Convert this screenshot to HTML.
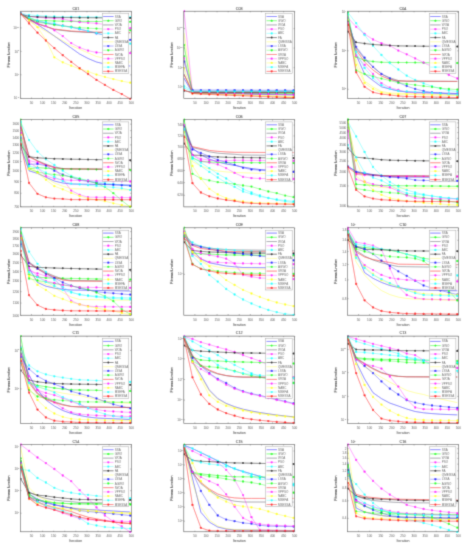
<!DOCTYPE html><html><head><meta charset="utf-8"><style>html,body{margin:0;padding:0;background:#fff;}svg{display:block;}text{font-family:"Liberation Sans",Arial,sans-serif;}</style></head><body>
<svg width="469" height="550" viewBox="0 0 469 550" font-family="Liberation Sans, Arial, sans-serif"><style>text{stroke:#333;stroke-width:0.05;}text.t{stroke:none;}text.f{stroke-width:0.12;}</style>
<defs><filter id="bl" filterUnits="userSpaceOnUse" x="0" y="0" width="469" height="550"><feConvolveMatrix order="3" kernelMatrix="0.0225 0.1050 0.0225 0.1050 0.4900 0.1050 0.0225 0.1050 0.0225" edgeMode="duplicate"/></filter></defs>
<g filter="url(#bl)">
<rect width="469" height="550" fill="#fff"/>
<g><clipPath id="cp0"><rect x="20.4" y="9.7" width="112.4" height="90.4"/></clipPath><text x="75.85" y="9.5" font-size="3.75" fill="#333" text-anchor="middle">C01</text><line x1="31.49" y1="98.6" x2="31.49" y2="97.5" stroke="#3a3a3a" stroke-width="0.4"/><line x1="31.49" y1="11.2" x2="31.49" y2="12.3" stroke="#3a3a3a" stroke-width="0.4"/><text x="31.49" y="103.9" font-size="3.1" fill="#555" class="t" text-anchor="middle">50</text><line x1="42.58" y1="98.6" x2="42.58" y2="97.5" stroke="#3a3a3a" stroke-width="0.4"/><line x1="42.58" y1="11.2" x2="42.58" y2="12.3" stroke="#3a3a3a" stroke-width="0.4"/><text x="42.58" y="103.9" font-size="3.1" fill="#555" class="t" text-anchor="middle">100</text><line x1="53.67" y1="98.6" x2="53.67" y2="97.5" stroke="#3a3a3a" stroke-width="0.4"/><line x1="53.67" y1="11.2" x2="53.67" y2="12.3" stroke="#3a3a3a" stroke-width="0.4"/><text x="53.67" y="103.9" font-size="3.1" fill="#555" class="t" text-anchor="middle">150</text><line x1="64.76" y1="98.6" x2="64.76" y2="97.5" stroke="#3a3a3a" stroke-width="0.4"/><line x1="64.76" y1="11.2" x2="64.76" y2="12.3" stroke="#3a3a3a" stroke-width="0.4"/><text x="64.76" y="103.9" font-size="3.1" fill="#555" class="t" text-anchor="middle">200</text><line x1="75.85" y1="98.6" x2="75.85" y2="97.5" stroke="#3a3a3a" stroke-width="0.4"/><line x1="75.85" y1="11.2" x2="75.85" y2="12.3" stroke="#3a3a3a" stroke-width="0.4"/><text x="75.85" y="103.9" font-size="3.1" fill="#555" class="t" text-anchor="middle">250</text><line x1="86.94" y1="98.6" x2="86.94" y2="97.5" stroke="#3a3a3a" stroke-width="0.4"/><line x1="86.94" y1="11.2" x2="86.94" y2="12.3" stroke="#3a3a3a" stroke-width="0.4"/><text x="86.94" y="103.9" font-size="3.1" fill="#555" class="t" text-anchor="middle">300</text><line x1="98.03" y1="98.6" x2="98.03" y2="97.5" stroke="#3a3a3a" stroke-width="0.4"/><line x1="98.03" y1="11.2" x2="98.03" y2="12.3" stroke="#3a3a3a" stroke-width="0.4"/><text x="98.03" y="103.9" font-size="3.1" fill="#555" class="t" text-anchor="middle">350</text><line x1="109.12" y1="98.6" x2="109.12" y2="97.5" stroke="#3a3a3a" stroke-width="0.4"/><line x1="109.12" y1="11.2" x2="109.12" y2="12.3" stroke="#3a3a3a" stroke-width="0.4"/><text x="109.12" y="103.9" font-size="3.1" fill="#555" class="t" text-anchor="middle">400</text><line x1="120.21" y1="98.6" x2="120.21" y2="97.5" stroke="#3a3a3a" stroke-width="0.4"/><line x1="120.21" y1="11.2" x2="120.21" y2="12.3" stroke="#3a3a3a" stroke-width="0.4"/><text x="120.21" y="103.9" font-size="3.1" fill="#555" class="t" text-anchor="middle">450</text><line x1="131.3" y1="98.6" x2="131.3" y2="97.5" stroke="#3a3a3a" stroke-width="0.4"/><line x1="131.3" y1="11.2" x2="131.3" y2="12.3" stroke="#3a3a3a" stroke-width="0.4"/><text x="131.3" y="103.9" font-size="3.1" fill="#555" class="t" text-anchor="middle">500</text><text x="75.85" y="108.9" font-size="3.6" fill="#333" class="t" text-anchor="middle">Iteration</text><text transform="translate(9.6 54.9) rotate(-90)" font-size="3.6" fill="#333" class="f" text-anchor="middle">Fitness function</text><line x1="20.4" y1="27.9" x2="21.5" y2="27.9" stroke="#3a3a3a" stroke-width="0.4"/><line x1="131.3" y1="27.9" x2="130.2" y2="27.9" stroke="#3a3a3a" stroke-width="0.4"/><text x="19.2" y="29" font-size="3.1" fill="#555" class="t" text-anchor="end">10<tspan dy="-1.3" font-size="2.2">10</tspan></text><line x1="20.4" y1="51.4" x2="21.5" y2="51.4" stroke="#3a3a3a" stroke-width="0.4"/><line x1="131.3" y1="51.4" x2="130.2" y2="51.4" stroke="#3a3a3a" stroke-width="0.4"/><text x="19.2" y="52.5" font-size="3.1" fill="#555" class="t" text-anchor="end">10<tspan dy="-1.3" font-size="2.2">5</tspan></text><line x1="20.4" y1="74.8" x2="21.5" y2="74.8" stroke="#3a3a3a" stroke-width="0.4"/><line x1="131.3" y1="74.8" x2="130.2" y2="74.8" stroke="#3a3a3a" stroke-width="0.4"/><text x="19.2" y="75.9" font-size="3.1" fill="#555" class="t" text-anchor="end">10<tspan dy="-1.3" font-size="2.2">0</tspan></text><line x1="20.4" y1="98.3" x2="21.5" y2="98.3" stroke="#3a3a3a" stroke-width="0.4"/><line x1="131.3" y1="98.3" x2="130.2" y2="98.3" stroke="#3a3a3a" stroke-width="0.4"/><text x="19.2" y="99.4" font-size="3.1" fill="#555" class="t" text-anchor="end">10<tspan dy="-1.3" font-size="2.2">-5</tspan></text><g clip-path="url(#cp0)" fill="none" stroke-linejoin="round"><polyline points="20.62,13.9 29.05,19.5 37.48,24.5 45.91,30 54.34,36 62.76,42 71.19,48 79.62,54 88.05,58.5 96.48,62 104.91,64 113.33,65 121.76,65.5 130.19,66" stroke="#0000ff" stroke-width="0.55" stroke-opacity="0.9"/><polyline points="20.62,14 29.05,18 37.48,20.5 45.91,20.7 54.34,20.95 62.76,21.2 71.19,21.26 79.62,21.32 88.05,21.39 96.48,21.45 104.91,21.51 113.33,21.57 121.76,21.64 130.19,21.7" stroke="#00ff00" stroke-width="0.55" stroke-opacity="0.9"/><path d="M19.07 14l1.55 -1.24l1.55 1.24l-1.55 1.24z" fill="#00ff00"/><path d="M27.5 18l1.55 -1.24l1.55 1.24l-1.55 1.24z" fill="#00ff00"/><path d="M35.93 20.5l1.55 -1.24l1.55 1.24l-1.55 1.24z" fill="#00ff00"/><path d="M44.35 20.7l1.55 -1.24l1.55 1.24l-1.55 1.24z" fill="#00ff00"/><path d="M52.78 20.95l1.55 -1.24l1.55 1.24l-1.55 1.24z" fill="#00ff00"/><path d="M61.21 21.2l1.55 -1.24l1.55 1.24l-1.55 1.24z" fill="#00ff00"/><path d="M69.64 21.26l1.55 -1.24l1.55 1.24l-1.55 1.24z" fill="#00ff00"/><path d="M78.07 21.32l1.55 -1.24l1.55 1.24l-1.55 1.24z" fill="#00ff00"/><path d="M86.5 21.39l1.55 -1.24l1.55 1.24l-1.55 1.24z" fill="#00ff00"/><path d="M94.92 21.45l1.55 -1.24l1.55 1.24l-1.55 1.24z" fill="#00ff00"/><path d="M103.35 21.51l1.55 -1.24l1.55 1.24l-1.55 1.24z" fill="#00ff00"/><path d="M111.78 21.57l1.55 -1.24l1.55 1.24l-1.55 1.24z" fill="#00ff00"/><path d="M120.21 21.64l1.55 -1.24l1.55 1.24l-1.55 1.24z" fill="#00ff00"/><path d="M128.64 21.7l1.55 -1.24l1.55 1.24l-1.55 1.24z" fill="#00ff00"/><polyline points="20.62,14 29.05,18.75 37.48,23.5 45.91,26.5 54.34,29.5 62.76,30.5 71.19,31.5 79.62,32 88.05,32.5 96.48,32.6 104.91,32.7 113.33,32.8 121.76,32.9 130.19,33" stroke="#505060" stroke-width="0.55" stroke-opacity="0.9"/><polyline points="20.62,13.5 29.05,16.5 37.48,17.25 45.91,18 54.34,18.5 62.76,19 71.19,20.6 79.62,22.2 88.05,22.8 96.48,23.4 104.91,24.45 113.33,25.5 121.76,26.95 130.19,28.4" stroke="#ff00ff" stroke-width="0.55" stroke-opacity="0.65"/><circle cx="20.62" cy="13.5" r="1.15" fill="#ff00ff"/><circle cx="29.05" cy="16.5" r="1.15" fill="#ff00ff"/><circle cx="37.48" cy="17.25" r="1.15" fill="#ff00ff"/><circle cx="45.91" cy="18" r="1.15" fill="#ff00ff"/><circle cx="54.34" cy="18.5" r="1.15" fill="#ff00ff"/><circle cx="62.76" cy="19" r="1.15" fill="#ff00ff"/><circle cx="71.19" cy="20.6" r="1.15" fill="#ff00ff"/><circle cx="79.62" cy="22.2" r="1.15" fill="#ff00ff"/><circle cx="88.05" cy="22.8" r="1.15" fill="#ff00ff"/><circle cx="96.48" cy="23.4" r="1.15" fill="#ff00ff"/><circle cx="104.91" cy="24.45" r="1.15" fill="#ff00ff"/><circle cx="113.33" cy="25.5" r="1.15" fill="#ff00ff"/><circle cx="121.76" cy="26.95" r="1.15" fill="#ff00ff"/><circle cx="130.19" cy="28.4" r="1.15" fill="#ff00ff"/><polyline points="20.62,13.3 29.05,14.8 37.48,15.6 45.91,16.2 54.34,16.5 62.76,16.8 71.19,16.86 79.62,16.93 88.05,16.99 96.48,17.05 104.91,17.11 113.33,17.18 121.76,17.24 130.19,17.3" stroke="#00ffff" stroke-width="0.55" stroke-opacity="0.65"/><circle cx="20.62" cy="13.3" r="1.15" fill="#00ffff"/><circle cx="29.05" cy="14.8" r="1.15" fill="#00ffff"/><circle cx="37.48" cy="15.6" r="1.15" fill="#00ffff"/><circle cx="45.91" cy="16.2" r="1.15" fill="#00ffff"/><circle cx="54.34" cy="16.5" r="1.15" fill="#00ffff"/><circle cx="62.76" cy="16.8" r="1.15" fill="#00ffff"/><circle cx="71.19" cy="16.86" r="1.15" fill="#00ffff"/><circle cx="79.62" cy="16.93" r="1.15" fill="#00ffff"/><circle cx="88.05" cy="16.99" r="1.15" fill="#00ffff"/><circle cx="96.48" cy="17.05" r="1.15" fill="#00ffff"/><circle cx="104.91" cy="17.11" r="1.15" fill="#00ffff"/><circle cx="113.33" cy="17.18" r="1.15" fill="#00ffff"/><circle cx="121.76" cy="17.24" r="1.15" fill="#00ffff"/><circle cx="130.19" cy="17.3" r="1.15" fill="#00ffff"/><polyline points="20.62,14.2 29.05,16.4 37.48,16.9 45.91,17.2 54.34,17.5 62.76,17.56 71.19,17.61 79.62,17.67 88.05,17.72 96.48,17.78 104.91,17.83 113.33,17.89 121.76,17.94 130.19,18" stroke="#000000" stroke-width="0.55" stroke-opacity="0.9"/><circle cx="20.62" cy="14.2" r="0.98" fill="#000000"/><circle cx="29.05" cy="16.4" r="0.98" fill="#000000"/><circle cx="37.48" cy="16.9" r="0.98" fill="#000000"/><circle cx="45.91" cy="17.2" r="0.98" fill="#000000"/><circle cx="54.34" cy="17.5" r="0.98" fill="#000000"/><circle cx="62.76" cy="17.56" r="0.98" fill="#000000"/><circle cx="71.19" cy="17.61" r="0.98" fill="#000000"/><circle cx="79.62" cy="17.67" r="0.98" fill="#000000"/><circle cx="88.05" cy="17.72" r="0.98" fill="#000000"/><circle cx="96.48" cy="17.78" r="0.98" fill="#000000"/><circle cx="104.91" cy="17.83" r="0.98" fill="#000000"/><circle cx="113.33" cy="17.89" r="0.98" fill="#000000"/><circle cx="121.76" cy="17.94" r="0.98" fill="#000000"/><circle cx="130.19" cy="18" r="0.98" fill="#000000"/><polyline points="20.62,14 29.05,20.1 37.48,26.5 45.91,31.25 54.34,36 62.76,40.8 71.19,45.6 79.62,49.23 88.05,52.87 96.48,56.5 104.91,58.25 113.33,60 121.76,61 130.19,62" stroke="#ffff00" stroke-width="0.55" stroke-opacity="0.65"/><polyline points="20.62,13.7 29.05,19.5 37.48,21.25 45.91,23 54.34,24.33 62.76,25.67 71.19,27 79.62,29.2 88.05,31.1 96.48,33.4 104.91,35.2 113.33,37 121.76,38.4 130.19,39.8" stroke="#0000ff" stroke-width="0.55" stroke-opacity="0.65"/><circle cx="20.62" cy="13.7" r="1.15" fill="#0000ff"/><circle cx="29.05" cy="19.5" r="1.15" fill="#0000ff"/><circle cx="37.48" cy="21.25" r="1.15" fill="#0000ff"/><circle cx="45.91" cy="23" r="1.15" fill="#0000ff"/><circle cx="54.34" cy="24.33" r="1.15" fill="#0000ff"/><circle cx="62.76" cy="25.67" r="1.15" fill="#0000ff"/><circle cx="71.19" cy="27" r="1.15" fill="#0000ff"/><circle cx="79.62" cy="29.2" r="1.15" fill="#0000ff"/><circle cx="88.05" cy="31.1" r="1.15" fill="#0000ff"/><circle cx="96.48" cy="33.4" r="1.15" fill="#0000ff"/><circle cx="104.91" cy="35.2" r="1.15" fill="#0000ff"/><circle cx="113.33" cy="37" r="1.15" fill="#0000ff"/><circle cx="121.76" cy="38.4" r="1.15" fill="#0000ff"/><circle cx="130.19" cy="39.8" r="1.15" fill="#0000ff"/><polyline points="20.62,14 29.05,19 37.48,22 45.91,23.5 54.34,25 62.76,26 71.19,27 79.62,27.7 88.05,28.15 96.48,28.6 104.91,29.03 113.33,29.45 121.76,29.88 130.19,30.3" stroke="#00ff00" stroke-width="0.55" stroke-opacity="0.65"/><circle cx="20.62" cy="14" r="1.15" fill="#00ff00"/><circle cx="29.05" cy="19" r="1.15" fill="#00ff00"/><circle cx="37.48" cy="22" r="1.15" fill="#00ff00"/><circle cx="45.91" cy="23.5" r="1.15" fill="#00ff00"/><circle cx="54.34" cy="25" r="1.15" fill="#00ff00"/><circle cx="62.76" cy="26" r="1.15" fill="#00ff00"/><circle cx="71.19" cy="27" r="1.15" fill="#00ff00"/><circle cx="79.62" cy="27.7" r="1.15" fill="#00ff00"/><circle cx="88.05" cy="28.15" r="1.15" fill="#00ff00"/><circle cx="96.48" cy="28.6" r="1.15" fill="#00ff00"/><circle cx="104.91" cy="29.03" r="1.15" fill="#00ff00"/><circle cx="113.33" cy="29.45" r="1.15" fill="#00ff00"/><circle cx="121.76" cy="29.88" r="1.15" fill="#00ff00"/><circle cx="130.19" cy="30.3" r="1.15" fill="#00ff00"/><polyline points="20.62,13.7 29.05,18.85 37.48,24 45.91,26.5 54.34,29 62.76,30 71.19,31 79.62,31.5 88.05,32 96.48,32.1 104.91,32.2 113.33,32.3 121.76,32.4 130.19,32.5" stroke="#ff0000" stroke-width="0.55" stroke-opacity="0.9"/><polyline points="20.62,14 29.05,20.7 37.48,23.3 45.91,26 54.34,30.3 62.76,36.1 71.19,43.1 79.62,47.6 88.05,50.6 96.48,52.5 104.91,52.75 113.33,53 121.76,53.1 130.19,53.2" stroke="#ff00ff" stroke-width="0.55" stroke-opacity="0.65"/><circle cx="20.62" cy="14" r="1.15" fill="#ff00ff"/><circle cx="29.05" cy="20.7" r="1.15" fill="#ff00ff"/><circle cx="37.48" cy="23.3" r="1.15" fill="#ff00ff"/><circle cx="45.91" cy="26" r="1.15" fill="#ff00ff"/><circle cx="54.34" cy="30.3" r="1.15" fill="#ff00ff"/><circle cx="62.76" cy="36.1" r="1.15" fill="#ff00ff"/><circle cx="71.19" cy="43.1" r="1.15" fill="#ff00ff"/><circle cx="79.62" cy="47.6" r="1.15" fill="#ff00ff"/><circle cx="88.05" cy="50.6" r="1.15" fill="#ff00ff"/><circle cx="96.48" cy="52.5" r="1.15" fill="#ff00ff"/><circle cx="104.91" cy="52.75" r="1.15" fill="#ff00ff"/><circle cx="113.33" cy="53" r="1.15" fill="#ff00ff"/><circle cx="121.76" cy="53.1" r="1.15" fill="#ff00ff"/><circle cx="130.19" cy="53.2" r="1.15" fill="#ff00ff"/><polyline points="20.62,13.9 29.05,20.5 37.48,27.2 45.91,39.8 54.34,57.3 62.76,62.3 71.19,65.7 79.62,69 88.05,71.5 96.48,74.6 104.91,76.9 113.33,79.1 121.76,81.1 130.19,82.7" stroke="#ffff00" stroke-width="0.55" stroke-opacity="0.65"/><circle cx="20.62" cy="13.9" r="1.15" fill="#ffff00"/><circle cx="29.05" cy="20.5" r="1.15" fill="#ffff00"/><circle cx="37.48" cy="27.2" r="1.15" fill="#ffff00"/><circle cx="45.91" cy="39.8" r="1.15" fill="#ffff00"/><circle cx="54.34" cy="57.3" r="1.15" fill="#ffff00"/><circle cx="62.76" cy="62.3" r="1.15" fill="#ffff00"/><circle cx="71.19" cy="65.7" r="1.15" fill="#ffff00"/><circle cx="79.62" cy="69" r="1.15" fill="#ffff00"/><circle cx="88.05" cy="71.5" r="1.15" fill="#ffff00"/><circle cx="96.48" cy="74.6" r="1.15" fill="#ffff00"/><circle cx="104.91" cy="76.9" r="1.15" fill="#ffff00"/><circle cx="113.33" cy="79.1" r="1.15" fill="#ffff00"/><circle cx="121.76" cy="81.1" r="1.15" fill="#ffff00"/><circle cx="130.19" cy="82.7" r="1.15" fill="#ffff00"/><polyline points="20.62,13.7 29.05,17.5 37.48,20.5 45.91,22.3 54.34,23.3 62.76,26 71.19,27.5 79.62,29 88.05,31 96.48,33 104.91,35.5 113.33,38 121.76,40.85 130.19,43.7" stroke="#00ffff" stroke-width="0.55" stroke-opacity="0.65"/><circle cx="20.62" cy="13.7" r="1.15" fill="#00ffff"/><circle cx="29.05" cy="17.5" r="1.15" fill="#00ffff"/><circle cx="37.48" cy="20.5" r="1.15" fill="#00ffff"/><circle cx="45.91" cy="22.3" r="1.15" fill="#00ffff"/><circle cx="54.34" cy="23.3" r="1.15" fill="#00ffff"/><circle cx="62.76" cy="26" r="1.15" fill="#00ffff"/><circle cx="71.19" cy="27.5" r="1.15" fill="#00ffff"/><circle cx="79.62" cy="29" r="1.15" fill="#00ffff"/><circle cx="88.05" cy="31" r="1.15" fill="#00ffff"/><circle cx="96.48" cy="33" r="1.15" fill="#00ffff"/><circle cx="104.91" cy="35.5" r="1.15" fill="#00ffff"/><circle cx="113.33" cy="38" r="1.15" fill="#00ffff"/><circle cx="121.76" cy="40.85" r="1.15" fill="#00ffff"/><circle cx="130.19" cy="43.7" r="1.15" fill="#00ffff"/><polyline points="20.62,13.9 29.05,23.4 37.48,32.7 45.91,40.6 54.34,48.1 62.76,55.2 71.19,61.8 79.62,68.2 88.05,74 96.48,79.9 104.91,84.9 113.33,89.9 121.76,94.1 130.19,98.8" stroke="#ff0000" stroke-width="0.55" stroke-opacity="0.9"/><circle cx="20.62" cy="13.9" r="1.15" fill="#ff0000"/><circle cx="29.05" cy="23.4" r="1.15" fill="#ff0000"/><circle cx="37.48" cy="32.7" r="1.15" fill="#ff0000"/><circle cx="45.91" cy="40.6" r="1.15" fill="#ff0000"/><circle cx="54.34" cy="48.1" r="1.15" fill="#ff0000"/><circle cx="62.76" cy="55.2" r="1.15" fill="#ff0000"/><circle cx="71.19" cy="61.8" r="1.15" fill="#ff0000"/><circle cx="79.62" cy="68.2" r="1.15" fill="#ff0000"/><circle cx="88.05" cy="74" r="1.15" fill="#ff0000"/><circle cx="96.48" cy="79.9" r="1.15" fill="#ff0000"/><circle cx="104.91" cy="84.9" r="1.15" fill="#ff0000"/><circle cx="113.33" cy="89.9" r="1.15" fill="#ff0000"/><circle cx="121.76" cy="94.1" r="1.15" fill="#ff0000"/><circle cx="130.19" cy="98.8" r="1.15" fill="#ff0000"/></g><rect x="20.4" y="11.2" width="110.9" height="87.4" fill="none" stroke="#3a3a3a" stroke-width="0.55"/><rect x="102.3" y="13.6" width="26.5" height="59.8" fill="#fff" stroke="#999" stroke-width="0.45"/><line x1="103.1" y1="16.5" x2="113.6" y2="16.5" stroke="#0000ff" stroke-width="0.5"/><text x="114.7" y="17.55" font-size="3.0" fill="#666666" class="t">SSA</text><line x1="103.1" y1="20.72" x2="113.6" y2="20.72" stroke="#00ff00" stroke-width="0.5"/><path d="M106.75 20.72l1.55 -1.24l1.55 1.24l-1.55 1.24z" fill="#00ff00"/><text x="114.7" y="21.77" font-size="3.0" fill="#666666" class="t">GWO</text><line x1="103.1" y1="24.94" x2="113.6" y2="24.94" stroke="#505060" stroke-width="0.5"/><text x="114.7" y="25.99" font-size="3.0" fill="#666666" class="t">WOA</text><line x1="103.1" y1="29.16" x2="113.6" y2="29.16" stroke="#ff00ff" stroke-width="0.5" stroke-opacity="0.6"/><circle cx="108.3" cy="29.16" r="1.15" fill="#ff00ff"/><text x="114.7" y="30.21" font-size="3.0" fill="#666666" class="t">PSO</text><line x1="103.1" y1="33.38" x2="113.6" y2="33.38" stroke="#00ffff" stroke-width="0.5" stroke-opacity="0.6"/><circle cx="108.3" cy="33.38" r="1.15" fill="#00ffff"/><text x="114.7" y="34.43" font-size="3.0" fill="#666666" class="t">ABC</text><line x1="103.1" y1="37.6" x2="113.6" y2="37.6" stroke="#000000" stroke-width="0.5"/><circle cx="108.3" cy="37.6" r="0.98" fill="#000000"/><text x="114.7" y="38.65" font-size="3.0" fill="#666666" class="t">FA</text><line x1="103.1" y1="41.82" x2="113.6" y2="41.82" stroke="#ffff00" stroke-width="0.5" stroke-opacity="0.6"/><text x="114.7" y="42.87" font-size="3.0" fill="#666666" class="t">QMEISSA</text><line x1="103.1" y1="46.04" x2="113.6" y2="46.04" stroke="#0000ff" stroke-width="0.5" stroke-opacity="0.6"/><circle cx="108.3" cy="46.04" r="1.15" fill="#0000ff"/><text x="114.7" y="47.09" font-size="3.0" fill="#666666" class="t">LSSA</text><line x1="103.1" y1="50.26" x2="113.6" y2="50.26" stroke="#00ff00" stroke-width="0.5" stroke-opacity="0.6"/><circle cx="108.3" cy="50.26" r="1.15" fill="#00ff00"/><text x="114.7" y="51.31" font-size="3.0" fill="#666666" class="t">AGWO</text><line x1="103.1" y1="54.48" x2="113.6" y2="54.48" stroke="#ff0000" stroke-width="0.5"/><text x="114.7" y="55.53" font-size="3.0" fill="#666666" class="t">IWOA</text><line x1="103.1" y1="58.7" x2="113.6" y2="58.7" stroke="#ff00ff" stroke-width="0.5" stroke-opacity="0.6"/><circle cx="108.3" cy="58.7" r="1.15" fill="#ff00ff"/><text x="114.7" y="59.75" font-size="3.0" fill="#666666" class="t">VPPSO</text><line x1="103.1" y1="62.92" x2="113.6" y2="62.92" stroke="#ffff00" stroke-width="0.5" stroke-opacity="0.6"/><circle cx="108.3" cy="62.92" r="1.15" fill="#ffff00"/><text x="114.7" y="63.97" font-size="3.0" fill="#666666" class="t">NABC</text><line x1="103.1" y1="67.14" x2="113.6" y2="67.14" stroke="#00ffff" stroke-width="0.5" stroke-opacity="0.6"/><circle cx="108.3" cy="67.14" r="1.15" fill="#00ffff"/><text x="114.7" y="68.19" font-size="3.0" fill="#666666" class="t">MSEFA</text><line x1="103.1" y1="71.36" x2="113.6" y2="71.36" stroke="#ff0000" stroke-width="0.5"/><circle cx="108.3" cy="71.36" r="1.15" fill="#ff0000"/><text x="114.7" y="72.41" font-size="3.0" fill="#666666" class="t">MSESSA</text></g>
<g><clipPath id="cp1"><rect x="183.8" y="9.7" width="112.4" height="90.4"/></clipPath><text x="239.25" y="9.5" font-size="3.75" fill="#333" text-anchor="middle">C03</text><line x1="194.89" y1="98.6" x2="194.89" y2="97.5" stroke="#3a3a3a" stroke-width="0.4"/><line x1="194.89" y1="11.2" x2="194.89" y2="12.3" stroke="#3a3a3a" stroke-width="0.4"/><text x="194.89" y="103.9" font-size="3.1" fill="#555" class="t" text-anchor="middle">50</text><line x1="205.98" y1="98.6" x2="205.98" y2="97.5" stroke="#3a3a3a" stroke-width="0.4"/><line x1="205.98" y1="11.2" x2="205.98" y2="12.3" stroke="#3a3a3a" stroke-width="0.4"/><text x="205.98" y="103.9" font-size="3.1" fill="#555" class="t" text-anchor="middle">100</text><line x1="217.07" y1="98.6" x2="217.07" y2="97.5" stroke="#3a3a3a" stroke-width="0.4"/><line x1="217.07" y1="11.2" x2="217.07" y2="12.3" stroke="#3a3a3a" stroke-width="0.4"/><text x="217.07" y="103.9" font-size="3.1" fill="#555" class="t" text-anchor="middle">150</text><line x1="228.16" y1="98.6" x2="228.16" y2="97.5" stroke="#3a3a3a" stroke-width="0.4"/><line x1="228.16" y1="11.2" x2="228.16" y2="12.3" stroke="#3a3a3a" stroke-width="0.4"/><text x="228.16" y="103.9" font-size="3.1" fill="#555" class="t" text-anchor="middle">200</text><line x1="239.25" y1="98.6" x2="239.25" y2="97.5" stroke="#3a3a3a" stroke-width="0.4"/><line x1="239.25" y1="11.2" x2="239.25" y2="12.3" stroke="#3a3a3a" stroke-width="0.4"/><text x="239.25" y="103.9" font-size="3.1" fill="#555" class="t" text-anchor="middle">250</text><line x1="250.34" y1="98.6" x2="250.34" y2="97.5" stroke="#3a3a3a" stroke-width="0.4"/><line x1="250.34" y1="11.2" x2="250.34" y2="12.3" stroke="#3a3a3a" stroke-width="0.4"/><text x="250.34" y="103.9" font-size="3.1" fill="#555" class="t" text-anchor="middle">300</text><line x1="261.43" y1="98.6" x2="261.43" y2="97.5" stroke="#3a3a3a" stroke-width="0.4"/><line x1="261.43" y1="11.2" x2="261.43" y2="12.3" stroke="#3a3a3a" stroke-width="0.4"/><text x="261.43" y="103.9" font-size="3.1" fill="#555" class="t" text-anchor="middle">350</text><line x1="272.52" y1="98.6" x2="272.52" y2="97.5" stroke="#3a3a3a" stroke-width="0.4"/><line x1="272.52" y1="11.2" x2="272.52" y2="12.3" stroke="#3a3a3a" stroke-width="0.4"/><text x="272.52" y="103.9" font-size="3.1" fill="#555" class="t" text-anchor="middle">400</text><line x1="283.61" y1="98.6" x2="283.61" y2="97.5" stroke="#3a3a3a" stroke-width="0.4"/><line x1="283.61" y1="11.2" x2="283.61" y2="12.3" stroke="#3a3a3a" stroke-width="0.4"/><text x="283.61" y="103.9" font-size="3.1" fill="#555" class="t" text-anchor="middle">450</text><line x1="294.7" y1="98.6" x2="294.7" y2="97.5" stroke="#3a3a3a" stroke-width="0.4"/><line x1="294.7" y1="11.2" x2="294.7" y2="12.3" stroke="#3a3a3a" stroke-width="0.4"/><text x="294.7" y="103.9" font-size="3.1" fill="#555" class="t" text-anchor="middle">500</text><text x="239.25" y="108.9" font-size="3.6" fill="#333" class="t" text-anchor="middle">Iteration</text><text transform="translate(173 54.9) rotate(-90)" font-size="3.6" fill="#333" class="f" text-anchor="middle">Fitness function</text><line x1="183.8" y1="28.6" x2="184.9" y2="28.6" stroke="#3a3a3a" stroke-width="0.4"/><line x1="294.7" y1="28.6" x2="293.6" y2="28.6" stroke="#3a3a3a" stroke-width="0.4"/><text x="182.6" y="29.7" font-size="3.1" fill="#555" class="t" text-anchor="end">10<tspan dy="-1.3" font-size="2.2">15</tspan></text><line x1="183.8" y1="48.1" x2="184.9" y2="48.1" stroke="#3a3a3a" stroke-width="0.4"/><line x1="294.7" y1="48.1" x2="293.6" y2="48.1" stroke="#3a3a3a" stroke-width="0.4"/><text x="182.6" y="49.2" font-size="3.1" fill="#555" class="t" text-anchor="end">10<tspan dy="-1.3" font-size="2.2">10</tspan></text><line x1="183.8" y1="67.7" x2="184.9" y2="67.7" stroke="#3a3a3a" stroke-width="0.4"/><line x1="294.7" y1="67.7" x2="293.6" y2="67.7" stroke="#3a3a3a" stroke-width="0.4"/><text x="182.6" y="68.8" font-size="3.1" fill="#555" class="t" text-anchor="end">10<tspan dy="-1.3" font-size="2.2">5</tspan></text><line x1="183.8" y1="86.8" x2="184.9" y2="86.8" stroke="#3a3a3a" stroke-width="0.4"/><line x1="294.7" y1="86.8" x2="293.6" y2="86.8" stroke="#3a3a3a" stroke-width="0.4"/><text x="182.6" y="87.9" font-size="3.1" fill="#555" class="t" text-anchor="end">10<tspan dy="-1.3" font-size="2.2">0</tspan></text><g clip-path="url(#cp1)" fill="none" stroke-linejoin="round"><polyline points="184.02,78.2 192.45,93 200.88,93.17 209.31,93.33 217.74,93.5 226.16,93.67 234.59,93.83 243.02,94 251.45,94.17 259.88,94.33 268.31,94.5 276.73,94.67 285.16,94.83 293.59,95" stroke="#0000ff" stroke-width="0.55" stroke-opacity="0.9"/><polyline points="184.02,45.1 192.45,92.5 200.88,92.58 209.31,92.67 217.74,92.75 226.16,92.83 234.59,92.92 243.02,93 251.45,93.08 259.88,93.17 268.31,93.25 276.73,93.33 285.16,93.42 293.59,93.5" stroke="#00ff00" stroke-width="0.55" stroke-opacity="0.9"/><path d="M182.47 45.1l1.55 -1.24l1.55 1.24l-1.55 1.24z" fill="#00ff00"/><path d="M190.9 92.5l1.55 -1.24l1.55 1.24l-1.55 1.24z" fill="#00ff00"/><path d="M199.33 92.58l1.55 -1.24l1.55 1.24l-1.55 1.24z" fill="#00ff00"/><path d="M207.75 92.67l1.55 -1.24l1.55 1.24l-1.55 1.24z" fill="#00ff00"/><path d="M216.18 92.75l1.55 -1.24l1.55 1.24l-1.55 1.24z" fill="#00ff00"/><path d="M224.61 92.83l1.55 -1.24l1.55 1.24l-1.55 1.24z" fill="#00ff00"/><path d="M233.04 92.92l1.55 -1.24l1.55 1.24l-1.55 1.24z" fill="#00ff00"/><path d="M241.47 93l1.55 -1.24l1.55 1.24l-1.55 1.24z" fill="#00ff00"/><path d="M249.9 93.08l1.55 -1.24l1.55 1.24l-1.55 1.24z" fill="#00ff00"/><path d="M258.32 93.17l1.55 -1.24l1.55 1.24l-1.55 1.24z" fill="#00ff00"/><path d="M266.75 93.25l1.55 -1.24l1.55 1.24l-1.55 1.24z" fill="#00ff00"/><path d="M275.18 93.33l1.55 -1.24l1.55 1.24l-1.55 1.24z" fill="#00ff00"/><path d="M283.61 93.42l1.55 -1.24l1.55 1.24l-1.55 1.24z" fill="#00ff00"/><path d="M292.04 93.5l1.55 -1.24l1.55 1.24l-1.55 1.24z" fill="#00ff00"/><polyline points="184.02,74 192.45,92.5 200.88,92.46 209.31,92.42 217.74,92.38 226.16,92.33 234.59,92.29 243.02,92.25 251.45,92.21 259.88,92.17 268.31,92.12 276.73,92.08 285.16,92.04 293.59,92" stroke="#505060" stroke-width="0.55" stroke-opacity="0.9"/><polyline points="184.02,11 192.45,92.5 200.88,92.67 209.31,92.83 217.74,93 226.16,93.17 234.59,93.33 243.02,93.5 251.45,93.67 259.88,93.83 268.31,94 276.73,94.17 285.16,94.33 293.59,94.5" stroke="#ff00ff" stroke-width="0.55" stroke-opacity="0.65"/><circle cx="184.02" cy="11" r="1.15" fill="#ff00ff"/><circle cx="192.45" cy="92.5" r="1.15" fill="#ff00ff"/><circle cx="200.88" cy="92.67" r="1.15" fill="#ff00ff"/><circle cx="209.31" cy="92.83" r="1.15" fill="#ff00ff"/><circle cx="217.74" cy="93" r="1.15" fill="#ff00ff"/><circle cx="226.16" cy="93.17" r="1.15" fill="#ff00ff"/><circle cx="234.59" cy="93.33" r="1.15" fill="#ff00ff"/><circle cx="243.02" cy="93.5" r="1.15" fill="#ff00ff"/><circle cx="251.45" cy="93.67" r="1.15" fill="#ff00ff"/><circle cx="259.88" cy="93.83" r="1.15" fill="#ff00ff"/><circle cx="268.31" cy="94" r="1.15" fill="#ff00ff"/><circle cx="276.73" cy="94.17" r="1.15" fill="#ff00ff"/><circle cx="285.16" cy="94.33" r="1.15" fill="#ff00ff"/><circle cx="293.59" cy="94.5" r="1.15" fill="#ff00ff"/><polyline points="184.02,85.8 192.45,91 200.88,91 209.31,91 217.74,91 226.16,91 234.59,91 243.02,91 251.45,91 259.88,91 268.31,91 276.73,91 285.16,91 293.59,91" stroke="#00ffff" stroke-width="0.55" stroke-opacity="0.65"/><circle cx="184.02" cy="85.8" r="1.15" fill="#00ffff"/><circle cx="192.45" cy="91" r="1.15" fill="#00ffff"/><circle cx="200.88" cy="91" r="1.15" fill="#00ffff"/><circle cx="209.31" cy="91" r="1.15" fill="#00ffff"/><circle cx="217.74" cy="91" r="1.15" fill="#00ffff"/><circle cx="226.16" cy="91" r="1.15" fill="#00ffff"/><circle cx="234.59" cy="91" r="1.15" fill="#00ffff"/><circle cx="243.02" cy="91" r="1.15" fill="#00ffff"/><circle cx="251.45" cy="91" r="1.15" fill="#00ffff"/><circle cx="259.88" cy="91" r="1.15" fill="#00ffff"/><circle cx="268.31" cy="91" r="1.15" fill="#00ffff"/><circle cx="276.73" cy="91" r="1.15" fill="#00ffff"/><circle cx="285.16" cy="91" r="1.15" fill="#00ffff"/><circle cx="293.59" cy="91" r="1.15" fill="#00ffff"/><polyline points="184.02,90.8 192.45,92 200.88,92.04 209.31,92.08 217.74,92.12 226.16,92.17 234.59,92.21 243.02,92.25 251.45,92.29 259.88,92.33 268.31,92.38 276.73,92.42 285.16,92.46 293.59,92.5" stroke="#000000" stroke-width="0.55" stroke-opacity="0.9"/><circle cx="184.02" cy="90.8" r="0.98" fill="#000000"/><circle cx="192.45" cy="92" r="0.98" fill="#000000"/><circle cx="200.88" cy="92.04" r="0.98" fill="#000000"/><circle cx="209.31" cy="92.08" r="0.98" fill="#000000"/><circle cx="217.74" cy="92.12" r="0.98" fill="#000000"/><circle cx="226.16" cy="92.17" r="0.98" fill="#000000"/><circle cx="234.59" cy="92.21" r="0.98" fill="#000000"/><circle cx="243.02" cy="92.25" r="0.98" fill="#000000"/><circle cx="251.45" cy="92.29" r="0.98" fill="#000000"/><circle cx="259.88" cy="92.33" r="0.98" fill="#000000"/><circle cx="268.31" cy="92.38" r="0.98" fill="#000000"/><circle cx="276.73" cy="92.42" r="0.98" fill="#000000"/><circle cx="285.16" cy="92.46" r="0.98" fill="#000000"/><circle cx="293.59" cy="92.5" r="0.98" fill="#000000"/><polyline points="184.02,33.1 192.45,93 200.88,93.29 209.31,93.58 217.74,93.88 226.16,94.17 234.59,94.46 243.02,94.75 251.45,95.04 259.88,95.33 268.31,95.62 276.73,95.92 285.16,96.21 293.59,96.5" stroke="#ffff00" stroke-width="0.55" stroke-opacity="0.65"/><polyline points="184.02,61.5 192.45,90 200.88,90.03 209.31,90.05 217.74,90.08 226.16,90.1 234.59,90.12 243.02,90.15 251.45,90.17 259.88,90.2 268.31,90.22 276.73,90.25 285.16,90.27 293.59,90.3" stroke="#0000ff" stroke-width="0.55" stroke-opacity="0.65"/><circle cx="184.02" cy="61.5" r="1.15" fill="#0000ff"/><circle cx="192.45" cy="90" r="1.15" fill="#0000ff"/><circle cx="200.88" cy="90.03" r="1.15" fill="#0000ff"/><circle cx="209.31" cy="90.05" r="1.15" fill="#0000ff"/><circle cx="217.74" cy="90.08" r="1.15" fill="#0000ff"/><circle cx="226.16" cy="90.1" r="1.15" fill="#0000ff"/><circle cx="234.59" cy="90.12" r="1.15" fill="#0000ff"/><circle cx="243.02" cy="90.15" r="1.15" fill="#0000ff"/><circle cx="251.45" cy="90.17" r="1.15" fill="#0000ff"/><circle cx="259.88" cy="90.2" r="1.15" fill="#0000ff"/><circle cx="268.31" cy="90.22" r="1.15" fill="#0000ff"/><circle cx="276.73" cy="90.25" r="1.15" fill="#0000ff"/><circle cx="285.16" cy="90.27" r="1.15" fill="#0000ff"/><circle cx="293.59" cy="90.3" r="1.15" fill="#0000ff"/><polyline points="184.02,56.5 192.45,93 200.88,93.08 209.31,93.17 217.74,93.25 226.16,93.33 234.59,93.42 243.02,93.5 251.45,93.58 259.88,93.67 268.31,93.75 276.73,93.83 285.16,93.92 293.59,94" stroke="#00ff00" stroke-width="0.55" stroke-opacity="0.65"/><circle cx="184.02" cy="56.5" r="1.15" fill="#00ff00"/><circle cx="192.45" cy="93" r="1.15" fill="#00ff00"/><circle cx="200.88" cy="93.08" r="1.15" fill="#00ff00"/><circle cx="209.31" cy="93.17" r="1.15" fill="#00ff00"/><circle cx="217.74" cy="93.25" r="1.15" fill="#00ff00"/><circle cx="226.16" cy="93.33" r="1.15" fill="#00ff00"/><circle cx="234.59" cy="93.42" r="1.15" fill="#00ff00"/><circle cx="243.02" cy="93.5" r="1.15" fill="#00ff00"/><circle cx="251.45" cy="93.58" r="1.15" fill="#00ff00"/><circle cx="259.88" cy="93.67" r="1.15" fill="#00ff00"/><circle cx="268.31" cy="93.75" r="1.15" fill="#00ff00"/><circle cx="276.73" cy="93.83" r="1.15" fill="#00ff00"/><circle cx="285.16" cy="93.92" r="1.15" fill="#00ff00"/><circle cx="293.59" cy="94" r="1.15" fill="#00ff00"/><polyline points="184.02,74.5 192.45,92 200.88,92 209.31,92 217.74,92 226.16,92 234.59,92 243.02,92 251.45,92 259.88,92 268.31,92 276.73,92 285.16,92 293.59,92" stroke="#ff0000" stroke-width="0.55" stroke-opacity="0.9"/><polyline points="184.02,58.2 192.45,93 200.88,93.12 209.31,93.25 217.74,93.38 226.16,93.5 234.59,93.62 243.02,93.75 251.45,93.88 259.88,94 268.31,94.12 276.73,94.25 285.16,94.38 293.59,94.5" stroke="#ff00ff" stroke-width="0.55" stroke-opacity="0.65"/><circle cx="184.02" cy="58.2" r="1.15" fill="#ff00ff"/><circle cx="192.45" cy="93" r="1.15" fill="#ff00ff"/><circle cx="200.88" cy="93.12" r="1.15" fill="#ff00ff"/><circle cx="209.31" cy="93.25" r="1.15" fill="#ff00ff"/><circle cx="217.74" cy="93.38" r="1.15" fill="#ff00ff"/><circle cx="226.16" cy="93.5" r="1.15" fill="#ff00ff"/><circle cx="234.59" cy="93.62" r="1.15" fill="#ff00ff"/><circle cx="243.02" cy="93.75" r="1.15" fill="#ff00ff"/><circle cx="251.45" cy="93.88" r="1.15" fill="#ff00ff"/><circle cx="259.88" cy="94" r="1.15" fill="#ff00ff"/><circle cx="268.31" cy="94.12" r="1.15" fill="#ff00ff"/><circle cx="276.73" cy="94.25" r="1.15" fill="#ff00ff"/><circle cx="285.16" cy="94.38" r="1.15" fill="#ff00ff"/><circle cx="293.59" cy="94.5" r="1.15" fill="#ff00ff"/><polyline points="184.02,68.2 192.45,93.5 200.88,93.79 209.31,94.08 217.74,94.38 226.16,94.67 234.59,94.96 243.02,95.25 251.45,95.54 259.88,95.83 268.31,96.12 276.73,96.42 285.16,96.71 293.59,97" stroke="#ffff00" stroke-width="0.55" stroke-opacity="0.65"/><circle cx="184.02" cy="68.2" r="1.15" fill="#ffff00"/><circle cx="192.45" cy="93.5" r="1.15" fill="#ffff00"/><circle cx="200.88" cy="93.79" r="1.15" fill="#ffff00"/><circle cx="209.31" cy="94.08" r="1.15" fill="#ffff00"/><circle cx="217.74" cy="94.38" r="1.15" fill="#ffff00"/><circle cx="226.16" cy="94.67" r="1.15" fill="#ffff00"/><circle cx="234.59" cy="94.96" r="1.15" fill="#ffff00"/><circle cx="243.02" cy="95.25" r="1.15" fill="#ffff00"/><circle cx="251.45" cy="95.54" r="1.15" fill="#ffff00"/><circle cx="259.88" cy="95.83" r="1.15" fill="#ffff00"/><circle cx="268.31" cy="96.12" r="1.15" fill="#ffff00"/><circle cx="276.73" cy="96.42" r="1.15" fill="#ffff00"/><circle cx="285.16" cy="96.71" r="1.15" fill="#ffff00"/><circle cx="293.59" cy="97" r="1.15" fill="#ffff00"/><polyline points="184.02,88 192.45,91.5 200.88,91.5 209.31,91.5 217.74,91.5 226.16,91.5 234.59,91.5 243.02,91.5 251.45,91.5 259.88,91.5 268.31,91.5 276.73,91.5 285.16,91.5 293.59,91.5" stroke="#00ffff" stroke-width="0.55" stroke-opacity="0.65"/><circle cx="184.02" cy="88" r="1.15" fill="#00ffff"/><circle cx="192.45" cy="91.5" r="1.15" fill="#00ffff"/><circle cx="200.88" cy="91.5" r="1.15" fill="#00ffff"/><circle cx="209.31" cy="91.5" r="1.15" fill="#00ffff"/><circle cx="217.74" cy="91.5" r="1.15" fill="#00ffff"/><circle cx="226.16" cy="91.5" r="1.15" fill="#00ffff"/><circle cx="234.59" cy="91.5" r="1.15" fill="#00ffff"/><circle cx="243.02" cy="91.5" r="1.15" fill="#00ffff"/><circle cx="251.45" cy="91.5" r="1.15" fill="#00ffff"/><circle cx="259.88" cy="91.5" r="1.15" fill="#00ffff"/><circle cx="268.31" cy="91.5" r="1.15" fill="#00ffff"/><circle cx="276.73" cy="91.5" r="1.15" fill="#00ffff"/><circle cx="285.16" cy="91.5" r="1.15" fill="#00ffff"/><circle cx="293.59" cy="91.5" r="1.15" fill="#00ffff"/><polyline points="184.02,90 192.45,93.5 200.88,94.1 209.31,94.45 217.74,94.8 226.16,95.15 234.59,95.5 243.02,95.81 251.45,96.13 259.88,96.44 268.31,96.76 276.73,97.07 285.16,97.39 293.59,97.7" stroke="#ff0000" stroke-width="0.55" stroke-opacity="0.9"/><circle cx="184.02" cy="90" r="1.15" fill="#ff0000"/><circle cx="192.45" cy="93.5" r="1.15" fill="#ff0000"/><circle cx="200.88" cy="94.1" r="1.15" fill="#ff0000"/><circle cx="209.31" cy="94.45" r="1.15" fill="#ff0000"/><circle cx="217.74" cy="94.8" r="1.15" fill="#ff0000"/><circle cx="226.16" cy="95.15" r="1.15" fill="#ff0000"/><circle cx="234.59" cy="95.5" r="1.15" fill="#ff0000"/><circle cx="243.02" cy="95.81" r="1.15" fill="#ff0000"/><circle cx="251.45" cy="96.13" r="1.15" fill="#ff0000"/><circle cx="259.88" cy="96.44" r="1.15" fill="#ff0000"/><circle cx="268.31" cy="96.76" r="1.15" fill="#ff0000"/><circle cx="276.73" cy="97.07" r="1.15" fill="#ff0000"/><circle cx="285.16" cy="97.39" r="1.15" fill="#ff0000"/><circle cx="293.59" cy="97.7" r="1.15" fill="#ff0000"/></g><rect x="183.8" y="11.2" width="110.9" height="87.4" fill="none" stroke="#3a3a3a" stroke-width="0.55"/><rect x="265.7" y="13.6" width="26.5" height="59.8" fill="#fff" stroke="#999" stroke-width="0.45"/><line x1="266.5" y1="16.5" x2="277" y2="16.5" stroke="#0000ff" stroke-width="0.5"/><text x="278.1" y="17.55" font-size="3.0" fill="#666666" class="t">SSA</text><line x1="266.5" y1="20.72" x2="277" y2="20.72" stroke="#00ff00" stroke-width="0.5"/><path d="M270.15 20.72l1.55 -1.24l1.55 1.24l-1.55 1.24z" fill="#00ff00"/><text x="278.1" y="21.77" font-size="3.0" fill="#666666" class="t">GWO</text><line x1="266.5" y1="24.94" x2="277" y2="24.94" stroke="#505060" stroke-width="0.5"/><text x="278.1" y="25.99" font-size="3.0" fill="#666666" class="t">WOA</text><line x1="266.5" y1="29.16" x2="277" y2="29.16" stroke="#ff00ff" stroke-width="0.5" stroke-opacity="0.6"/><circle cx="271.7" cy="29.16" r="1.15" fill="#ff00ff"/><text x="278.1" y="30.21" font-size="3.0" fill="#666666" class="t">PSO</text><line x1="266.5" y1="33.38" x2="277" y2="33.38" stroke="#00ffff" stroke-width="0.5" stroke-opacity="0.6"/><circle cx="271.7" cy="33.38" r="1.15" fill="#00ffff"/><text x="278.1" y="34.43" font-size="3.0" fill="#666666" class="t">ABC</text><line x1="266.5" y1="37.6" x2="277" y2="37.6" stroke="#000000" stroke-width="0.5"/><circle cx="271.7" cy="37.6" r="0.98" fill="#000000"/><text x="278.1" y="38.65" font-size="3.0" fill="#666666" class="t">FA</text><line x1="266.5" y1="41.82" x2="277" y2="41.82" stroke="#ffff00" stroke-width="0.5" stroke-opacity="0.6"/><text x="278.1" y="42.87" font-size="3.0" fill="#666666" class="t">QMEISSA</text><line x1="266.5" y1="46.04" x2="277" y2="46.04" stroke="#0000ff" stroke-width="0.5" stroke-opacity="0.6"/><circle cx="271.7" cy="46.04" r="1.15" fill="#0000ff"/><text x="278.1" y="47.09" font-size="3.0" fill="#666666" class="t">LSSA</text><line x1="266.5" y1="50.26" x2="277" y2="50.26" stroke="#00ff00" stroke-width="0.5" stroke-opacity="0.6"/><circle cx="271.7" cy="50.26" r="1.15" fill="#00ff00"/><text x="278.1" y="51.31" font-size="3.0" fill="#666666" class="t">AGWO</text><line x1="266.5" y1="54.48" x2="277" y2="54.48" stroke="#ff0000" stroke-width="0.5"/><text x="278.1" y="55.53" font-size="3.0" fill="#666666" class="t">IWOA</text><line x1="266.5" y1="58.7" x2="277" y2="58.7" stroke="#ff00ff" stroke-width="0.5" stroke-opacity="0.6"/><circle cx="271.7" cy="58.7" r="1.15" fill="#ff00ff"/><text x="278.1" y="59.75" font-size="3.0" fill="#666666" class="t">VPPSO</text><line x1="266.5" y1="62.92" x2="277" y2="62.92" stroke="#ffff00" stroke-width="0.5" stroke-opacity="0.6"/><circle cx="271.7" cy="62.92" r="1.15" fill="#ffff00"/><text x="278.1" y="63.97" font-size="3.0" fill="#666666" class="t">NABC</text><line x1="266.5" y1="67.14" x2="277" y2="67.14" stroke="#00ffff" stroke-width="0.5" stroke-opacity="0.6"/><circle cx="271.7" cy="67.14" r="1.15" fill="#00ffff"/><text x="278.1" y="68.19" font-size="3.0" fill="#666666" class="t">MSEFA</text><line x1="266.5" y1="71.36" x2="277" y2="71.36" stroke="#ff0000" stroke-width="0.5"/><circle cx="271.7" cy="71.36" r="1.15" fill="#ff0000"/><text x="278.1" y="72.41" font-size="3.0" fill="#666666" class="t">MSESSA</text></g>
<g><clipPath id="cp2"><rect x="347.5" y="9.7" width="112.4" height="90.4"/></clipPath><text x="402.95" y="9.5" font-size="3.75" fill="#333" text-anchor="middle">C04</text><line x1="358.59" y1="98.6" x2="358.59" y2="97.5" stroke="#3a3a3a" stroke-width="0.4"/><line x1="358.59" y1="11.2" x2="358.59" y2="12.3" stroke="#3a3a3a" stroke-width="0.4"/><text x="358.59" y="103.9" font-size="3.1" fill="#555" class="t" text-anchor="middle">50</text><line x1="369.68" y1="98.6" x2="369.68" y2="97.5" stroke="#3a3a3a" stroke-width="0.4"/><line x1="369.68" y1="11.2" x2="369.68" y2="12.3" stroke="#3a3a3a" stroke-width="0.4"/><text x="369.68" y="103.9" font-size="3.1" fill="#555" class="t" text-anchor="middle">100</text><line x1="380.77" y1="98.6" x2="380.77" y2="97.5" stroke="#3a3a3a" stroke-width="0.4"/><line x1="380.77" y1="11.2" x2="380.77" y2="12.3" stroke="#3a3a3a" stroke-width="0.4"/><text x="380.77" y="103.9" font-size="3.1" fill="#555" class="t" text-anchor="middle">150</text><line x1="391.86" y1="98.6" x2="391.86" y2="97.5" stroke="#3a3a3a" stroke-width="0.4"/><line x1="391.86" y1="11.2" x2="391.86" y2="12.3" stroke="#3a3a3a" stroke-width="0.4"/><text x="391.86" y="103.9" font-size="3.1" fill="#555" class="t" text-anchor="middle">200</text><line x1="402.95" y1="98.6" x2="402.95" y2="97.5" stroke="#3a3a3a" stroke-width="0.4"/><line x1="402.95" y1="11.2" x2="402.95" y2="12.3" stroke="#3a3a3a" stroke-width="0.4"/><text x="402.95" y="103.9" font-size="3.1" fill="#555" class="t" text-anchor="middle">250</text><line x1="414.04" y1="98.6" x2="414.04" y2="97.5" stroke="#3a3a3a" stroke-width="0.4"/><line x1="414.04" y1="11.2" x2="414.04" y2="12.3" stroke="#3a3a3a" stroke-width="0.4"/><text x="414.04" y="103.9" font-size="3.1" fill="#555" class="t" text-anchor="middle">300</text><line x1="425.13" y1="98.6" x2="425.13" y2="97.5" stroke="#3a3a3a" stroke-width="0.4"/><line x1="425.13" y1="11.2" x2="425.13" y2="12.3" stroke="#3a3a3a" stroke-width="0.4"/><text x="425.13" y="103.9" font-size="3.1" fill="#555" class="t" text-anchor="middle">350</text><line x1="436.22" y1="98.6" x2="436.22" y2="97.5" stroke="#3a3a3a" stroke-width="0.4"/><line x1="436.22" y1="11.2" x2="436.22" y2="12.3" stroke="#3a3a3a" stroke-width="0.4"/><text x="436.22" y="103.9" font-size="3.1" fill="#555" class="t" text-anchor="middle">400</text><line x1="447.31" y1="98.6" x2="447.31" y2="97.5" stroke="#3a3a3a" stroke-width="0.4"/><line x1="447.31" y1="11.2" x2="447.31" y2="12.3" stroke="#3a3a3a" stroke-width="0.4"/><text x="447.31" y="103.9" font-size="3.1" fill="#555" class="t" text-anchor="middle">450</text><line x1="458.4" y1="98.6" x2="458.4" y2="97.5" stroke="#3a3a3a" stroke-width="0.4"/><line x1="458.4" y1="11.2" x2="458.4" y2="12.3" stroke="#3a3a3a" stroke-width="0.4"/><text x="458.4" y="103.9" font-size="3.1" fill="#555" class="t" text-anchor="middle">500</text><text x="402.95" y="108.9" font-size="3.6" fill="#333" class="t" text-anchor="middle">Iteration</text><text transform="translate(336.7 54.9) rotate(-90)" font-size="3.6" fill="#333" class="f" text-anchor="middle">Fitness function</text><line x1="347.5" y1="12.3" x2="348.6" y2="12.3" stroke="#3a3a3a" stroke-width="0.4"/><line x1="458.4" y1="12.3" x2="457.3" y2="12.3" stroke="#3a3a3a" stroke-width="0.4"/><text x="346.3" y="13.4" font-size="3.1" fill="#555" class="t" text-anchor="end">10<tspan dy="-1.3" font-size="2.2">4</tspan></text><line x1="347.5" y1="50.8" x2="348.6" y2="50.8" stroke="#3a3a3a" stroke-width="0.4"/><line x1="458.4" y1="50.8" x2="457.3" y2="50.8" stroke="#3a3a3a" stroke-width="0.4"/><text x="346.3" y="51.9" font-size="3.1" fill="#555" class="t" text-anchor="end">10<tspan dy="-1.3" font-size="2.2">3</tspan></text><line x1="347.5" y1="89.3" x2="348.6" y2="89.3" stroke="#3a3a3a" stroke-width="0.4"/><line x1="458.4" y1="89.3" x2="457.3" y2="89.3" stroke="#3a3a3a" stroke-width="0.4"/><text x="346.3" y="90.4" font-size="3.1" fill="#555" class="t" text-anchor="end">10<tspan dy="-1.3" font-size="2.2">2</tspan></text><g clip-path="url(#cp2)" fill="none" stroke-linejoin="round"><polyline points="347.72,18 356.15,55 364.58,74 373.01,80.5 381.44,86.8 389.86,89 398.29,91 406.72,92 415.15,92.25 423.58,92.5 432.01,92.75 440.43,93 448.86,93.25 457.29,93.5" stroke="#0000ff" stroke-width="0.55" stroke-opacity="0.9"/><polyline points="347.72,12.5 356.15,56.8 364.58,60.5 373.01,61.5 381.44,62.3 389.86,62.38 398.29,62.46 406.72,62.53 415.15,62.61 423.58,62.69 432.01,62.77 440.43,62.84 448.86,62.92 457.29,63" stroke="#00ff00" stroke-width="0.55" stroke-opacity="0.9"/><path d="M346.17 12.5l1.55 -1.24l1.55 1.24l-1.55 1.24z" fill="#00ff00"/><path d="M354.6 56.8l1.55 -1.24l1.55 1.24l-1.55 1.24z" fill="#00ff00"/><path d="M363.03 60.5l1.55 -1.24l1.55 1.24l-1.55 1.24z" fill="#00ff00"/><path d="M371.45 61.5l1.55 -1.24l1.55 1.24l-1.55 1.24z" fill="#00ff00"/><path d="M379.88 62.3l1.55 -1.24l1.55 1.24l-1.55 1.24z" fill="#00ff00"/><path d="M388.31 62.38l1.55 -1.24l1.55 1.24l-1.55 1.24z" fill="#00ff00"/><path d="M396.74 62.46l1.55 -1.24l1.55 1.24l-1.55 1.24z" fill="#00ff00"/><path d="M405.17 62.53l1.55 -1.24l1.55 1.24l-1.55 1.24z" fill="#00ff00"/><path d="M413.6 62.61l1.55 -1.24l1.55 1.24l-1.55 1.24z" fill="#00ff00"/><path d="M422.02 62.69l1.55 -1.24l1.55 1.24l-1.55 1.24z" fill="#00ff00"/><path d="M430.45 62.77l1.55 -1.24l1.55 1.24l-1.55 1.24z" fill="#00ff00"/><path d="M438.88 62.84l1.55 -1.24l1.55 1.24l-1.55 1.24z" fill="#00ff00"/><path d="M447.31 62.92l1.55 -1.24l1.55 1.24l-1.55 1.24z" fill="#00ff00"/><path d="M455.74 63l1.55 -1.24l1.55 1.24l-1.55 1.24z" fill="#00ff00"/><polyline points="347.72,19.6 356.15,48 364.58,59 373.01,67 381.44,74 389.86,77.8 398.29,80.5 406.72,81.3 415.15,81.3 423.58,81.3 432.01,81.3 440.43,81.3 448.86,81.3 457.29,81.3" stroke="#505060" stroke-width="0.55" stroke-opacity="0.9"/><polyline points="347.72,17.7 356.15,26.8 364.58,34 373.01,39.5 381.44,43.2 389.86,45.6 398.29,50.6 406.72,54.3 415.15,58.4 423.58,62.6 432.01,66.5 440.43,70.5 448.86,75 457.29,78.5" stroke="#ff00ff" stroke-width="0.55" stroke-opacity="0.65"/><circle cx="347.72" cy="17.7" r="1.15" fill="#ff00ff"/><circle cx="356.15" cy="26.8" r="1.15" fill="#ff00ff"/><circle cx="364.58" cy="34" r="1.15" fill="#ff00ff"/><circle cx="373.01" cy="39.5" r="1.15" fill="#ff00ff"/><circle cx="381.44" cy="43.2" r="1.15" fill="#ff00ff"/><circle cx="389.86" cy="45.6" r="1.15" fill="#ff00ff"/><circle cx="398.29" cy="50.6" r="1.15" fill="#ff00ff"/><circle cx="406.72" cy="54.3" r="1.15" fill="#ff00ff"/><circle cx="415.15" cy="58.4" r="1.15" fill="#ff00ff"/><circle cx="423.58" cy="62.6" r="1.15" fill="#ff00ff"/><circle cx="432.01" cy="66.5" r="1.15" fill="#ff00ff"/><circle cx="440.43" cy="70.5" r="1.15" fill="#ff00ff"/><circle cx="448.86" cy="75" r="1.15" fill="#ff00ff"/><circle cx="457.29" cy="78.5" r="1.15" fill="#ff00ff"/><polyline points="347.72,12.3 356.15,23.2 364.58,35 373.01,45.9 381.44,55 389.86,63.2 398.29,69.5 406.72,75.7 415.15,79.9 423.58,83.4 432.01,86.1 440.43,88.5 448.86,90.5 457.29,91.7" stroke="#00ffff" stroke-width="0.55" stroke-opacity="0.65"/><circle cx="347.72" cy="12.3" r="1.15" fill="#00ffff"/><circle cx="356.15" cy="23.2" r="1.15" fill="#00ffff"/><circle cx="364.58" cy="35" r="1.15" fill="#00ffff"/><circle cx="373.01" cy="45.9" r="1.15" fill="#00ffff"/><circle cx="381.44" cy="55" r="1.15" fill="#00ffff"/><circle cx="389.86" cy="63.2" r="1.15" fill="#00ffff"/><circle cx="398.29" cy="69.5" r="1.15" fill="#00ffff"/><circle cx="406.72" cy="75.7" r="1.15" fill="#00ffff"/><circle cx="415.15" cy="79.9" r="1.15" fill="#00ffff"/><circle cx="423.58" cy="83.4" r="1.15" fill="#00ffff"/><circle cx="432.01" cy="86.1" r="1.15" fill="#00ffff"/><circle cx="440.43" cy="88.5" r="1.15" fill="#00ffff"/><circle cx="448.86" cy="90.5" r="1.15" fill="#00ffff"/><circle cx="457.29" cy="91.7" r="1.15" fill="#00ffff"/><polyline points="347.72,31.4 356.15,42.3 364.58,43.5 373.01,44.5 381.44,45 389.86,45.4 398.29,45.9 406.72,46 415.15,46.1 423.58,46.2 432.01,46.3 440.43,46.4 448.86,46.5 457.29,46.6" stroke="#000000" stroke-width="0.55" stroke-opacity="0.9"/><circle cx="347.72" cy="31.4" r="0.98" fill="#000000"/><circle cx="356.15" cy="42.3" r="0.98" fill="#000000"/><circle cx="364.58" cy="43.5" r="0.98" fill="#000000"/><circle cx="373.01" cy="44.5" r="0.98" fill="#000000"/><circle cx="381.44" cy="45" r="0.98" fill="#000000"/><circle cx="389.86" cy="45.4" r="0.98" fill="#000000"/><circle cx="398.29" cy="45.9" r="0.98" fill="#000000"/><circle cx="406.72" cy="46" r="0.98" fill="#000000"/><circle cx="415.15" cy="46.1" r="0.98" fill="#000000"/><circle cx="423.58" cy="46.2" r="0.98" fill="#000000"/><circle cx="432.01" cy="46.3" r="0.98" fill="#000000"/><circle cx="440.43" cy="46.4" r="0.98" fill="#000000"/><circle cx="448.86" cy="46.5" r="0.98" fill="#000000"/><circle cx="457.29" cy="46.6" r="0.98" fill="#000000"/><polyline points="347.72,16 356.15,60 364.58,81 373.01,87 381.44,91.4 389.86,93 398.29,93.25 406.72,93.5 415.15,93.75 423.58,94 432.01,94.25 440.43,94.5 448.86,94.75 457.29,95" stroke="#ffff00" stroke-width="0.55" stroke-opacity="0.65"/><polyline points="347.72,21 356.15,46.8 364.58,57.7 373.01,66.8 381.44,74 389.86,78.5 398.29,82.4 406.72,86.1 415.15,88.9 423.58,91 432.01,92.4 440.43,93.2 448.86,93.8 457.29,94" stroke="#0000ff" stroke-width="0.55" stroke-opacity="0.65"/><circle cx="347.72" cy="21" r="1.15" fill="#0000ff"/><circle cx="356.15" cy="46.8" r="1.15" fill="#0000ff"/><circle cx="364.58" cy="57.7" r="1.15" fill="#0000ff"/><circle cx="373.01" cy="66.8" r="1.15" fill="#0000ff"/><circle cx="381.44" cy="74" r="1.15" fill="#0000ff"/><circle cx="389.86" cy="78.5" r="1.15" fill="#0000ff"/><circle cx="398.29" cy="82.4" r="1.15" fill="#0000ff"/><circle cx="406.72" cy="86.1" r="1.15" fill="#0000ff"/><circle cx="415.15" cy="88.9" r="1.15" fill="#0000ff"/><circle cx="423.58" cy="91" r="1.15" fill="#0000ff"/><circle cx="432.01" cy="92.4" r="1.15" fill="#0000ff"/><circle cx="440.43" cy="93.2" r="1.15" fill="#0000ff"/><circle cx="448.86" cy="93.8" r="1.15" fill="#0000ff"/><circle cx="457.29" cy="94" r="1.15" fill="#0000ff"/><polyline points="347.72,13 356.15,70.5 364.58,74 373.01,76.5 381.44,78.6 389.86,80.5 398.29,82.7 406.72,84 415.15,85 423.58,86.1 432.01,87 440.43,88.2 448.86,89 457.29,89.6" stroke="#00ff00" stroke-width="0.55" stroke-opacity="0.65"/><circle cx="347.72" cy="13" r="1.15" fill="#00ff00"/><circle cx="356.15" cy="70.5" r="1.15" fill="#00ff00"/><circle cx="364.58" cy="74" r="1.15" fill="#00ff00"/><circle cx="373.01" cy="76.5" r="1.15" fill="#00ff00"/><circle cx="381.44" cy="78.6" r="1.15" fill="#00ff00"/><circle cx="389.86" cy="80.5" r="1.15" fill="#00ff00"/><circle cx="398.29" cy="82.7" r="1.15" fill="#00ff00"/><circle cx="406.72" cy="84" r="1.15" fill="#00ff00"/><circle cx="415.15" cy="85" r="1.15" fill="#00ff00"/><circle cx="423.58" cy="86.1" r="1.15" fill="#00ff00"/><circle cx="432.01" cy="87" r="1.15" fill="#00ff00"/><circle cx="440.43" cy="88.2" r="1.15" fill="#00ff00"/><circle cx="448.86" cy="89" r="1.15" fill="#00ff00"/><circle cx="457.29" cy="89.6" r="1.15" fill="#00ff00"/><polyline points="347.72,20 356.15,50 364.58,62 373.01,70 381.44,76 389.86,79.5 398.29,81 406.72,81.07 415.15,81.14 423.58,81.21 432.01,81.29 440.43,81.36 448.86,81.43 457.29,81.5" stroke="#ff0000" stroke-width="0.55" stroke-opacity="0.9"/><polyline points="347.72,23 356.15,55.9 364.58,65 373.01,74 381.44,83.2 389.86,87.7 398.29,90 406.72,92 415.15,93 423.58,93.2 432.01,93.4 440.43,93.6 448.86,93.8 457.29,94" stroke="#ff00ff" stroke-width="0.55" stroke-opacity="0.65"/><circle cx="347.72" cy="23" r="1.15" fill="#ff00ff"/><circle cx="356.15" cy="55.9" r="1.15" fill="#ff00ff"/><circle cx="364.58" cy="65" r="1.15" fill="#ff00ff"/><circle cx="373.01" cy="74" r="1.15" fill="#ff00ff"/><circle cx="381.44" cy="83.2" r="1.15" fill="#ff00ff"/><circle cx="389.86" cy="87.7" r="1.15" fill="#ff00ff"/><circle cx="398.29" cy="90" r="1.15" fill="#ff00ff"/><circle cx="406.72" cy="92" r="1.15" fill="#ff00ff"/><circle cx="415.15" cy="93" r="1.15" fill="#ff00ff"/><circle cx="423.58" cy="93.2" r="1.15" fill="#ff00ff"/><circle cx="432.01" cy="93.4" r="1.15" fill="#ff00ff"/><circle cx="440.43" cy="93.6" r="1.15" fill="#ff00ff"/><circle cx="448.86" cy="93.8" r="1.15" fill="#ff00ff"/><circle cx="457.29" cy="94" r="1.15" fill="#ff00ff"/><polyline points="347.72,20 356.15,65 364.58,83 373.01,89 381.44,92.5 389.86,94 398.29,94.19 406.72,94.38 415.15,94.56 423.58,94.75 432.01,94.94 440.43,95.12 448.86,95.31 457.29,95.5" stroke="#ffff00" stroke-width="0.55" stroke-opacity="0.65"/><circle cx="347.72" cy="20" r="1.15" fill="#ffff00"/><circle cx="356.15" cy="65" r="1.15" fill="#ffff00"/><circle cx="364.58" cy="83" r="1.15" fill="#ffff00"/><circle cx="373.01" cy="89" r="1.15" fill="#ffff00"/><circle cx="381.44" cy="92.5" r="1.15" fill="#ffff00"/><circle cx="389.86" cy="94" r="1.15" fill="#ffff00"/><circle cx="398.29" cy="94.19" r="1.15" fill="#ffff00"/><circle cx="406.72" cy="94.38" r="1.15" fill="#ffff00"/><circle cx="415.15" cy="94.56" r="1.15" fill="#ffff00"/><circle cx="423.58" cy="94.75" r="1.15" fill="#ffff00"/><circle cx="432.01" cy="94.94" r="1.15" fill="#ffff00"/><circle cx="440.43" cy="95.12" r="1.15" fill="#ffff00"/><circle cx="448.86" cy="95.31" r="1.15" fill="#ffff00"/><circle cx="457.29" cy="95.5" r="1.15" fill="#ffff00"/><polyline points="347.72,14 356.15,52 364.58,68 373.01,78 381.44,85 389.86,89 398.29,91 406.72,91.5 415.15,92 423.58,92.5 432.01,93 440.43,93.5 448.86,94 457.29,94.5" stroke="#00ffff" stroke-width="0.55" stroke-opacity="0.65"/><circle cx="347.72" cy="14" r="1.15" fill="#00ffff"/><circle cx="356.15" cy="52" r="1.15" fill="#00ffff"/><circle cx="364.58" cy="68" r="1.15" fill="#00ffff"/><circle cx="373.01" cy="78" r="1.15" fill="#00ffff"/><circle cx="381.44" cy="85" r="1.15" fill="#00ffff"/><circle cx="389.86" cy="89" r="1.15" fill="#00ffff"/><circle cx="398.29" cy="91" r="1.15" fill="#00ffff"/><circle cx="406.72" cy="91.5" r="1.15" fill="#00ffff"/><circle cx="415.15" cy="92" r="1.15" fill="#00ffff"/><circle cx="423.58" cy="92.5" r="1.15" fill="#00ffff"/><circle cx="432.01" cy="93" r="1.15" fill="#00ffff"/><circle cx="440.43" cy="93.5" r="1.15" fill="#00ffff"/><circle cx="448.86" cy="94" r="1.15" fill="#00ffff"/><circle cx="457.29" cy="94.5" r="1.15" fill="#00ffff"/><polyline points="347.72,25 356.15,72.3 364.58,86.8 373.01,92.3 381.44,94.1 389.86,95 398.29,96 406.72,96.5 415.15,96.67 423.58,96.83 432.01,97 440.43,97.17 448.86,97.33 457.29,97.5" stroke="#ff0000" stroke-width="0.55" stroke-opacity="0.9"/><circle cx="347.72" cy="25" r="1.15" fill="#ff0000"/><circle cx="356.15" cy="72.3" r="1.15" fill="#ff0000"/><circle cx="364.58" cy="86.8" r="1.15" fill="#ff0000"/><circle cx="373.01" cy="92.3" r="1.15" fill="#ff0000"/><circle cx="381.44" cy="94.1" r="1.15" fill="#ff0000"/><circle cx="389.86" cy="95" r="1.15" fill="#ff0000"/><circle cx="398.29" cy="96" r="1.15" fill="#ff0000"/><circle cx="406.72" cy="96.5" r="1.15" fill="#ff0000"/><circle cx="415.15" cy="96.67" r="1.15" fill="#ff0000"/><circle cx="423.58" cy="96.83" r="1.15" fill="#ff0000"/><circle cx="432.01" cy="97" r="1.15" fill="#ff0000"/><circle cx="440.43" cy="97.17" r="1.15" fill="#ff0000"/><circle cx="448.86" cy="97.33" r="1.15" fill="#ff0000"/><circle cx="457.29" cy="97.5" r="1.15" fill="#ff0000"/></g><rect x="347.5" y="11.2" width="110.9" height="87.4" fill="none" stroke="#3a3a3a" stroke-width="0.55"/><rect x="429.4" y="13.6" width="26.5" height="59.8" fill="#fff" stroke="#999" stroke-width="0.45"/><line x1="430.2" y1="16.5" x2="440.7" y2="16.5" stroke="#0000ff" stroke-width="0.5"/><text x="441.8" y="17.55" font-size="3.0" fill="#666666" class="t">SSA</text><line x1="430.2" y1="20.72" x2="440.7" y2="20.72" stroke="#00ff00" stroke-width="0.5"/><path d="M433.85 20.72l1.55 -1.24l1.55 1.24l-1.55 1.24z" fill="#00ff00"/><text x="441.8" y="21.77" font-size="3.0" fill="#666666" class="t">GWO</text><line x1="430.2" y1="24.94" x2="440.7" y2="24.94" stroke="#505060" stroke-width="0.5"/><text x="441.8" y="25.99" font-size="3.0" fill="#666666" class="t">WOA</text><line x1="430.2" y1="29.16" x2="440.7" y2="29.16" stroke="#ff00ff" stroke-width="0.5" stroke-opacity="0.6"/><circle cx="435.4" cy="29.16" r="1.15" fill="#ff00ff"/><text x="441.8" y="30.21" font-size="3.0" fill="#666666" class="t">PSO</text><line x1="430.2" y1="33.38" x2="440.7" y2="33.38" stroke="#00ffff" stroke-width="0.5" stroke-opacity="0.6"/><circle cx="435.4" cy="33.38" r="1.15" fill="#00ffff"/><text x="441.8" y="34.43" font-size="3.0" fill="#666666" class="t">ABC</text><line x1="430.2" y1="37.6" x2="440.7" y2="37.6" stroke="#000000" stroke-width="0.5"/><circle cx="435.4" cy="37.6" r="0.98" fill="#000000"/><text x="441.8" y="38.65" font-size="3.0" fill="#666666" class="t">FA</text><line x1="430.2" y1="41.82" x2="440.7" y2="41.82" stroke="#ffff00" stroke-width="0.5" stroke-opacity="0.6"/><text x="441.8" y="42.87" font-size="3.0" fill="#666666" class="t">QMEISSA</text><line x1="430.2" y1="46.04" x2="440.7" y2="46.04" stroke="#0000ff" stroke-width="0.5" stroke-opacity="0.6"/><circle cx="435.4" cy="46.04" r="1.15" fill="#0000ff"/><text x="441.8" y="47.09" font-size="3.0" fill="#666666" class="t">LSSA</text><line x1="430.2" y1="50.26" x2="440.7" y2="50.26" stroke="#00ff00" stroke-width="0.5" stroke-opacity="0.6"/><circle cx="435.4" cy="50.26" r="1.15" fill="#00ff00"/><text x="441.8" y="51.31" font-size="3.0" fill="#666666" class="t">AGWO</text><line x1="430.2" y1="54.48" x2="440.7" y2="54.48" stroke="#ff0000" stroke-width="0.5"/><text x="441.8" y="55.53" font-size="3.0" fill="#666666" class="t">IWOA</text><line x1="430.2" y1="58.7" x2="440.7" y2="58.7" stroke="#ff00ff" stroke-width="0.5" stroke-opacity="0.6"/><circle cx="435.4" cy="58.7" r="1.15" fill="#ff00ff"/><text x="441.8" y="59.75" font-size="3.0" fill="#666666" class="t">VPPSO</text><line x1="430.2" y1="62.92" x2="440.7" y2="62.92" stroke="#ffff00" stroke-width="0.5" stroke-opacity="0.6"/><circle cx="435.4" cy="62.92" r="1.15" fill="#ffff00"/><text x="441.8" y="63.97" font-size="3.0" fill="#666666" class="t">NABC</text><line x1="430.2" y1="67.14" x2="440.7" y2="67.14" stroke="#00ffff" stroke-width="0.5" stroke-opacity="0.6"/><circle cx="435.4" cy="67.14" r="1.15" fill="#00ffff"/><text x="441.8" y="68.19" font-size="3.0" fill="#666666" class="t">MSEFA</text><line x1="430.2" y1="71.36" x2="440.7" y2="71.36" stroke="#ff0000" stroke-width="0.5"/><circle cx="435.4" cy="71.36" r="1.15" fill="#ff0000"/><text x="441.8" y="72.41" font-size="3.0" fill="#666666" class="t">MSESSA</text></g>
<g><clipPath id="cp3"><rect x="20.4" y="118" width="112.4" height="90.4"/></clipPath><text x="75.85" y="117.8" font-size="3.75" fill="#333" text-anchor="middle">C05</text><line x1="31.49" y1="206.9" x2="31.49" y2="205.8" stroke="#3a3a3a" stroke-width="0.4"/><line x1="31.49" y1="119.5" x2="31.49" y2="120.6" stroke="#3a3a3a" stroke-width="0.4"/><text x="31.49" y="212.2" font-size="3.1" fill="#555" class="t" text-anchor="middle">50</text><line x1="42.58" y1="206.9" x2="42.58" y2="205.8" stroke="#3a3a3a" stroke-width="0.4"/><line x1="42.58" y1="119.5" x2="42.58" y2="120.6" stroke="#3a3a3a" stroke-width="0.4"/><text x="42.58" y="212.2" font-size="3.1" fill="#555" class="t" text-anchor="middle">100</text><line x1="53.67" y1="206.9" x2="53.67" y2="205.8" stroke="#3a3a3a" stroke-width="0.4"/><line x1="53.67" y1="119.5" x2="53.67" y2="120.6" stroke="#3a3a3a" stroke-width="0.4"/><text x="53.67" y="212.2" font-size="3.1" fill="#555" class="t" text-anchor="middle">150</text><line x1="64.76" y1="206.9" x2="64.76" y2="205.8" stroke="#3a3a3a" stroke-width="0.4"/><line x1="64.76" y1="119.5" x2="64.76" y2="120.6" stroke="#3a3a3a" stroke-width="0.4"/><text x="64.76" y="212.2" font-size="3.1" fill="#555" class="t" text-anchor="middle">200</text><line x1="75.85" y1="206.9" x2="75.85" y2="205.8" stroke="#3a3a3a" stroke-width="0.4"/><line x1="75.85" y1="119.5" x2="75.85" y2="120.6" stroke="#3a3a3a" stroke-width="0.4"/><text x="75.85" y="212.2" font-size="3.1" fill="#555" class="t" text-anchor="middle">250</text><line x1="86.94" y1="206.9" x2="86.94" y2="205.8" stroke="#3a3a3a" stroke-width="0.4"/><line x1="86.94" y1="119.5" x2="86.94" y2="120.6" stroke="#3a3a3a" stroke-width="0.4"/><text x="86.94" y="212.2" font-size="3.1" fill="#555" class="t" text-anchor="middle">300</text><line x1="98.03" y1="206.9" x2="98.03" y2="205.8" stroke="#3a3a3a" stroke-width="0.4"/><line x1="98.03" y1="119.5" x2="98.03" y2="120.6" stroke="#3a3a3a" stroke-width="0.4"/><text x="98.03" y="212.2" font-size="3.1" fill="#555" class="t" text-anchor="middle">350</text><line x1="109.12" y1="206.9" x2="109.12" y2="205.8" stroke="#3a3a3a" stroke-width="0.4"/><line x1="109.12" y1="119.5" x2="109.12" y2="120.6" stroke="#3a3a3a" stroke-width="0.4"/><text x="109.12" y="212.2" font-size="3.1" fill="#555" class="t" text-anchor="middle">400</text><line x1="120.21" y1="206.9" x2="120.21" y2="205.8" stroke="#3a3a3a" stroke-width="0.4"/><line x1="120.21" y1="119.5" x2="120.21" y2="120.6" stroke="#3a3a3a" stroke-width="0.4"/><text x="120.21" y="212.2" font-size="3.1" fill="#555" class="t" text-anchor="middle">450</text><line x1="131.3" y1="206.9" x2="131.3" y2="205.8" stroke="#3a3a3a" stroke-width="0.4"/><line x1="131.3" y1="119.5" x2="131.3" y2="120.6" stroke="#3a3a3a" stroke-width="0.4"/><text x="131.3" y="212.2" font-size="3.1" fill="#555" class="t" text-anchor="middle">500</text><text x="75.85" y="217.2" font-size="3.6" fill="#333" class="t" text-anchor="middle">Iteration</text><text transform="translate(9.6 163.2) rotate(-90)" font-size="3.6" fill="#333" class="f" text-anchor="middle">Fitness function</text><line x1="20.4" y1="206.6" x2="21.5" y2="206.6" stroke="#3a3a3a" stroke-width="0.4"/><line x1="131.3" y1="206.6" x2="130.2" y2="206.6" stroke="#3a3a3a" stroke-width="0.4"/><text x="19.2" y="207.7" font-size="3.0" fill="#555" class="t" text-anchor="end">700</text><line x1="20.4" y1="193.29" x2="21.5" y2="193.29" stroke="#3a3a3a" stroke-width="0.4"/><line x1="131.3" y1="193.29" x2="130.2" y2="193.29" stroke="#3a3a3a" stroke-width="0.4"/><text x="19.2" y="194.39" font-size="3.0" fill="#555" class="t" text-anchor="end">800</text><line x1="20.4" y1="181.55" x2="21.5" y2="181.55" stroke="#3a3a3a" stroke-width="0.4"/><line x1="131.3" y1="181.55" x2="130.2" y2="181.55" stroke="#3a3a3a" stroke-width="0.4"/><text x="19.2" y="182.65" font-size="3.0" fill="#555" class="t" text-anchor="end">900</text><line x1="20.4" y1="171.05" x2="21.5" y2="171.05" stroke="#3a3a3a" stroke-width="0.4"/><line x1="131.3" y1="171.05" x2="130.2" y2="171.05" stroke="#3a3a3a" stroke-width="0.4"/><text x="19.2" y="172.15" font-size="3.0" fill="#555" class="t" text-anchor="end">1000</text><line x1="20.4" y1="161.55" x2="21.5" y2="161.55" stroke="#3a3a3a" stroke-width="0.4"/><line x1="131.3" y1="161.55" x2="130.2" y2="161.55" stroke="#3a3a3a" stroke-width="0.4"/><text x="19.2" y="162.65" font-size="3.0" fill="#555" class="t" text-anchor="end">1100</text><line x1="20.4" y1="152.88" x2="21.5" y2="152.88" stroke="#3a3a3a" stroke-width="0.4"/><line x1="131.3" y1="152.88" x2="130.2" y2="152.88" stroke="#3a3a3a" stroke-width="0.4"/><text x="19.2" y="153.98" font-size="3.0" fill="#555" class="t" text-anchor="end">1200</text><line x1="20.4" y1="144.9" x2="21.5" y2="144.9" stroke="#3a3a3a" stroke-width="0.4"/><line x1="131.3" y1="144.9" x2="130.2" y2="144.9" stroke="#3a3a3a" stroke-width="0.4"/><text x="19.2" y="146" font-size="3.0" fill="#555" class="t" text-anchor="end">1300</text><line x1="20.4" y1="137.51" x2="21.5" y2="137.51" stroke="#3a3a3a" stroke-width="0.4"/><line x1="131.3" y1="137.51" x2="130.2" y2="137.51" stroke="#3a3a3a" stroke-width="0.4"/><text x="19.2" y="138.61" font-size="3.0" fill="#555" class="t" text-anchor="end">1400</text><line x1="20.4" y1="130.64" x2="21.5" y2="130.64" stroke="#3a3a3a" stroke-width="0.4"/><line x1="131.3" y1="130.64" x2="130.2" y2="130.64" stroke="#3a3a3a" stroke-width="0.4"/><text x="19.2" y="131.74" font-size="3.0" fill="#555" class="t" text-anchor="end">1500</text><line x1="20.4" y1="124.2" x2="21.5" y2="124.2" stroke="#3a3a3a" stroke-width="0.4"/><line x1="131.3" y1="124.2" x2="130.2" y2="124.2" stroke="#3a3a3a" stroke-width="0.4"/><text x="19.2" y="125.3" font-size="3.0" fill="#555" class="t" text-anchor="end">1600</text><g clip-path="url(#cp3)" fill="none" stroke-linejoin="round"><polyline points="20.62,146 29.05,170.8 37.48,173.4 45.91,177.2 54.34,181 62.76,183 71.19,184 79.62,184.14 88.05,184.29 96.48,184.43 104.91,184.57 113.33,184.71 121.76,184.86 130.19,185" stroke="#0000ff" stroke-width="0.55" stroke-opacity="0.9"/><polyline points="20.62,119.5 29.05,168.9 37.48,167.6 45.91,168.2 54.34,168.9 62.76,168.95 71.19,169 79.62,169.14 88.05,169.29 96.48,169.43 104.91,169.57 113.33,169.71 121.76,169.86 130.19,170" stroke="#00ff00" stroke-width="0.55" stroke-opacity="0.9"/><path d="M19.07 119.5l1.55 -1.24l1.55 1.24l-1.55 1.24z" fill="#00ff00"/><path d="M27.5 168.9l1.55 -1.24l1.55 1.24l-1.55 1.24z" fill="#00ff00"/><path d="M35.93 167.6l1.55 -1.24l1.55 1.24l-1.55 1.24z" fill="#00ff00"/><path d="M44.35 168.2l1.55 -1.24l1.55 1.24l-1.55 1.24z" fill="#00ff00"/><path d="M52.78 168.9l1.55 -1.24l1.55 1.24l-1.55 1.24z" fill="#00ff00"/><path d="M61.21 168.95l1.55 -1.24l1.55 1.24l-1.55 1.24z" fill="#00ff00"/><path d="M69.64 169l1.55 -1.24l1.55 1.24l-1.55 1.24z" fill="#00ff00"/><path d="M78.07 169.14l1.55 -1.24l1.55 1.24l-1.55 1.24z" fill="#00ff00"/><path d="M86.5 169.29l1.55 -1.24l1.55 1.24l-1.55 1.24z" fill="#00ff00"/><path d="M94.92 169.43l1.55 -1.24l1.55 1.24l-1.55 1.24z" fill="#00ff00"/><path d="M103.35 169.57l1.55 -1.24l1.55 1.24l-1.55 1.24z" fill="#00ff00"/><path d="M111.78 169.71l1.55 -1.24l1.55 1.24l-1.55 1.24z" fill="#00ff00"/><path d="M120.21 169.86l1.55 -1.24l1.55 1.24l-1.55 1.24z" fill="#00ff00"/><path d="M128.64 170l1.55 -1.24l1.55 1.24l-1.55 1.24z" fill="#00ff00"/><polyline points="20.62,125 29.05,156.1 37.48,160.6 45.91,164.2 54.34,167 62.76,168.5 71.19,168.9 79.62,168.91 88.05,168.93 96.48,168.94 104.91,168.96 113.33,168.97 121.76,168.99 130.19,169" stroke="#505060" stroke-width="0.55" stroke-opacity="0.9"/><polyline points="20.62,128 29.05,160.6 37.48,162.5 45.91,165 54.34,167.6 62.76,179 71.19,190.6 79.62,194.8 88.05,197.2 96.48,197.28 104.91,197.36 113.33,197.44 121.76,197.52 130.19,197.6" stroke="#ff00ff" stroke-width="0.55" stroke-opacity="0.65"/><circle cx="20.62" cy="128" r="1.15" fill="#ff00ff"/><circle cx="29.05" cy="160.6" r="1.15" fill="#ff00ff"/><circle cx="37.48" cy="162.5" r="1.15" fill="#ff00ff"/><circle cx="45.91" cy="165" r="1.15" fill="#ff00ff"/><circle cx="54.34" cy="167.6" r="1.15" fill="#ff00ff"/><circle cx="62.76" cy="179" r="1.15" fill="#ff00ff"/><circle cx="71.19" cy="190.6" r="1.15" fill="#ff00ff"/><circle cx="79.62" cy="194.8" r="1.15" fill="#ff00ff"/><circle cx="88.05" cy="197.2" r="1.15" fill="#ff00ff"/><circle cx="96.48" cy="197.28" r="1.15" fill="#ff00ff"/><circle cx="104.91" cy="197.36" r="1.15" fill="#ff00ff"/><circle cx="113.33" cy="197.44" r="1.15" fill="#ff00ff"/><circle cx="121.76" cy="197.52" r="1.15" fill="#ff00ff"/><circle cx="130.19" cy="197.6" r="1.15" fill="#ff00ff"/><polyline points="20.62,122 29.05,140.1 37.48,151.6 45.91,159.3 54.34,165 62.76,170.8 71.19,175.9 79.62,178.5 88.05,180.5 96.48,182 104.91,183 113.33,184 121.76,185 130.19,186" stroke="#00ffff" stroke-width="0.55" stroke-opacity="0.65"/><circle cx="20.62" cy="122" r="1.15" fill="#00ffff"/><circle cx="29.05" cy="140.1" r="1.15" fill="#00ffff"/><circle cx="37.48" cy="151.6" r="1.15" fill="#00ffff"/><circle cx="45.91" cy="159.3" r="1.15" fill="#00ffff"/><circle cx="54.34" cy="165" r="1.15" fill="#00ffff"/><circle cx="62.76" cy="170.8" r="1.15" fill="#00ffff"/><circle cx="71.19" cy="175.9" r="1.15" fill="#00ffff"/><circle cx="79.62" cy="178.5" r="1.15" fill="#00ffff"/><circle cx="88.05" cy="180.5" r="1.15" fill="#00ffff"/><circle cx="96.48" cy="182" r="1.15" fill="#00ffff"/><circle cx="104.91" cy="183" r="1.15" fill="#00ffff"/><circle cx="113.33" cy="184" r="1.15" fill="#00ffff"/><circle cx="121.76" cy="185" r="1.15" fill="#00ffff"/><circle cx="130.19" cy="186" r="1.15" fill="#00ffff"/><polyline points="20.62,145 29.05,156.7 37.48,157.8 45.91,158.3 54.34,158.7 62.76,158.9 71.19,159.2 79.62,159.34 88.05,159.49 96.48,159.63 104.91,159.77 113.33,159.91 121.76,160.06 130.19,160.2" stroke="#000000" stroke-width="0.55" stroke-opacity="0.9"/><circle cx="20.62" cy="145" r="0.98" fill="#000000"/><circle cx="29.05" cy="156.7" r="0.98" fill="#000000"/><circle cx="37.48" cy="157.8" r="0.98" fill="#000000"/><circle cx="45.91" cy="158.3" r="0.98" fill="#000000"/><circle cx="54.34" cy="158.7" r="0.98" fill="#000000"/><circle cx="62.76" cy="158.9" r="0.98" fill="#000000"/><circle cx="71.19" cy="159.2" r="0.98" fill="#000000"/><circle cx="79.62" cy="159.34" r="0.98" fill="#000000"/><circle cx="88.05" cy="159.49" r="0.98" fill="#000000"/><circle cx="96.48" cy="159.63" r="0.98" fill="#000000"/><circle cx="104.91" cy="159.77" r="0.98" fill="#000000"/><circle cx="113.33" cy="159.91" r="0.98" fill="#000000"/><circle cx="121.76" cy="160.06" r="0.98" fill="#000000"/><circle cx="130.19" cy="160.2" r="0.98" fill="#000000"/><polyline points="20.62,130 29.05,166 37.48,172 45.91,178 54.34,183 62.76,186.2 71.19,188.7 79.62,188.87 88.05,189.04 96.48,189.21 104.91,189.39 113.33,189.56 121.76,189.73 130.19,189.9" stroke="#ffff00" stroke-width="0.55" stroke-opacity="0.65"/><polyline points="20.62,138 29.05,164.4 37.48,164 45.91,165.7 54.34,170.8 62.76,174.6 71.19,177.2 79.62,180.1 88.05,181.4 96.48,183 104.91,184.2 113.33,184.73 121.76,185.27 130.19,185.8" stroke="#0000ff" stroke-width="0.55" stroke-opacity="0.65"/><circle cx="20.62" cy="138" r="1.15" fill="#0000ff"/><circle cx="29.05" cy="164.4" r="1.15" fill="#0000ff"/><circle cx="37.48" cy="164" r="1.15" fill="#0000ff"/><circle cx="45.91" cy="165.7" r="1.15" fill="#0000ff"/><circle cx="54.34" cy="170.8" r="1.15" fill="#0000ff"/><circle cx="62.76" cy="174.6" r="1.15" fill="#0000ff"/><circle cx="71.19" cy="177.2" r="1.15" fill="#0000ff"/><circle cx="79.62" cy="180.1" r="1.15" fill="#0000ff"/><circle cx="88.05" cy="181.4" r="1.15" fill="#0000ff"/><circle cx="96.48" cy="183" r="1.15" fill="#0000ff"/><circle cx="104.91" cy="184.2" r="1.15" fill="#0000ff"/><circle cx="113.33" cy="184.73" r="1.15" fill="#0000ff"/><circle cx="121.76" cy="185.27" r="1.15" fill="#0000ff"/><circle cx="130.19" cy="185.8" r="1.15" fill="#0000ff"/><polyline points="20.62,140 29.05,168.9 37.48,172 45.91,173.5 54.34,174.6 62.76,175.5 71.19,176.8 79.62,178.85 88.05,180.9 96.48,183.4 104.91,187 113.33,193.2 121.76,200.5 130.19,207" stroke="#00ff00" stroke-width="0.55" stroke-opacity="0.65"/><circle cx="20.62" cy="140" r="1.15" fill="#00ff00"/><circle cx="29.05" cy="168.9" r="1.15" fill="#00ff00"/><circle cx="37.48" cy="172" r="1.15" fill="#00ff00"/><circle cx="45.91" cy="173.5" r="1.15" fill="#00ff00"/><circle cx="54.34" cy="174.6" r="1.15" fill="#00ff00"/><circle cx="62.76" cy="175.5" r="1.15" fill="#00ff00"/><circle cx="71.19" cy="176.8" r="1.15" fill="#00ff00"/><circle cx="79.62" cy="178.85" r="1.15" fill="#00ff00"/><circle cx="88.05" cy="180.9" r="1.15" fill="#00ff00"/><circle cx="96.48" cy="183.4" r="1.15" fill="#00ff00"/><circle cx="104.91" cy="187" r="1.15" fill="#00ff00"/><circle cx="113.33" cy="193.2" r="1.15" fill="#00ff00"/><circle cx="121.76" cy="200.5" r="1.15" fill="#00ff00"/><circle cx="130.19" cy="207" r="1.15" fill="#00ff00"/><polyline points="20.62,126 29.05,157 37.48,161 45.91,165 54.34,167.5 62.76,168.8 71.19,168.89 79.62,168.98 88.05,169.06 96.48,169.15 104.91,169.24 113.33,169.32 121.76,169.41 130.19,169.5" stroke="#ff0000" stroke-width="0.55" stroke-opacity="0.9"/><polyline points="20.62,133 29.05,162 37.48,168 45.91,175.9 54.34,178.5 62.76,179.8 71.19,180.4 79.62,180.56 88.05,180.71 96.48,180.87 104.91,181.03 113.33,181.19 121.76,181.34 130.19,181.5" stroke="#ff00ff" stroke-width="0.55" stroke-opacity="0.65"/><circle cx="20.62" cy="133" r="1.15" fill="#ff00ff"/><circle cx="29.05" cy="162" r="1.15" fill="#ff00ff"/><circle cx="37.48" cy="168" r="1.15" fill="#ff00ff"/><circle cx="45.91" cy="175.9" r="1.15" fill="#ff00ff"/><circle cx="54.34" cy="178.5" r="1.15" fill="#ff00ff"/><circle cx="62.76" cy="179.8" r="1.15" fill="#ff00ff"/><circle cx="71.19" cy="180.4" r="1.15" fill="#ff00ff"/><circle cx="79.62" cy="180.56" r="1.15" fill="#ff00ff"/><circle cx="88.05" cy="180.71" r="1.15" fill="#ff00ff"/><circle cx="96.48" cy="180.87" r="1.15" fill="#ff00ff"/><circle cx="104.91" cy="181.03" r="1.15" fill="#ff00ff"/><circle cx="113.33" cy="181.19" r="1.15" fill="#ff00ff"/><circle cx="121.76" cy="181.34" r="1.15" fill="#ff00ff"/><circle cx="130.19" cy="181.5" r="1.15" fill="#ff00ff"/><polyline points="20.62,135 29.05,169 37.48,172.7 45.91,179.8 54.34,186.2 62.76,189.3 71.19,192.9 79.62,196 88.05,198.5 96.48,199.9 104.91,201.2 113.33,203.3 121.76,205 130.19,206.4" stroke="#ffff00" stroke-width="0.55" stroke-opacity="0.65"/><circle cx="20.62" cy="135" r="1.15" fill="#ffff00"/><circle cx="29.05" cy="169" r="1.15" fill="#ffff00"/><circle cx="37.48" cy="172.7" r="1.15" fill="#ffff00"/><circle cx="45.91" cy="179.8" r="1.15" fill="#ffff00"/><circle cx="54.34" cy="186.2" r="1.15" fill="#ffff00"/><circle cx="62.76" cy="189.3" r="1.15" fill="#ffff00"/><circle cx="71.19" cy="192.9" r="1.15" fill="#ffff00"/><circle cx="79.62" cy="196" r="1.15" fill="#ffff00"/><circle cx="88.05" cy="198.5" r="1.15" fill="#ffff00"/><circle cx="96.48" cy="199.9" r="1.15" fill="#ffff00"/><circle cx="104.91" cy="201.2" r="1.15" fill="#ffff00"/><circle cx="113.33" cy="203.3" r="1.15" fill="#ffff00"/><circle cx="121.76" cy="205" r="1.15" fill="#ffff00"/><circle cx="130.19" cy="206.4" r="1.15" fill="#ffff00"/><polyline points="20.62,137 29.05,166 37.48,168 45.91,172.7 54.34,177 62.76,181 71.19,183.6 79.62,184.4 88.05,185.2 96.48,186 104.91,186.6 113.33,187.45 121.76,188.3 130.19,189.9" stroke="#00ffff" stroke-width="0.55" stroke-opacity="0.65"/><circle cx="20.62" cy="137" r="1.15" fill="#00ffff"/><circle cx="29.05" cy="166" r="1.15" fill="#00ffff"/><circle cx="37.48" cy="168" r="1.15" fill="#00ffff"/><circle cx="45.91" cy="172.7" r="1.15" fill="#00ffff"/><circle cx="54.34" cy="177" r="1.15" fill="#00ffff"/><circle cx="62.76" cy="181" r="1.15" fill="#00ffff"/><circle cx="71.19" cy="183.6" r="1.15" fill="#00ffff"/><circle cx="79.62" cy="184.4" r="1.15" fill="#00ffff"/><circle cx="88.05" cy="185.2" r="1.15" fill="#00ffff"/><circle cx="96.48" cy="186" r="1.15" fill="#00ffff"/><circle cx="104.91" cy="186.6" r="1.15" fill="#00ffff"/><circle cx="113.33" cy="187.45" r="1.15" fill="#00ffff"/><circle cx="121.76" cy="188.3" r="1.15" fill="#00ffff"/><circle cx="130.19" cy="189.9" r="1.15" fill="#00ffff"/><polyline points="20.62,144 29.05,183 37.48,193.8 45.91,197.3 54.34,198.6 62.76,198.9 71.19,199.6 79.62,199.61 88.05,199.63 96.48,199.64 104.91,199.66 113.33,199.67 121.76,199.69 130.19,199.7" stroke="#ff0000" stroke-width="0.55" stroke-opacity="0.9"/><circle cx="20.62" cy="144" r="1.15" fill="#ff0000"/><circle cx="29.05" cy="183" r="1.15" fill="#ff0000"/><circle cx="37.48" cy="193.8" r="1.15" fill="#ff0000"/><circle cx="45.91" cy="197.3" r="1.15" fill="#ff0000"/><circle cx="54.34" cy="198.6" r="1.15" fill="#ff0000"/><circle cx="62.76" cy="198.9" r="1.15" fill="#ff0000"/><circle cx="71.19" cy="199.6" r="1.15" fill="#ff0000"/><circle cx="79.62" cy="199.61" r="1.15" fill="#ff0000"/><circle cx="88.05" cy="199.63" r="1.15" fill="#ff0000"/><circle cx="96.48" cy="199.64" r="1.15" fill="#ff0000"/><circle cx="104.91" cy="199.66" r="1.15" fill="#ff0000"/><circle cx="113.33" cy="199.67" r="1.15" fill="#ff0000"/><circle cx="121.76" cy="199.69" r="1.15" fill="#ff0000"/><circle cx="130.19" cy="199.7" r="1.15" fill="#ff0000"/></g><rect x="20.4" y="119.5" width="110.9" height="87.4" fill="none" stroke="#3a3a3a" stroke-width="0.55"/><rect x="102.3" y="121.9" width="26.5" height="59.8" fill="#fff" stroke="#999" stroke-width="0.45"/><line x1="103.1" y1="124.8" x2="113.6" y2="124.8" stroke="#0000ff" stroke-width="0.5"/><text x="114.7" y="125.85" font-size="3.0" fill="#666666" class="t">SSA</text><line x1="103.1" y1="129.02" x2="113.6" y2="129.02" stroke="#00ff00" stroke-width="0.5"/><path d="M106.75 129.02l1.55 -1.24l1.55 1.24l-1.55 1.24z" fill="#00ff00"/><text x="114.7" y="130.07" font-size="3.0" fill="#666666" class="t">GWO</text><line x1="103.1" y1="133.24" x2="113.6" y2="133.24" stroke="#505060" stroke-width="0.5"/><text x="114.7" y="134.29" font-size="3.0" fill="#666666" class="t">WOA</text><line x1="103.1" y1="137.46" x2="113.6" y2="137.46" stroke="#ff00ff" stroke-width="0.5" stroke-opacity="0.6"/><circle cx="108.3" cy="137.46" r="1.15" fill="#ff00ff"/><text x="114.7" y="138.51" font-size="3.0" fill="#666666" class="t">PSO</text><line x1="103.1" y1="141.68" x2="113.6" y2="141.68" stroke="#00ffff" stroke-width="0.5" stroke-opacity="0.6"/><circle cx="108.3" cy="141.68" r="1.15" fill="#00ffff"/><text x="114.7" y="142.73" font-size="3.0" fill="#666666" class="t">ABC</text><line x1="103.1" y1="145.9" x2="113.6" y2="145.9" stroke="#000000" stroke-width="0.5"/><circle cx="108.3" cy="145.9" r="0.98" fill="#000000"/><text x="114.7" y="146.95" font-size="3.0" fill="#666666" class="t">FA</text><line x1="103.1" y1="150.12" x2="113.6" y2="150.12" stroke="#ffff00" stroke-width="0.5" stroke-opacity="0.6"/><text x="114.7" y="151.17" font-size="3.0" fill="#666666" class="t">QMEISSA</text><line x1="103.1" y1="154.34" x2="113.6" y2="154.34" stroke="#0000ff" stroke-width="0.5" stroke-opacity="0.6"/><circle cx="108.3" cy="154.34" r="1.15" fill="#0000ff"/><text x="114.7" y="155.39" font-size="3.0" fill="#666666" class="t">LSSA</text><line x1="103.1" y1="158.56" x2="113.6" y2="158.56" stroke="#00ff00" stroke-width="0.5" stroke-opacity="0.6"/><circle cx="108.3" cy="158.56" r="1.15" fill="#00ff00"/><text x="114.7" y="159.61" font-size="3.0" fill="#666666" class="t">AGWO</text><line x1="103.1" y1="162.78" x2="113.6" y2="162.78" stroke="#ff0000" stroke-width="0.5"/><text x="114.7" y="163.83" font-size="3.0" fill="#666666" class="t">IWOA</text><line x1="103.1" y1="167" x2="113.6" y2="167" stroke="#ff00ff" stroke-width="0.5" stroke-opacity="0.6"/><circle cx="108.3" cy="167" r="1.15" fill="#ff00ff"/><text x="114.7" y="168.05" font-size="3.0" fill="#666666" class="t">VPPSO</text><line x1="103.1" y1="171.22" x2="113.6" y2="171.22" stroke="#ffff00" stroke-width="0.5" stroke-opacity="0.6"/><circle cx="108.3" cy="171.22" r="1.15" fill="#ffff00"/><text x="114.7" y="172.27" font-size="3.0" fill="#666666" class="t">NABC</text><line x1="103.1" y1="175.44" x2="113.6" y2="175.44" stroke="#00ffff" stroke-width="0.5" stroke-opacity="0.6"/><circle cx="108.3" cy="175.44" r="1.15" fill="#00ffff"/><text x="114.7" y="176.49" font-size="3.0" fill="#666666" class="t">MSEFA</text><line x1="103.1" y1="179.66" x2="113.6" y2="179.66" stroke="#ff0000" stroke-width="0.5"/><circle cx="108.3" cy="179.66" r="1.15" fill="#ff0000"/><text x="114.7" y="180.71" font-size="3.0" fill="#666666" class="t">MSESSA</text></g>
<g><clipPath id="cp4"><rect x="183.8" y="118" width="112.4" height="90.4"/></clipPath><text x="239.25" y="117.8" font-size="3.75" fill="#333" text-anchor="middle">C06</text><line x1="194.89" y1="206.9" x2="194.89" y2="205.8" stroke="#3a3a3a" stroke-width="0.4"/><line x1="194.89" y1="119.5" x2="194.89" y2="120.6" stroke="#3a3a3a" stroke-width="0.4"/><text x="194.89" y="212.2" font-size="3.1" fill="#555" class="t" text-anchor="middle">50</text><line x1="205.98" y1="206.9" x2="205.98" y2="205.8" stroke="#3a3a3a" stroke-width="0.4"/><line x1="205.98" y1="119.5" x2="205.98" y2="120.6" stroke="#3a3a3a" stroke-width="0.4"/><text x="205.98" y="212.2" font-size="3.1" fill="#555" class="t" text-anchor="middle">100</text><line x1="217.07" y1="206.9" x2="217.07" y2="205.8" stroke="#3a3a3a" stroke-width="0.4"/><line x1="217.07" y1="119.5" x2="217.07" y2="120.6" stroke="#3a3a3a" stroke-width="0.4"/><text x="217.07" y="212.2" font-size="3.1" fill="#555" class="t" text-anchor="middle">150</text><line x1="228.16" y1="206.9" x2="228.16" y2="205.8" stroke="#3a3a3a" stroke-width="0.4"/><line x1="228.16" y1="119.5" x2="228.16" y2="120.6" stroke="#3a3a3a" stroke-width="0.4"/><text x="228.16" y="212.2" font-size="3.1" fill="#555" class="t" text-anchor="middle">200</text><line x1="239.25" y1="206.9" x2="239.25" y2="205.8" stroke="#3a3a3a" stroke-width="0.4"/><line x1="239.25" y1="119.5" x2="239.25" y2="120.6" stroke="#3a3a3a" stroke-width="0.4"/><text x="239.25" y="212.2" font-size="3.1" fill="#555" class="t" text-anchor="middle">250</text><line x1="250.34" y1="206.9" x2="250.34" y2="205.8" stroke="#3a3a3a" stroke-width="0.4"/><line x1="250.34" y1="119.5" x2="250.34" y2="120.6" stroke="#3a3a3a" stroke-width="0.4"/><text x="250.34" y="212.2" font-size="3.1" fill="#555" class="t" text-anchor="middle">300</text><line x1="261.43" y1="206.9" x2="261.43" y2="205.8" stroke="#3a3a3a" stroke-width="0.4"/><line x1="261.43" y1="119.5" x2="261.43" y2="120.6" stroke="#3a3a3a" stroke-width="0.4"/><text x="261.43" y="212.2" font-size="3.1" fill="#555" class="t" text-anchor="middle">350</text><line x1="272.52" y1="206.9" x2="272.52" y2="205.8" stroke="#3a3a3a" stroke-width="0.4"/><line x1="272.52" y1="119.5" x2="272.52" y2="120.6" stroke="#3a3a3a" stroke-width="0.4"/><text x="272.52" y="212.2" font-size="3.1" fill="#555" class="t" text-anchor="middle">400</text><line x1="283.61" y1="206.9" x2="283.61" y2="205.8" stroke="#3a3a3a" stroke-width="0.4"/><line x1="283.61" y1="119.5" x2="283.61" y2="120.6" stroke="#3a3a3a" stroke-width="0.4"/><text x="283.61" y="212.2" font-size="3.1" fill="#555" class="t" text-anchor="middle">450</text><line x1="294.7" y1="206.9" x2="294.7" y2="205.8" stroke="#3a3a3a" stroke-width="0.4"/><line x1="294.7" y1="119.5" x2="294.7" y2="120.6" stroke="#3a3a3a" stroke-width="0.4"/><text x="294.7" y="212.2" font-size="3.1" fill="#555" class="t" text-anchor="middle">500</text><text x="239.25" y="217.2" font-size="3.6" fill="#333" class="t" text-anchor="middle">Iteration</text><text transform="translate(173 163.2) rotate(-90)" font-size="3.6" fill="#333" class="f" text-anchor="middle">Fitness function</text><line x1="183.8" y1="195.27" x2="184.9" y2="195.27" stroke="#3a3a3a" stroke-width="0.4"/><line x1="294.7" y1="195.27" x2="293.6" y2="195.27" stroke="#3a3a3a" stroke-width="0.4"/><text x="182.6" y="196.37" font-size="3.0" fill="#555" class="t" text-anchor="end">620</text><line x1="183.8" y1="182.67" x2="184.9" y2="182.67" stroke="#3a3a3a" stroke-width="0.4"/><line x1="294.7" y1="182.67" x2="293.6" y2="182.67" stroke="#3a3a3a" stroke-width="0.4"/><text x="182.6" y="183.77" font-size="3.0" fill="#555" class="t" text-anchor="end">640</text><line x1="183.8" y1="170.46" x2="184.9" y2="170.46" stroke="#3a3a3a" stroke-width="0.4"/><line x1="294.7" y1="170.46" x2="293.6" y2="170.46" stroke="#3a3a3a" stroke-width="0.4"/><text x="182.6" y="171.56" font-size="3.0" fill="#555" class="t" text-anchor="end">660</text><line x1="183.8" y1="158.62" x2="184.9" y2="158.62" stroke="#3a3a3a" stroke-width="0.4"/><line x1="294.7" y1="158.62" x2="293.6" y2="158.62" stroke="#3a3a3a" stroke-width="0.4"/><text x="182.6" y="159.72" font-size="3.0" fill="#555" class="t" text-anchor="end">680</text><line x1="183.8" y1="147.12" x2="184.9" y2="147.12" stroke="#3a3a3a" stroke-width="0.4"/><line x1="294.7" y1="147.12" x2="293.6" y2="147.12" stroke="#3a3a3a" stroke-width="0.4"/><text x="182.6" y="148.22" font-size="3.0" fill="#555" class="t" text-anchor="end">700</text><line x1="183.8" y1="135.94" x2="184.9" y2="135.94" stroke="#3a3a3a" stroke-width="0.4"/><line x1="294.7" y1="135.94" x2="293.6" y2="135.94" stroke="#3a3a3a" stroke-width="0.4"/><text x="182.6" y="137.04" font-size="3.0" fill="#555" class="t" text-anchor="end">720</text><line x1="183.8" y1="125.07" x2="184.9" y2="125.07" stroke="#3a3a3a" stroke-width="0.4"/><line x1="294.7" y1="125.07" x2="293.6" y2="125.07" stroke="#3a3a3a" stroke-width="0.4"/><text x="182.6" y="126.17" font-size="3.0" fill="#555" class="t" text-anchor="end">740</text><g clip-path="url(#cp4)" fill="none" stroke-linejoin="round"><polyline points="184.02,128 192.45,148 200.88,155 209.31,159 217.74,162 226.16,164 234.59,165.4 243.02,167 251.45,168.5 259.88,169.5 268.31,170 276.73,170.5 285.16,171 293.59,171.5" stroke="#0000ff" stroke-width="0.55" stroke-opacity="0.9"/><polyline points="184.02,119.5 192.45,158 200.88,161.6 209.31,162 217.74,162.4 226.16,162.47 234.59,162.53 243.02,162.6 251.45,162.67 259.88,162.73 268.31,162.8 276.73,162.87 285.16,162.93 293.59,163" stroke="#00ff00" stroke-width="0.55" stroke-opacity="0.9"/><path d="M182.47 119.5l1.55 -1.24l1.55 1.24l-1.55 1.24z" fill="#00ff00"/><path d="M190.9 158l1.55 -1.24l1.55 1.24l-1.55 1.24z" fill="#00ff00"/><path d="M199.33 161.6l1.55 -1.24l1.55 1.24l-1.55 1.24z" fill="#00ff00"/><path d="M207.75 162l1.55 -1.24l1.55 1.24l-1.55 1.24z" fill="#00ff00"/><path d="M216.18 162.4l1.55 -1.24l1.55 1.24l-1.55 1.24z" fill="#00ff00"/><path d="M224.61 162.47l1.55 -1.24l1.55 1.24l-1.55 1.24z" fill="#00ff00"/><path d="M233.04 162.53l1.55 -1.24l1.55 1.24l-1.55 1.24z" fill="#00ff00"/><path d="M241.47 162.6l1.55 -1.24l1.55 1.24l-1.55 1.24z" fill="#00ff00"/><path d="M249.9 162.67l1.55 -1.24l1.55 1.24l-1.55 1.24z" fill="#00ff00"/><path d="M258.32 162.73l1.55 -1.24l1.55 1.24l-1.55 1.24z" fill="#00ff00"/><path d="M266.75 162.8l1.55 -1.24l1.55 1.24l-1.55 1.24z" fill="#00ff00"/><path d="M275.18 162.87l1.55 -1.24l1.55 1.24l-1.55 1.24z" fill="#00ff00"/><path d="M283.61 162.93l1.55 -1.24l1.55 1.24l-1.55 1.24z" fill="#00ff00"/><path d="M292.04 163l1.55 -1.24l1.55 1.24l-1.55 1.24z" fill="#00ff00"/><polyline points="184.02,124 192.45,147.5 200.88,149.5 209.31,151.8 217.74,153.2 226.16,153.8 234.59,154.3 243.02,155 251.45,155.08 259.88,155.17 268.31,155.25 276.73,155.33 285.16,155.42 293.59,155.5" stroke="#505060" stroke-width="0.55" stroke-opacity="0.9"/><polyline points="184.02,125 192.45,155 200.88,158.8 209.31,160.2 217.74,161 226.16,160.7 234.59,160.3 243.02,160.37 251.45,160.44 259.88,160.51 268.31,160.59 276.73,160.66 285.16,160.73 293.59,160.8" stroke="#ff00ff" stroke-width="0.55" stroke-opacity="0.65"/><circle cx="184.02" cy="125" r="1.15" fill="#ff00ff"/><circle cx="192.45" cy="155" r="1.15" fill="#ff00ff"/><circle cx="200.88" cy="158.8" r="1.15" fill="#ff00ff"/><circle cx="209.31" cy="160.2" r="1.15" fill="#ff00ff"/><circle cx="217.74" cy="161" r="1.15" fill="#ff00ff"/><circle cx="226.16" cy="160.7" r="1.15" fill="#ff00ff"/><circle cx="234.59" cy="160.3" r="1.15" fill="#ff00ff"/><circle cx="243.02" cy="160.37" r="1.15" fill="#ff00ff"/><circle cx="251.45" cy="160.44" r="1.15" fill="#ff00ff"/><circle cx="259.88" cy="160.51" r="1.15" fill="#ff00ff"/><circle cx="268.31" cy="160.59" r="1.15" fill="#ff00ff"/><circle cx="276.73" cy="160.66" r="1.15" fill="#ff00ff"/><circle cx="285.16" cy="160.73" r="1.15" fill="#ff00ff"/><circle cx="293.59" cy="160.8" r="1.15" fill="#ff00ff"/><polyline points="184.02,130 192.45,157 200.88,162.6 209.31,168.2 217.74,173.8 226.16,178.5 234.59,184 243.02,189 251.45,192.5 259.88,195.5 268.31,198 276.73,200 285.16,201.5 293.59,202.5" stroke="#00ffff" stroke-width="0.55" stroke-opacity="0.65"/><circle cx="184.02" cy="130" r="1.15" fill="#00ffff"/><circle cx="192.45" cy="157" r="1.15" fill="#00ffff"/><circle cx="200.88" cy="162.6" r="1.15" fill="#00ffff"/><circle cx="209.31" cy="168.2" r="1.15" fill="#00ffff"/><circle cx="217.74" cy="173.8" r="1.15" fill="#00ffff"/><circle cx="226.16" cy="178.5" r="1.15" fill="#00ffff"/><circle cx="234.59" cy="184" r="1.15" fill="#00ffff"/><circle cx="243.02" cy="189" r="1.15" fill="#00ffff"/><circle cx="251.45" cy="192.5" r="1.15" fill="#00ffff"/><circle cx="259.88" cy="195.5" r="1.15" fill="#00ffff"/><circle cx="268.31" cy="198" r="1.15" fill="#00ffff"/><circle cx="276.73" cy="200" r="1.15" fill="#00ffff"/><circle cx="285.16" cy="201.5" r="1.15" fill="#00ffff"/><circle cx="293.59" cy="202.5" r="1.15" fill="#00ffff"/><polyline points="184.02,143.5 192.45,155.1 200.88,155.4 209.31,156.4 217.74,156.9 226.16,157.3 234.59,157.5 243.02,157.57 251.45,157.64 259.88,157.71 268.31,157.79 276.73,157.86 285.16,157.93 293.59,158" stroke="#000000" stroke-width="0.55" stroke-opacity="0.9"/><circle cx="184.02" cy="143.5" r="0.98" fill="#000000"/><circle cx="192.45" cy="155.1" r="0.98" fill="#000000"/><circle cx="200.88" cy="155.4" r="0.98" fill="#000000"/><circle cx="209.31" cy="156.4" r="0.98" fill="#000000"/><circle cx="217.74" cy="156.9" r="0.98" fill="#000000"/><circle cx="226.16" cy="157.3" r="0.98" fill="#000000"/><circle cx="234.59" cy="157.5" r="0.98" fill="#000000"/><circle cx="243.02" cy="157.57" r="0.98" fill="#000000"/><circle cx="251.45" cy="157.64" r="0.98" fill="#000000"/><circle cx="259.88" cy="157.71" r="0.98" fill="#000000"/><circle cx="268.31" cy="157.79" r="0.98" fill="#000000"/><circle cx="276.73" cy="157.86" r="0.98" fill="#000000"/><circle cx="285.16" cy="157.93" r="0.98" fill="#000000"/><circle cx="293.59" cy="158" r="0.98" fill="#000000"/><polyline points="184.02,127 192.45,161.6 200.88,166 209.31,169 217.74,171 226.16,171.9 234.59,172.5 243.02,172.77 251.45,173.04 259.88,173.31 268.31,173.59 276.73,173.86 285.16,174.13 293.59,174.4" stroke="#ffff00" stroke-width="0.55" stroke-opacity="0.65"/><polyline points="184.02,126 192.45,149.5 200.88,152.8 209.31,156.4 217.74,159.8 226.16,162.2 234.59,164.8 243.02,167.8 251.45,169.5 259.88,170.3 268.31,170.8 276.73,171.17 285.16,171.53 293.59,171.9" stroke="#0000ff" stroke-width="0.55" stroke-opacity="0.65"/><circle cx="184.02" cy="126" r="1.15" fill="#0000ff"/><circle cx="192.45" cy="149.5" r="1.15" fill="#0000ff"/><circle cx="200.88" cy="152.8" r="1.15" fill="#0000ff"/><circle cx="209.31" cy="156.4" r="1.15" fill="#0000ff"/><circle cx="217.74" cy="159.8" r="1.15" fill="#0000ff"/><circle cx="226.16" cy="162.2" r="1.15" fill="#0000ff"/><circle cx="234.59" cy="164.8" r="1.15" fill="#0000ff"/><circle cx="243.02" cy="167.8" r="1.15" fill="#0000ff"/><circle cx="251.45" cy="169.5" r="1.15" fill="#0000ff"/><circle cx="259.88" cy="170.3" r="1.15" fill="#0000ff"/><circle cx="268.31" cy="170.8" r="1.15" fill="#0000ff"/><circle cx="276.73" cy="171.17" r="1.15" fill="#0000ff"/><circle cx="285.16" cy="171.53" r="1.15" fill="#0000ff"/><circle cx="293.59" cy="171.9" r="1.15" fill="#0000ff"/><polyline points="184.02,121 192.45,173.8 200.88,178.5 209.31,180.4 217.74,182.2 226.16,183 234.59,184.1 243.02,185.5 251.45,186.6 259.88,189.1 268.31,191.5 276.73,193.2 285.16,195.6 293.59,197.2" stroke="#00ff00" stroke-width="0.55" stroke-opacity="0.65"/><circle cx="184.02" cy="121" r="1.15" fill="#00ff00"/><circle cx="192.45" cy="173.8" r="1.15" fill="#00ff00"/><circle cx="200.88" cy="178.5" r="1.15" fill="#00ff00"/><circle cx="209.31" cy="180.4" r="1.15" fill="#00ff00"/><circle cx="217.74" cy="182.2" r="1.15" fill="#00ff00"/><circle cx="226.16" cy="183" r="1.15" fill="#00ff00"/><circle cx="234.59" cy="184.1" r="1.15" fill="#00ff00"/><circle cx="243.02" cy="185.5" r="1.15" fill="#00ff00"/><circle cx="251.45" cy="186.6" r="1.15" fill="#00ff00"/><circle cx="259.88" cy="189.1" r="1.15" fill="#00ff00"/><circle cx="268.31" cy="191.5" r="1.15" fill="#00ff00"/><circle cx="276.73" cy="193.2" r="1.15" fill="#00ff00"/><circle cx="285.16" cy="195.6" r="1.15" fill="#00ff00"/><circle cx="293.59" cy="197.2" r="1.15" fill="#00ff00"/><polyline points="184.02,135.4 192.45,146.6 200.88,148.5 209.31,150.4 217.74,151.3 226.16,151.9 234.59,152.3 243.02,152.34 251.45,152.39 259.88,152.43 268.31,152.47 276.73,152.51 285.16,152.56 293.59,152.6" stroke="#ff0000" stroke-width="0.55" stroke-opacity="0.9"/><polyline points="184.02,125.1 192.45,155 200.88,160.7 209.31,162.6 217.74,164.4 226.16,168.2 234.59,172.9 243.02,176.8 251.45,178.1 259.88,178.5 268.31,178.62 276.73,178.75 285.16,178.88 293.59,179" stroke="#ff00ff" stroke-width="0.55" stroke-opacity="0.65"/><circle cx="184.02" cy="125.1" r="1.15" fill="#ff00ff"/><circle cx="192.45" cy="155" r="1.15" fill="#ff00ff"/><circle cx="200.88" cy="160.7" r="1.15" fill="#ff00ff"/><circle cx="209.31" cy="162.6" r="1.15" fill="#ff00ff"/><circle cx="217.74" cy="164.4" r="1.15" fill="#ff00ff"/><circle cx="226.16" cy="168.2" r="1.15" fill="#ff00ff"/><circle cx="234.59" cy="172.9" r="1.15" fill="#ff00ff"/><circle cx="243.02" cy="176.8" r="1.15" fill="#ff00ff"/><circle cx="251.45" cy="178.1" r="1.15" fill="#ff00ff"/><circle cx="259.88" cy="178.5" r="1.15" fill="#ff00ff"/><circle cx="268.31" cy="178.62" r="1.15" fill="#ff00ff"/><circle cx="276.73" cy="178.75" r="1.15" fill="#ff00ff"/><circle cx="285.16" cy="178.88" r="1.15" fill="#ff00ff"/><circle cx="293.59" cy="179" r="1.15" fill="#ff00ff"/><polyline points="184.02,132 192.45,166 200.88,178.5 209.31,188.8 217.74,194.4 226.16,198.1 234.59,200 243.02,201.5 251.45,202.5 259.88,202.8 268.31,203.1 276.73,203.4 285.16,203.7 293.59,204" stroke="#ffff00" stroke-width="0.55" stroke-opacity="0.65"/><circle cx="184.02" cy="132" r="1.15" fill="#ffff00"/><circle cx="192.45" cy="166" r="1.15" fill="#ffff00"/><circle cx="200.88" cy="178.5" r="1.15" fill="#ffff00"/><circle cx="209.31" cy="188.8" r="1.15" fill="#ffff00"/><circle cx="217.74" cy="194.4" r="1.15" fill="#ffff00"/><circle cx="226.16" cy="198.1" r="1.15" fill="#ffff00"/><circle cx="234.59" cy="200" r="1.15" fill="#ffff00"/><circle cx="243.02" cy="201.5" r="1.15" fill="#ffff00"/><circle cx="251.45" cy="202.5" r="1.15" fill="#ffff00"/><circle cx="259.88" cy="202.8" r="1.15" fill="#ffff00"/><circle cx="268.31" cy="203.1" r="1.15" fill="#ffff00"/><circle cx="276.73" cy="203.4" r="1.15" fill="#ffff00"/><circle cx="285.16" cy="203.7" r="1.15" fill="#ffff00"/><circle cx="293.59" cy="204" r="1.15" fill="#ffff00"/><polyline points="184.02,129 192.45,159 200.88,166 209.31,171.9 217.74,177.5 226.16,182.8 234.59,186.9 243.02,191.5 251.45,194 259.88,196.4 268.31,198.1 276.73,199.4 285.16,200.5 293.59,201.3" stroke="#00ffff" stroke-width="0.55" stroke-opacity="0.65"/><circle cx="184.02" cy="129" r="1.15" fill="#00ffff"/><circle cx="192.45" cy="159" r="1.15" fill="#00ffff"/><circle cx="200.88" cy="166" r="1.15" fill="#00ffff"/><circle cx="209.31" cy="171.9" r="1.15" fill="#00ffff"/><circle cx="217.74" cy="177.5" r="1.15" fill="#00ffff"/><circle cx="226.16" cy="182.8" r="1.15" fill="#00ffff"/><circle cx="234.59" cy="186.9" r="1.15" fill="#00ffff"/><circle cx="243.02" cy="191.5" r="1.15" fill="#00ffff"/><circle cx="251.45" cy="194" r="1.15" fill="#00ffff"/><circle cx="259.88" cy="196.4" r="1.15" fill="#00ffff"/><circle cx="268.31" cy="198.1" r="1.15" fill="#00ffff"/><circle cx="276.73" cy="199.4" r="1.15" fill="#00ffff"/><circle cx="285.16" cy="200.5" r="1.15" fill="#00ffff"/><circle cx="293.59" cy="201.3" r="1.15" fill="#00ffff"/><polyline points="184.02,137 192.45,183.2 200.88,192.5 209.31,196.3 217.74,198.5 226.16,200 234.59,201 243.02,202.6 251.45,203.3 259.88,203.7 268.31,203.85 276.73,204 285.16,204.15 293.59,204.3" stroke="#ff0000" stroke-width="0.55" stroke-opacity="0.9"/><circle cx="184.02" cy="137" r="1.15" fill="#ff0000"/><circle cx="192.45" cy="183.2" r="1.15" fill="#ff0000"/><circle cx="200.88" cy="192.5" r="1.15" fill="#ff0000"/><circle cx="209.31" cy="196.3" r="1.15" fill="#ff0000"/><circle cx="217.74" cy="198.5" r="1.15" fill="#ff0000"/><circle cx="226.16" cy="200" r="1.15" fill="#ff0000"/><circle cx="234.59" cy="201" r="1.15" fill="#ff0000"/><circle cx="243.02" cy="202.6" r="1.15" fill="#ff0000"/><circle cx="251.45" cy="203.3" r="1.15" fill="#ff0000"/><circle cx="259.88" cy="203.7" r="1.15" fill="#ff0000"/><circle cx="268.31" cy="203.85" r="1.15" fill="#ff0000"/><circle cx="276.73" cy="204" r="1.15" fill="#ff0000"/><circle cx="285.16" cy="204.15" r="1.15" fill="#ff0000"/><circle cx="293.59" cy="204.3" r="1.15" fill="#ff0000"/></g><rect x="183.8" y="119.5" width="110.9" height="87.4" fill="none" stroke="#3a3a3a" stroke-width="0.55"/><rect x="265.7" y="121.9" width="26.5" height="59.8" fill="#fff" stroke="#999" stroke-width="0.45"/><line x1="266.5" y1="124.8" x2="277" y2="124.8" stroke="#0000ff" stroke-width="0.5"/><text x="278.1" y="125.85" font-size="3.0" fill="#666666" class="t">SSA</text><line x1="266.5" y1="129.02" x2="277" y2="129.02" stroke="#00ff00" stroke-width="0.5"/><path d="M270.15 129.02l1.55 -1.24l1.55 1.24l-1.55 1.24z" fill="#00ff00"/><text x="278.1" y="130.07" font-size="3.0" fill="#666666" class="t">GWO</text><line x1="266.5" y1="133.24" x2="277" y2="133.24" stroke="#505060" stroke-width="0.5"/><text x="278.1" y="134.29" font-size="3.0" fill="#666666" class="t">WOA</text><line x1="266.5" y1="137.46" x2="277" y2="137.46" stroke="#ff00ff" stroke-width="0.5" stroke-opacity="0.6"/><circle cx="271.7" cy="137.46" r="1.15" fill="#ff00ff"/><text x="278.1" y="138.51" font-size="3.0" fill="#666666" class="t">PSO</text><line x1="266.5" y1="141.68" x2="277" y2="141.68" stroke="#00ffff" stroke-width="0.5" stroke-opacity="0.6"/><circle cx="271.7" cy="141.68" r="1.15" fill="#00ffff"/><text x="278.1" y="142.73" font-size="3.0" fill="#666666" class="t">ABC</text><line x1="266.5" y1="145.9" x2="277" y2="145.9" stroke="#000000" stroke-width="0.5"/><circle cx="271.7" cy="145.9" r="0.98" fill="#000000"/><text x="278.1" y="146.95" font-size="3.0" fill="#666666" class="t">FA</text><line x1="266.5" y1="150.12" x2="277" y2="150.12" stroke="#ffff00" stroke-width="0.5" stroke-opacity="0.6"/><text x="278.1" y="151.17" font-size="3.0" fill="#666666" class="t">QMEISSA</text><line x1="266.5" y1="154.34" x2="277" y2="154.34" stroke="#0000ff" stroke-width="0.5" stroke-opacity="0.6"/><circle cx="271.7" cy="154.34" r="1.15" fill="#0000ff"/><text x="278.1" y="155.39" font-size="3.0" fill="#666666" class="t">LSSA</text><line x1="266.5" y1="158.56" x2="277" y2="158.56" stroke="#00ff00" stroke-width="0.5" stroke-opacity="0.6"/><circle cx="271.7" cy="158.56" r="1.15" fill="#00ff00"/><text x="278.1" y="159.61" font-size="3.0" fill="#666666" class="t">AGWO</text><line x1="266.5" y1="162.78" x2="277" y2="162.78" stroke="#ff0000" stroke-width="0.5"/><text x="278.1" y="163.83" font-size="3.0" fill="#666666" class="t">IWOA</text><line x1="266.5" y1="167" x2="277" y2="167" stroke="#ff00ff" stroke-width="0.5" stroke-opacity="0.6"/><circle cx="271.7" cy="167" r="1.15" fill="#ff00ff"/><text x="278.1" y="168.05" font-size="3.0" fill="#666666" class="t">VPPSO</text><line x1="266.5" y1="171.22" x2="277" y2="171.22" stroke="#ffff00" stroke-width="0.5" stroke-opacity="0.6"/><circle cx="271.7" cy="171.22" r="1.15" fill="#ffff00"/><text x="278.1" y="172.27" font-size="3.0" fill="#666666" class="t">NABC</text><line x1="266.5" y1="175.44" x2="277" y2="175.44" stroke="#00ffff" stroke-width="0.5" stroke-opacity="0.6"/><circle cx="271.7" cy="175.44" r="1.15" fill="#00ffff"/><text x="278.1" y="176.49" font-size="3.0" fill="#666666" class="t">MSEFA</text><line x1="266.5" y1="179.66" x2="277" y2="179.66" stroke="#ff0000" stroke-width="0.5"/><circle cx="271.7" cy="179.66" r="1.15" fill="#ff0000"/><text x="278.1" y="180.71" font-size="3.0" fill="#666666" class="t">MSESSA</text></g>
<g><clipPath id="cp5"><rect x="347.5" y="118" width="112.4" height="90.4"/></clipPath><text x="402.95" y="117.8" font-size="3.75" fill="#333" text-anchor="middle">C07</text><line x1="358.59" y1="206.9" x2="358.59" y2="205.8" stroke="#3a3a3a" stroke-width="0.4"/><line x1="358.59" y1="119.5" x2="358.59" y2="120.6" stroke="#3a3a3a" stroke-width="0.4"/><text x="358.59" y="212.2" font-size="3.1" fill="#555" class="t" text-anchor="middle">50</text><line x1="369.68" y1="206.9" x2="369.68" y2="205.8" stroke="#3a3a3a" stroke-width="0.4"/><line x1="369.68" y1="119.5" x2="369.68" y2="120.6" stroke="#3a3a3a" stroke-width="0.4"/><text x="369.68" y="212.2" font-size="3.1" fill="#555" class="t" text-anchor="middle">100</text><line x1="380.77" y1="206.9" x2="380.77" y2="205.8" stroke="#3a3a3a" stroke-width="0.4"/><line x1="380.77" y1="119.5" x2="380.77" y2="120.6" stroke="#3a3a3a" stroke-width="0.4"/><text x="380.77" y="212.2" font-size="3.1" fill="#555" class="t" text-anchor="middle">150</text><line x1="391.86" y1="206.9" x2="391.86" y2="205.8" stroke="#3a3a3a" stroke-width="0.4"/><line x1="391.86" y1="119.5" x2="391.86" y2="120.6" stroke="#3a3a3a" stroke-width="0.4"/><text x="391.86" y="212.2" font-size="3.1" fill="#555" class="t" text-anchor="middle">200</text><line x1="402.95" y1="206.9" x2="402.95" y2="205.8" stroke="#3a3a3a" stroke-width="0.4"/><line x1="402.95" y1="119.5" x2="402.95" y2="120.6" stroke="#3a3a3a" stroke-width="0.4"/><text x="402.95" y="212.2" font-size="3.1" fill="#555" class="t" text-anchor="middle">250</text><line x1="414.04" y1="206.9" x2="414.04" y2="205.8" stroke="#3a3a3a" stroke-width="0.4"/><line x1="414.04" y1="119.5" x2="414.04" y2="120.6" stroke="#3a3a3a" stroke-width="0.4"/><text x="414.04" y="212.2" font-size="3.1" fill="#555" class="t" text-anchor="middle">300</text><line x1="425.13" y1="206.9" x2="425.13" y2="205.8" stroke="#3a3a3a" stroke-width="0.4"/><line x1="425.13" y1="119.5" x2="425.13" y2="120.6" stroke="#3a3a3a" stroke-width="0.4"/><text x="425.13" y="212.2" font-size="3.1" fill="#555" class="t" text-anchor="middle">350</text><line x1="436.22" y1="206.9" x2="436.22" y2="205.8" stroke="#3a3a3a" stroke-width="0.4"/><line x1="436.22" y1="119.5" x2="436.22" y2="120.6" stroke="#3a3a3a" stroke-width="0.4"/><text x="436.22" y="212.2" font-size="3.1" fill="#555" class="t" text-anchor="middle">400</text><line x1="447.31" y1="206.9" x2="447.31" y2="205.8" stroke="#3a3a3a" stroke-width="0.4"/><line x1="447.31" y1="119.5" x2="447.31" y2="120.6" stroke="#3a3a3a" stroke-width="0.4"/><text x="447.31" y="212.2" font-size="3.1" fill="#555" class="t" text-anchor="middle">450</text><line x1="458.4" y1="206.9" x2="458.4" y2="205.8" stroke="#3a3a3a" stroke-width="0.4"/><line x1="458.4" y1="119.5" x2="458.4" y2="120.6" stroke="#3a3a3a" stroke-width="0.4"/><text x="458.4" y="212.2" font-size="3.1" fill="#555" class="t" text-anchor="middle">500</text><text x="402.95" y="217.2" font-size="3.6" fill="#333" class="t" text-anchor="middle">Iteration</text><text transform="translate(336.7 163.2) rotate(-90)" font-size="3.6" fill="#333" class="f" text-anchor="middle">Fitness function</text><line x1="347.5" y1="205.6" x2="348.6" y2="205.6" stroke="#3a3a3a" stroke-width="0.4"/><line x1="458.4" y1="205.6" x2="457.3" y2="205.6" stroke="#3a3a3a" stroke-width="0.4"/><text x="346.3" y="206.7" font-size="3.0" fill="#555" class="t" text-anchor="end">1000</text><line x1="347.5" y1="185.93" x2="348.6" y2="185.93" stroke="#3a3a3a" stroke-width="0.4"/><line x1="458.4" y1="185.93" x2="457.3" y2="185.93" stroke="#3a3a3a" stroke-width="0.4"/><text x="346.3" y="187.03" font-size="3.0" fill="#555" class="t" text-anchor="end">1500</text><line x1="347.5" y1="171.97" x2="348.6" y2="171.97" stroke="#3a3a3a" stroke-width="0.4"/><line x1="458.4" y1="171.97" x2="457.3" y2="171.97" stroke="#3a3a3a" stroke-width="0.4"/><text x="346.3" y="173.07" font-size="3.0" fill="#555" class="t" text-anchor="end">2000</text><line x1="347.5" y1="161.15" x2="348.6" y2="161.15" stroke="#3a3a3a" stroke-width="0.4"/><line x1="458.4" y1="161.15" x2="457.3" y2="161.15" stroke="#3a3a3a" stroke-width="0.4"/><text x="346.3" y="162.25" font-size="3.0" fill="#555" class="t" text-anchor="end">2500</text><line x1="347.5" y1="152.31" x2="348.6" y2="152.31" stroke="#3a3a3a" stroke-width="0.4"/><line x1="458.4" y1="152.31" x2="457.3" y2="152.31" stroke="#3a3a3a" stroke-width="0.4"/><text x="346.3" y="153.41" font-size="3.0" fill="#555" class="t" text-anchor="end">3000</text><line x1="347.5" y1="144.83" x2="348.6" y2="144.83" stroke="#3a3a3a" stroke-width="0.4"/><line x1="458.4" y1="144.83" x2="457.3" y2="144.83" stroke="#3a3a3a" stroke-width="0.4"/><text x="346.3" y="145.93" font-size="3.0" fill="#555" class="t" text-anchor="end">3500</text><line x1="347.5" y1="138.35" x2="348.6" y2="138.35" stroke="#3a3a3a" stroke-width="0.4"/><line x1="458.4" y1="138.35" x2="457.3" y2="138.35" stroke="#3a3a3a" stroke-width="0.4"/><text x="346.3" y="139.45" font-size="3.0" fill="#555" class="t" text-anchor="end">4000</text><line x1="347.5" y1="132.64" x2="348.6" y2="132.64" stroke="#3a3a3a" stroke-width="0.4"/><line x1="458.4" y1="132.64" x2="457.3" y2="132.64" stroke="#3a3a3a" stroke-width="0.4"/><text x="346.3" y="133.74" font-size="3.0" fill="#555" class="t" text-anchor="end">4500</text><line x1="347.5" y1="127.53" x2="348.6" y2="127.53" stroke="#3a3a3a" stroke-width="0.4"/><line x1="458.4" y1="127.53" x2="457.3" y2="127.53" stroke="#3a3a3a" stroke-width="0.4"/><text x="346.3" y="128.63" font-size="3.0" fill="#555" class="t" text-anchor="end">5000</text><line x1="347.5" y1="122.9" x2="348.6" y2="122.9" stroke="#3a3a3a" stroke-width="0.4"/><line x1="458.4" y1="122.9" x2="457.3" y2="122.9" stroke="#3a3a3a" stroke-width="0.4"/><text x="346.3" y="124" font-size="3.0" fill="#555" class="t" text-anchor="end">5500</text><g clip-path="url(#cp5)" fill="none" stroke-linejoin="round"><polyline points="347.72,166 356.15,171.5 364.58,173 373.01,174.5 381.44,175.5 389.86,176.5 398.29,177 406.72,177.07 415.15,177.14 423.58,177.21 432.01,177.29 440.43,177.36 448.86,177.43 457.29,177.5" stroke="#0000ff" stroke-width="0.55" stroke-opacity="0.9"/><polyline points="347.72,119.2 356.15,184.2 364.58,185 373.01,185.3 381.44,185.45 389.86,185.6 398.29,185.69 406.72,185.78 415.15,185.86 423.58,185.95 432.01,186.04 440.43,186.12 448.86,186.21 457.29,186.3" stroke="#00ff00" stroke-width="0.55" stroke-opacity="0.9"/><path d="M346.17 119.2l1.55 -1.24l1.55 1.24l-1.55 1.24z" fill="#00ff00"/><path d="M354.6 184.2l1.55 -1.24l1.55 1.24l-1.55 1.24z" fill="#00ff00"/><path d="M363.03 185l1.55 -1.24l1.55 1.24l-1.55 1.24z" fill="#00ff00"/><path d="M371.45 185.3l1.55 -1.24l1.55 1.24l-1.55 1.24z" fill="#00ff00"/><path d="M379.88 185.45l1.55 -1.24l1.55 1.24l-1.55 1.24z" fill="#00ff00"/><path d="M388.31 185.6l1.55 -1.24l1.55 1.24l-1.55 1.24z" fill="#00ff00"/><path d="M396.74 185.69l1.55 -1.24l1.55 1.24l-1.55 1.24z" fill="#00ff00"/><path d="M405.17 185.78l1.55 -1.24l1.55 1.24l-1.55 1.24z" fill="#00ff00"/><path d="M413.6 185.86l1.55 -1.24l1.55 1.24l-1.55 1.24z" fill="#00ff00"/><path d="M422.02 185.95l1.55 -1.24l1.55 1.24l-1.55 1.24z" fill="#00ff00"/><path d="M430.45 186.04l1.55 -1.24l1.55 1.24l-1.55 1.24z" fill="#00ff00"/><path d="M438.88 186.12l1.55 -1.24l1.55 1.24l-1.55 1.24z" fill="#00ff00"/><path d="M447.31 186.21l1.55 -1.24l1.55 1.24l-1.55 1.24z" fill="#00ff00"/><path d="M455.74 186.3l1.55 -1.24l1.55 1.24l-1.55 1.24z" fill="#00ff00"/><polyline points="347.72,120 356.15,172 364.58,174 373.01,175 381.44,175.5 389.86,175.58 398.29,175.66 406.72,175.73 415.15,175.81 423.58,175.89 432.01,175.97 440.43,176.04 448.86,176.12 457.29,176.2" stroke="#505060" stroke-width="0.55" stroke-opacity="0.9"/><polyline points="347.72,131 356.15,174.4 364.58,175.2 373.01,175.6 381.44,176 389.86,176.06 398.29,176.11 406.72,176.17 415.15,176.22 423.58,176.28 432.01,176.33 440.43,176.39 448.86,176.44 457.29,176.5" stroke="#ff00ff" stroke-width="0.55" stroke-opacity="0.65"/><circle cx="347.72" cy="131" r="1.15" fill="#ff00ff"/><circle cx="356.15" cy="174.4" r="1.15" fill="#ff00ff"/><circle cx="364.58" cy="175.2" r="1.15" fill="#ff00ff"/><circle cx="373.01" cy="175.6" r="1.15" fill="#ff00ff"/><circle cx="381.44" cy="176" r="1.15" fill="#ff00ff"/><circle cx="389.86" cy="176.06" r="1.15" fill="#ff00ff"/><circle cx="398.29" cy="176.11" r="1.15" fill="#ff00ff"/><circle cx="406.72" cy="176.17" r="1.15" fill="#ff00ff"/><circle cx="415.15" cy="176.22" r="1.15" fill="#ff00ff"/><circle cx="423.58" cy="176.28" r="1.15" fill="#ff00ff"/><circle cx="432.01" cy="176.33" r="1.15" fill="#ff00ff"/><circle cx="440.43" cy="176.39" r="1.15" fill="#ff00ff"/><circle cx="448.86" cy="176.44" r="1.15" fill="#ff00ff"/><circle cx="457.29" cy="176.5" r="1.15" fill="#ff00ff"/><polyline points="347.72,121.5 356.15,136.5 364.58,152 373.01,167 381.44,175.5 389.86,182 398.29,186.6 406.72,190 415.15,192.5 423.58,194.5 432.01,196 440.43,197.2 448.86,198.2 457.29,198.9" stroke="#00ffff" stroke-width="0.55" stroke-opacity="0.65"/><circle cx="347.72" cy="121.5" r="1.15" fill="#00ffff"/><circle cx="356.15" cy="136.5" r="1.15" fill="#00ffff"/><circle cx="364.58" cy="152" r="1.15" fill="#00ffff"/><circle cx="373.01" cy="167" r="1.15" fill="#00ffff"/><circle cx="381.44" cy="175.5" r="1.15" fill="#00ffff"/><circle cx="389.86" cy="182" r="1.15" fill="#00ffff"/><circle cx="398.29" cy="186.6" r="1.15" fill="#00ffff"/><circle cx="406.72" cy="190" r="1.15" fill="#00ffff"/><circle cx="415.15" cy="192.5" r="1.15" fill="#00ffff"/><circle cx="423.58" cy="194.5" r="1.15" fill="#00ffff"/><circle cx="432.01" cy="196" r="1.15" fill="#00ffff"/><circle cx="440.43" cy="197.2" r="1.15" fill="#00ffff"/><circle cx="448.86" cy="198.2" r="1.15" fill="#00ffff"/><circle cx="457.29" cy="198.9" r="1.15" fill="#00ffff"/><polyline points="347.72,148.2 356.15,157.2 364.58,158 373.01,158.8 381.44,159.7 389.86,160.2 398.29,160.4 406.72,160.53 415.15,160.66 423.58,160.79 432.01,160.91 440.43,161.04 448.86,161.17 457.29,161.3" stroke="#000000" stroke-width="0.55" stroke-opacity="0.9"/><circle cx="347.72" cy="148.2" r="0.98" fill="#000000"/><circle cx="356.15" cy="157.2" r="0.98" fill="#000000"/><circle cx="364.58" cy="158" r="0.98" fill="#000000"/><circle cx="373.01" cy="158.8" r="0.98" fill="#000000"/><circle cx="381.44" cy="159.7" r="0.98" fill="#000000"/><circle cx="389.86" cy="160.2" r="0.98" fill="#000000"/><circle cx="398.29" cy="160.4" r="0.98" fill="#000000"/><circle cx="406.72" cy="160.53" r="0.98" fill="#000000"/><circle cx="415.15" cy="160.66" r="0.98" fill="#000000"/><circle cx="423.58" cy="160.79" r="0.98" fill="#000000"/><circle cx="432.01" cy="160.91" r="0.98" fill="#000000"/><circle cx="440.43" cy="161.04" r="0.98" fill="#000000"/><circle cx="448.86" cy="161.17" r="0.98" fill="#000000"/><circle cx="457.29" cy="161.3" r="0.98" fill="#000000"/><polyline points="347.72,121 356.15,176 364.58,183 373.01,186 381.44,187.5 389.86,187.85 398.29,188.2 406.72,188.21 415.15,188.23 423.58,188.24 432.01,188.26 440.43,188.27 448.86,188.29 457.29,188.3" stroke="#ffff00" stroke-width="0.55" stroke-opacity="0.65"/><polyline points="347.72,166.5 356.15,171.9 364.58,173.6 373.01,175.2 381.44,176 389.86,177.2 398.29,177.6 406.72,178.5 415.15,180.1 423.58,180.4 432.01,180.53 440.43,180.65 448.86,180.78 457.29,180.9" stroke="#0000ff" stroke-width="0.55" stroke-opacity="0.65"/><circle cx="347.72" cy="166.5" r="1.15" fill="#0000ff"/><circle cx="356.15" cy="171.9" r="1.15" fill="#0000ff"/><circle cx="364.58" cy="173.6" r="1.15" fill="#0000ff"/><circle cx="373.01" cy="175.2" r="1.15" fill="#0000ff"/><circle cx="381.44" cy="176" r="1.15" fill="#0000ff"/><circle cx="389.86" cy="177.2" r="1.15" fill="#0000ff"/><circle cx="398.29" cy="177.6" r="1.15" fill="#0000ff"/><circle cx="406.72" cy="178.5" r="1.15" fill="#0000ff"/><circle cx="415.15" cy="180.1" r="1.15" fill="#0000ff"/><circle cx="423.58" cy="180.4" r="1.15" fill="#0000ff"/><circle cx="432.01" cy="180.53" r="1.15" fill="#0000ff"/><circle cx="440.43" cy="180.65" r="1.15" fill="#0000ff"/><circle cx="448.86" cy="180.78" r="1.15" fill="#0000ff"/><circle cx="457.29" cy="180.9" r="1.15" fill="#0000ff"/><polyline points="347.72,120 356.15,188.6 364.58,189.9 373.01,191 381.44,191.8 389.86,192.7 398.29,193.2 406.72,195 415.15,196.5 423.58,197.7 432.01,198.9 440.43,200 448.86,201.2 457.29,202.5" stroke="#00ff00" stroke-width="0.55" stroke-opacity="0.65"/><circle cx="347.72" cy="120" r="1.15" fill="#00ff00"/><circle cx="356.15" cy="188.6" r="1.15" fill="#00ff00"/><circle cx="364.58" cy="189.9" r="1.15" fill="#00ff00"/><circle cx="373.01" cy="191" r="1.15" fill="#00ff00"/><circle cx="381.44" cy="191.8" r="1.15" fill="#00ff00"/><circle cx="389.86" cy="192.7" r="1.15" fill="#00ff00"/><circle cx="398.29" cy="193.2" r="1.15" fill="#00ff00"/><circle cx="406.72" cy="195" r="1.15" fill="#00ff00"/><circle cx="415.15" cy="196.5" r="1.15" fill="#00ff00"/><circle cx="423.58" cy="197.7" r="1.15" fill="#00ff00"/><circle cx="432.01" cy="198.9" r="1.15" fill="#00ff00"/><circle cx="440.43" cy="200" r="1.15" fill="#00ff00"/><circle cx="448.86" cy="201.2" r="1.15" fill="#00ff00"/><circle cx="457.29" cy="202.5" r="1.15" fill="#00ff00"/><polyline points="347.72,167.2 356.15,173.5 364.58,174.4 373.01,175 381.44,175.5 389.86,176 398.29,176.04 406.72,176.07 415.15,176.11 423.58,176.15 432.01,176.19 440.43,176.23 448.86,176.26 457.29,176.3" stroke="#ff0000" stroke-width="0.55" stroke-opacity="0.9"/><polyline points="347.72,130.7 356.15,179.3 364.58,181.7 373.01,184.2 381.44,185.8 389.86,187.4 398.29,191 406.72,195.5 415.15,198.1 423.58,198.5 432.01,198.6 440.43,198.7 448.86,198.8 457.29,198.9" stroke="#ff00ff" stroke-width="0.55" stroke-opacity="0.65"/><circle cx="347.72" cy="130.7" r="1.15" fill="#ff00ff"/><circle cx="356.15" cy="179.3" r="1.15" fill="#ff00ff"/><circle cx="364.58" cy="181.7" r="1.15" fill="#ff00ff"/><circle cx="373.01" cy="184.2" r="1.15" fill="#ff00ff"/><circle cx="381.44" cy="185.8" r="1.15" fill="#ff00ff"/><circle cx="389.86" cy="187.4" r="1.15" fill="#ff00ff"/><circle cx="398.29" cy="191" r="1.15" fill="#ff00ff"/><circle cx="406.72" cy="195.5" r="1.15" fill="#ff00ff"/><circle cx="415.15" cy="198.1" r="1.15" fill="#ff00ff"/><circle cx="423.58" cy="198.5" r="1.15" fill="#ff00ff"/><circle cx="432.01" cy="198.6" r="1.15" fill="#ff00ff"/><circle cx="440.43" cy="198.7" r="1.15" fill="#ff00ff"/><circle cx="448.86" cy="198.8" r="1.15" fill="#ff00ff"/><circle cx="457.29" cy="198.9" r="1.15" fill="#ff00ff"/><polyline points="347.72,122 356.15,160.5 364.58,181.7 373.01,189.9 381.44,194.8 389.86,198 398.29,199.7 406.72,201 415.15,202 423.58,202.8 432.01,203.5 440.43,204.1 448.86,204.6 457.29,205" stroke="#ffff00" stroke-width="0.55" stroke-opacity="0.65"/><circle cx="347.72" cy="122" r="1.15" fill="#ffff00"/><circle cx="356.15" cy="160.5" r="1.15" fill="#ffff00"/><circle cx="364.58" cy="181.7" r="1.15" fill="#ffff00"/><circle cx="373.01" cy="189.9" r="1.15" fill="#ffff00"/><circle cx="381.44" cy="194.8" r="1.15" fill="#ffff00"/><circle cx="389.86" cy="198" r="1.15" fill="#ffff00"/><circle cx="398.29" cy="199.7" r="1.15" fill="#ffff00"/><circle cx="406.72" cy="201" r="1.15" fill="#ffff00"/><circle cx="415.15" cy="202" r="1.15" fill="#ffff00"/><circle cx="423.58" cy="202.8" r="1.15" fill="#ffff00"/><circle cx="432.01" cy="203.5" r="1.15" fill="#ffff00"/><circle cx="440.43" cy="204.1" r="1.15" fill="#ffff00"/><circle cx="448.86" cy="204.6" r="1.15" fill="#ffff00"/><circle cx="457.29" cy="205" r="1.15" fill="#ffff00"/><polyline points="347.72,145 356.15,157.2 364.58,172.7 373.01,177.6 381.44,180.5 389.86,185 398.29,189.9 406.72,193.2 415.15,194 423.58,195 432.01,196 440.43,197.2 448.86,198 457.29,198.9" stroke="#00ffff" stroke-width="0.55" stroke-opacity="0.65"/><circle cx="347.72" cy="145" r="1.15" fill="#00ffff"/><circle cx="356.15" cy="157.2" r="1.15" fill="#00ffff"/><circle cx="364.58" cy="172.7" r="1.15" fill="#00ffff"/><circle cx="373.01" cy="177.6" r="1.15" fill="#00ffff"/><circle cx="381.44" cy="180.5" r="1.15" fill="#00ffff"/><circle cx="389.86" cy="185" r="1.15" fill="#00ffff"/><circle cx="398.29" cy="189.9" r="1.15" fill="#00ffff"/><circle cx="406.72" cy="193.2" r="1.15" fill="#00ffff"/><circle cx="415.15" cy="194" r="1.15" fill="#00ffff"/><circle cx="423.58" cy="195" r="1.15" fill="#00ffff"/><circle cx="432.01" cy="196" r="1.15" fill="#00ffff"/><circle cx="440.43" cy="197.2" r="1.15" fill="#00ffff"/><circle cx="448.86" cy="198" r="1.15" fill="#00ffff"/><circle cx="457.29" cy="198.9" r="1.15" fill="#00ffff"/><polyline points="347.72,167 356.15,189.9 364.58,196.4 373.01,198.6 381.44,199.7 389.86,200.2 398.29,200.8 406.72,201.3 415.15,201.37 423.58,201.43 432.01,201.5 440.43,201.57 448.86,201.63 457.29,201.7" stroke="#ff0000" stroke-width="0.55" stroke-opacity="0.9"/><circle cx="347.72" cy="167" r="1.15" fill="#ff0000"/><circle cx="356.15" cy="189.9" r="1.15" fill="#ff0000"/><circle cx="364.58" cy="196.4" r="1.15" fill="#ff0000"/><circle cx="373.01" cy="198.6" r="1.15" fill="#ff0000"/><circle cx="381.44" cy="199.7" r="1.15" fill="#ff0000"/><circle cx="389.86" cy="200.2" r="1.15" fill="#ff0000"/><circle cx="398.29" cy="200.8" r="1.15" fill="#ff0000"/><circle cx="406.72" cy="201.3" r="1.15" fill="#ff0000"/><circle cx="415.15" cy="201.37" r="1.15" fill="#ff0000"/><circle cx="423.58" cy="201.43" r="1.15" fill="#ff0000"/><circle cx="432.01" cy="201.5" r="1.15" fill="#ff0000"/><circle cx="440.43" cy="201.57" r="1.15" fill="#ff0000"/><circle cx="448.86" cy="201.63" r="1.15" fill="#ff0000"/><circle cx="457.29" cy="201.7" r="1.15" fill="#ff0000"/></g><rect x="347.5" y="119.5" width="110.9" height="87.4" fill="none" stroke="#3a3a3a" stroke-width="0.55"/><rect x="429.4" y="121.9" width="26.5" height="59.8" fill="#fff" stroke="#999" stroke-width="0.45"/><line x1="430.2" y1="124.8" x2="440.7" y2="124.8" stroke="#0000ff" stroke-width="0.5"/><text x="441.8" y="125.85" font-size="3.0" fill="#666666" class="t">SSA</text><line x1="430.2" y1="129.02" x2="440.7" y2="129.02" stroke="#00ff00" stroke-width="0.5"/><path d="M433.85 129.02l1.55 -1.24l1.55 1.24l-1.55 1.24z" fill="#00ff00"/><text x="441.8" y="130.07" font-size="3.0" fill="#666666" class="t">GWO</text><line x1="430.2" y1="133.24" x2="440.7" y2="133.24" stroke="#505060" stroke-width="0.5"/><text x="441.8" y="134.29" font-size="3.0" fill="#666666" class="t">WOA</text><line x1="430.2" y1="137.46" x2="440.7" y2="137.46" stroke="#ff00ff" stroke-width="0.5" stroke-opacity="0.6"/><circle cx="435.4" cy="137.46" r="1.15" fill="#ff00ff"/><text x="441.8" y="138.51" font-size="3.0" fill="#666666" class="t">PSO</text><line x1="430.2" y1="141.68" x2="440.7" y2="141.68" stroke="#00ffff" stroke-width="0.5" stroke-opacity="0.6"/><circle cx="435.4" cy="141.68" r="1.15" fill="#00ffff"/><text x="441.8" y="142.73" font-size="3.0" fill="#666666" class="t">ABC</text><line x1="430.2" y1="145.9" x2="440.7" y2="145.9" stroke="#000000" stroke-width="0.5"/><circle cx="435.4" cy="145.9" r="0.98" fill="#000000"/><text x="441.8" y="146.95" font-size="3.0" fill="#666666" class="t">FA</text><line x1="430.2" y1="150.12" x2="440.7" y2="150.12" stroke="#ffff00" stroke-width="0.5" stroke-opacity="0.6"/><text x="441.8" y="151.17" font-size="3.0" fill="#666666" class="t">QMEISSA</text><line x1="430.2" y1="154.34" x2="440.7" y2="154.34" stroke="#0000ff" stroke-width="0.5" stroke-opacity="0.6"/><circle cx="435.4" cy="154.34" r="1.15" fill="#0000ff"/><text x="441.8" y="155.39" font-size="3.0" fill="#666666" class="t">LSSA</text><line x1="430.2" y1="158.56" x2="440.7" y2="158.56" stroke="#00ff00" stroke-width="0.5" stroke-opacity="0.6"/><circle cx="435.4" cy="158.56" r="1.15" fill="#00ff00"/><text x="441.8" y="159.61" font-size="3.0" fill="#666666" class="t">AGWO</text><line x1="430.2" y1="162.78" x2="440.7" y2="162.78" stroke="#ff0000" stroke-width="0.5"/><text x="441.8" y="163.83" font-size="3.0" fill="#666666" class="t">IWOA</text><line x1="430.2" y1="167" x2="440.7" y2="167" stroke="#ff00ff" stroke-width="0.5" stroke-opacity="0.6"/><circle cx="435.4" cy="167" r="1.15" fill="#ff00ff"/><text x="441.8" y="168.05" font-size="3.0" fill="#666666" class="t">VPPSO</text><line x1="430.2" y1="171.22" x2="440.7" y2="171.22" stroke="#ffff00" stroke-width="0.5" stroke-opacity="0.6"/><circle cx="435.4" cy="171.22" r="1.15" fill="#ffff00"/><text x="441.8" y="172.27" font-size="3.0" fill="#666666" class="t">NABC</text><line x1="430.2" y1="175.44" x2="440.7" y2="175.44" stroke="#00ffff" stroke-width="0.5" stroke-opacity="0.6"/><circle cx="435.4" cy="175.44" r="1.15" fill="#00ffff"/><text x="441.8" y="176.49" font-size="3.0" fill="#666666" class="t">MSEFA</text><line x1="430.2" y1="179.66" x2="440.7" y2="179.66" stroke="#ff0000" stroke-width="0.5"/><circle cx="435.4" cy="179.66" r="1.15" fill="#ff0000"/><text x="441.8" y="180.71" font-size="3.0" fill="#666666" class="t">MSESSA</text></g>
<g><clipPath id="cp6"><rect x="20.4" y="226.3" width="112.4" height="90.4"/></clipPath><text x="75.85" y="226.1" font-size="3.75" fill="#333" text-anchor="middle">C08</text><line x1="31.49" y1="315.2" x2="31.49" y2="314.1" stroke="#3a3a3a" stroke-width="0.4"/><line x1="31.49" y1="227.8" x2="31.49" y2="228.9" stroke="#3a3a3a" stroke-width="0.4"/><text x="31.49" y="320.5" font-size="3.1" fill="#555" class="t" text-anchor="middle">50</text><line x1="42.58" y1="315.2" x2="42.58" y2="314.1" stroke="#3a3a3a" stroke-width="0.4"/><line x1="42.58" y1="227.8" x2="42.58" y2="228.9" stroke="#3a3a3a" stroke-width="0.4"/><text x="42.58" y="320.5" font-size="3.1" fill="#555" class="t" text-anchor="middle">100</text><line x1="53.67" y1="315.2" x2="53.67" y2="314.1" stroke="#3a3a3a" stroke-width="0.4"/><line x1="53.67" y1="227.8" x2="53.67" y2="228.9" stroke="#3a3a3a" stroke-width="0.4"/><text x="53.67" y="320.5" font-size="3.1" fill="#555" class="t" text-anchor="middle">150</text><line x1="64.76" y1="315.2" x2="64.76" y2="314.1" stroke="#3a3a3a" stroke-width="0.4"/><line x1="64.76" y1="227.8" x2="64.76" y2="228.9" stroke="#3a3a3a" stroke-width="0.4"/><text x="64.76" y="320.5" font-size="3.1" fill="#555" class="t" text-anchor="middle">200</text><line x1="75.85" y1="315.2" x2="75.85" y2="314.1" stroke="#3a3a3a" stroke-width="0.4"/><line x1="75.85" y1="227.8" x2="75.85" y2="228.9" stroke="#3a3a3a" stroke-width="0.4"/><text x="75.85" y="320.5" font-size="3.1" fill="#555" class="t" text-anchor="middle">250</text><line x1="86.94" y1="315.2" x2="86.94" y2="314.1" stroke="#3a3a3a" stroke-width="0.4"/><line x1="86.94" y1="227.8" x2="86.94" y2="228.9" stroke="#3a3a3a" stroke-width="0.4"/><text x="86.94" y="320.5" font-size="3.1" fill="#555" class="t" text-anchor="middle">300</text><line x1="98.03" y1="315.2" x2="98.03" y2="314.1" stroke="#3a3a3a" stroke-width="0.4"/><line x1="98.03" y1="227.8" x2="98.03" y2="228.9" stroke="#3a3a3a" stroke-width="0.4"/><text x="98.03" y="320.5" font-size="3.1" fill="#555" class="t" text-anchor="middle">350</text><line x1="109.12" y1="315.2" x2="109.12" y2="314.1" stroke="#3a3a3a" stroke-width="0.4"/><line x1="109.12" y1="227.8" x2="109.12" y2="228.9" stroke="#3a3a3a" stroke-width="0.4"/><text x="109.12" y="320.5" font-size="3.1" fill="#555" class="t" text-anchor="middle">400</text><line x1="120.21" y1="315.2" x2="120.21" y2="314.1" stroke="#3a3a3a" stroke-width="0.4"/><line x1="120.21" y1="227.8" x2="120.21" y2="228.9" stroke="#3a3a3a" stroke-width="0.4"/><text x="120.21" y="320.5" font-size="3.1" fill="#555" class="t" text-anchor="middle">450</text><line x1="131.3" y1="315.2" x2="131.3" y2="314.1" stroke="#3a3a3a" stroke-width="0.4"/><line x1="131.3" y1="227.8" x2="131.3" y2="228.9" stroke="#3a3a3a" stroke-width="0.4"/><text x="131.3" y="320.5" font-size="3.1" fill="#555" class="t" text-anchor="middle">500</text><text x="75.85" y="325.5" font-size="3.6" fill="#333" class="t" text-anchor="middle">Iteration</text><text transform="translate(9.6 271.5) rotate(-90)" font-size="3.6" fill="#333" class="f" text-anchor="middle">Fitness function</text><line x1="20.4" y1="315.5" x2="21.5" y2="315.5" stroke="#3a3a3a" stroke-width="0.4"/><line x1="131.3" y1="315.5" x2="130.2" y2="315.5" stroke="#3a3a3a" stroke-width="0.4"/><text x="19.2" y="316.6" font-size="3.0" fill="#555" class="t" text-anchor="end">1000</text><line x1="20.4" y1="303.04" x2="21.5" y2="303.04" stroke="#3a3a3a" stroke-width="0.4"/><line x1="131.3" y1="303.04" x2="130.2" y2="303.04" stroke="#3a3a3a" stroke-width="0.4"/><text x="19.2" y="304.14" font-size="3.0" fill="#555" class="t" text-anchor="end">1100</text><line x1="20.4" y1="291.67" x2="21.5" y2="291.67" stroke="#3a3a3a" stroke-width="0.4"/><line x1="131.3" y1="291.67" x2="130.2" y2="291.67" stroke="#3a3a3a" stroke-width="0.4"/><text x="19.2" y="292.77" font-size="3.0" fill="#555" class="t" text-anchor="end">1200</text><line x1="20.4" y1="281.2" x2="21.5" y2="281.2" stroke="#3a3a3a" stroke-width="0.4"/><line x1="131.3" y1="281.2" x2="130.2" y2="281.2" stroke="#3a3a3a" stroke-width="0.4"/><text x="19.2" y="282.3" font-size="3.0" fill="#555" class="t" text-anchor="end">1300</text><line x1="20.4" y1="271.52" x2="21.5" y2="271.52" stroke="#3a3a3a" stroke-width="0.4"/><line x1="131.3" y1="271.52" x2="130.2" y2="271.52" stroke="#3a3a3a" stroke-width="0.4"/><text x="19.2" y="272.62" font-size="3.0" fill="#555" class="t" text-anchor="end">1400</text><line x1="20.4" y1="262.5" x2="21.5" y2="262.5" stroke="#3a3a3a" stroke-width="0.4"/><line x1="131.3" y1="262.5" x2="130.2" y2="262.5" stroke="#3a3a3a" stroke-width="0.4"/><text x="19.2" y="263.6" font-size="3.0" fill="#555" class="t" text-anchor="end">1500</text><line x1="20.4" y1="254.06" x2="21.5" y2="254.06" stroke="#3a3a3a" stroke-width="0.4"/><line x1="131.3" y1="254.06" x2="130.2" y2="254.06" stroke="#3a3a3a" stroke-width="0.4"/><text x="19.2" y="255.16" font-size="3.0" fill="#555" class="t" text-anchor="end">1600</text><line x1="20.4" y1="246.13" x2="21.5" y2="246.13" stroke="#3a3a3a" stroke-width="0.4"/><line x1="131.3" y1="246.13" x2="130.2" y2="246.13" stroke="#3a3a3a" stroke-width="0.4"/><text x="19.2" y="247.23" font-size="3.0" fill="#555" class="t" text-anchor="end">1700</text><line x1="20.4" y1="238.66" x2="21.5" y2="238.66" stroke="#3a3a3a" stroke-width="0.4"/><line x1="131.3" y1="238.66" x2="130.2" y2="238.66" stroke="#3a3a3a" stroke-width="0.4"/><text x="19.2" y="239.76" font-size="3.0" fill="#555" class="t" text-anchor="end">1800</text><line x1="20.4" y1="231.6" x2="21.5" y2="231.6" stroke="#3a3a3a" stroke-width="0.4"/><line x1="131.3" y1="231.6" x2="130.2" y2="231.6" stroke="#3a3a3a" stroke-width="0.4"/><text x="19.2" y="232.7" font-size="3.0" fill="#555" class="t" text-anchor="end">1900</text><g clip-path="url(#cp6)" fill="none" stroke-linejoin="round"><polyline points="20.62,240 29.05,268 37.48,282.4 45.91,286.2 54.34,288.1 62.76,289.4 71.19,290 79.62,290.14 88.05,290.29 96.48,290.43 104.91,290.57 113.33,290.71 121.76,290.86 130.19,291" stroke="#0000ff" stroke-width="0.55" stroke-opacity="0.9"/><polyline points="20.62,227.5 29.05,274.7 37.48,277 45.91,277.9 54.34,278.2 62.76,278.3 71.19,278.4 79.62,278.57 88.05,278.74 96.48,278.91 104.91,279.09 113.33,279.26 121.76,279.43 130.19,279.6" stroke="#00ff00" stroke-width="0.55" stroke-opacity="0.9"/><path d="M19.07 227.5l1.55 -1.24l1.55 1.24l-1.55 1.24z" fill="#00ff00"/><path d="M27.5 274.7l1.55 -1.24l1.55 1.24l-1.55 1.24z" fill="#00ff00"/><path d="M35.93 277l1.55 -1.24l1.55 1.24l-1.55 1.24z" fill="#00ff00"/><path d="M44.35 277.9l1.55 -1.24l1.55 1.24l-1.55 1.24z" fill="#00ff00"/><path d="M52.78 278.2l1.55 -1.24l1.55 1.24l-1.55 1.24z" fill="#00ff00"/><path d="M61.21 278.3l1.55 -1.24l1.55 1.24l-1.55 1.24z" fill="#00ff00"/><path d="M69.64 278.4l1.55 -1.24l1.55 1.24l-1.55 1.24z" fill="#00ff00"/><path d="M78.07 278.57l1.55 -1.24l1.55 1.24l-1.55 1.24z" fill="#00ff00"/><path d="M86.5 278.74l1.55 -1.24l1.55 1.24l-1.55 1.24z" fill="#00ff00"/><path d="M94.92 278.91l1.55 -1.24l1.55 1.24l-1.55 1.24z" fill="#00ff00"/><path d="M103.35 279.09l1.55 -1.24l1.55 1.24l-1.55 1.24z" fill="#00ff00"/><path d="M111.78 279.26l1.55 -1.24l1.55 1.24l-1.55 1.24z" fill="#00ff00"/><path d="M120.21 279.43l1.55 -1.24l1.55 1.24l-1.55 1.24z" fill="#00ff00"/><path d="M128.64 279.6l1.55 -1.24l1.55 1.24l-1.55 1.24z" fill="#00ff00"/><polyline points="20.62,232 29.05,262 37.48,268 45.91,272.5 54.34,276 62.76,279 71.19,280.5 79.62,280.6 88.05,280.7 96.48,280.8 104.91,280.9 113.33,281 121.76,281.1 130.19,281.2" stroke="#505060" stroke-width="0.55" stroke-opacity="0.9"/><polyline points="20.62,236.9 29.05,270.9 37.48,273.4 45.91,276 54.34,278.5 62.76,288.1 71.19,300.9 79.62,304.4 88.05,306.1 96.48,306.7 104.91,306.75 113.33,306.8 121.76,306.85 130.19,306.9" stroke="#ff00ff" stroke-width="0.55" stroke-opacity="0.65"/><circle cx="20.62" cy="236.9" r="1.15" fill="#ff00ff"/><circle cx="29.05" cy="270.9" r="1.15" fill="#ff00ff"/><circle cx="37.48" cy="273.4" r="1.15" fill="#ff00ff"/><circle cx="45.91" cy="276" r="1.15" fill="#ff00ff"/><circle cx="54.34" cy="278.5" r="1.15" fill="#ff00ff"/><circle cx="62.76" cy="288.1" r="1.15" fill="#ff00ff"/><circle cx="71.19" cy="300.9" r="1.15" fill="#ff00ff"/><circle cx="79.62" cy="304.4" r="1.15" fill="#ff00ff"/><circle cx="88.05" cy="306.1" r="1.15" fill="#ff00ff"/><circle cx="96.48" cy="306.7" r="1.15" fill="#ff00ff"/><circle cx="104.91" cy="306.75" r="1.15" fill="#ff00ff"/><circle cx="113.33" cy="306.8" r="1.15" fill="#ff00ff"/><circle cx="121.76" cy="306.85" r="1.15" fill="#ff00ff"/><circle cx="130.19" cy="306.9" r="1.15" fill="#ff00ff"/><polyline points="20.62,229 29.05,251.7 37.48,263.8 45.91,272 54.34,280 62.76,287 71.19,292 79.62,294.5 88.05,296 96.48,297 104.91,297.9 113.33,298.43 121.76,298.97 130.19,299.5" stroke="#00ffff" stroke-width="0.55" stroke-opacity="0.65"/><circle cx="20.62" cy="229" r="1.15" fill="#00ffff"/><circle cx="29.05" cy="251.7" r="1.15" fill="#00ffff"/><circle cx="37.48" cy="263.8" r="1.15" fill="#00ffff"/><circle cx="45.91" cy="272" r="1.15" fill="#00ffff"/><circle cx="54.34" cy="280" r="1.15" fill="#00ffff"/><circle cx="62.76" cy="287" r="1.15" fill="#00ffff"/><circle cx="71.19" cy="292" r="1.15" fill="#00ffff"/><circle cx="79.62" cy="294.5" r="1.15" fill="#00ffff"/><circle cx="88.05" cy="296" r="1.15" fill="#00ffff"/><circle cx="96.48" cy="297" r="1.15" fill="#00ffff"/><circle cx="104.91" cy="297.9" r="1.15" fill="#00ffff"/><circle cx="113.33" cy="298.43" r="1.15" fill="#00ffff"/><circle cx="121.76" cy="298.97" r="1.15" fill="#00ffff"/><circle cx="130.19" cy="299.5" r="1.15" fill="#00ffff"/><polyline points="20.62,254.9 29.05,266.4 37.48,267.3 45.91,267.7 54.34,268 62.76,268.3 71.19,268.5 79.62,268.69 88.05,268.87 96.48,269.06 104.91,269.24 113.33,269.43 121.76,269.61 130.19,269.8" stroke="#000000" stroke-width="0.55" stroke-opacity="0.9"/><circle cx="20.62" cy="254.9" r="0.98" fill="#000000"/><circle cx="29.05" cy="266.4" r="0.98" fill="#000000"/><circle cx="37.48" cy="267.3" r="0.98" fill="#000000"/><circle cx="45.91" cy="267.7" r="0.98" fill="#000000"/><circle cx="54.34" cy="268" r="0.98" fill="#000000"/><circle cx="62.76" cy="268.3" r="0.98" fill="#000000"/><circle cx="71.19" cy="268.5" r="0.98" fill="#000000"/><circle cx="79.62" cy="268.69" r="0.98" fill="#000000"/><circle cx="88.05" cy="268.87" r="0.98" fill="#000000"/><circle cx="96.48" cy="269.06" r="0.98" fill="#000000"/><circle cx="104.91" cy="269.24" r="0.98" fill="#000000"/><circle cx="113.33" cy="269.43" r="0.98" fill="#000000"/><circle cx="121.76" cy="269.61" r="0.98" fill="#000000"/><circle cx="130.19" cy="269.8" r="0.98" fill="#000000"/><polyline points="20.62,231 29.05,272 37.48,281.1 45.91,284.3 54.34,287.5 62.76,292.6 71.19,297 79.62,299.5 88.05,299.63 96.48,299.77 104.91,299.9 113.33,300.03 121.76,300.17 130.19,300.3" stroke="#ffff00" stroke-width="0.55" stroke-opacity="0.65"/><polyline points="20.62,244.3 29.05,263.2 37.48,268.9 45.91,274 54.34,277.9 62.76,282.4 71.19,285.6 79.62,288.1 88.05,290 96.48,291.7 104.91,292.6 113.33,293.3 121.76,294 130.19,294.6" stroke="#0000ff" stroke-width="0.55" stroke-opacity="0.65"/><circle cx="20.62" cy="244.3" r="1.15" fill="#0000ff"/><circle cx="29.05" cy="263.2" r="1.15" fill="#0000ff"/><circle cx="37.48" cy="268.9" r="1.15" fill="#0000ff"/><circle cx="45.91" cy="274" r="1.15" fill="#0000ff"/><circle cx="54.34" cy="277.9" r="1.15" fill="#0000ff"/><circle cx="62.76" cy="282.4" r="1.15" fill="#0000ff"/><circle cx="71.19" cy="285.6" r="1.15" fill="#0000ff"/><circle cx="79.62" cy="288.1" r="1.15" fill="#0000ff"/><circle cx="88.05" cy="290" r="1.15" fill="#0000ff"/><circle cx="96.48" cy="291.7" r="1.15" fill="#0000ff"/><circle cx="104.91" cy="292.6" r="1.15" fill="#0000ff"/><circle cx="113.33" cy="293.3" r="1.15" fill="#0000ff"/><circle cx="121.76" cy="294" r="1.15" fill="#0000ff"/><circle cx="130.19" cy="294.6" r="1.15" fill="#0000ff"/><polyline points="20.62,233 29.05,278.5 37.48,280.5 45.91,282 54.34,283.6 62.76,284.8 71.19,286 79.62,287.5 88.05,289.5 96.48,292.5 104.91,296.3 113.33,301.2 121.76,309.3 130.19,314.2" stroke="#00ff00" stroke-width="0.55" stroke-opacity="0.65"/><circle cx="20.62" cy="233" r="1.15" fill="#00ff00"/><circle cx="29.05" cy="278.5" r="1.15" fill="#00ff00"/><circle cx="37.48" cy="280.5" r="1.15" fill="#00ff00"/><circle cx="45.91" cy="282" r="1.15" fill="#00ff00"/><circle cx="54.34" cy="283.6" r="1.15" fill="#00ff00"/><circle cx="62.76" cy="284.8" r="1.15" fill="#00ff00"/><circle cx="71.19" cy="286" r="1.15" fill="#00ff00"/><circle cx="79.62" cy="287.5" r="1.15" fill="#00ff00"/><circle cx="88.05" cy="289.5" r="1.15" fill="#00ff00"/><circle cx="96.48" cy="292.5" r="1.15" fill="#00ff00"/><circle cx="104.91" cy="296.3" r="1.15" fill="#00ff00"/><circle cx="113.33" cy="301.2" r="1.15" fill="#00ff00"/><circle cx="121.76" cy="309.3" r="1.15" fill="#00ff00"/><circle cx="130.19" cy="314.2" r="1.15" fill="#00ff00"/><polyline points="20.62,234 29.05,263 37.48,269 45.91,273.5 54.34,277 62.76,280 71.19,281 79.62,281.07 88.05,281.14 96.48,281.21 104.91,281.29 113.33,281.36 121.76,281.43 130.19,281.5" stroke="#ff0000" stroke-width="0.55" stroke-opacity="0.9"/><polyline points="20.62,236 29.05,268 37.48,276 45.91,281.1 54.34,283 62.76,285 71.19,286.2 79.62,287.3 88.05,287.38 96.48,287.47 104.91,287.55 113.33,287.63 121.76,287.72 130.19,287.8" stroke="#ff00ff" stroke-width="0.55" stroke-opacity="0.65"/><circle cx="20.62" cy="236" r="1.15" fill="#ff00ff"/><circle cx="29.05" cy="268" r="1.15" fill="#ff00ff"/><circle cx="37.48" cy="276" r="1.15" fill="#ff00ff"/><circle cx="45.91" cy="281.1" r="1.15" fill="#ff00ff"/><circle cx="54.34" cy="283" r="1.15" fill="#ff00ff"/><circle cx="62.76" cy="285" r="1.15" fill="#ff00ff"/><circle cx="71.19" cy="286.2" r="1.15" fill="#ff00ff"/><circle cx="79.62" cy="287.3" r="1.15" fill="#ff00ff"/><circle cx="88.05" cy="287.38" r="1.15" fill="#ff00ff"/><circle cx="96.48" cy="287.47" r="1.15" fill="#ff00ff"/><circle cx="104.91" cy="287.55" r="1.15" fill="#ff00ff"/><circle cx="113.33" cy="287.63" r="1.15" fill="#ff00ff"/><circle cx="121.76" cy="287.72" r="1.15" fill="#ff00ff"/><circle cx="130.19" cy="287.8" r="1.15" fill="#ff00ff"/><polyline points="20.62,238 29.05,276 37.48,284.9 45.91,290 54.34,295.8 62.76,299 71.19,302.2 79.62,304.4 88.05,306.5 96.48,308 104.91,309.5 113.33,311 121.76,313 130.19,314.5" stroke="#ffff00" stroke-width="0.55" stroke-opacity="0.65"/><circle cx="20.62" cy="238" r="1.15" fill="#ffff00"/><circle cx="29.05" cy="276" r="1.15" fill="#ffff00"/><circle cx="37.48" cy="284.9" r="1.15" fill="#ffff00"/><circle cx="45.91" cy="290" r="1.15" fill="#ffff00"/><circle cx="54.34" cy="295.8" r="1.15" fill="#ffff00"/><circle cx="62.76" cy="299" r="1.15" fill="#ffff00"/><circle cx="71.19" cy="302.2" r="1.15" fill="#ffff00"/><circle cx="79.62" cy="304.4" r="1.15" fill="#ffff00"/><circle cx="88.05" cy="306.5" r="1.15" fill="#ffff00"/><circle cx="96.48" cy="308" r="1.15" fill="#ffff00"/><circle cx="104.91" cy="309.5" r="1.15" fill="#ffff00"/><circle cx="113.33" cy="311" r="1.15" fill="#ffff00"/><circle cx="121.76" cy="313" r="1.15" fill="#ffff00"/><circle cx="130.19" cy="314.5" r="1.15" fill="#ffff00"/><polyline points="20.62,242 29.05,272 37.48,277.2 45.91,282 54.34,286 62.76,290 71.19,292.5 79.62,294.5 88.05,295.5 96.48,296.25 104.91,297 113.33,297.33 121.76,297.67 130.19,298" stroke="#00ffff" stroke-width="0.55" stroke-opacity="0.65"/><circle cx="20.62" cy="242" r="1.15" fill="#00ffff"/><circle cx="29.05" cy="272" r="1.15" fill="#00ffff"/><circle cx="37.48" cy="277.2" r="1.15" fill="#00ffff"/><circle cx="45.91" cy="282" r="1.15" fill="#00ffff"/><circle cx="54.34" cy="286" r="1.15" fill="#00ffff"/><circle cx="62.76" cy="290" r="1.15" fill="#00ffff"/><circle cx="71.19" cy="292.5" r="1.15" fill="#00ffff"/><circle cx="79.62" cy="294.5" r="1.15" fill="#00ffff"/><circle cx="88.05" cy="295.5" r="1.15" fill="#00ffff"/><circle cx="96.48" cy="296.25" r="1.15" fill="#00ffff"/><circle cx="104.91" cy="297" r="1.15" fill="#00ffff"/><circle cx="113.33" cy="297.33" r="1.15" fill="#00ffff"/><circle cx="121.76" cy="297.67" r="1.15" fill="#00ffff"/><circle cx="130.19" cy="298" r="1.15" fill="#00ffff"/><polyline points="20.62,250.9 29.05,295.2 37.48,305.1 45.91,309 54.34,309.9 62.76,310.5 71.19,310.8 79.62,310.86 88.05,310.91 96.48,310.97 104.91,311.03 113.33,311.09 121.76,311.14 130.19,311.2" stroke="#ff0000" stroke-width="0.55" stroke-opacity="0.9"/><circle cx="20.62" cy="250.9" r="1.15" fill="#ff0000"/><circle cx="29.05" cy="295.2" r="1.15" fill="#ff0000"/><circle cx="37.48" cy="305.1" r="1.15" fill="#ff0000"/><circle cx="45.91" cy="309" r="1.15" fill="#ff0000"/><circle cx="54.34" cy="309.9" r="1.15" fill="#ff0000"/><circle cx="62.76" cy="310.5" r="1.15" fill="#ff0000"/><circle cx="71.19" cy="310.8" r="1.15" fill="#ff0000"/><circle cx="79.62" cy="310.86" r="1.15" fill="#ff0000"/><circle cx="88.05" cy="310.91" r="1.15" fill="#ff0000"/><circle cx="96.48" cy="310.97" r="1.15" fill="#ff0000"/><circle cx="104.91" cy="311.03" r="1.15" fill="#ff0000"/><circle cx="113.33" cy="311.09" r="1.15" fill="#ff0000"/><circle cx="121.76" cy="311.14" r="1.15" fill="#ff0000"/><circle cx="130.19" cy="311.2" r="1.15" fill="#ff0000"/></g><rect x="20.4" y="227.8" width="110.9" height="87.4" fill="none" stroke="#3a3a3a" stroke-width="0.55"/><rect x="102.3" y="230.2" width="26.5" height="59.8" fill="#fff" stroke="#999" stroke-width="0.45"/><line x1="103.1" y1="233.1" x2="113.6" y2="233.1" stroke="#0000ff" stroke-width="0.5"/><text x="114.7" y="234.15" font-size="3.0" fill="#666666" class="t">SSA</text><line x1="103.1" y1="237.32" x2="113.6" y2="237.32" stroke="#00ff00" stroke-width="0.5"/><path d="M106.75 237.32l1.55 -1.24l1.55 1.24l-1.55 1.24z" fill="#00ff00"/><text x="114.7" y="238.37" font-size="3.0" fill="#666666" class="t">GWO</text><line x1="103.1" y1="241.54" x2="113.6" y2="241.54" stroke="#505060" stroke-width="0.5"/><text x="114.7" y="242.59" font-size="3.0" fill="#666666" class="t">WOA</text><line x1="103.1" y1="245.76" x2="113.6" y2="245.76" stroke="#ff00ff" stroke-width="0.5" stroke-opacity="0.6"/><circle cx="108.3" cy="245.76" r="1.15" fill="#ff00ff"/><text x="114.7" y="246.81" font-size="3.0" fill="#666666" class="t">PSO</text><line x1="103.1" y1="249.98" x2="113.6" y2="249.98" stroke="#00ffff" stroke-width="0.5" stroke-opacity="0.6"/><circle cx="108.3" cy="249.98" r="1.15" fill="#00ffff"/><text x="114.7" y="251.03" font-size="3.0" fill="#666666" class="t">ABC</text><line x1="103.1" y1="254.2" x2="113.6" y2="254.2" stroke="#000000" stroke-width="0.5"/><circle cx="108.3" cy="254.2" r="0.98" fill="#000000"/><text x="114.7" y="255.25" font-size="3.0" fill="#666666" class="t">FA</text><line x1="103.1" y1="258.42" x2="113.6" y2="258.42" stroke="#ffff00" stroke-width="0.5" stroke-opacity="0.6"/><text x="114.7" y="259.47" font-size="3.0" fill="#666666" class="t">QMEISSA</text><line x1="103.1" y1="262.64" x2="113.6" y2="262.64" stroke="#0000ff" stroke-width="0.5" stroke-opacity="0.6"/><circle cx="108.3" cy="262.64" r="1.15" fill="#0000ff"/><text x="114.7" y="263.69" font-size="3.0" fill="#666666" class="t">LSSA</text><line x1="103.1" y1="266.86" x2="113.6" y2="266.86" stroke="#00ff00" stroke-width="0.5" stroke-opacity="0.6"/><circle cx="108.3" cy="266.86" r="1.15" fill="#00ff00"/><text x="114.7" y="267.91" font-size="3.0" fill="#666666" class="t">AGWO</text><line x1="103.1" y1="271.08" x2="113.6" y2="271.08" stroke="#ff0000" stroke-width="0.5"/><text x="114.7" y="272.13" font-size="3.0" fill="#666666" class="t">IWOA</text><line x1="103.1" y1="275.3" x2="113.6" y2="275.3" stroke="#ff00ff" stroke-width="0.5" stroke-opacity="0.6"/><circle cx="108.3" cy="275.3" r="1.15" fill="#ff00ff"/><text x="114.7" y="276.35" font-size="3.0" fill="#666666" class="t">VPPSO</text><line x1="103.1" y1="279.52" x2="113.6" y2="279.52" stroke="#ffff00" stroke-width="0.5" stroke-opacity="0.6"/><circle cx="108.3" cy="279.52" r="1.15" fill="#ffff00"/><text x="114.7" y="280.57" font-size="3.0" fill="#666666" class="t">NABC</text><line x1="103.1" y1="283.74" x2="113.6" y2="283.74" stroke="#00ffff" stroke-width="0.5" stroke-opacity="0.6"/><circle cx="108.3" cy="283.74" r="1.15" fill="#00ffff"/><text x="114.7" y="284.79" font-size="3.0" fill="#666666" class="t">MSEFA</text><line x1="103.1" y1="287.96" x2="113.6" y2="287.96" stroke="#ff0000" stroke-width="0.5"/><circle cx="108.3" cy="287.96" r="1.15" fill="#ff0000"/><text x="114.7" y="289.01" font-size="3.0" fill="#666666" class="t">MSESSA</text></g>
<g><clipPath id="cp7"><rect x="183.8" y="226.3" width="112.4" height="90.4"/></clipPath><text x="239.25" y="226.1" font-size="3.75" fill="#333" text-anchor="middle">C09</text><line x1="194.89" y1="315.2" x2="194.89" y2="314.1" stroke="#3a3a3a" stroke-width="0.4"/><line x1="194.89" y1="227.8" x2="194.89" y2="228.9" stroke="#3a3a3a" stroke-width="0.4"/><text x="194.89" y="320.5" font-size="3.1" fill="#555" class="t" text-anchor="middle">50</text><line x1="205.98" y1="315.2" x2="205.98" y2="314.1" stroke="#3a3a3a" stroke-width="0.4"/><line x1="205.98" y1="227.8" x2="205.98" y2="228.9" stroke="#3a3a3a" stroke-width="0.4"/><text x="205.98" y="320.5" font-size="3.1" fill="#555" class="t" text-anchor="middle">100</text><line x1="217.07" y1="315.2" x2="217.07" y2="314.1" stroke="#3a3a3a" stroke-width="0.4"/><line x1="217.07" y1="227.8" x2="217.07" y2="228.9" stroke="#3a3a3a" stroke-width="0.4"/><text x="217.07" y="320.5" font-size="3.1" fill="#555" class="t" text-anchor="middle">150</text><line x1="228.16" y1="315.2" x2="228.16" y2="314.1" stroke="#3a3a3a" stroke-width="0.4"/><line x1="228.16" y1="227.8" x2="228.16" y2="228.9" stroke="#3a3a3a" stroke-width="0.4"/><text x="228.16" y="320.5" font-size="3.1" fill="#555" class="t" text-anchor="middle">200</text><line x1="239.25" y1="315.2" x2="239.25" y2="314.1" stroke="#3a3a3a" stroke-width="0.4"/><line x1="239.25" y1="227.8" x2="239.25" y2="228.9" stroke="#3a3a3a" stroke-width="0.4"/><text x="239.25" y="320.5" font-size="3.1" fill="#555" class="t" text-anchor="middle">250</text><line x1="250.34" y1="315.2" x2="250.34" y2="314.1" stroke="#3a3a3a" stroke-width="0.4"/><line x1="250.34" y1="227.8" x2="250.34" y2="228.9" stroke="#3a3a3a" stroke-width="0.4"/><text x="250.34" y="320.5" font-size="3.1" fill="#555" class="t" text-anchor="middle">300</text><line x1="261.43" y1="315.2" x2="261.43" y2="314.1" stroke="#3a3a3a" stroke-width="0.4"/><line x1="261.43" y1="227.8" x2="261.43" y2="228.9" stroke="#3a3a3a" stroke-width="0.4"/><text x="261.43" y="320.5" font-size="3.1" fill="#555" class="t" text-anchor="middle">350</text><line x1="272.52" y1="315.2" x2="272.52" y2="314.1" stroke="#3a3a3a" stroke-width="0.4"/><line x1="272.52" y1="227.8" x2="272.52" y2="228.9" stroke="#3a3a3a" stroke-width="0.4"/><text x="272.52" y="320.5" font-size="3.1" fill="#555" class="t" text-anchor="middle">400</text><line x1="283.61" y1="315.2" x2="283.61" y2="314.1" stroke="#3a3a3a" stroke-width="0.4"/><line x1="283.61" y1="227.8" x2="283.61" y2="228.9" stroke="#3a3a3a" stroke-width="0.4"/><text x="283.61" y="320.5" font-size="3.1" fill="#555" class="t" text-anchor="middle">450</text><line x1="294.7" y1="315.2" x2="294.7" y2="314.1" stroke="#3a3a3a" stroke-width="0.4"/><line x1="294.7" y1="227.8" x2="294.7" y2="228.9" stroke="#3a3a3a" stroke-width="0.4"/><text x="294.7" y="320.5" font-size="3.1" fill="#555" class="t" text-anchor="middle">500</text><text x="239.25" y="325.5" font-size="3.6" fill="#333" class="t" text-anchor="middle">Iteration</text><text transform="translate(173 271.5) rotate(-90)" font-size="3.6" fill="#333" class="f" text-anchor="middle">Fitness function</text><line x1="183.8" y1="274.3" x2="184.9" y2="274.3" stroke="#3a3a3a" stroke-width="0.4"/><line x1="294.7" y1="274.3" x2="293.6" y2="274.3" stroke="#3a3a3a" stroke-width="0.4"/><text x="182.6" y="275.4" font-size="3.1" fill="#555" class="t" text-anchor="end">10<tspan dy="-1.3" font-size="2.2">4</tspan></text><g clip-path="url(#cp7)" fill="none" stroke-linejoin="round"><polyline points="184.02,234 192.45,250 200.88,259 209.31,262.8 217.74,264.4 226.16,266 234.59,266.8 243.02,267.5 251.45,267.58 259.88,267.67 268.31,267.75 276.73,267.83 285.16,267.92 293.59,268" stroke="#0000ff" stroke-width="0.55" stroke-opacity="0.9"/><polyline points="184.02,227.6 192.45,253 200.88,253.8 209.31,254.1 217.74,254.6 226.16,254.9 234.59,255.1 243.02,255.13 251.45,255.16 259.88,255.19 268.31,255.21 276.73,255.24 285.16,255.27 293.59,255.3" stroke="#00ff00" stroke-width="0.55" stroke-opacity="0.9"/><path d="M182.47 227.6l1.55 -1.24l1.55 1.24l-1.55 1.24z" fill="#00ff00"/><path d="M190.9 253l1.55 -1.24l1.55 1.24l-1.55 1.24z" fill="#00ff00"/><path d="M199.33 253.8l1.55 -1.24l1.55 1.24l-1.55 1.24z" fill="#00ff00"/><path d="M207.75 254.1l1.55 -1.24l1.55 1.24l-1.55 1.24z" fill="#00ff00"/><path d="M216.18 254.6l1.55 -1.24l1.55 1.24l-1.55 1.24z" fill="#00ff00"/><path d="M224.61 254.9l1.55 -1.24l1.55 1.24l-1.55 1.24z" fill="#00ff00"/><path d="M233.04 255.1l1.55 -1.24l1.55 1.24l-1.55 1.24z" fill="#00ff00"/><path d="M241.47 255.13l1.55 -1.24l1.55 1.24l-1.55 1.24z" fill="#00ff00"/><path d="M249.9 255.16l1.55 -1.24l1.55 1.24l-1.55 1.24z" fill="#00ff00"/><path d="M258.32 255.19l1.55 -1.24l1.55 1.24l-1.55 1.24z" fill="#00ff00"/><path d="M266.75 255.21l1.55 -1.24l1.55 1.24l-1.55 1.24z" fill="#00ff00"/><path d="M275.18 255.24l1.55 -1.24l1.55 1.24l-1.55 1.24z" fill="#00ff00"/><path d="M283.61 255.27l1.55 -1.24l1.55 1.24l-1.55 1.24z" fill="#00ff00"/><path d="M292.04 255.3l1.55 -1.24l1.55 1.24l-1.55 1.24z" fill="#00ff00"/><polyline points="184.02,233 192.45,244 200.88,246.4 209.31,248 217.74,249 226.16,249.5 234.59,249.9 243.02,249.99 251.45,250.07 259.88,250.16 268.31,250.24 276.73,250.33 285.16,250.41 293.59,250.5" stroke="#505060" stroke-width="0.55" stroke-opacity="0.9"/><polyline points="184.02,231.7 192.45,254.6 200.88,258.7 209.31,262 217.74,262.3 226.16,262.8 234.59,263.3 243.02,263.43 251.45,263.56 259.88,263.69 268.31,263.81 276.73,263.94 285.16,264.07 293.59,264.2" stroke="#ff00ff" stroke-width="0.55" stroke-opacity="0.65"/><circle cx="184.02" cy="231.7" r="1.15" fill="#ff00ff"/><circle cx="192.45" cy="254.6" r="1.15" fill="#ff00ff"/><circle cx="200.88" cy="258.7" r="1.15" fill="#ff00ff"/><circle cx="209.31" cy="262" r="1.15" fill="#ff00ff"/><circle cx="217.74" cy="262.3" r="1.15" fill="#ff00ff"/><circle cx="226.16" cy="262.8" r="1.15" fill="#ff00ff"/><circle cx="234.59" cy="263.3" r="1.15" fill="#ff00ff"/><circle cx="243.02" cy="263.43" r="1.15" fill="#ff00ff"/><circle cx="251.45" cy="263.56" r="1.15" fill="#ff00ff"/><circle cx="259.88" cy="263.69" r="1.15" fill="#ff00ff"/><circle cx="268.31" cy="263.81" r="1.15" fill="#ff00ff"/><circle cx="276.73" cy="263.94" r="1.15" fill="#ff00ff"/><circle cx="285.16" cy="264.07" r="1.15" fill="#ff00ff"/><circle cx="293.59" cy="264.2" r="1.15" fill="#ff00ff"/><polyline points="184.02,236 192.45,242.3 200.88,246.4 209.31,248 217.74,248.9 226.16,249.7 234.59,250.5 243.02,251 251.45,251.5 259.88,252 268.31,252.5 276.73,253 285.16,253.5 293.59,254" stroke="#00ffff" stroke-width="0.55" stroke-opacity="0.65"/><circle cx="184.02" cy="236" r="1.15" fill="#00ffff"/><circle cx="192.45" cy="242.3" r="1.15" fill="#00ffff"/><circle cx="200.88" cy="246.4" r="1.15" fill="#00ffff"/><circle cx="209.31" cy="248" r="1.15" fill="#00ffff"/><circle cx="217.74" cy="248.9" r="1.15" fill="#00ffff"/><circle cx="226.16" cy="249.7" r="1.15" fill="#00ffff"/><circle cx="234.59" cy="250.5" r="1.15" fill="#00ffff"/><circle cx="243.02" cy="251" r="1.15" fill="#00ffff"/><circle cx="251.45" cy="251.5" r="1.15" fill="#00ffff"/><circle cx="259.88" cy="252" r="1.15" fill="#00ffff"/><circle cx="268.31" cy="252.5" r="1.15" fill="#00ffff"/><circle cx="276.73" cy="253" r="1.15" fill="#00ffff"/><circle cx="285.16" cy="253.5" r="1.15" fill="#00ffff"/><circle cx="293.59" cy="254" r="1.15" fill="#00ffff"/><polyline points="184.02,242.3 192.45,250.5 200.88,251.3 209.31,252 217.74,252.2 226.16,252.5 234.59,253 243.02,253.07 251.45,253.14 259.88,253.21 268.31,253.29 276.73,253.36 285.16,253.43 293.59,253.5" stroke="#000000" stroke-width="0.55" stroke-opacity="0.9"/><circle cx="184.02" cy="242.3" r="0.98" fill="#000000"/><circle cx="192.45" cy="250.5" r="0.98" fill="#000000"/><circle cx="200.88" cy="251.3" r="0.98" fill="#000000"/><circle cx="209.31" cy="252" r="0.98" fill="#000000"/><circle cx="217.74" cy="252.2" r="0.98" fill="#000000"/><circle cx="226.16" cy="252.5" r="0.98" fill="#000000"/><circle cx="234.59" cy="253" r="0.98" fill="#000000"/><circle cx="243.02" cy="253.07" r="0.98" fill="#000000"/><circle cx="251.45" cy="253.14" r="0.98" fill="#000000"/><circle cx="259.88" cy="253.21" r="0.98" fill="#000000"/><circle cx="268.31" cy="253.29" r="0.98" fill="#000000"/><circle cx="276.73" cy="253.36" r="0.98" fill="#000000"/><circle cx="285.16" cy="253.43" r="0.98" fill="#000000"/><circle cx="293.59" cy="253.5" r="0.98" fill="#000000"/><polyline points="184.02,230 192.45,252 200.88,259.5 209.31,265.2 217.74,267 226.16,268.3 234.59,268.8 243.02,268.9 251.45,269 259.88,269.1 268.31,269.2 276.73,269.3 285.16,269.4 293.59,269.5" stroke="#ffff00" stroke-width="0.55" stroke-opacity="0.65"/><polyline points="184.02,235.8 192.45,244.8 200.88,246.9 209.31,248.9 217.74,250.5 226.16,252.1 234.59,253 243.02,254 251.45,255 259.88,256 268.31,257 276.73,258 285.16,259 293.59,260.3" stroke="#0000ff" stroke-width="0.55" stroke-opacity="0.65"/><circle cx="184.02" cy="235.8" r="1.15" fill="#0000ff"/><circle cx="192.45" cy="244.8" r="1.15" fill="#0000ff"/><circle cx="200.88" cy="246.9" r="1.15" fill="#0000ff"/><circle cx="209.31" cy="248.9" r="1.15" fill="#0000ff"/><circle cx="217.74" cy="250.5" r="1.15" fill="#0000ff"/><circle cx="226.16" cy="252.1" r="1.15" fill="#0000ff"/><circle cx="234.59" cy="253" r="1.15" fill="#0000ff"/><circle cx="243.02" cy="254" r="1.15" fill="#0000ff"/><circle cx="251.45" cy="255" r="1.15" fill="#0000ff"/><circle cx="259.88" cy="256" r="1.15" fill="#0000ff"/><circle cx="268.31" cy="257" r="1.15" fill="#0000ff"/><circle cx="276.73" cy="258" r="1.15" fill="#0000ff"/><circle cx="285.16" cy="259" r="1.15" fill="#0000ff"/><circle cx="293.59" cy="260.3" r="1.15" fill="#0000ff"/><polyline points="184.02,236 192.45,264 200.88,268.8 209.31,270.1 217.74,271.2 226.16,272 234.59,272.6 243.02,273.2 251.45,273.3 259.88,273.4 268.31,273.5 276.73,273.6 285.16,273.7 293.59,273.8" stroke="#00ff00" stroke-width="0.55" stroke-opacity="0.65"/><circle cx="184.02" cy="236" r="1.15" fill="#00ff00"/><circle cx="192.45" cy="264" r="1.15" fill="#00ff00"/><circle cx="200.88" cy="268.8" r="1.15" fill="#00ff00"/><circle cx="209.31" cy="270.1" r="1.15" fill="#00ff00"/><circle cx="217.74" cy="271.2" r="1.15" fill="#00ff00"/><circle cx="226.16" cy="272" r="1.15" fill="#00ff00"/><circle cx="234.59" cy="272.6" r="1.15" fill="#00ff00"/><circle cx="243.02" cy="273.2" r="1.15" fill="#00ff00"/><circle cx="251.45" cy="273.3" r="1.15" fill="#00ff00"/><circle cx="259.88" cy="273.4" r="1.15" fill="#00ff00"/><circle cx="268.31" cy="273.5" r="1.15" fill="#00ff00"/><circle cx="276.73" cy="273.6" r="1.15" fill="#00ff00"/><circle cx="285.16" cy="273.7" r="1.15" fill="#00ff00"/><circle cx="293.59" cy="273.8" r="1.15" fill="#00ff00"/><polyline points="184.02,238.3 192.45,245.5 200.88,248.5 209.31,249.5 217.74,250.2 226.16,251.3 234.59,251.6 243.02,251.66 251.45,251.71 259.88,251.77 268.31,251.83 276.73,251.89 285.16,251.94 293.59,252" stroke="#ff0000" stroke-width="0.55" stroke-opacity="0.9"/><polyline points="184.02,232 192.45,249 200.88,253 209.31,255.1 217.74,256.5 226.16,258.7 234.59,263.6 243.02,275 251.45,276.7 259.88,278 268.31,278.27 276.73,278.55 285.16,278.83 293.59,279.1" stroke="#ff00ff" stroke-width="0.55" stroke-opacity="0.65"/><circle cx="184.02" cy="232" r="1.15" fill="#ff00ff"/><circle cx="192.45" cy="249" r="1.15" fill="#ff00ff"/><circle cx="200.88" cy="253" r="1.15" fill="#ff00ff"/><circle cx="209.31" cy="255.1" r="1.15" fill="#ff00ff"/><circle cx="217.74" cy="256.5" r="1.15" fill="#ff00ff"/><circle cx="226.16" cy="258.7" r="1.15" fill="#ff00ff"/><circle cx="234.59" cy="263.6" r="1.15" fill="#ff00ff"/><circle cx="243.02" cy="275" r="1.15" fill="#ff00ff"/><circle cx="251.45" cy="276.7" r="1.15" fill="#ff00ff"/><circle cx="259.88" cy="278" r="1.15" fill="#ff00ff"/><circle cx="268.31" cy="278.27" r="1.15" fill="#ff00ff"/><circle cx="276.73" cy="278.55" r="1.15" fill="#ff00ff"/><circle cx="285.16" cy="278.83" r="1.15" fill="#ff00ff"/><circle cx="293.59" cy="279.1" r="1.15" fill="#ff00ff"/><polyline points="184.02,233 192.45,252 200.88,261 209.31,266.3 217.74,273.2 226.16,280.1 234.59,285 243.02,289.8 251.45,293.5 259.88,297 268.31,300 276.73,302.5 285.16,304.5 293.59,306.2" stroke="#ffff00" stroke-width="0.55" stroke-opacity="0.65"/><circle cx="184.02" cy="233" r="1.15" fill="#ffff00"/><circle cx="192.45" cy="252" r="1.15" fill="#ffff00"/><circle cx="200.88" cy="261" r="1.15" fill="#ffff00"/><circle cx="209.31" cy="266.3" r="1.15" fill="#ffff00"/><circle cx="217.74" cy="273.2" r="1.15" fill="#ffff00"/><circle cx="226.16" cy="280.1" r="1.15" fill="#ffff00"/><circle cx="234.59" cy="285" r="1.15" fill="#ffff00"/><circle cx="243.02" cy="289.8" r="1.15" fill="#ffff00"/><circle cx="251.45" cy="293.5" r="1.15" fill="#ffff00"/><circle cx="259.88" cy="297" r="1.15" fill="#ffff00"/><circle cx="268.31" cy="300" r="1.15" fill="#ffff00"/><circle cx="276.73" cy="302.5" r="1.15" fill="#ffff00"/><circle cx="285.16" cy="304.5" r="1.15" fill="#ffff00"/><circle cx="293.59" cy="306.2" r="1.15" fill="#ffff00"/><polyline points="184.02,238 192.45,256 200.88,264 209.31,275 217.74,281.6 226.16,289 234.59,294.5 243.02,299.5 251.45,303.5 259.88,307 268.31,310 276.73,312.2 285.16,313.8 293.59,314.8" stroke="#00ffff" stroke-width="0.55" stroke-opacity="0.65"/><circle cx="184.02" cy="238" r="1.15" fill="#00ffff"/><circle cx="192.45" cy="256" r="1.15" fill="#00ffff"/><circle cx="200.88" cy="264" r="1.15" fill="#00ffff"/><circle cx="209.31" cy="275" r="1.15" fill="#00ffff"/><circle cx="217.74" cy="281.6" r="1.15" fill="#00ffff"/><circle cx="226.16" cy="289" r="1.15" fill="#00ffff"/><circle cx="234.59" cy="294.5" r="1.15" fill="#00ffff"/><circle cx="243.02" cy="299.5" r="1.15" fill="#00ffff"/><circle cx="251.45" cy="303.5" r="1.15" fill="#00ffff"/><circle cx="259.88" cy="307" r="1.15" fill="#00ffff"/><circle cx="268.31" cy="310" r="1.15" fill="#00ffff"/><circle cx="276.73" cy="312.2" r="1.15" fill="#00ffff"/><circle cx="285.16" cy="313.8" r="1.15" fill="#00ffff"/><circle cx="293.59" cy="314.8" r="1.15" fill="#00ffff"/><polyline points="184.02,238.3 192.45,264.4 200.88,268.8 209.31,270.9 217.74,272.6 226.16,273.4 234.59,273.9 243.02,274.2 251.45,275 259.88,275.16 268.31,275.32 276.73,275.48 285.16,275.64 293.59,275.8" stroke="#ff0000" stroke-width="0.55" stroke-opacity="0.9"/><circle cx="184.02" cy="238.3" r="1.15" fill="#ff0000"/><circle cx="192.45" cy="264.4" r="1.15" fill="#ff0000"/><circle cx="200.88" cy="268.8" r="1.15" fill="#ff0000"/><circle cx="209.31" cy="270.9" r="1.15" fill="#ff0000"/><circle cx="217.74" cy="272.6" r="1.15" fill="#ff0000"/><circle cx="226.16" cy="273.4" r="1.15" fill="#ff0000"/><circle cx="234.59" cy="273.9" r="1.15" fill="#ff0000"/><circle cx="243.02" cy="274.2" r="1.15" fill="#ff0000"/><circle cx="251.45" cy="275" r="1.15" fill="#ff0000"/><circle cx="259.88" cy="275.16" r="1.15" fill="#ff0000"/><circle cx="268.31" cy="275.32" r="1.15" fill="#ff0000"/><circle cx="276.73" cy="275.48" r="1.15" fill="#ff0000"/><circle cx="285.16" cy="275.64" r="1.15" fill="#ff0000"/><circle cx="293.59" cy="275.8" r="1.15" fill="#ff0000"/></g><rect x="183.8" y="227.8" width="110.9" height="87.4" fill="none" stroke="#3a3a3a" stroke-width="0.55"/><rect x="265.7" y="230.2" width="26.5" height="59.8" fill="#fff" stroke="#999" stroke-width="0.45"/><line x1="266.5" y1="233.1" x2="277" y2="233.1" stroke="#0000ff" stroke-width="0.5"/><text x="278.1" y="234.15" font-size="3.0" fill="#666666" class="t">SSA</text><line x1="266.5" y1="237.32" x2="277" y2="237.32" stroke="#00ff00" stroke-width="0.5"/><path d="M270.15 237.32l1.55 -1.24l1.55 1.24l-1.55 1.24z" fill="#00ff00"/><text x="278.1" y="238.37" font-size="3.0" fill="#666666" class="t">GWO</text><line x1="266.5" y1="241.54" x2="277" y2="241.54" stroke="#505060" stroke-width="0.5"/><text x="278.1" y="242.59" font-size="3.0" fill="#666666" class="t">WOA</text><line x1="266.5" y1="245.76" x2="277" y2="245.76" stroke="#ff00ff" stroke-width="0.5" stroke-opacity="0.6"/><circle cx="271.7" cy="245.76" r="1.15" fill="#ff00ff"/><text x="278.1" y="246.81" font-size="3.0" fill="#666666" class="t">PSO</text><line x1="266.5" y1="249.98" x2="277" y2="249.98" stroke="#00ffff" stroke-width="0.5" stroke-opacity="0.6"/><circle cx="271.7" cy="249.98" r="1.15" fill="#00ffff"/><text x="278.1" y="251.03" font-size="3.0" fill="#666666" class="t">ABC</text><line x1="266.5" y1="254.2" x2="277" y2="254.2" stroke="#000000" stroke-width="0.5"/><circle cx="271.7" cy="254.2" r="0.98" fill="#000000"/><text x="278.1" y="255.25" font-size="3.0" fill="#666666" class="t">FA</text><line x1="266.5" y1="258.42" x2="277" y2="258.42" stroke="#ffff00" stroke-width="0.5" stroke-opacity="0.6"/><text x="278.1" y="259.47" font-size="3.0" fill="#666666" class="t">QMEISSA</text><line x1="266.5" y1="262.64" x2="277" y2="262.64" stroke="#0000ff" stroke-width="0.5" stroke-opacity="0.6"/><circle cx="271.7" cy="262.64" r="1.15" fill="#0000ff"/><text x="278.1" y="263.69" font-size="3.0" fill="#666666" class="t">LSSA</text><line x1="266.5" y1="266.86" x2="277" y2="266.86" stroke="#00ff00" stroke-width="0.5" stroke-opacity="0.6"/><circle cx="271.7" cy="266.86" r="1.15" fill="#00ff00"/><text x="278.1" y="267.91" font-size="3.0" fill="#666666" class="t">AGWO</text><line x1="266.5" y1="271.08" x2="277" y2="271.08" stroke="#ff0000" stroke-width="0.5"/><text x="278.1" y="272.13" font-size="3.0" fill="#666666" class="t">IWOA</text><line x1="266.5" y1="275.3" x2="277" y2="275.3" stroke="#ff00ff" stroke-width="0.5" stroke-opacity="0.6"/><circle cx="271.7" cy="275.3" r="1.15" fill="#ff00ff"/><text x="278.1" y="276.35" font-size="3.0" fill="#666666" class="t">VPPSO</text><line x1="266.5" y1="279.52" x2="277" y2="279.52" stroke="#ffff00" stroke-width="0.5" stroke-opacity="0.6"/><circle cx="271.7" cy="279.52" r="1.15" fill="#ffff00"/><text x="278.1" y="280.57" font-size="3.0" fill="#666666" class="t">NABC</text><line x1="266.5" y1="283.74" x2="277" y2="283.74" stroke="#00ffff" stroke-width="0.5" stroke-opacity="0.6"/><circle cx="271.7" cy="283.74" r="1.15" fill="#00ffff"/><text x="278.1" y="284.79" font-size="3.0" fill="#666666" class="t">MSEFA</text><line x1="266.5" y1="287.96" x2="277" y2="287.96" stroke="#ff0000" stroke-width="0.5"/><circle cx="271.7" cy="287.96" r="1.15" fill="#ff0000"/><text x="278.1" y="289.01" font-size="3.0" fill="#666666" class="t">MSESSA</text></g>
<g><clipPath id="cp8"><rect x="347.5" y="226.3" width="112.4" height="90.4"/></clipPath><text x="402.95" y="226.1" font-size="3.75" fill="#333" text-anchor="middle">C10</text><line x1="358.59" y1="315.2" x2="358.59" y2="314.1" stroke="#3a3a3a" stroke-width="0.4"/><line x1="358.59" y1="227.8" x2="358.59" y2="228.9" stroke="#3a3a3a" stroke-width="0.4"/><text x="358.59" y="320.5" font-size="3.1" fill="#555" class="t" text-anchor="middle">50</text><line x1="369.68" y1="315.2" x2="369.68" y2="314.1" stroke="#3a3a3a" stroke-width="0.4"/><line x1="369.68" y1="227.8" x2="369.68" y2="228.9" stroke="#3a3a3a" stroke-width="0.4"/><text x="369.68" y="320.5" font-size="3.1" fill="#555" class="t" text-anchor="middle">100</text><line x1="380.77" y1="315.2" x2="380.77" y2="314.1" stroke="#3a3a3a" stroke-width="0.4"/><line x1="380.77" y1="227.8" x2="380.77" y2="228.9" stroke="#3a3a3a" stroke-width="0.4"/><text x="380.77" y="320.5" font-size="3.1" fill="#555" class="t" text-anchor="middle">150</text><line x1="391.86" y1="315.2" x2="391.86" y2="314.1" stroke="#3a3a3a" stroke-width="0.4"/><line x1="391.86" y1="227.8" x2="391.86" y2="228.9" stroke="#3a3a3a" stroke-width="0.4"/><text x="391.86" y="320.5" font-size="3.1" fill="#555" class="t" text-anchor="middle">200</text><line x1="402.95" y1="315.2" x2="402.95" y2="314.1" stroke="#3a3a3a" stroke-width="0.4"/><line x1="402.95" y1="227.8" x2="402.95" y2="228.9" stroke="#3a3a3a" stroke-width="0.4"/><text x="402.95" y="320.5" font-size="3.1" fill="#555" class="t" text-anchor="middle">250</text><line x1="414.04" y1="315.2" x2="414.04" y2="314.1" stroke="#3a3a3a" stroke-width="0.4"/><line x1="414.04" y1="227.8" x2="414.04" y2="228.9" stroke="#3a3a3a" stroke-width="0.4"/><text x="414.04" y="320.5" font-size="3.1" fill="#555" class="t" text-anchor="middle">300</text><line x1="425.13" y1="315.2" x2="425.13" y2="314.1" stroke="#3a3a3a" stroke-width="0.4"/><line x1="425.13" y1="227.8" x2="425.13" y2="228.9" stroke="#3a3a3a" stroke-width="0.4"/><text x="425.13" y="320.5" font-size="3.1" fill="#555" class="t" text-anchor="middle">350</text><line x1="436.22" y1="315.2" x2="436.22" y2="314.1" stroke="#3a3a3a" stroke-width="0.4"/><line x1="436.22" y1="227.8" x2="436.22" y2="228.9" stroke="#3a3a3a" stroke-width="0.4"/><text x="436.22" y="320.5" font-size="3.1" fill="#555" class="t" text-anchor="middle">400</text><line x1="447.31" y1="315.2" x2="447.31" y2="314.1" stroke="#3a3a3a" stroke-width="0.4"/><line x1="447.31" y1="227.8" x2="447.31" y2="228.9" stroke="#3a3a3a" stroke-width="0.4"/><text x="447.31" y="320.5" font-size="3.1" fill="#555" class="t" text-anchor="middle">450</text><line x1="458.4" y1="315.2" x2="458.4" y2="314.1" stroke="#3a3a3a" stroke-width="0.4"/><line x1="458.4" y1="227.8" x2="458.4" y2="228.9" stroke="#3a3a3a" stroke-width="0.4"/><text x="458.4" y="320.5" font-size="3.1" fill="#555" class="t" text-anchor="middle">500</text><text x="402.95" y="325.5" font-size="3.6" fill="#333" class="t" text-anchor="middle">Iteration</text><text transform="translate(336.7 271.5) rotate(-90)" font-size="3.6" fill="#333" class="f" text-anchor="middle">Fitness function</text><line x1="347.5" y1="298.7" x2="348.6" y2="298.7" stroke="#3a3a3a" stroke-width="0.4"/><line x1="458.4" y1="298.7" x2="457.3" y2="298.7" stroke="#3a3a3a" stroke-width="0.4"/><text x="346.3" y="299.8" font-size="3.0" fill="#555" class="t" text-anchor="end">0.8</text><line x1="347.5" y1="279.88" x2="348.6" y2="279.88" stroke="#3a3a3a" stroke-width="0.4"/><line x1="458.4" y1="279.88" x2="457.3" y2="279.88" stroke="#3a3a3a" stroke-width="0.4"/><text x="346.3" y="280.98" font-size="3.0" fill="#555" class="t" text-anchor="end">1</text><line x1="347.5" y1="264.51" x2="348.6" y2="264.51" stroke="#3a3a3a" stroke-width="0.4"/><line x1="458.4" y1="264.51" x2="457.3" y2="264.51" stroke="#3a3a3a" stroke-width="0.4"/><text x="346.3" y="265.61" font-size="3.0" fill="#555" class="t" text-anchor="end">1.2</text><line x1="347.5" y1="251.5" x2="348.6" y2="251.5" stroke="#3a3a3a" stroke-width="0.4"/><line x1="458.4" y1="251.5" x2="457.3" y2="251.5" stroke="#3a3a3a" stroke-width="0.4"/><text x="346.3" y="252.6" font-size="3.0" fill="#555" class="t" text-anchor="end">1.4</text><line x1="347.5" y1="240.24" x2="348.6" y2="240.24" stroke="#3a3a3a" stroke-width="0.4"/><line x1="458.4" y1="240.24" x2="457.3" y2="240.24" stroke="#3a3a3a" stroke-width="0.4"/><text x="346.3" y="241.34" font-size="3.0" fill="#555" class="t" text-anchor="end">1.6</text><line x1="347.5" y1="230.31" x2="348.6" y2="230.31" stroke="#3a3a3a" stroke-width="0.4"/><line x1="458.4" y1="230.31" x2="457.3" y2="230.31" stroke="#3a3a3a" stroke-width="0.4"/><text x="346.3" y="231.41" font-size="3.0" fill="#555" class="t" text-anchor="end">1.8</text><text x="351" y="226.3" font-size="3.0" fill="#333">10<tspan dy="-1.2" font-size="2.1">4</tspan></text><g clip-path="url(#cp8)" fill="none" stroke-linejoin="round"><polyline points="347.72,232 356.15,252 364.58,272.6 373.01,278.3 381.44,282.4 389.86,285.5 398.29,287.5 406.72,289 415.15,290 423.58,290.16 432.01,290.32 440.43,290.48 448.86,290.64 457.29,290.8" stroke="#0000ff" stroke-width="0.55" stroke-opacity="0.9"/><polyline points="347.72,230.9 356.15,246.4 364.58,247.5 373.01,248.5 381.44,249.3 389.86,250.3 398.29,252 406.72,254.2 415.15,256 423.58,258.3 432.01,259.5 440.43,260.3 448.86,260.8 457.29,261.1" stroke="#00ff00" stroke-width="0.55" stroke-opacity="0.9"/><path d="M346.17 230.9l1.55 -1.24l1.55 1.24l-1.55 1.24z" fill="#00ff00"/><path d="M354.6 246.4l1.55 -1.24l1.55 1.24l-1.55 1.24z" fill="#00ff00"/><path d="M363.03 247.5l1.55 -1.24l1.55 1.24l-1.55 1.24z" fill="#00ff00"/><path d="M371.45 248.5l1.55 -1.24l1.55 1.24l-1.55 1.24z" fill="#00ff00"/><path d="M379.88 249.3l1.55 -1.24l1.55 1.24l-1.55 1.24z" fill="#00ff00"/><path d="M388.31 250.3l1.55 -1.24l1.55 1.24l-1.55 1.24z" fill="#00ff00"/><path d="M396.74 252l1.55 -1.24l1.55 1.24l-1.55 1.24z" fill="#00ff00"/><path d="M405.17 254.2l1.55 -1.24l1.55 1.24l-1.55 1.24z" fill="#00ff00"/><path d="M413.6 256l1.55 -1.24l1.55 1.24l-1.55 1.24z" fill="#00ff00"/><path d="M422.02 258.3l1.55 -1.24l1.55 1.24l-1.55 1.24z" fill="#00ff00"/><path d="M430.45 259.5l1.55 -1.24l1.55 1.24l-1.55 1.24z" fill="#00ff00"/><path d="M438.88 260.3l1.55 -1.24l1.55 1.24l-1.55 1.24z" fill="#00ff00"/><path d="M447.31 260.8l1.55 -1.24l1.55 1.24l-1.55 1.24z" fill="#00ff00"/><path d="M455.74 261.1l1.55 -1.24l1.55 1.24l-1.55 1.24z" fill="#00ff00"/><polyline points="347.72,234 356.15,250.5 364.58,256 373.01,260 381.44,262.8 389.86,264.8 398.29,266.6 406.72,266.71 415.15,266.83 423.58,266.94 432.01,267.06 440.43,267.17 448.86,267.29 457.29,267.4" stroke="#505060" stroke-width="0.55" stroke-opacity="0.9"/><polyline points="347.72,227.6 356.15,242.3 364.58,243.6 373.01,245.6 381.44,249.5 389.86,268.4 398.29,286.7 406.72,295 415.15,297.9 423.58,299.1 432.01,299.3 440.43,299.5 448.86,299.7 457.29,299.9" stroke="#ff00ff" stroke-width="0.55" stroke-opacity="0.65"/><circle cx="347.72" cy="227.6" r="1.15" fill="#ff00ff"/><circle cx="356.15" cy="242.3" r="1.15" fill="#ff00ff"/><circle cx="364.58" cy="243.6" r="1.15" fill="#ff00ff"/><circle cx="373.01" cy="245.6" r="1.15" fill="#ff00ff"/><circle cx="381.44" cy="249.5" r="1.15" fill="#ff00ff"/><circle cx="389.86" cy="268.4" r="1.15" fill="#ff00ff"/><circle cx="398.29" cy="286.7" r="1.15" fill="#ff00ff"/><circle cx="406.72" cy="295" r="1.15" fill="#ff00ff"/><circle cx="415.15" cy="297.9" r="1.15" fill="#ff00ff"/><circle cx="423.58" cy="299.1" r="1.15" fill="#ff00ff"/><circle cx="432.01" cy="299.3" r="1.15" fill="#ff00ff"/><circle cx="440.43" cy="299.5" r="1.15" fill="#ff00ff"/><circle cx="448.86" cy="299.7" r="1.15" fill="#ff00ff"/><circle cx="457.29" cy="299.9" r="1.15" fill="#ff00ff"/><polyline points="347.72,231 356.15,244 364.58,245.6 373.01,247.2 381.44,248.9 389.86,250 398.29,251.8 406.72,254.2 415.15,256.5 423.58,259.5 432.01,263 440.43,267 448.86,271.5 457.29,275.5" stroke="#00ffff" stroke-width="0.55" stroke-opacity="0.65"/><circle cx="347.72" cy="231" r="1.15" fill="#00ffff"/><circle cx="356.15" cy="244" r="1.15" fill="#00ffff"/><circle cx="364.58" cy="245.6" r="1.15" fill="#00ffff"/><circle cx="373.01" cy="247.2" r="1.15" fill="#00ffff"/><circle cx="381.44" cy="248.9" r="1.15" fill="#00ffff"/><circle cx="389.86" cy="250" r="1.15" fill="#00ffff"/><circle cx="398.29" cy="251.8" r="1.15" fill="#00ffff"/><circle cx="406.72" cy="254.2" r="1.15" fill="#00ffff"/><circle cx="415.15" cy="256.5" r="1.15" fill="#00ffff"/><circle cx="423.58" cy="259.5" r="1.15" fill="#00ffff"/><circle cx="432.01" cy="263" r="1.15" fill="#00ffff"/><circle cx="440.43" cy="267" r="1.15" fill="#00ffff"/><circle cx="448.86" cy="271.5" r="1.15" fill="#00ffff"/><circle cx="457.29" cy="275.5" r="1.15" fill="#00ffff"/><polyline points="347.72,239.9 356.15,247 364.58,249.4 373.01,249.6 381.44,249.8 389.86,250.2 398.29,250.4 406.72,250.9 415.15,250.95 423.58,251 432.01,251.05 440.43,251.1 448.86,251.15 457.29,251.2" stroke="#000000" stroke-width="0.55" stroke-opacity="0.9"/><circle cx="347.72" cy="239.9" r="0.98" fill="#000000"/><circle cx="356.15" cy="247" r="0.98" fill="#000000"/><circle cx="364.58" cy="249.4" r="0.98" fill="#000000"/><circle cx="373.01" cy="249.6" r="0.98" fill="#000000"/><circle cx="381.44" cy="249.8" r="0.98" fill="#000000"/><circle cx="389.86" cy="250.2" r="0.98" fill="#000000"/><circle cx="398.29" cy="250.4" r="0.98" fill="#000000"/><circle cx="406.72" cy="250.9" r="0.98" fill="#000000"/><circle cx="415.15" cy="250.95" r="0.98" fill="#000000"/><circle cx="423.58" cy="251" r="0.98" fill="#000000"/><circle cx="432.01" cy="251.05" r="0.98" fill="#000000"/><circle cx="440.43" cy="251.1" r="0.98" fill="#000000"/><circle cx="448.86" cy="251.15" r="0.98" fill="#000000"/><circle cx="457.29" cy="251.2" r="0.98" fill="#000000"/><polyline points="347.72,233 356.15,262 364.58,275 373.01,284 381.44,290.5 389.86,294.6 398.29,297.1 406.72,298.5 415.15,299.1 423.58,299.34 432.01,299.58 440.43,299.82 448.86,300.06 457.29,300.3" stroke="#ffff00" stroke-width="0.55" stroke-opacity="0.65"/><polyline points="347.72,234 356.15,246.4 364.58,248.9 373.01,254 381.44,260.7 389.86,266 398.29,271.3 406.72,276 415.15,280.8 423.58,285.5 432.01,288.1 440.43,290.5 448.86,292.5 457.29,294.6" stroke="#0000ff" stroke-width="0.55" stroke-opacity="0.65"/><circle cx="347.72" cy="234" r="1.15" fill="#0000ff"/><circle cx="356.15" cy="246.4" r="1.15" fill="#0000ff"/><circle cx="364.58" cy="248.9" r="1.15" fill="#0000ff"/><circle cx="373.01" cy="254" r="1.15" fill="#0000ff"/><circle cx="381.44" cy="260.7" r="1.15" fill="#0000ff"/><circle cx="389.86" cy="266" r="1.15" fill="#0000ff"/><circle cx="398.29" cy="271.3" r="1.15" fill="#0000ff"/><circle cx="406.72" cy="276" r="1.15" fill="#0000ff"/><circle cx="415.15" cy="280.8" r="1.15" fill="#0000ff"/><circle cx="423.58" cy="285.5" r="1.15" fill="#0000ff"/><circle cx="432.01" cy="288.1" r="1.15" fill="#0000ff"/><circle cx="440.43" cy="290.5" r="1.15" fill="#0000ff"/><circle cx="448.86" cy="292.5" r="1.15" fill="#0000ff"/><circle cx="457.29" cy="294.6" r="1.15" fill="#0000ff"/><polyline points="347.72,231 356.15,249 364.58,251.5 373.01,253.8 381.44,255.4 389.86,256.5 398.29,257.1 406.72,257.5 415.15,258.5 423.58,261 432.01,268 440.43,280 448.86,290.9 457.29,300.4" stroke="#00ff00" stroke-width="0.55" stroke-opacity="0.65"/><circle cx="347.72" cy="231" r="1.15" fill="#00ff00"/><circle cx="356.15" cy="249" r="1.15" fill="#00ff00"/><circle cx="364.58" cy="251.5" r="1.15" fill="#00ff00"/><circle cx="373.01" cy="253.8" r="1.15" fill="#00ff00"/><circle cx="381.44" cy="255.4" r="1.15" fill="#00ff00"/><circle cx="389.86" cy="256.5" r="1.15" fill="#00ff00"/><circle cx="398.29" cy="257.1" r="1.15" fill="#00ff00"/><circle cx="406.72" cy="257.5" r="1.15" fill="#00ff00"/><circle cx="415.15" cy="258.5" r="1.15" fill="#00ff00"/><circle cx="423.58" cy="261" r="1.15" fill="#00ff00"/><circle cx="432.01" cy="268" r="1.15" fill="#00ff00"/><circle cx="440.43" cy="280" r="1.15" fill="#00ff00"/><circle cx="448.86" cy="290.9" r="1.15" fill="#00ff00"/><circle cx="457.29" cy="300.4" r="1.15" fill="#00ff00"/><polyline points="347.72,235 356.15,252 364.58,257 373.01,259.5 381.44,261.1 389.86,262.5 398.29,264.2 406.72,264.29 415.15,264.37 423.58,264.46 432.01,264.54 440.43,264.63 448.86,264.71 457.29,264.8" stroke="#ff0000" stroke-width="0.55" stroke-opacity="0.9"/><polyline points="347.72,229 356.15,255 364.58,265.2 373.01,270.1 381.44,274.9 389.86,277.8 398.29,279 406.72,279.9 415.15,280.4 423.58,280.8 432.01,280.95 440.43,281.1 448.86,281.25 457.29,281.4" stroke="#ff00ff" stroke-width="0.55" stroke-opacity="0.65"/><circle cx="347.72" cy="229" r="1.15" fill="#ff00ff"/><circle cx="356.15" cy="255" r="1.15" fill="#ff00ff"/><circle cx="364.58" cy="265.2" r="1.15" fill="#ff00ff"/><circle cx="373.01" cy="270.1" r="1.15" fill="#ff00ff"/><circle cx="381.44" cy="274.9" r="1.15" fill="#ff00ff"/><circle cx="389.86" cy="277.8" r="1.15" fill="#ff00ff"/><circle cx="398.29" cy="279" r="1.15" fill="#ff00ff"/><circle cx="406.72" cy="279.9" r="1.15" fill="#ff00ff"/><circle cx="415.15" cy="280.4" r="1.15" fill="#ff00ff"/><circle cx="423.58" cy="280.8" r="1.15" fill="#ff00ff"/><circle cx="432.01" cy="280.95" r="1.15" fill="#ff00ff"/><circle cx="440.43" cy="281.1" r="1.15" fill="#ff00ff"/><circle cx="448.86" cy="281.25" r="1.15" fill="#ff00ff"/><circle cx="457.29" cy="281.4" r="1.15" fill="#ff00ff"/><polyline points="347.72,233 356.15,257 364.58,266.8 373.01,274 381.44,280.2 389.86,283.7 398.29,287.3 406.72,290.2 415.15,292 423.58,293.8 432.01,294.1 440.43,294.4 448.86,294.7 457.29,295" stroke="#ffff00" stroke-width="0.55" stroke-opacity="0.65"/><circle cx="347.72" cy="233" r="1.15" fill="#ffff00"/><circle cx="356.15" cy="257" r="1.15" fill="#ffff00"/><circle cx="364.58" cy="266.8" r="1.15" fill="#ffff00"/><circle cx="373.01" cy="274" r="1.15" fill="#ffff00"/><circle cx="381.44" cy="280.2" r="1.15" fill="#ffff00"/><circle cx="389.86" cy="283.7" r="1.15" fill="#ffff00"/><circle cx="398.29" cy="287.3" r="1.15" fill="#ffff00"/><circle cx="406.72" cy="290.2" r="1.15" fill="#ffff00"/><circle cx="415.15" cy="292" r="1.15" fill="#ffff00"/><circle cx="423.58" cy="293.8" r="1.15" fill="#ffff00"/><circle cx="432.01" cy="294.1" r="1.15" fill="#ffff00"/><circle cx="440.43" cy="294.4" r="1.15" fill="#ffff00"/><circle cx="448.86" cy="294.7" r="1.15" fill="#ffff00"/><circle cx="457.29" cy="295" r="1.15" fill="#ffff00"/><polyline points="347.72,232 356.15,258 364.58,268 373.01,275 381.44,279.1 389.86,283.2 398.29,286.5 406.72,290.2 415.15,293.2 423.58,295 432.01,295.25 440.43,295.5 448.86,295.75 457.29,296" stroke="#00ffff" stroke-width="0.55" stroke-opacity="0.65"/><circle cx="347.72" cy="232" r="1.15" fill="#00ffff"/><circle cx="356.15" cy="258" r="1.15" fill="#00ffff"/><circle cx="364.58" cy="268" r="1.15" fill="#00ffff"/><circle cx="373.01" cy="275" r="1.15" fill="#00ffff"/><circle cx="381.44" cy="279.1" r="1.15" fill="#00ffff"/><circle cx="389.86" cy="283.2" r="1.15" fill="#00ffff"/><circle cx="398.29" cy="286.5" r="1.15" fill="#00ffff"/><circle cx="406.72" cy="290.2" r="1.15" fill="#00ffff"/><circle cx="415.15" cy="293.2" r="1.15" fill="#00ffff"/><circle cx="423.58" cy="295" r="1.15" fill="#00ffff"/><circle cx="432.01" cy="295.25" r="1.15" fill="#00ffff"/><circle cx="440.43" cy="295.5" r="1.15" fill="#00ffff"/><circle cx="448.86" cy="295.75" r="1.15" fill="#00ffff"/><circle cx="457.29" cy="296" r="1.15" fill="#00ffff"/><polyline points="347.72,235 356.15,284 364.58,300.3 373.01,307.4 381.44,311 389.86,312.3 398.29,313.1 406.72,313.6 415.15,313.7 423.58,313.8 432.01,313.9 440.43,314 448.86,314.1 457.29,314.2" stroke="#ff0000" stroke-width="0.55" stroke-opacity="0.9"/><circle cx="347.72" cy="235" r="1.15" fill="#ff0000"/><circle cx="356.15" cy="284" r="1.15" fill="#ff0000"/><circle cx="364.58" cy="300.3" r="1.15" fill="#ff0000"/><circle cx="373.01" cy="307.4" r="1.15" fill="#ff0000"/><circle cx="381.44" cy="311" r="1.15" fill="#ff0000"/><circle cx="389.86" cy="312.3" r="1.15" fill="#ff0000"/><circle cx="398.29" cy="313.1" r="1.15" fill="#ff0000"/><circle cx="406.72" cy="313.6" r="1.15" fill="#ff0000"/><circle cx="415.15" cy="313.7" r="1.15" fill="#ff0000"/><circle cx="423.58" cy="313.8" r="1.15" fill="#ff0000"/><circle cx="432.01" cy="313.9" r="1.15" fill="#ff0000"/><circle cx="440.43" cy="314" r="1.15" fill="#ff0000"/><circle cx="448.86" cy="314.1" r="1.15" fill="#ff0000"/><circle cx="457.29" cy="314.2" r="1.15" fill="#ff0000"/></g><rect x="347.5" y="227.8" width="110.9" height="87.4" fill="none" stroke="#3a3a3a" stroke-width="0.55"/><rect x="429.4" y="230.2" width="26.5" height="59.8" fill="#fff" stroke="#999" stroke-width="0.45"/><line x1="430.2" y1="233.1" x2="440.7" y2="233.1" stroke="#0000ff" stroke-width="0.5"/><text x="441.8" y="234.15" font-size="3.0" fill="#666666" class="t">SSA</text><line x1="430.2" y1="237.32" x2="440.7" y2="237.32" stroke="#00ff00" stroke-width="0.5"/><path d="M433.85 237.32l1.55 -1.24l1.55 1.24l-1.55 1.24z" fill="#00ff00"/><text x="441.8" y="238.37" font-size="3.0" fill="#666666" class="t">GWO</text><line x1="430.2" y1="241.54" x2="440.7" y2="241.54" stroke="#505060" stroke-width="0.5"/><text x="441.8" y="242.59" font-size="3.0" fill="#666666" class="t">WOA</text><line x1="430.2" y1="245.76" x2="440.7" y2="245.76" stroke="#ff00ff" stroke-width="0.5" stroke-opacity="0.6"/><circle cx="435.4" cy="245.76" r="1.15" fill="#ff00ff"/><text x="441.8" y="246.81" font-size="3.0" fill="#666666" class="t">PSO</text><line x1="430.2" y1="249.98" x2="440.7" y2="249.98" stroke="#00ffff" stroke-width="0.5" stroke-opacity="0.6"/><circle cx="435.4" cy="249.98" r="1.15" fill="#00ffff"/><text x="441.8" y="251.03" font-size="3.0" fill="#666666" class="t">ABC</text><line x1="430.2" y1="254.2" x2="440.7" y2="254.2" stroke="#000000" stroke-width="0.5"/><circle cx="435.4" cy="254.2" r="0.98" fill="#000000"/><text x="441.8" y="255.25" font-size="3.0" fill="#666666" class="t">FA</text><line x1="430.2" y1="258.42" x2="440.7" y2="258.42" stroke="#ffff00" stroke-width="0.5" stroke-opacity="0.6"/><text x="441.8" y="259.47" font-size="3.0" fill="#666666" class="t">QMEISSA</text><line x1="430.2" y1="262.64" x2="440.7" y2="262.64" stroke="#0000ff" stroke-width="0.5" stroke-opacity="0.6"/><circle cx="435.4" cy="262.64" r="1.15" fill="#0000ff"/><text x="441.8" y="263.69" font-size="3.0" fill="#666666" class="t">LSSA</text><line x1="430.2" y1="266.86" x2="440.7" y2="266.86" stroke="#00ff00" stroke-width="0.5" stroke-opacity="0.6"/><circle cx="435.4" cy="266.86" r="1.15" fill="#00ff00"/><text x="441.8" y="267.91" font-size="3.0" fill="#666666" class="t">AGWO</text><line x1="430.2" y1="271.08" x2="440.7" y2="271.08" stroke="#ff0000" stroke-width="0.5"/><text x="441.8" y="272.13" font-size="3.0" fill="#666666" class="t">IWOA</text><line x1="430.2" y1="275.3" x2="440.7" y2="275.3" stroke="#ff00ff" stroke-width="0.5" stroke-opacity="0.6"/><circle cx="435.4" cy="275.3" r="1.15" fill="#ff00ff"/><text x="441.8" y="276.35" font-size="3.0" fill="#666666" class="t">VPPSO</text><line x1="430.2" y1="279.52" x2="440.7" y2="279.52" stroke="#ffff00" stroke-width="0.5" stroke-opacity="0.6"/><circle cx="435.4" cy="279.52" r="1.15" fill="#ffff00"/><text x="441.8" y="280.57" font-size="3.0" fill="#666666" class="t">NABC</text><line x1="430.2" y1="283.74" x2="440.7" y2="283.74" stroke="#00ffff" stroke-width="0.5" stroke-opacity="0.6"/><circle cx="435.4" cy="283.74" r="1.15" fill="#00ffff"/><text x="441.8" y="284.79" font-size="3.0" fill="#666666" class="t">MSEFA</text><line x1="430.2" y1="287.96" x2="440.7" y2="287.96" stroke="#ff0000" stroke-width="0.5"/><circle cx="435.4" cy="287.96" r="1.15" fill="#ff0000"/><text x="441.8" y="289.01" font-size="3.0" fill="#666666" class="t">MSESSA</text></g>
<g><clipPath id="cp9"><rect x="20.4" y="334.6" width="112.4" height="90.4"/></clipPath><text x="75.85" y="334.4" font-size="3.75" fill="#333" text-anchor="middle">C11</text><line x1="31.49" y1="423.5" x2="31.49" y2="422.4" stroke="#3a3a3a" stroke-width="0.4"/><line x1="31.49" y1="336.1" x2="31.49" y2="337.2" stroke="#3a3a3a" stroke-width="0.4"/><text x="31.49" y="428.8" font-size="3.1" fill="#555" class="t" text-anchor="middle">50</text><line x1="42.58" y1="423.5" x2="42.58" y2="422.4" stroke="#3a3a3a" stroke-width="0.4"/><line x1="42.58" y1="336.1" x2="42.58" y2="337.2" stroke="#3a3a3a" stroke-width="0.4"/><text x="42.58" y="428.8" font-size="3.1" fill="#555" class="t" text-anchor="middle">100</text><line x1="53.67" y1="423.5" x2="53.67" y2="422.4" stroke="#3a3a3a" stroke-width="0.4"/><line x1="53.67" y1="336.1" x2="53.67" y2="337.2" stroke="#3a3a3a" stroke-width="0.4"/><text x="53.67" y="428.8" font-size="3.1" fill="#555" class="t" text-anchor="middle">150</text><line x1="64.76" y1="423.5" x2="64.76" y2="422.4" stroke="#3a3a3a" stroke-width="0.4"/><line x1="64.76" y1="336.1" x2="64.76" y2="337.2" stroke="#3a3a3a" stroke-width="0.4"/><text x="64.76" y="428.8" font-size="3.1" fill="#555" class="t" text-anchor="middle">200</text><line x1="75.85" y1="423.5" x2="75.85" y2="422.4" stroke="#3a3a3a" stroke-width="0.4"/><line x1="75.85" y1="336.1" x2="75.85" y2="337.2" stroke="#3a3a3a" stroke-width="0.4"/><text x="75.85" y="428.8" font-size="3.1" fill="#555" class="t" text-anchor="middle">250</text><line x1="86.94" y1="423.5" x2="86.94" y2="422.4" stroke="#3a3a3a" stroke-width="0.4"/><line x1="86.94" y1="336.1" x2="86.94" y2="337.2" stroke="#3a3a3a" stroke-width="0.4"/><text x="86.94" y="428.8" font-size="3.1" fill="#555" class="t" text-anchor="middle">300</text><line x1="98.03" y1="423.5" x2="98.03" y2="422.4" stroke="#3a3a3a" stroke-width="0.4"/><line x1="98.03" y1="336.1" x2="98.03" y2="337.2" stroke="#3a3a3a" stroke-width="0.4"/><text x="98.03" y="428.8" font-size="3.1" fill="#555" class="t" text-anchor="middle">350</text><line x1="109.12" y1="423.5" x2="109.12" y2="422.4" stroke="#3a3a3a" stroke-width="0.4"/><line x1="109.12" y1="336.1" x2="109.12" y2="337.2" stroke="#3a3a3a" stroke-width="0.4"/><text x="109.12" y="428.8" font-size="3.1" fill="#555" class="t" text-anchor="middle">400</text><line x1="120.21" y1="423.5" x2="120.21" y2="422.4" stroke="#3a3a3a" stroke-width="0.4"/><line x1="120.21" y1="336.1" x2="120.21" y2="337.2" stroke="#3a3a3a" stroke-width="0.4"/><text x="120.21" y="428.8" font-size="3.1" fill="#555" class="t" text-anchor="middle">450</text><line x1="131.3" y1="423.5" x2="131.3" y2="422.4" stroke="#3a3a3a" stroke-width="0.4"/><line x1="131.3" y1="336.1" x2="131.3" y2="337.2" stroke="#3a3a3a" stroke-width="0.4"/><text x="131.3" y="428.8" font-size="3.1" fill="#555" class="t" text-anchor="middle">500</text><text x="75.85" y="433.8" font-size="3.6" fill="#333" class="t" text-anchor="middle">Iteration</text><text transform="translate(9.6 379.8) rotate(-90)" font-size="3.6" fill="#333" class="f" text-anchor="middle">Fitness function</text><line x1="20.4" y1="350.5" x2="21.5" y2="350.5" stroke="#3a3a3a" stroke-width="0.4"/><line x1="131.3" y1="350.5" x2="130.2" y2="350.5" stroke="#3a3a3a" stroke-width="0.4"/><text x="19.2" y="351.6" font-size="3.1" fill="#555" class="t" text-anchor="end">10<tspan dy="-1.3" font-size="2.2">3</tspan></text><line x1="20.4" y1="388.9" x2="21.5" y2="388.9" stroke="#3a3a3a" stroke-width="0.4"/><line x1="131.3" y1="388.9" x2="130.2" y2="388.9" stroke="#3a3a3a" stroke-width="0.4"/><text x="19.2" y="390" font-size="3.1" fill="#555" class="t" text-anchor="end">10<tspan dy="-1.3" font-size="2.2">2</tspan></text><g clip-path="url(#cp9)" fill="none" stroke-linejoin="round"><polyline points="20.62,352 29.05,375 37.48,390 45.91,400 54.34,406 62.76,410.5 71.19,413.5 79.62,415.5 88.05,417 96.48,418 104.91,418.38 113.33,418.75 121.76,419.12 130.19,419.5" stroke="#0000ff" stroke-width="0.55" stroke-opacity="0.9"/><polyline points="20.62,336 29.05,382 37.48,385.4 45.91,386.7 54.34,388 62.76,389 71.19,389.8 79.62,389.97 88.05,390.14 96.48,390.31 104.91,390.49 113.33,390.66 121.76,390.83 130.19,391" stroke="#00ff00" stroke-width="0.55" stroke-opacity="0.9"/><path d="M19.07 336l1.55 -1.24l1.55 1.24l-1.55 1.24z" fill="#00ff00"/><path d="M27.5 382l1.55 -1.24l1.55 1.24l-1.55 1.24z" fill="#00ff00"/><path d="M35.93 385.4l1.55 -1.24l1.55 1.24l-1.55 1.24z" fill="#00ff00"/><path d="M44.35 386.7l1.55 -1.24l1.55 1.24l-1.55 1.24z" fill="#00ff00"/><path d="M52.78 388l1.55 -1.24l1.55 1.24l-1.55 1.24z" fill="#00ff00"/><path d="M61.21 389l1.55 -1.24l1.55 1.24l-1.55 1.24z" fill="#00ff00"/><path d="M69.64 389.8l1.55 -1.24l1.55 1.24l-1.55 1.24z" fill="#00ff00"/><path d="M78.07 389.97l1.55 -1.24l1.55 1.24l-1.55 1.24z" fill="#00ff00"/><path d="M86.5 390.14l1.55 -1.24l1.55 1.24l-1.55 1.24z" fill="#00ff00"/><path d="M94.92 390.31l1.55 -1.24l1.55 1.24l-1.55 1.24z" fill="#00ff00"/><path d="M103.35 390.49l1.55 -1.24l1.55 1.24l-1.55 1.24z" fill="#00ff00"/><path d="M111.78 390.66l1.55 -1.24l1.55 1.24l-1.55 1.24z" fill="#00ff00"/><path d="M120.21 390.83l1.55 -1.24l1.55 1.24l-1.55 1.24z" fill="#00ff00"/><path d="M128.64 391l1.55 -1.24l1.55 1.24l-1.55 1.24z" fill="#00ff00"/><polyline points="20.62,345 29.05,381 37.48,393 45.91,398.5 54.34,401.7 62.76,404.4 71.19,406.3 79.62,407.2 88.05,407.23 96.48,407.27 104.91,407.3 113.33,407.33 121.76,407.37 130.19,407.4" stroke="#505060" stroke-width="0.55" stroke-opacity="0.9"/><polyline points="20.62,354.2 29.05,376.2 37.48,390 45.91,396.5 54.34,402.4 62.76,408.3 71.19,412.2 79.62,414.1 88.05,414.9 96.48,415.5 104.91,415.75 113.33,416 121.76,416.25 130.19,416.5" stroke="#ff00ff" stroke-width="0.55" stroke-opacity="0.65"/><circle cx="20.62" cy="354.2" r="1.15" fill="#ff00ff"/><circle cx="29.05" cy="376.2" r="1.15" fill="#ff00ff"/><circle cx="37.48" cy="390" r="1.15" fill="#ff00ff"/><circle cx="45.91" cy="396.5" r="1.15" fill="#ff00ff"/><circle cx="54.34" cy="402.4" r="1.15" fill="#ff00ff"/><circle cx="62.76" cy="408.3" r="1.15" fill="#ff00ff"/><circle cx="71.19" cy="412.2" r="1.15" fill="#ff00ff"/><circle cx="79.62" cy="414.1" r="1.15" fill="#ff00ff"/><circle cx="88.05" cy="414.9" r="1.15" fill="#ff00ff"/><circle cx="96.48" cy="415.5" r="1.15" fill="#ff00ff"/><circle cx="104.91" cy="415.75" r="1.15" fill="#ff00ff"/><circle cx="113.33" cy="416" r="1.15" fill="#ff00ff"/><circle cx="121.76" cy="416.25" r="1.15" fill="#ff00ff"/><circle cx="130.19" cy="416.5" r="1.15" fill="#ff00ff"/><polyline points="20.62,347.6 29.05,365.4 37.48,371.3 45.91,374.4 54.34,376.3 62.76,377.6 71.19,378.8 79.62,379.8 88.05,380.17 96.48,380.53 104.91,380.9 113.33,381.27 121.76,381.63 130.19,382" stroke="#00ffff" stroke-width="0.55" stroke-opacity="0.65"/><circle cx="20.62" cy="347.6" r="1.15" fill="#00ffff"/><circle cx="29.05" cy="365.4" r="1.15" fill="#00ffff"/><circle cx="37.48" cy="371.3" r="1.15" fill="#00ffff"/><circle cx="45.91" cy="374.4" r="1.15" fill="#00ffff"/><circle cx="54.34" cy="376.3" r="1.15" fill="#00ffff"/><circle cx="62.76" cy="377.6" r="1.15" fill="#00ffff"/><circle cx="71.19" cy="378.8" r="1.15" fill="#00ffff"/><circle cx="79.62" cy="379.8" r="1.15" fill="#00ffff"/><circle cx="88.05" cy="380.17" r="1.15" fill="#00ffff"/><circle cx="96.48" cy="380.53" r="1.15" fill="#00ffff"/><circle cx="104.91" cy="380.9" r="1.15" fill="#00ffff"/><circle cx="113.33" cy="381.27" r="1.15" fill="#00ffff"/><circle cx="121.76" cy="381.63" r="1.15" fill="#00ffff"/><circle cx="130.19" cy="382" r="1.15" fill="#00ffff"/><polyline points="20.62,370.3 29.05,380.1 37.48,381.8 45.91,382.8 54.34,383.4 62.76,383.8 71.19,384.1 79.62,384.2 88.05,384.3 96.48,384.4 104.91,384.5 113.33,384.6 121.76,384.7 130.19,384.8" stroke="#000000" stroke-width="0.55" stroke-opacity="0.9"/><circle cx="20.62" cy="370.3" r="0.98" fill="#000000"/><circle cx="29.05" cy="380.1" r="0.98" fill="#000000"/><circle cx="37.48" cy="381.8" r="0.98" fill="#000000"/><circle cx="45.91" cy="382.8" r="0.98" fill="#000000"/><circle cx="54.34" cy="383.4" r="0.98" fill="#000000"/><circle cx="62.76" cy="383.8" r="0.98" fill="#000000"/><circle cx="71.19" cy="384.1" r="0.98" fill="#000000"/><circle cx="79.62" cy="384.2" r="0.98" fill="#000000"/><circle cx="88.05" cy="384.3" r="0.98" fill="#000000"/><circle cx="96.48" cy="384.4" r="0.98" fill="#000000"/><circle cx="104.91" cy="384.5" r="0.98" fill="#000000"/><circle cx="113.33" cy="384.6" r="0.98" fill="#000000"/><circle cx="121.76" cy="384.7" r="0.98" fill="#000000"/><circle cx="130.19" cy="384.8" r="0.98" fill="#000000"/><polyline points="20.62,361.7 29.05,382 37.48,386.7 45.91,389.3 54.34,391.3 62.76,393.2 71.19,394.5 79.62,395.5 88.05,397.7 96.48,399.5 104.91,401 113.33,402.3 121.76,402.85 130.19,403.4" stroke="#ffff00" stroke-width="0.55" stroke-opacity="0.65"/><polyline points="20.62,357 29.05,369 37.48,376.2 45.91,380.8 54.34,384.1 62.76,387.3 71.19,391.3 79.62,393.6 88.05,395.8 96.48,398.5 104.91,401.5 113.33,404.3 121.76,406.5 130.19,408.3" stroke="#0000ff" stroke-width="0.55" stroke-opacity="0.65"/><circle cx="20.62" cy="357" r="1.15" fill="#0000ff"/><circle cx="29.05" cy="369" r="1.15" fill="#0000ff"/><circle cx="37.48" cy="376.2" r="1.15" fill="#0000ff"/><circle cx="45.91" cy="380.8" r="1.15" fill="#0000ff"/><circle cx="54.34" cy="384.1" r="1.15" fill="#0000ff"/><circle cx="62.76" cy="387.3" r="1.15" fill="#0000ff"/><circle cx="71.19" cy="391.3" r="1.15" fill="#0000ff"/><circle cx="79.62" cy="393.6" r="1.15" fill="#0000ff"/><circle cx="88.05" cy="395.8" r="1.15" fill="#0000ff"/><circle cx="96.48" cy="398.5" r="1.15" fill="#0000ff"/><circle cx="104.91" cy="401.5" r="1.15" fill="#0000ff"/><circle cx="113.33" cy="404.3" r="1.15" fill="#0000ff"/><circle cx="121.76" cy="406.5" r="1.15" fill="#0000ff"/><circle cx="130.19" cy="408.3" r="1.15" fill="#0000ff"/><polyline points="20.62,349 29.05,390 37.48,396.5 45.91,398.5 54.34,399.8 62.76,400.5 71.19,401.1 79.62,401.8 88.05,401.88 96.48,401.97 104.91,402.05 113.33,402.13 121.76,402.22 130.19,402.3" stroke="#00ff00" stroke-width="0.55" stroke-opacity="0.65"/><circle cx="20.62" cy="349" r="1.15" fill="#00ff00"/><circle cx="29.05" cy="390" r="1.15" fill="#00ff00"/><circle cx="37.48" cy="396.5" r="1.15" fill="#00ff00"/><circle cx="45.91" cy="398.5" r="1.15" fill="#00ff00"/><circle cx="54.34" cy="399.8" r="1.15" fill="#00ff00"/><circle cx="62.76" cy="400.5" r="1.15" fill="#00ff00"/><circle cx="71.19" cy="401.1" r="1.15" fill="#00ff00"/><circle cx="79.62" cy="401.8" r="1.15" fill="#00ff00"/><circle cx="88.05" cy="401.88" r="1.15" fill="#00ff00"/><circle cx="96.48" cy="401.97" r="1.15" fill="#00ff00"/><circle cx="104.91" cy="402.05" r="1.15" fill="#00ff00"/><circle cx="113.33" cy="402.13" r="1.15" fill="#00ff00"/><circle cx="121.76" cy="402.22" r="1.15" fill="#00ff00"/><circle cx="130.19" cy="402.3" r="1.15" fill="#00ff00"/><polyline points="20.62,358 29.05,383 37.48,394 45.91,399.5 54.34,402.5 62.76,405 71.19,406.6 79.62,406.73 88.05,406.86 96.48,406.99 104.91,407.11 113.33,407.24 121.76,407.37 130.19,407.5" stroke="#ff0000" stroke-width="0.55" stroke-opacity="0.9"/><polyline points="20.62,356 29.05,381 37.48,390 45.91,393 54.34,395.2 62.76,398 71.19,401.5 79.62,404.3 88.05,408.3 96.48,409.5 104.91,410.8 113.33,411.5 121.76,411.95 130.19,412.4" stroke="#ff00ff" stroke-width="0.55" stroke-opacity="0.65"/><circle cx="20.62" cy="356" r="1.15" fill="#ff00ff"/><circle cx="29.05" cy="381" r="1.15" fill="#ff00ff"/><circle cx="37.48" cy="390" r="1.15" fill="#ff00ff"/><circle cx="45.91" cy="393" r="1.15" fill="#ff00ff"/><circle cx="54.34" cy="395.2" r="1.15" fill="#ff00ff"/><circle cx="62.76" cy="398" r="1.15" fill="#ff00ff"/><circle cx="71.19" cy="401.5" r="1.15" fill="#ff00ff"/><circle cx="79.62" cy="404.3" r="1.15" fill="#ff00ff"/><circle cx="88.05" cy="408.3" r="1.15" fill="#ff00ff"/><circle cx="96.48" cy="409.5" r="1.15" fill="#ff00ff"/><circle cx="104.91" cy="410.8" r="1.15" fill="#ff00ff"/><circle cx="113.33" cy="411.5" r="1.15" fill="#ff00ff"/><circle cx="121.76" cy="411.95" r="1.15" fill="#ff00ff"/><circle cx="130.19" cy="412.4" r="1.15" fill="#ff00ff"/><polyline points="20.62,359 29.05,388 37.48,400 45.91,408 54.34,413.5 62.76,416.8 71.19,418.8 79.62,419.5 88.05,419.68 96.48,419.87 104.91,420.05 113.33,420.23 121.76,420.42 130.19,420.6" stroke="#ffff00" stroke-width="0.55" stroke-opacity="0.65"/><circle cx="20.62" cy="359" r="1.15" fill="#ffff00"/><circle cx="29.05" cy="388" r="1.15" fill="#ffff00"/><circle cx="37.48" cy="400" r="1.15" fill="#ffff00"/><circle cx="45.91" cy="408" r="1.15" fill="#ffff00"/><circle cx="54.34" cy="413.5" r="1.15" fill="#ffff00"/><circle cx="62.76" cy="416.8" r="1.15" fill="#ffff00"/><circle cx="71.19" cy="418.8" r="1.15" fill="#ffff00"/><circle cx="79.62" cy="419.5" r="1.15" fill="#ffff00"/><circle cx="88.05" cy="419.68" r="1.15" fill="#ffff00"/><circle cx="96.48" cy="419.87" r="1.15" fill="#ffff00"/><circle cx="104.91" cy="420.05" r="1.15" fill="#ffff00"/><circle cx="113.33" cy="420.23" r="1.15" fill="#ffff00"/><circle cx="121.76" cy="420.42" r="1.15" fill="#ffff00"/><circle cx="130.19" cy="420.6" r="1.15" fill="#ffff00"/><polyline points="20.62,363 29.05,383 37.48,386.7 45.91,389.3 54.34,392.5 62.76,397.2 71.19,400.4 79.62,404 88.05,408 96.48,411.5 104.91,414.1 113.33,416 121.76,417.3 130.19,418.1" stroke="#00ffff" stroke-width="0.55" stroke-opacity="0.65"/><circle cx="20.62" cy="363" r="1.15" fill="#00ffff"/><circle cx="29.05" cy="383" r="1.15" fill="#00ffff"/><circle cx="37.48" cy="386.7" r="1.15" fill="#00ffff"/><circle cx="45.91" cy="389.3" r="1.15" fill="#00ffff"/><circle cx="54.34" cy="392.5" r="1.15" fill="#00ffff"/><circle cx="62.76" cy="397.2" r="1.15" fill="#00ffff"/><circle cx="71.19" cy="400.4" r="1.15" fill="#00ffff"/><circle cx="79.62" cy="404" r="1.15" fill="#00ffff"/><circle cx="88.05" cy="408" r="1.15" fill="#00ffff"/><circle cx="96.48" cy="411.5" r="1.15" fill="#00ffff"/><circle cx="104.91" cy="414.1" r="1.15" fill="#00ffff"/><circle cx="113.33" cy="416" r="1.15" fill="#00ffff"/><circle cx="121.76" cy="417.3" r="1.15" fill="#00ffff"/><circle cx="130.19" cy="418.1" r="1.15" fill="#00ffff"/><polyline points="20.62,361.2 29.05,392.6 37.48,409.6 45.91,417.4 54.34,420.7 62.76,421.6 71.19,422 79.62,422.5 88.05,422.58 96.48,422.67 104.91,422.75 113.33,422.83 121.76,422.92 130.19,423" stroke="#ff0000" stroke-width="0.55" stroke-opacity="0.9"/><circle cx="20.62" cy="361.2" r="1.15" fill="#ff0000"/><circle cx="29.05" cy="392.6" r="1.15" fill="#ff0000"/><circle cx="37.48" cy="409.6" r="1.15" fill="#ff0000"/><circle cx="45.91" cy="417.4" r="1.15" fill="#ff0000"/><circle cx="54.34" cy="420.7" r="1.15" fill="#ff0000"/><circle cx="62.76" cy="421.6" r="1.15" fill="#ff0000"/><circle cx="71.19" cy="422" r="1.15" fill="#ff0000"/><circle cx="79.62" cy="422.5" r="1.15" fill="#ff0000"/><circle cx="88.05" cy="422.58" r="1.15" fill="#ff0000"/><circle cx="96.48" cy="422.67" r="1.15" fill="#ff0000"/><circle cx="104.91" cy="422.75" r="1.15" fill="#ff0000"/><circle cx="113.33" cy="422.83" r="1.15" fill="#ff0000"/><circle cx="121.76" cy="422.92" r="1.15" fill="#ff0000"/><circle cx="130.19" cy="423" r="1.15" fill="#ff0000"/></g><rect x="20.4" y="336.1" width="110.9" height="87.4" fill="none" stroke="#3a3a3a" stroke-width="0.55"/><rect x="102.3" y="338.5" width="26.5" height="59.8" fill="#fff" stroke="#999" stroke-width="0.45"/><line x1="103.1" y1="341.4" x2="113.6" y2="341.4" stroke="#0000ff" stroke-width="0.5"/><text x="114.7" y="342.45" font-size="3.0" fill="#666666" class="t">SSA</text><line x1="103.1" y1="345.62" x2="113.6" y2="345.62" stroke="#00ff00" stroke-width="0.5"/><path d="M106.75 345.62l1.55 -1.24l1.55 1.24l-1.55 1.24z" fill="#00ff00"/><text x="114.7" y="346.67" font-size="3.0" fill="#666666" class="t">GWO</text><line x1="103.1" y1="349.84" x2="113.6" y2="349.84" stroke="#505060" stroke-width="0.5"/><text x="114.7" y="350.89" font-size="3.0" fill="#666666" class="t">WOA</text><line x1="103.1" y1="354.06" x2="113.6" y2="354.06" stroke="#ff00ff" stroke-width="0.5" stroke-opacity="0.6"/><circle cx="108.3" cy="354.06" r="1.15" fill="#ff00ff"/><text x="114.7" y="355.11" font-size="3.0" fill="#666666" class="t">PSO</text><line x1="103.1" y1="358.28" x2="113.6" y2="358.28" stroke="#00ffff" stroke-width="0.5" stroke-opacity="0.6"/><circle cx="108.3" cy="358.28" r="1.15" fill="#00ffff"/><text x="114.7" y="359.33" font-size="3.0" fill="#666666" class="t">ABC</text><line x1="103.1" y1="362.5" x2="113.6" y2="362.5" stroke="#000000" stroke-width="0.5"/><circle cx="108.3" cy="362.5" r="0.98" fill="#000000"/><text x="114.7" y="363.55" font-size="3.0" fill="#666666" class="t">FA</text><line x1="103.1" y1="366.72" x2="113.6" y2="366.72" stroke="#ffff00" stroke-width="0.5" stroke-opacity="0.6"/><text x="114.7" y="367.77" font-size="3.0" fill="#666666" class="t">QMEISSA</text><line x1="103.1" y1="370.94" x2="113.6" y2="370.94" stroke="#0000ff" stroke-width="0.5" stroke-opacity="0.6"/><circle cx="108.3" cy="370.94" r="1.15" fill="#0000ff"/><text x="114.7" y="371.99" font-size="3.0" fill="#666666" class="t">LSSA</text><line x1="103.1" y1="375.16" x2="113.6" y2="375.16" stroke="#00ff00" stroke-width="0.5" stroke-opacity="0.6"/><circle cx="108.3" cy="375.16" r="1.15" fill="#00ff00"/><text x="114.7" y="376.21" font-size="3.0" fill="#666666" class="t">AGWO</text><line x1="103.1" y1="379.38" x2="113.6" y2="379.38" stroke="#ff0000" stroke-width="0.5"/><text x="114.7" y="380.43" font-size="3.0" fill="#666666" class="t">IWOA</text><line x1="103.1" y1="383.6" x2="113.6" y2="383.6" stroke="#ff00ff" stroke-width="0.5" stroke-opacity="0.6"/><circle cx="108.3" cy="383.6" r="1.15" fill="#ff00ff"/><text x="114.7" y="384.65" font-size="3.0" fill="#666666" class="t">VPPSO</text><line x1="103.1" y1="387.82" x2="113.6" y2="387.82" stroke="#ffff00" stroke-width="0.5" stroke-opacity="0.6"/><circle cx="108.3" cy="387.82" r="1.15" fill="#ffff00"/><text x="114.7" y="388.87" font-size="3.0" fill="#666666" class="t">NABC</text><line x1="103.1" y1="392.04" x2="113.6" y2="392.04" stroke="#00ffff" stroke-width="0.5" stroke-opacity="0.6"/><circle cx="108.3" cy="392.04" r="1.15" fill="#00ffff"/><text x="114.7" y="393.09" font-size="3.0" fill="#666666" class="t">MSEFA</text><line x1="103.1" y1="396.26" x2="113.6" y2="396.26" stroke="#ff0000" stroke-width="0.5"/><circle cx="108.3" cy="396.26" r="1.15" fill="#ff0000"/><text x="114.7" y="397.31" font-size="3.0" fill="#666666" class="t">MSESSA</text></g>
<g><clipPath id="cp10"><rect x="183.8" y="334.6" width="112.4" height="90.4"/></clipPath><text x="239.25" y="334.4" font-size="3.75" fill="#333" text-anchor="middle">C12</text><line x1="194.89" y1="423.5" x2="194.89" y2="422.4" stroke="#3a3a3a" stroke-width="0.4"/><line x1="194.89" y1="336.1" x2="194.89" y2="337.2" stroke="#3a3a3a" stroke-width="0.4"/><text x="194.89" y="428.8" font-size="3.1" fill="#555" class="t" text-anchor="middle">50</text><line x1="205.98" y1="423.5" x2="205.98" y2="422.4" stroke="#3a3a3a" stroke-width="0.4"/><line x1="205.98" y1="336.1" x2="205.98" y2="337.2" stroke="#3a3a3a" stroke-width="0.4"/><text x="205.98" y="428.8" font-size="3.1" fill="#555" class="t" text-anchor="middle">100</text><line x1="217.07" y1="423.5" x2="217.07" y2="422.4" stroke="#3a3a3a" stroke-width="0.4"/><line x1="217.07" y1="336.1" x2="217.07" y2="337.2" stroke="#3a3a3a" stroke-width="0.4"/><text x="217.07" y="428.8" font-size="3.1" fill="#555" class="t" text-anchor="middle">150</text><line x1="228.16" y1="423.5" x2="228.16" y2="422.4" stroke="#3a3a3a" stroke-width="0.4"/><line x1="228.16" y1="336.1" x2="228.16" y2="337.2" stroke="#3a3a3a" stroke-width="0.4"/><text x="228.16" y="428.8" font-size="3.1" fill="#555" class="t" text-anchor="middle">200</text><line x1="239.25" y1="423.5" x2="239.25" y2="422.4" stroke="#3a3a3a" stroke-width="0.4"/><line x1="239.25" y1="336.1" x2="239.25" y2="337.2" stroke="#3a3a3a" stroke-width="0.4"/><text x="239.25" y="428.8" font-size="3.1" fill="#555" class="t" text-anchor="middle">250</text><line x1="250.34" y1="423.5" x2="250.34" y2="422.4" stroke="#3a3a3a" stroke-width="0.4"/><line x1="250.34" y1="336.1" x2="250.34" y2="337.2" stroke="#3a3a3a" stroke-width="0.4"/><text x="250.34" y="428.8" font-size="3.1" fill="#555" class="t" text-anchor="middle">300</text><line x1="261.43" y1="423.5" x2="261.43" y2="422.4" stroke="#3a3a3a" stroke-width="0.4"/><line x1="261.43" y1="336.1" x2="261.43" y2="337.2" stroke="#3a3a3a" stroke-width="0.4"/><text x="261.43" y="428.8" font-size="3.1" fill="#555" class="t" text-anchor="middle">350</text><line x1="272.52" y1="423.5" x2="272.52" y2="422.4" stroke="#3a3a3a" stroke-width="0.4"/><line x1="272.52" y1="336.1" x2="272.52" y2="337.2" stroke="#3a3a3a" stroke-width="0.4"/><text x="272.52" y="428.8" font-size="3.1" fill="#555" class="t" text-anchor="middle">400</text><line x1="283.61" y1="423.5" x2="283.61" y2="422.4" stroke="#3a3a3a" stroke-width="0.4"/><line x1="283.61" y1="336.1" x2="283.61" y2="337.2" stroke="#3a3a3a" stroke-width="0.4"/><text x="283.61" y="428.8" font-size="3.1" fill="#555" class="t" text-anchor="middle">450</text><line x1="294.7" y1="423.5" x2="294.7" y2="422.4" stroke="#3a3a3a" stroke-width="0.4"/><line x1="294.7" y1="336.1" x2="294.7" y2="337.2" stroke="#3a3a3a" stroke-width="0.4"/><text x="294.7" y="428.8" font-size="3.1" fill="#555" class="t" text-anchor="middle">500</text><text x="239.25" y="433.8" font-size="3.6" fill="#333" class="t" text-anchor="middle">Iteration</text><text transform="translate(173 379.8) rotate(-90)" font-size="3.6" fill="#333" class="f" text-anchor="middle">Fitness function</text><line x1="183.8" y1="339.2" x2="184.9" y2="339.2" stroke="#3a3a3a" stroke-width="0.4"/><line x1="294.7" y1="339.2" x2="293.6" y2="339.2" stroke="#3a3a3a" stroke-width="0.4"/><text x="182.6" y="340.3" font-size="3.1" fill="#555" class="t" text-anchor="end">10<tspan dy="-1.3" font-size="2.2">2</tspan></text><line x1="183.8" y1="358.9" x2="184.9" y2="358.9" stroke="#3a3a3a" stroke-width="0.4"/><line x1="294.7" y1="358.9" x2="293.6" y2="358.9" stroke="#3a3a3a" stroke-width="0.4"/><text x="182.6" y="360" font-size="3.1" fill="#555" class="t" text-anchor="end">10<tspan dy="-1.3" font-size="2.2">1</tspan></text><line x1="183.8" y1="379.5" x2="184.9" y2="379.5" stroke="#3a3a3a" stroke-width="0.4"/><line x1="294.7" y1="379.5" x2="293.6" y2="379.5" stroke="#3a3a3a" stroke-width="0.4"/><text x="182.6" y="380.6" font-size="3.1" fill="#555" class="t" text-anchor="end">10<tspan dy="-1.3" font-size="2.2">0</tspan></text><line x1="183.8" y1="400.1" x2="184.9" y2="400.1" stroke="#3a3a3a" stroke-width="0.4"/><line x1="294.7" y1="400.1" x2="293.6" y2="400.1" stroke="#3a3a3a" stroke-width="0.4"/><text x="182.6" y="401.2" font-size="3.1" fill="#555" class="t" text-anchor="end">10<tspan dy="-1.3" font-size="2.2">-1</tspan></text><line x1="183.8" y1="419.8" x2="184.9" y2="419.8" stroke="#3a3a3a" stroke-width="0.4"/><line x1="294.7" y1="419.8" x2="293.6" y2="419.8" stroke="#3a3a3a" stroke-width="0.4"/><text x="182.6" y="420.9" font-size="3.1" fill="#555" class="t" text-anchor="end">10<tspan dy="-1.3" font-size="2.2">-2</tspan></text><g clip-path="url(#cp10)" fill="none" stroke-linejoin="round"><polyline points="184.02,338 192.45,362 200.88,375 209.31,390 217.74,398.5 226.16,403.4 234.59,406.7 243.02,409.2 251.45,411 259.88,412.5 268.31,413.8 276.73,415 285.16,416 293.59,416.8" stroke="#0000ff" stroke-width="0.55" stroke-opacity="0.9"/><polyline points="184.02,336.5 192.45,357 200.88,360.1 209.31,360.6 217.74,361 226.16,361.4 234.59,361.8 243.02,362.03 251.45,362.26 259.88,362.49 268.31,362.71 276.73,362.94 285.16,363.17 293.59,363.4" stroke="#00ff00" stroke-width="0.55" stroke-opacity="0.9"/><path d="M182.47 336.5l1.55 -1.24l1.55 1.24l-1.55 1.24z" fill="#00ff00"/><path d="M190.9 357l1.55 -1.24l1.55 1.24l-1.55 1.24z" fill="#00ff00"/><path d="M199.33 360.1l1.55 -1.24l1.55 1.24l-1.55 1.24z" fill="#00ff00"/><path d="M207.75 360.6l1.55 -1.24l1.55 1.24l-1.55 1.24z" fill="#00ff00"/><path d="M216.18 361l1.55 -1.24l1.55 1.24l-1.55 1.24z" fill="#00ff00"/><path d="M224.61 361.4l1.55 -1.24l1.55 1.24l-1.55 1.24z" fill="#00ff00"/><path d="M233.04 361.8l1.55 -1.24l1.55 1.24l-1.55 1.24z" fill="#00ff00"/><path d="M241.47 362.03l1.55 -1.24l1.55 1.24l-1.55 1.24z" fill="#00ff00"/><path d="M249.9 362.26l1.55 -1.24l1.55 1.24l-1.55 1.24z" fill="#00ff00"/><path d="M258.32 362.49l1.55 -1.24l1.55 1.24l-1.55 1.24z" fill="#00ff00"/><path d="M266.75 362.71l1.55 -1.24l1.55 1.24l-1.55 1.24z" fill="#00ff00"/><path d="M275.18 362.94l1.55 -1.24l1.55 1.24l-1.55 1.24z" fill="#00ff00"/><path d="M283.61 363.17l1.55 -1.24l1.55 1.24l-1.55 1.24z" fill="#00ff00"/><path d="M292.04 363.4l1.55 -1.24l1.55 1.24l-1.55 1.24z" fill="#00ff00"/><polyline points="184.02,337 192.45,355 200.88,366 209.31,371 217.74,374 226.16,375.7 234.59,376.8 243.02,377.2 251.45,377.27 259.88,377.33 268.31,377.4 276.73,377.47 285.16,377.53 293.59,377.6" stroke="#505060" stroke-width="0.55" stroke-opacity="0.9"/><polyline points="184.02,336.5 192.45,338.9 200.88,342.2 209.31,344.6 217.74,347.1 226.16,349.5 234.59,352 243.02,355.2 251.45,358.2 259.88,361 268.31,365 276.73,369 285.16,373.5 293.59,377.3" stroke="#ff00ff" stroke-width="0.55" stroke-opacity="0.65"/><circle cx="184.02" cy="336.5" r="1.15" fill="#ff00ff"/><circle cx="192.45" cy="338.9" r="1.15" fill="#ff00ff"/><circle cx="200.88" cy="342.2" r="1.15" fill="#ff00ff"/><circle cx="209.31" cy="344.6" r="1.15" fill="#ff00ff"/><circle cx="217.74" cy="347.1" r="1.15" fill="#ff00ff"/><circle cx="226.16" cy="349.5" r="1.15" fill="#ff00ff"/><circle cx="234.59" cy="352" r="1.15" fill="#ff00ff"/><circle cx="243.02" cy="355.2" r="1.15" fill="#ff00ff"/><circle cx="251.45" cy="358.2" r="1.15" fill="#ff00ff"/><circle cx="259.88" cy="361" r="1.15" fill="#ff00ff"/><circle cx="268.31" cy="365" r="1.15" fill="#ff00ff"/><circle cx="276.73" cy="369" r="1.15" fill="#ff00ff"/><circle cx="285.16" cy="373.5" r="1.15" fill="#ff00ff"/><circle cx="293.59" cy="377.3" r="1.15" fill="#ff00ff"/><polyline points="184.02,337 192.45,341.4 200.88,346.3 209.31,350.3 217.74,355.2 226.16,360.1 234.59,365 243.02,369.1 251.45,373.2 259.88,376.5 268.31,379 276.73,380.5 285.16,382 293.59,383" stroke="#00ffff" stroke-width="0.55" stroke-opacity="0.65"/><circle cx="184.02" cy="337" r="1.15" fill="#00ffff"/><circle cx="192.45" cy="341.4" r="1.15" fill="#00ffff"/><circle cx="200.88" cy="346.3" r="1.15" fill="#00ffff"/><circle cx="209.31" cy="350.3" r="1.15" fill="#00ffff"/><circle cx="217.74" cy="355.2" r="1.15" fill="#00ffff"/><circle cx="226.16" cy="360.1" r="1.15" fill="#00ffff"/><circle cx="234.59" cy="365" r="1.15" fill="#00ffff"/><circle cx="243.02" cy="369.1" r="1.15" fill="#00ffff"/><circle cx="251.45" cy="373.2" r="1.15" fill="#00ffff"/><circle cx="259.88" cy="376.5" r="1.15" fill="#00ffff"/><circle cx="268.31" cy="379" r="1.15" fill="#00ffff"/><circle cx="276.73" cy="380.5" r="1.15" fill="#00ffff"/><circle cx="285.16" cy="382" r="1.15" fill="#00ffff"/><circle cx="293.59" cy="383" r="1.15" fill="#00ffff"/><polyline points="184.02,345.4 192.45,350.3 200.88,351.2 209.31,351.6 217.74,352 226.16,352.4 234.59,352.8 243.02,352.91 251.45,353.03 259.88,353.14 268.31,353.26 276.73,353.37 285.16,353.49 293.59,353.6" stroke="#000000" stroke-width="0.55" stroke-opacity="0.9"/><circle cx="184.02" cy="345.4" r="0.98" fill="#000000"/><circle cx="192.45" cy="350.3" r="0.98" fill="#000000"/><circle cx="200.88" cy="351.2" r="0.98" fill="#000000"/><circle cx="209.31" cy="351.6" r="0.98" fill="#000000"/><circle cx="217.74" cy="352" r="0.98" fill="#000000"/><circle cx="226.16" cy="352.4" r="0.98" fill="#000000"/><circle cx="234.59" cy="352.8" r="0.98" fill="#000000"/><circle cx="243.02" cy="352.91" r="0.98" fill="#000000"/><circle cx="251.45" cy="353.03" r="0.98" fill="#000000"/><circle cx="259.88" cy="353.14" r="0.98" fill="#000000"/><circle cx="268.31" cy="353.26" r="0.98" fill="#000000"/><circle cx="276.73" cy="353.37" r="0.98" fill="#000000"/><circle cx="285.16" cy="353.49" r="0.98" fill="#000000"/><circle cx="293.59" cy="353.6" r="0.98" fill="#000000"/><polyline points="184.02,337 192.45,361 200.88,377 209.31,391 217.74,399.3 226.16,404.2 234.59,407.4 243.02,409.8 251.45,411.6 259.88,413 268.31,414.3 276.73,415.4 285.16,416.3 293.59,417" stroke="#ffff00" stroke-width="0.55" stroke-opacity="0.65"/><polyline points="184.02,337.5 192.45,358 200.88,365.9 209.31,373.2 217.74,378.9 226.16,383 234.59,387.9 243.02,391.2 251.45,393.6 259.88,395.3 268.31,397.5 276.73,399.4 285.16,401.3 293.59,403.4" stroke="#0000ff" stroke-width="0.55" stroke-opacity="0.65"/><circle cx="184.02" cy="337.5" r="1.15" fill="#0000ff"/><circle cx="192.45" cy="358" r="1.15" fill="#0000ff"/><circle cx="200.88" cy="365.9" r="1.15" fill="#0000ff"/><circle cx="209.31" cy="373.2" r="1.15" fill="#0000ff"/><circle cx="217.74" cy="378.9" r="1.15" fill="#0000ff"/><circle cx="226.16" cy="383" r="1.15" fill="#0000ff"/><circle cx="234.59" cy="387.9" r="1.15" fill="#0000ff"/><circle cx="243.02" cy="391.2" r="1.15" fill="#0000ff"/><circle cx="251.45" cy="393.6" r="1.15" fill="#0000ff"/><circle cx="259.88" cy="395.3" r="1.15" fill="#0000ff"/><circle cx="268.31" cy="397.5" r="1.15" fill="#0000ff"/><circle cx="276.73" cy="399.4" r="1.15" fill="#0000ff"/><circle cx="285.16" cy="401.3" r="1.15" fill="#0000ff"/><circle cx="293.59" cy="403.4" r="1.15" fill="#0000ff"/><polyline points="184.02,337 192.45,361 200.88,365.9 209.31,366.7 217.74,367.5 226.16,369 234.59,370.8 243.02,373.7 251.45,375.7 259.88,377.3 268.31,379 276.73,380.5 285.16,382 293.59,383" stroke="#00ff00" stroke-width="0.55" stroke-opacity="0.65"/><circle cx="184.02" cy="337" r="1.15" fill="#00ff00"/><circle cx="192.45" cy="361" r="1.15" fill="#00ff00"/><circle cx="200.88" cy="365.9" r="1.15" fill="#00ff00"/><circle cx="209.31" cy="366.7" r="1.15" fill="#00ff00"/><circle cx="217.74" cy="367.5" r="1.15" fill="#00ff00"/><circle cx="226.16" cy="369" r="1.15" fill="#00ff00"/><circle cx="234.59" cy="370.8" r="1.15" fill="#00ff00"/><circle cx="243.02" cy="373.7" r="1.15" fill="#00ff00"/><circle cx="251.45" cy="375.7" r="1.15" fill="#00ff00"/><circle cx="259.88" cy="377.3" r="1.15" fill="#00ff00"/><circle cx="268.31" cy="379" r="1.15" fill="#00ff00"/><circle cx="276.73" cy="380.5" r="1.15" fill="#00ff00"/><circle cx="285.16" cy="382" r="1.15" fill="#00ff00"/><circle cx="293.59" cy="383" r="1.15" fill="#00ff00"/><polyline points="184.02,338 192.45,356 200.88,365 209.31,370 217.74,373.5 226.16,375.5 234.59,376.5 243.02,377 251.45,377.05 259.88,377.1 268.31,377.15 276.73,377.2 285.16,377.25 293.59,377.3" stroke="#ff0000" stroke-width="0.55" stroke-opacity="0.9"/><polyline points="184.02,336 192.45,362.6 200.88,369.1 209.31,374 217.74,379.8 226.16,384.7 234.59,388.7 243.02,391.8 251.45,394.2 259.88,396 268.31,398 276.73,400 285.16,402 293.59,404" stroke="#ff00ff" stroke-width="0.55" stroke-opacity="0.65"/><circle cx="184.02" cy="336" r="1.15" fill="#ff00ff"/><circle cx="192.45" cy="362.6" r="1.15" fill="#ff00ff"/><circle cx="200.88" cy="369.1" r="1.15" fill="#ff00ff"/><circle cx="209.31" cy="374" r="1.15" fill="#ff00ff"/><circle cx="217.74" cy="379.8" r="1.15" fill="#ff00ff"/><circle cx="226.16" cy="384.7" r="1.15" fill="#ff00ff"/><circle cx="234.59" cy="388.7" r="1.15" fill="#ff00ff"/><circle cx="243.02" cy="391.8" r="1.15" fill="#ff00ff"/><circle cx="251.45" cy="394.2" r="1.15" fill="#ff00ff"/><circle cx="259.88" cy="396" r="1.15" fill="#ff00ff"/><circle cx="268.31" cy="398" r="1.15" fill="#ff00ff"/><circle cx="276.73" cy="400" r="1.15" fill="#ff00ff"/><circle cx="285.16" cy="402" r="1.15" fill="#ff00ff"/><circle cx="293.59" cy="404" r="1.15" fill="#ff00ff"/><polyline points="184.02,338 192.45,362 200.88,379.3 209.31,395.3 217.74,401.8 226.16,405.9 234.59,408.3 243.02,410.5 251.45,412.3 259.88,413.7 268.31,414.8 276.73,415.7 285.16,416.5 293.59,417.3" stroke="#ffff00" stroke-width="0.55" stroke-opacity="0.65"/><circle cx="184.02" cy="338" r="1.15" fill="#ffff00"/><circle cx="192.45" cy="362" r="1.15" fill="#ffff00"/><circle cx="200.88" cy="379.3" r="1.15" fill="#ffff00"/><circle cx="209.31" cy="395.3" r="1.15" fill="#ffff00"/><circle cx="217.74" cy="401.8" r="1.15" fill="#ffff00"/><circle cx="226.16" cy="405.9" r="1.15" fill="#ffff00"/><circle cx="234.59" cy="408.3" r="1.15" fill="#ffff00"/><circle cx="243.02" cy="410.5" r="1.15" fill="#ffff00"/><circle cx="251.45" cy="412.3" r="1.15" fill="#ffff00"/><circle cx="259.88" cy="413.7" r="1.15" fill="#ffff00"/><circle cx="268.31" cy="414.8" r="1.15" fill="#ffff00"/><circle cx="276.73" cy="415.7" r="1.15" fill="#ffff00"/><circle cx="285.16" cy="416.5" r="1.15" fill="#ffff00"/><circle cx="293.59" cy="417.3" r="1.15" fill="#ffff00"/><polyline points="184.02,337 192.45,350 200.88,356 209.31,358.5 217.74,365 226.16,369.1 234.59,371.6 243.02,373.2 251.45,374.5 259.88,375.2 268.31,375.9 276.73,376.6 285.16,377.3 293.59,378" stroke="#00ffff" stroke-width="0.55" stroke-opacity="0.65"/><circle cx="184.02" cy="337" r="1.15" fill="#00ffff"/><circle cx="192.45" cy="350" r="1.15" fill="#00ffff"/><circle cx="200.88" cy="356" r="1.15" fill="#00ffff"/><circle cx="209.31" cy="358.5" r="1.15" fill="#00ffff"/><circle cx="217.74" cy="365" r="1.15" fill="#00ffff"/><circle cx="226.16" cy="369.1" r="1.15" fill="#00ffff"/><circle cx="234.59" cy="371.6" r="1.15" fill="#00ffff"/><circle cx="243.02" cy="373.2" r="1.15" fill="#00ffff"/><circle cx="251.45" cy="374.5" r="1.15" fill="#00ffff"/><circle cx="259.88" cy="375.2" r="1.15" fill="#00ffff"/><circle cx="268.31" cy="375.9" r="1.15" fill="#00ffff"/><circle cx="276.73" cy="376.6" r="1.15" fill="#00ffff"/><circle cx="285.16" cy="377.3" r="1.15" fill="#00ffff"/><circle cx="293.59" cy="378" r="1.15" fill="#00ffff"/><polyline points="184.02,338.9 192.45,377.3 200.88,394.5 209.31,403.9 217.74,409.5 226.16,413.2 234.59,415.7 243.02,418.1 251.45,419.3 259.88,420.3 268.31,421.1 276.73,421.8 285.16,422.4 293.59,423" stroke="#ff0000" stroke-width="0.55" stroke-opacity="0.9"/><circle cx="184.02" cy="338.9" r="1.15" fill="#ff0000"/><circle cx="192.45" cy="377.3" r="1.15" fill="#ff0000"/><circle cx="200.88" cy="394.5" r="1.15" fill="#ff0000"/><circle cx="209.31" cy="403.9" r="1.15" fill="#ff0000"/><circle cx="217.74" cy="409.5" r="1.15" fill="#ff0000"/><circle cx="226.16" cy="413.2" r="1.15" fill="#ff0000"/><circle cx="234.59" cy="415.7" r="1.15" fill="#ff0000"/><circle cx="243.02" cy="418.1" r="1.15" fill="#ff0000"/><circle cx="251.45" cy="419.3" r="1.15" fill="#ff0000"/><circle cx="259.88" cy="420.3" r="1.15" fill="#ff0000"/><circle cx="268.31" cy="421.1" r="1.15" fill="#ff0000"/><circle cx="276.73" cy="421.8" r="1.15" fill="#ff0000"/><circle cx="285.16" cy="422.4" r="1.15" fill="#ff0000"/><circle cx="293.59" cy="423" r="1.15" fill="#ff0000"/></g><rect x="183.8" y="336.1" width="110.9" height="87.4" fill="none" stroke="#3a3a3a" stroke-width="0.55"/><rect x="265.7" y="338.5" width="26.5" height="59.8" fill="#fff" stroke="#999" stroke-width="0.45"/><line x1="266.5" y1="341.4" x2="277" y2="341.4" stroke="#0000ff" stroke-width="0.5"/><text x="278.1" y="342.45" font-size="3.0" fill="#666666" class="t">SSA</text><line x1="266.5" y1="345.62" x2="277" y2="345.62" stroke="#00ff00" stroke-width="0.5"/><path d="M270.15 345.62l1.55 -1.24l1.55 1.24l-1.55 1.24z" fill="#00ff00"/><text x="278.1" y="346.67" font-size="3.0" fill="#666666" class="t">GWO</text><line x1="266.5" y1="349.84" x2="277" y2="349.84" stroke="#505060" stroke-width="0.5"/><text x="278.1" y="350.89" font-size="3.0" fill="#666666" class="t">WOA</text><line x1="266.5" y1="354.06" x2="277" y2="354.06" stroke="#ff00ff" stroke-width="0.5" stroke-opacity="0.6"/><circle cx="271.7" cy="354.06" r="1.15" fill="#ff00ff"/><text x="278.1" y="355.11" font-size="3.0" fill="#666666" class="t">PSO</text><line x1="266.5" y1="358.28" x2="277" y2="358.28" stroke="#00ffff" stroke-width="0.5" stroke-opacity="0.6"/><circle cx="271.7" cy="358.28" r="1.15" fill="#00ffff"/><text x="278.1" y="359.33" font-size="3.0" fill="#666666" class="t">ABC</text><line x1="266.5" y1="362.5" x2="277" y2="362.5" stroke="#000000" stroke-width="0.5"/><circle cx="271.7" cy="362.5" r="0.98" fill="#000000"/><text x="278.1" y="363.55" font-size="3.0" fill="#666666" class="t">FA</text><line x1="266.5" y1="366.72" x2="277" y2="366.72" stroke="#ffff00" stroke-width="0.5" stroke-opacity="0.6"/><text x="278.1" y="367.77" font-size="3.0" fill="#666666" class="t">QMEISSA</text><line x1="266.5" y1="370.94" x2="277" y2="370.94" stroke="#0000ff" stroke-width="0.5" stroke-opacity="0.6"/><circle cx="271.7" cy="370.94" r="1.15" fill="#0000ff"/><text x="278.1" y="371.99" font-size="3.0" fill="#666666" class="t">LSSA</text><line x1="266.5" y1="375.16" x2="277" y2="375.16" stroke="#00ff00" stroke-width="0.5" stroke-opacity="0.6"/><circle cx="271.7" cy="375.16" r="1.15" fill="#00ff00"/><text x="278.1" y="376.21" font-size="3.0" fill="#666666" class="t">AGWO</text><line x1="266.5" y1="379.38" x2="277" y2="379.38" stroke="#ff0000" stroke-width="0.5"/><text x="278.1" y="380.43" font-size="3.0" fill="#666666" class="t">IWOA</text><line x1="266.5" y1="383.6" x2="277" y2="383.6" stroke="#ff00ff" stroke-width="0.5" stroke-opacity="0.6"/><circle cx="271.7" cy="383.6" r="1.15" fill="#ff00ff"/><text x="278.1" y="384.65" font-size="3.0" fill="#666666" class="t">VPPSO</text><line x1="266.5" y1="387.82" x2="277" y2="387.82" stroke="#ffff00" stroke-width="0.5" stroke-opacity="0.6"/><circle cx="271.7" cy="387.82" r="1.15" fill="#ffff00"/><text x="278.1" y="388.87" font-size="3.0" fill="#666666" class="t">NABC</text><line x1="266.5" y1="392.04" x2="277" y2="392.04" stroke="#00ffff" stroke-width="0.5" stroke-opacity="0.6"/><circle cx="271.7" cy="392.04" r="1.15" fill="#00ffff"/><text x="278.1" y="393.09" font-size="3.0" fill="#666666" class="t">MSEFA</text><line x1="266.5" y1="396.26" x2="277" y2="396.26" stroke="#ff0000" stroke-width="0.5"/><circle cx="271.7" cy="396.26" r="1.15" fill="#ff0000"/><text x="278.1" y="397.31" font-size="3.0" fill="#666666" class="t">MSESSA</text></g>
<g><clipPath id="cp11"><rect x="347.5" y="334.6" width="112.4" height="90.4"/></clipPath><text x="402.95" y="334.4" font-size="3.75" fill="#333" text-anchor="middle">C13</text><line x1="358.59" y1="423.5" x2="358.59" y2="422.4" stroke="#3a3a3a" stroke-width="0.4"/><line x1="358.59" y1="336.1" x2="358.59" y2="337.2" stroke="#3a3a3a" stroke-width="0.4"/><text x="358.59" y="428.8" font-size="3.1" fill="#555" class="t" text-anchor="middle">50</text><line x1="369.68" y1="423.5" x2="369.68" y2="422.4" stroke="#3a3a3a" stroke-width="0.4"/><line x1="369.68" y1="336.1" x2="369.68" y2="337.2" stroke="#3a3a3a" stroke-width="0.4"/><text x="369.68" y="428.8" font-size="3.1" fill="#555" class="t" text-anchor="middle">100</text><line x1="380.77" y1="423.5" x2="380.77" y2="422.4" stroke="#3a3a3a" stroke-width="0.4"/><line x1="380.77" y1="336.1" x2="380.77" y2="337.2" stroke="#3a3a3a" stroke-width="0.4"/><text x="380.77" y="428.8" font-size="3.1" fill="#555" class="t" text-anchor="middle">150</text><line x1="391.86" y1="423.5" x2="391.86" y2="422.4" stroke="#3a3a3a" stroke-width="0.4"/><line x1="391.86" y1="336.1" x2="391.86" y2="337.2" stroke="#3a3a3a" stroke-width="0.4"/><text x="391.86" y="428.8" font-size="3.1" fill="#555" class="t" text-anchor="middle">200</text><line x1="402.95" y1="423.5" x2="402.95" y2="422.4" stroke="#3a3a3a" stroke-width="0.4"/><line x1="402.95" y1="336.1" x2="402.95" y2="337.2" stroke="#3a3a3a" stroke-width="0.4"/><text x="402.95" y="428.8" font-size="3.1" fill="#555" class="t" text-anchor="middle">250</text><line x1="414.04" y1="423.5" x2="414.04" y2="422.4" stroke="#3a3a3a" stroke-width="0.4"/><line x1="414.04" y1="336.1" x2="414.04" y2="337.2" stroke="#3a3a3a" stroke-width="0.4"/><text x="414.04" y="428.8" font-size="3.1" fill="#555" class="t" text-anchor="middle">300</text><line x1="425.13" y1="423.5" x2="425.13" y2="422.4" stroke="#3a3a3a" stroke-width="0.4"/><line x1="425.13" y1="336.1" x2="425.13" y2="337.2" stroke="#3a3a3a" stroke-width="0.4"/><text x="425.13" y="428.8" font-size="3.1" fill="#555" class="t" text-anchor="middle">350</text><line x1="436.22" y1="423.5" x2="436.22" y2="422.4" stroke="#3a3a3a" stroke-width="0.4"/><line x1="436.22" y1="336.1" x2="436.22" y2="337.2" stroke="#3a3a3a" stroke-width="0.4"/><text x="436.22" y="428.8" font-size="3.1" fill="#555" class="t" text-anchor="middle">400</text><line x1="447.31" y1="423.5" x2="447.31" y2="422.4" stroke="#3a3a3a" stroke-width="0.4"/><line x1="447.31" y1="336.1" x2="447.31" y2="337.2" stroke="#3a3a3a" stroke-width="0.4"/><text x="447.31" y="428.8" font-size="3.1" fill="#555" class="t" text-anchor="middle">450</text><line x1="458.4" y1="423.5" x2="458.4" y2="422.4" stroke="#3a3a3a" stroke-width="0.4"/><line x1="458.4" y1="336.1" x2="458.4" y2="337.2" stroke="#3a3a3a" stroke-width="0.4"/><text x="458.4" y="428.8" font-size="3.1" fill="#555" class="t" text-anchor="middle">500</text><text x="402.95" y="433.8" font-size="3.6" fill="#333" class="t" text-anchor="middle">Iteration</text><text transform="translate(336.7 379.8) rotate(-90)" font-size="3.6" fill="#333" class="f" text-anchor="middle">Fitness function</text><line x1="347.5" y1="349.5" x2="348.6" y2="349.5" stroke="#3a3a3a" stroke-width="0.4"/><line x1="458.4" y1="349.5" x2="457.3" y2="349.5" stroke="#3a3a3a" stroke-width="0.4"/><text x="346.3" y="350.6" font-size="3.1" fill="#555" class="t" text-anchor="end">10<tspan dy="-1.3" font-size="2.2">10</tspan></text><line x1="347.5" y1="372.6" x2="348.6" y2="372.6" stroke="#3a3a3a" stroke-width="0.4"/><line x1="458.4" y1="372.6" x2="457.3" y2="372.6" stroke="#3a3a3a" stroke-width="0.4"/><text x="346.3" y="373.7" font-size="3.1" fill="#555" class="t" text-anchor="end">10<tspan dy="-1.3" font-size="2.2">5</tspan></text><line x1="347.5" y1="396.4" x2="348.6" y2="396.4" stroke="#3a3a3a" stroke-width="0.4"/><line x1="458.4" y1="396.4" x2="457.3" y2="396.4" stroke="#3a3a3a" stroke-width="0.4"/><text x="346.3" y="397.5" font-size="3.1" fill="#555" class="t" text-anchor="end">10<tspan dy="-1.3" font-size="2.2">0</tspan></text><line x1="347.5" y1="419.8" x2="348.6" y2="419.8" stroke="#3a3a3a" stroke-width="0.4"/><line x1="458.4" y1="419.8" x2="457.3" y2="419.8" stroke="#3a3a3a" stroke-width="0.4"/><text x="346.3" y="420.9" font-size="3.1" fill="#555" class="t" text-anchor="end">10<tspan dy="-1.3" font-size="2.2">-5</tspan></text><g clip-path="url(#cp11)" fill="none" stroke-linejoin="round"><polyline points="347.72,337 356.15,362 364.58,379 373.01,392.7 381.44,398.6 389.86,403.1 398.29,406 406.72,409 415.15,411.5 423.58,412.8 432.01,413.6 440.43,414.2 448.86,414.55 457.29,414.9" stroke="#0000ff" stroke-width="0.55" stroke-opacity="0.9"/><polyline points="347.72,336.5 356.15,357.7 364.58,358.5 373.01,358.9 381.44,359.3 389.86,359.4 398.29,359.5 406.72,359.71 415.15,359.93 423.58,360.14 432.01,360.36 440.43,360.57 448.86,360.79 457.29,361" stroke="#00ff00" stroke-width="0.55" stroke-opacity="0.9"/><path d="M346.17 336.5l1.55 -1.24l1.55 1.24l-1.55 1.24z" fill="#00ff00"/><path d="M354.6 357.7l1.55 -1.24l1.55 1.24l-1.55 1.24z" fill="#00ff00"/><path d="M363.03 358.5l1.55 -1.24l1.55 1.24l-1.55 1.24z" fill="#00ff00"/><path d="M371.45 358.9l1.55 -1.24l1.55 1.24l-1.55 1.24z" fill="#00ff00"/><path d="M379.88 359.3l1.55 -1.24l1.55 1.24l-1.55 1.24z" fill="#00ff00"/><path d="M388.31 359.4l1.55 -1.24l1.55 1.24l-1.55 1.24z" fill="#00ff00"/><path d="M396.74 359.5l1.55 -1.24l1.55 1.24l-1.55 1.24z" fill="#00ff00"/><path d="M405.17 359.71l1.55 -1.24l1.55 1.24l-1.55 1.24z" fill="#00ff00"/><path d="M413.6 359.93l1.55 -1.24l1.55 1.24l-1.55 1.24z" fill="#00ff00"/><path d="M422.02 360.14l1.55 -1.24l1.55 1.24l-1.55 1.24z" fill="#00ff00"/><path d="M430.45 360.36l1.55 -1.24l1.55 1.24l-1.55 1.24z" fill="#00ff00"/><path d="M438.88 360.57l1.55 -1.24l1.55 1.24l-1.55 1.24z" fill="#00ff00"/><path d="M447.31 360.79l1.55 -1.24l1.55 1.24l-1.55 1.24z" fill="#00ff00"/><path d="M455.74 361l1.55 -1.24l1.55 1.24l-1.55 1.24z" fill="#00ff00"/><polyline points="347.72,337 356.15,357.7 364.58,363.4 373.01,368.3 381.44,372.4 389.86,374.8 398.29,376.2 406.72,376.8 415.15,376.83 423.58,376.87 432.01,376.9 440.43,376.93 448.86,376.97 457.29,377" stroke="#505060" stroke-width="0.55" stroke-opacity="0.9"/><polyline points="347.72,336.5 356.15,338.9 364.58,341.4 373.01,343.8 381.44,345.8 389.86,347.9 398.29,350 406.72,353.6 415.15,355.2 423.58,360.1 432.01,364.2 440.43,366 448.86,367 457.29,368" stroke="#ff00ff" stroke-width="0.55" stroke-opacity="0.65"/><circle cx="347.72" cy="336.5" r="1.15" fill="#ff00ff"/><circle cx="356.15" cy="338.9" r="1.15" fill="#ff00ff"/><circle cx="364.58" cy="341.4" r="1.15" fill="#ff00ff"/><circle cx="373.01" cy="343.8" r="1.15" fill="#ff00ff"/><circle cx="381.44" cy="345.8" r="1.15" fill="#ff00ff"/><circle cx="389.86" cy="347.9" r="1.15" fill="#ff00ff"/><circle cx="398.29" cy="350" r="1.15" fill="#ff00ff"/><circle cx="406.72" cy="353.6" r="1.15" fill="#ff00ff"/><circle cx="415.15" cy="355.2" r="1.15" fill="#ff00ff"/><circle cx="423.58" cy="360.1" r="1.15" fill="#ff00ff"/><circle cx="432.01" cy="364.2" r="1.15" fill="#ff00ff"/><circle cx="440.43" cy="366" r="1.15" fill="#ff00ff"/><circle cx="448.86" cy="367" r="1.15" fill="#ff00ff"/><circle cx="457.29" cy="368" r="1.15" fill="#ff00ff"/><polyline points="347.72,337 356.15,341.4 364.58,343.8 373.01,346.3 381.44,348.7 389.86,351.2 398.29,353.6 406.72,357.7 415.15,359.5 423.58,361.8 432.01,364.5 440.43,367 448.86,369 457.29,370.8" stroke="#00ffff" stroke-width="0.55" stroke-opacity="0.65"/><circle cx="347.72" cy="337" r="1.15" fill="#00ffff"/><circle cx="356.15" cy="341.4" r="1.15" fill="#00ffff"/><circle cx="364.58" cy="343.8" r="1.15" fill="#00ffff"/><circle cx="373.01" cy="346.3" r="1.15" fill="#00ffff"/><circle cx="381.44" cy="348.7" r="1.15" fill="#00ffff"/><circle cx="389.86" cy="351.2" r="1.15" fill="#00ffff"/><circle cx="398.29" cy="353.6" r="1.15" fill="#00ffff"/><circle cx="406.72" cy="357.7" r="1.15" fill="#00ffff"/><circle cx="415.15" cy="359.5" r="1.15" fill="#00ffff"/><circle cx="423.58" cy="361.8" r="1.15" fill="#00ffff"/><circle cx="432.01" cy="364.5" r="1.15" fill="#00ffff"/><circle cx="440.43" cy="367" r="1.15" fill="#00ffff"/><circle cx="448.86" cy="369" r="1.15" fill="#00ffff"/><circle cx="457.29" cy="370.8" r="1.15" fill="#00ffff"/><polyline points="347.72,343.8 356.15,349.5 364.58,349.8 373.01,350 381.44,350 389.86,350.3 398.29,350.6 406.72,350.66 415.15,350.71 423.58,350.77 432.01,350.83 440.43,350.89 448.86,350.94 457.29,351" stroke="#000000" stroke-width="0.55" stroke-opacity="0.9"/><circle cx="347.72" cy="343.8" r="0.98" fill="#000000"/><circle cx="356.15" cy="349.5" r="0.98" fill="#000000"/><circle cx="364.58" cy="349.8" r="0.98" fill="#000000"/><circle cx="373.01" cy="350" r="0.98" fill="#000000"/><circle cx="381.44" cy="350" r="0.98" fill="#000000"/><circle cx="389.86" cy="350.3" r="0.98" fill="#000000"/><circle cx="398.29" cy="350.6" r="0.98" fill="#000000"/><circle cx="406.72" cy="350.66" r="0.98" fill="#000000"/><circle cx="415.15" cy="350.71" r="0.98" fill="#000000"/><circle cx="423.58" cy="350.77" r="0.98" fill="#000000"/><circle cx="432.01" cy="350.83" r="0.98" fill="#000000"/><circle cx="440.43" cy="350.89" r="0.98" fill="#000000"/><circle cx="448.86" cy="350.94" r="0.98" fill="#000000"/><circle cx="457.29" cy="351" r="0.98" fill="#000000"/><polyline points="347.72,337 356.15,358 364.58,366.7 373.01,372.4 381.44,377.3 389.86,382.2 398.29,386.3 406.72,390.4 415.15,392.8 423.58,394.5 432.01,397 440.43,399 448.86,400.8 457.29,402.6" stroke="#ffff00" stroke-width="0.55" stroke-opacity="0.65"/><polyline points="347.72,337.5 356.15,359.3 364.58,366 373.01,373.2 381.44,381.4 389.86,388.7 398.29,394.5 406.72,400.2 415.15,402.6 423.58,404.3 432.01,405.5 440.43,406.3 448.86,407.1 457.29,407.9" stroke="#0000ff" stroke-width="0.55" stroke-opacity="0.65"/><circle cx="347.72" cy="337.5" r="1.15" fill="#0000ff"/><circle cx="356.15" cy="359.3" r="1.15" fill="#0000ff"/><circle cx="364.58" cy="366" r="1.15" fill="#0000ff"/><circle cx="373.01" cy="373.2" r="1.15" fill="#0000ff"/><circle cx="381.44" cy="381.4" r="1.15" fill="#0000ff"/><circle cx="389.86" cy="388.7" r="1.15" fill="#0000ff"/><circle cx="398.29" cy="394.5" r="1.15" fill="#0000ff"/><circle cx="406.72" cy="400.2" r="1.15" fill="#0000ff"/><circle cx="415.15" cy="402.6" r="1.15" fill="#0000ff"/><circle cx="423.58" cy="404.3" r="1.15" fill="#0000ff"/><circle cx="432.01" cy="405.5" r="1.15" fill="#0000ff"/><circle cx="440.43" cy="406.3" r="1.15" fill="#0000ff"/><circle cx="448.86" cy="407.1" r="1.15" fill="#0000ff"/><circle cx="457.29" cy="407.9" r="1.15" fill="#0000ff"/><polyline points="347.72,336.5 356.15,358.5 364.58,359.5 373.01,360 381.44,360.5 389.86,361 398.29,361.5 406.72,362.5 415.15,362.67 423.58,362.83 432.01,363 440.43,363.17 448.86,363.33 457.29,363.5" stroke="#00ff00" stroke-width="0.55" stroke-opacity="0.65"/><circle cx="347.72" cy="336.5" r="1.15" fill="#00ff00"/><circle cx="356.15" cy="358.5" r="1.15" fill="#00ff00"/><circle cx="364.58" cy="359.5" r="1.15" fill="#00ff00"/><circle cx="373.01" cy="360" r="1.15" fill="#00ff00"/><circle cx="381.44" cy="360.5" r="1.15" fill="#00ff00"/><circle cx="389.86" cy="361" r="1.15" fill="#00ff00"/><circle cx="398.29" cy="361.5" r="1.15" fill="#00ff00"/><circle cx="406.72" cy="362.5" r="1.15" fill="#00ff00"/><circle cx="415.15" cy="362.67" r="1.15" fill="#00ff00"/><circle cx="423.58" cy="362.83" r="1.15" fill="#00ff00"/><circle cx="432.01" cy="363" r="1.15" fill="#00ff00"/><circle cx="440.43" cy="363.17" r="1.15" fill="#00ff00"/><circle cx="448.86" cy="363.33" r="1.15" fill="#00ff00"/><circle cx="457.29" cy="363.5" r="1.15" fill="#00ff00"/><polyline points="347.72,338 356.15,358.5 364.58,364 373.01,369 381.44,373 389.86,375.3 398.29,376.5 406.72,376.8 415.15,376.83 423.58,376.87 432.01,376.9 440.43,376.93 448.86,376.97 457.29,377" stroke="#ff0000" stroke-width="0.55" stroke-opacity="0.9"/><polyline points="347.72,336.5 356.15,359.3 364.58,363.9 373.01,365.9 381.44,368.6 389.86,376.5 398.29,386.6 406.72,399.4 415.15,407.5 423.58,409.2 432.01,409.27 440.43,409.35 448.86,409.43 457.29,409.5" stroke="#ff00ff" stroke-width="0.55" stroke-opacity="0.65"/><circle cx="347.72" cy="336.5" r="1.15" fill="#ff00ff"/><circle cx="356.15" cy="359.3" r="1.15" fill="#ff00ff"/><circle cx="364.58" cy="363.9" r="1.15" fill="#ff00ff"/><circle cx="373.01" cy="365.9" r="1.15" fill="#ff00ff"/><circle cx="381.44" cy="368.6" r="1.15" fill="#ff00ff"/><circle cx="389.86" cy="376.5" r="1.15" fill="#ff00ff"/><circle cx="398.29" cy="386.6" r="1.15" fill="#ff00ff"/><circle cx="406.72" cy="399.4" r="1.15" fill="#ff00ff"/><circle cx="415.15" cy="407.5" r="1.15" fill="#ff00ff"/><circle cx="423.58" cy="409.2" r="1.15" fill="#ff00ff"/><circle cx="432.01" cy="409.27" r="1.15" fill="#ff00ff"/><circle cx="440.43" cy="409.35" r="1.15" fill="#ff00ff"/><circle cx="448.86" cy="409.43" r="1.15" fill="#ff00ff"/><circle cx="457.29" cy="409.5" r="1.15" fill="#ff00ff"/><polyline points="347.72,338 356.15,364 364.58,385 373.01,397 381.44,404.6 389.86,410.6 398.29,415 406.72,418 415.15,419.5 423.58,420 432.01,420.15 440.43,420.3 448.86,420.45 457.29,420.6" stroke="#ffff00" stroke-width="0.55" stroke-opacity="0.65"/><circle cx="347.72" cy="338" r="1.15" fill="#ffff00"/><circle cx="356.15" cy="364" r="1.15" fill="#ffff00"/><circle cx="364.58" cy="385" r="1.15" fill="#ffff00"/><circle cx="373.01" cy="397" r="1.15" fill="#ffff00"/><circle cx="381.44" cy="404.6" r="1.15" fill="#ffff00"/><circle cx="389.86" cy="410.6" r="1.15" fill="#ffff00"/><circle cx="398.29" cy="415" r="1.15" fill="#ffff00"/><circle cx="406.72" cy="418" r="1.15" fill="#ffff00"/><circle cx="415.15" cy="419.5" r="1.15" fill="#ffff00"/><circle cx="423.58" cy="420" r="1.15" fill="#ffff00"/><circle cx="432.01" cy="420.15" r="1.15" fill="#ffff00"/><circle cx="440.43" cy="420.3" r="1.15" fill="#ffff00"/><circle cx="448.86" cy="420.45" r="1.15" fill="#ffff00"/><circle cx="457.29" cy="420.6" r="1.15" fill="#ffff00"/><polyline points="347.72,337 356.15,352 364.58,352.5 373.01,353.3 381.44,354.2 389.86,355.2 398.29,356 406.72,357 415.15,358.5 423.58,360 432.01,360.65 440.43,361.3 448.86,361.95 457.29,362.6" stroke="#00ffff" stroke-width="0.55" stroke-opacity="0.65"/><circle cx="347.72" cy="337" r="1.15" fill="#00ffff"/><circle cx="356.15" cy="352" r="1.15" fill="#00ffff"/><circle cx="364.58" cy="352.5" r="1.15" fill="#00ffff"/><circle cx="373.01" cy="353.3" r="1.15" fill="#00ffff"/><circle cx="381.44" cy="354.2" r="1.15" fill="#00ffff"/><circle cx="389.86" cy="355.2" r="1.15" fill="#00ffff"/><circle cx="398.29" cy="356" r="1.15" fill="#00ffff"/><circle cx="406.72" cy="357" r="1.15" fill="#00ffff"/><circle cx="415.15" cy="358.5" r="1.15" fill="#00ffff"/><circle cx="423.58" cy="360" r="1.15" fill="#00ffff"/><circle cx="432.01" cy="360.65" r="1.15" fill="#00ffff"/><circle cx="440.43" cy="361.3" r="1.15" fill="#00ffff"/><circle cx="448.86" cy="361.95" r="1.15" fill="#00ffff"/><circle cx="457.29" cy="362.6" r="1.15" fill="#00ffff"/><polyline points="347.72,339.7 356.15,373.2 364.58,395.3 373.01,410 381.44,418.6 389.86,420.6 398.29,421.4 406.72,422.2 415.15,422.33 423.58,422.47 432.01,422.6 440.43,422.73 448.86,422.87 457.29,423" stroke="#ff0000" stroke-width="0.55" stroke-opacity="0.9"/><circle cx="347.72" cy="339.7" r="1.15" fill="#ff0000"/><circle cx="356.15" cy="373.2" r="1.15" fill="#ff0000"/><circle cx="364.58" cy="395.3" r="1.15" fill="#ff0000"/><circle cx="373.01" cy="410" r="1.15" fill="#ff0000"/><circle cx="381.44" cy="418.6" r="1.15" fill="#ff0000"/><circle cx="389.86" cy="420.6" r="1.15" fill="#ff0000"/><circle cx="398.29" cy="421.4" r="1.15" fill="#ff0000"/><circle cx="406.72" cy="422.2" r="1.15" fill="#ff0000"/><circle cx="415.15" cy="422.33" r="1.15" fill="#ff0000"/><circle cx="423.58" cy="422.47" r="1.15" fill="#ff0000"/><circle cx="432.01" cy="422.6" r="1.15" fill="#ff0000"/><circle cx="440.43" cy="422.73" r="1.15" fill="#ff0000"/><circle cx="448.86" cy="422.87" r="1.15" fill="#ff0000"/><circle cx="457.29" cy="423" r="1.15" fill="#ff0000"/></g><rect x="347.5" y="336.1" width="110.9" height="87.4" fill="none" stroke="#3a3a3a" stroke-width="0.55"/><rect x="429.4" y="338.5" width="26.5" height="59.8" fill="#fff" stroke="#999" stroke-width="0.45"/><line x1="430.2" y1="341.4" x2="440.7" y2="341.4" stroke="#0000ff" stroke-width="0.5"/><text x="441.8" y="342.45" font-size="3.0" fill="#666666" class="t">SSA</text><line x1="430.2" y1="345.62" x2="440.7" y2="345.62" stroke="#00ff00" stroke-width="0.5"/><path d="M433.85 345.62l1.55 -1.24l1.55 1.24l-1.55 1.24z" fill="#00ff00"/><text x="441.8" y="346.67" font-size="3.0" fill="#666666" class="t">GWO</text><line x1="430.2" y1="349.84" x2="440.7" y2="349.84" stroke="#505060" stroke-width="0.5"/><text x="441.8" y="350.89" font-size="3.0" fill="#666666" class="t">WOA</text><line x1="430.2" y1="354.06" x2="440.7" y2="354.06" stroke="#ff00ff" stroke-width="0.5" stroke-opacity="0.6"/><circle cx="435.4" cy="354.06" r="1.15" fill="#ff00ff"/><text x="441.8" y="355.11" font-size="3.0" fill="#666666" class="t">PSO</text><line x1="430.2" y1="358.28" x2="440.7" y2="358.28" stroke="#00ffff" stroke-width="0.5" stroke-opacity="0.6"/><circle cx="435.4" cy="358.28" r="1.15" fill="#00ffff"/><text x="441.8" y="359.33" font-size="3.0" fill="#666666" class="t">ABC</text><line x1="430.2" y1="362.5" x2="440.7" y2="362.5" stroke="#000000" stroke-width="0.5"/><circle cx="435.4" cy="362.5" r="0.98" fill="#000000"/><text x="441.8" y="363.55" font-size="3.0" fill="#666666" class="t">FA</text><line x1="430.2" y1="366.72" x2="440.7" y2="366.72" stroke="#ffff00" stroke-width="0.5" stroke-opacity="0.6"/><text x="441.8" y="367.77" font-size="3.0" fill="#666666" class="t">QMEISSA</text><line x1="430.2" y1="370.94" x2="440.7" y2="370.94" stroke="#0000ff" stroke-width="0.5" stroke-opacity="0.6"/><circle cx="435.4" cy="370.94" r="1.15" fill="#0000ff"/><text x="441.8" y="371.99" font-size="3.0" fill="#666666" class="t">LSSA</text><line x1="430.2" y1="375.16" x2="440.7" y2="375.16" stroke="#00ff00" stroke-width="0.5" stroke-opacity="0.6"/><circle cx="435.4" cy="375.16" r="1.15" fill="#00ff00"/><text x="441.8" y="376.21" font-size="3.0" fill="#666666" class="t">AGWO</text><line x1="430.2" y1="379.38" x2="440.7" y2="379.38" stroke="#ff0000" stroke-width="0.5"/><text x="441.8" y="380.43" font-size="3.0" fill="#666666" class="t">IWOA</text><line x1="430.2" y1="383.6" x2="440.7" y2="383.6" stroke="#ff00ff" stroke-width="0.5" stroke-opacity="0.6"/><circle cx="435.4" cy="383.6" r="1.15" fill="#ff00ff"/><text x="441.8" y="384.65" font-size="3.0" fill="#666666" class="t">VPPSO</text><line x1="430.2" y1="387.82" x2="440.7" y2="387.82" stroke="#ffff00" stroke-width="0.5" stroke-opacity="0.6"/><circle cx="435.4" cy="387.82" r="1.15" fill="#ffff00"/><text x="441.8" y="388.87" font-size="3.0" fill="#666666" class="t">NABC</text><line x1="430.2" y1="392.04" x2="440.7" y2="392.04" stroke="#00ffff" stroke-width="0.5" stroke-opacity="0.6"/><circle cx="435.4" cy="392.04" r="1.15" fill="#00ffff"/><text x="441.8" y="393.09" font-size="3.0" fill="#666666" class="t">MSEFA</text><line x1="430.2" y1="396.26" x2="440.7" y2="396.26" stroke="#ff0000" stroke-width="0.5"/><circle cx="435.4" cy="396.26" r="1.15" fill="#ff0000"/><text x="441.8" y="397.31" font-size="3.0" fill="#666666" class="t">MSESSA</text></g>
<g><clipPath id="cp12"><rect x="20.4" y="442.9" width="112.4" height="90.4"/></clipPath><text x="75.85" y="442.7" font-size="3.75" fill="#333" text-anchor="middle">C14</text><line x1="31.49" y1="531.8" x2="31.49" y2="530.7" stroke="#3a3a3a" stroke-width="0.4"/><line x1="31.49" y1="444.4" x2="31.49" y2="445.5" stroke="#3a3a3a" stroke-width="0.4"/><text x="31.49" y="537.1" font-size="3.1" fill="#555" class="t" text-anchor="middle">50</text><line x1="42.58" y1="531.8" x2="42.58" y2="530.7" stroke="#3a3a3a" stroke-width="0.4"/><line x1="42.58" y1="444.4" x2="42.58" y2="445.5" stroke="#3a3a3a" stroke-width="0.4"/><text x="42.58" y="537.1" font-size="3.1" fill="#555" class="t" text-anchor="middle">100</text><line x1="53.67" y1="531.8" x2="53.67" y2="530.7" stroke="#3a3a3a" stroke-width="0.4"/><line x1="53.67" y1="444.4" x2="53.67" y2="445.5" stroke="#3a3a3a" stroke-width="0.4"/><text x="53.67" y="537.1" font-size="3.1" fill="#555" class="t" text-anchor="middle">150</text><line x1="64.76" y1="531.8" x2="64.76" y2="530.7" stroke="#3a3a3a" stroke-width="0.4"/><line x1="64.76" y1="444.4" x2="64.76" y2="445.5" stroke="#3a3a3a" stroke-width="0.4"/><text x="64.76" y="537.1" font-size="3.1" fill="#555" class="t" text-anchor="middle">200</text><line x1="75.85" y1="531.8" x2="75.85" y2="530.7" stroke="#3a3a3a" stroke-width="0.4"/><line x1="75.85" y1="444.4" x2="75.85" y2="445.5" stroke="#3a3a3a" stroke-width="0.4"/><text x="75.85" y="537.1" font-size="3.1" fill="#555" class="t" text-anchor="middle">250</text><line x1="86.94" y1="531.8" x2="86.94" y2="530.7" stroke="#3a3a3a" stroke-width="0.4"/><line x1="86.94" y1="444.4" x2="86.94" y2="445.5" stroke="#3a3a3a" stroke-width="0.4"/><text x="86.94" y="537.1" font-size="3.1" fill="#555" class="t" text-anchor="middle">300</text><line x1="98.03" y1="531.8" x2="98.03" y2="530.7" stroke="#3a3a3a" stroke-width="0.4"/><line x1="98.03" y1="444.4" x2="98.03" y2="445.5" stroke="#3a3a3a" stroke-width="0.4"/><text x="98.03" y="537.1" font-size="3.1" fill="#555" class="t" text-anchor="middle">350</text><line x1="109.12" y1="531.8" x2="109.12" y2="530.7" stroke="#3a3a3a" stroke-width="0.4"/><line x1="109.12" y1="444.4" x2="109.12" y2="445.5" stroke="#3a3a3a" stroke-width="0.4"/><text x="109.12" y="537.1" font-size="3.1" fill="#555" class="t" text-anchor="middle">400</text><line x1="120.21" y1="531.8" x2="120.21" y2="530.7" stroke="#3a3a3a" stroke-width="0.4"/><line x1="120.21" y1="444.4" x2="120.21" y2="445.5" stroke="#3a3a3a" stroke-width="0.4"/><text x="120.21" y="537.1" font-size="3.1" fill="#555" class="t" text-anchor="middle">450</text><line x1="131.3" y1="531.8" x2="131.3" y2="530.7" stroke="#3a3a3a" stroke-width="0.4"/><line x1="131.3" y1="444.4" x2="131.3" y2="445.5" stroke="#3a3a3a" stroke-width="0.4"/><text x="131.3" y="537.1" font-size="3.1" fill="#555" class="t" text-anchor="middle">500</text><text x="75.85" y="542.1" font-size="3.6" fill="#333" class="t" text-anchor="middle">Iteration</text><text transform="translate(9.6 488.1) rotate(-90)" font-size="3.6" fill="#333" class="f" text-anchor="middle">Fitness function</text><line x1="20.4" y1="446.9" x2="21.5" y2="446.9" stroke="#3a3a3a" stroke-width="0.4"/><line x1="131.3" y1="446.9" x2="130.2" y2="446.9" stroke="#3a3a3a" stroke-width="0.4"/><text x="19.2" y="448" font-size="3.1" fill="#555" class="t" text-anchor="end">10<tspan dy="-1.3" font-size="2.2">4</tspan></text><line x1="20.4" y1="469.1" x2="21.5" y2="469.1" stroke="#3a3a3a" stroke-width="0.4"/><line x1="131.3" y1="469.1" x2="130.2" y2="469.1" stroke="#3a3a3a" stroke-width="0.4"/><text x="19.2" y="470.2" font-size="3.1" fill="#555" class="t" text-anchor="end">10<tspan dy="-1.3" font-size="2.2">3</tspan></text><line x1="20.4" y1="490.7" x2="21.5" y2="490.7" stroke="#3a3a3a" stroke-width="0.4"/><line x1="131.3" y1="490.7" x2="130.2" y2="490.7" stroke="#3a3a3a" stroke-width="0.4"/><text x="19.2" y="491.8" font-size="3.1" fill="#555" class="t" text-anchor="end">10<tspan dy="-1.3" font-size="2.2">2</tspan></text><line x1="20.4" y1="513.2" x2="21.5" y2="513.2" stroke="#3a3a3a" stroke-width="0.4"/><line x1="131.3" y1="513.2" x2="130.2" y2="513.2" stroke="#3a3a3a" stroke-width="0.4"/><text x="19.2" y="514.3" font-size="3.1" fill="#555" class="t" text-anchor="end">10<tspan dy="-1.3" font-size="2.2">1</tspan></text><g clip-path="url(#cp12)" fill="none" stroke-linejoin="round"><polyline points="20.62,463 29.05,494 37.48,499 45.91,502 54.34,504.5 62.76,506.5 71.19,508 79.62,509 88.05,509.5 96.48,510 104.91,510.5 113.33,511 121.76,511.5 130.19,512" stroke="#0000ff" stroke-width="0.55" stroke-opacity="0.9"/><polyline points="20.62,458.3 29.05,494 37.48,500 45.91,501.5 54.34,502.8 62.76,503.3 71.19,503.8 79.62,503.83 88.05,503.86 96.48,503.89 104.91,503.91 113.33,503.94 121.76,503.97 130.19,504" stroke="#00ff00" stroke-width="0.55" stroke-opacity="0.9"/><path d="M19.07 458.3l1.55 -1.24l1.55 1.24l-1.55 1.24z" fill="#00ff00"/><path d="M27.5 494l1.55 -1.24l1.55 1.24l-1.55 1.24z" fill="#00ff00"/><path d="M35.93 500l1.55 -1.24l1.55 1.24l-1.55 1.24z" fill="#00ff00"/><path d="M44.35 501.5l1.55 -1.24l1.55 1.24l-1.55 1.24z" fill="#00ff00"/><path d="M52.78 502.8l1.55 -1.24l1.55 1.24l-1.55 1.24z" fill="#00ff00"/><path d="M61.21 503.3l1.55 -1.24l1.55 1.24l-1.55 1.24z" fill="#00ff00"/><path d="M69.64 503.8l1.55 -1.24l1.55 1.24l-1.55 1.24z" fill="#00ff00"/><path d="M78.07 503.83l1.55 -1.24l1.55 1.24l-1.55 1.24z" fill="#00ff00"/><path d="M86.5 503.86l1.55 -1.24l1.55 1.24l-1.55 1.24z" fill="#00ff00"/><path d="M94.92 503.89l1.55 -1.24l1.55 1.24l-1.55 1.24z" fill="#00ff00"/><path d="M103.35 503.91l1.55 -1.24l1.55 1.24l-1.55 1.24z" fill="#00ff00"/><path d="M111.78 503.94l1.55 -1.24l1.55 1.24l-1.55 1.24z" fill="#00ff00"/><path d="M120.21 503.97l1.55 -1.24l1.55 1.24l-1.55 1.24z" fill="#00ff00"/><path d="M128.64 504l1.55 -1.24l1.55 1.24l-1.55 1.24z" fill="#00ff00"/><polyline points="20.62,462 29.05,492 37.48,496 45.91,498.4 54.34,500 62.76,501 71.19,501.6 79.62,502.5 88.05,502.63 96.48,502.77 104.91,502.9 113.33,503.03 121.76,503.17 130.19,503.3" stroke="#505060" stroke-width="0.55" stroke-opacity="0.9"/><polyline points="20.62,444.5 29.05,451 37.48,457.5 45.91,463.2 54.34,469 62.76,475.5 71.19,481.2 79.62,490.2 88.05,498.4 96.48,507.4 104.91,515.5 113.33,521.5 121.76,526.5 130.19,531.9" stroke="#ff00ff" stroke-width="0.55" stroke-opacity="0.65"/><circle cx="20.62" cy="444.5" r="1.15" fill="#ff00ff"/><circle cx="29.05" cy="451" r="1.15" fill="#ff00ff"/><circle cx="37.48" cy="457.5" r="1.15" fill="#ff00ff"/><circle cx="45.91" cy="463.2" r="1.15" fill="#ff00ff"/><circle cx="54.34" cy="469" r="1.15" fill="#ff00ff"/><circle cx="62.76" cy="475.5" r="1.15" fill="#ff00ff"/><circle cx="71.19" cy="481.2" r="1.15" fill="#ff00ff"/><circle cx="79.62" cy="490.2" r="1.15" fill="#ff00ff"/><circle cx="88.05" cy="498.4" r="1.15" fill="#ff00ff"/><circle cx="96.48" cy="507.4" r="1.15" fill="#ff00ff"/><circle cx="104.91" cy="515.5" r="1.15" fill="#ff00ff"/><circle cx="113.33" cy="521.5" r="1.15" fill="#ff00ff"/><circle cx="121.76" cy="526.5" r="1.15" fill="#ff00ff"/><circle cx="130.19" cy="531.9" r="1.15" fill="#ff00ff"/><polyline points="20.62,469 29.05,470.6 37.48,478 45.91,482.5 54.34,487.8 62.76,491 71.19,492.7 79.62,494 88.05,494.8 96.48,495.9 104.91,496.52 113.33,497.15 121.76,497.77 130.19,498.4" stroke="#00ffff" stroke-width="0.55" stroke-opacity="0.65"/><circle cx="20.62" cy="469" r="1.15" fill="#00ffff"/><circle cx="29.05" cy="470.6" r="1.15" fill="#00ffff"/><circle cx="37.48" cy="478" r="1.15" fill="#00ffff"/><circle cx="45.91" cy="482.5" r="1.15" fill="#00ffff"/><circle cx="54.34" cy="487.8" r="1.15" fill="#00ffff"/><circle cx="62.76" cy="491" r="1.15" fill="#00ffff"/><circle cx="71.19" cy="492.7" r="1.15" fill="#00ffff"/><circle cx="79.62" cy="494" r="1.15" fill="#00ffff"/><circle cx="88.05" cy="494.8" r="1.15" fill="#00ffff"/><circle cx="96.48" cy="495.9" r="1.15" fill="#00ffff"/><circle cx="104.91" cy="496.52" r="1.15" fill="#00ffff"/><circle cx="113.33" cy="497.15" r="1.15" fill="#00ffff"/><circle cx="121.76" cy="497.77" r="1.15" fill="#00ffff"/><circle cx="130.19" cy="498.4" r="1.15" fill="#00ffff"/><polyline points="20.62,478.8 29.05,492.7 37.48,495.1 45.91,495.9 54.34,497.2 62.76,498 71.19,498.9 79.62,499.5 88.05,499.58 96.48,499.67 104.91,499.75 113.33,499.83 121.76,499.92 130.19,500" stroke="#000000" stroke-width="0.55" stroke-opacity="0.9"/><circle cx="20.62" cy="478.8" r="0.98" fill="#000000"/><circle cx="29.05" cy="492.7" r="0.98" fill="#000000"/><circle cx="37.48" cy="495.1" r="0.98" fill="#000000"/><circle cx="45.91" cy="495.9" r="0.98" fill="#000000"/><circle cx="54.34" cy="497.2" r="0.98" fill="#000000"/><circle cx="62.76" cy="498" r="0.98" fill="#000000"/><circle cx="71.19" cy="498.9" r="0.98" fill="#000000"/><circle cx="79.62" cy="499.5" r="0.98" fill="#000000"/><circle cx="88.05" cy="499.58" r="0.98" fill="#000000"/><circle cx="96.48" cy="499.67" r="0.98" fill="#000000"/><circle cx="104.91" cy="499.75" r="0.98" fill="#000000"/><circle cx="113.33" cy="499.83" r="0.98" fill="#000000"/><circle cx="121.76" cy="499.92" r="0.98" fill="#000000"/><circle cx="130.19" cy="500" r="0.98" fill="#000000"/><polyline points="20.62,447 29.05,487.8 37.48,496 45.91,500 54.34,503 62.76,505.5 71.19,507.4 79.62,508.5 88.05,509.55 96.48,510.6 104.91,512.3 113.33,512.57 121.76,512.83 130.19,513.1" stroke="#ffff00" stroke-width="0.55" stroke-opacity="0.65"/><polyline points="20.62,462 29.05,497 37.48,500 45.91,503 54.34,505 62.76,506.5 71.19,508.2 79.62,510.6 88.05,511.5 96.48,512.3 104.91,513 113.33,513.83 121.76,514.67 130.19,515.5" stroke="#0000ff" stroke-width="0.55" stroke-opacity="0.65"/><circle cx="20.62" cy="462" r="1.15" fill="#0000ff"/><circle cx="29.05" cy="497" r="1.15" fill="#0000ff"/><circle cx="37.48" cy="500" r="1.15" fill="#0000ff"/><circle cx="45.91" cy="503" r="1.15" fill="#0000ff"/><circle cx="54.34" cy="505" r="1.15" fill="#0000ff"/><circle cx="62.76" cy="506.5" r="1.15" fill="#0000ff"/><circle cx="71.19" cy="508.2" r="1.15" fill="#0000ff"/><circle cx="79.62" cy="510.6" r="1.15" fill="#0000ff"/><circle cx="88.05" cy="511.5" r="1.15" fill="#0000ff"/><circle cx="96.48" cy="512.3" r="1.15" fill="#0000ff"/><circle cx="104.91" cy="513" r="1.15" fill="#0000ff"/><circle cx="113.33" cy="513.83" r="1.15" fill="#0000ff"/><circle cx="121.76" cy="514.67" r="1.15" fill="#0000ff"/><circle cx="130.19" cy="515.5" r="1.15" fill="#0000ff"/><polyline points="20.62,461 29.05,496 37.48,500 45.91,501.8 54.34,502.8 62.76,503.3 71.19,503.8 79.62,503.9 88.05,504 96.48,504.1 104.91,504.2 113.33,504.3 121.76,504.4 130.19,504.5" stroke="#00ff00" stroke-width="0.55" stroke-opacity="0.65"/><circle cx="20.62" cy="461" r="1.15" fill="#00ff00"/><circle cx="29.05" cy="496" r="1.15" fill="#00ff00"/><circle cx="37.48" cy="500" r="1.15" fill="#00ff00"/><circle cx="45.91" cy="501.8" r="1.15" fill="#00ff00"/><circle cx="54.34" cy="502.8" r="1.15" fill="#00ff00"/><circle cx="62.76" cy="503.3" r="1.15" fill="#00ff00"/><circle cx="71.19" cy="503.8" r="1.15" fill="#00ff00"/><circle cx="79.62" cy="503.9" r="1.15" fill="#00ff00"/><circle cx="88.05" cy="504" r="1.15" fill="#00ff00"/><circle cx="96.48" cy="504.1" r="1.15" fill="#00ff00"/><circle cx="104.91" cy="504.2" r="1.15" fill="#00ff00"/><circle cx="113.33" cy="504.3" r="1.15" fill="#00ff00"/><circle cx="121.76" cy="504.4" r="1.15" fill="#00ff00"/><circle cx="130.19" cy="504.5" r="1.15" fill="#00ff00"/><polyline points="20.62,466 29.05,497 37.48,502 45.91,505 54.34,507.5 62.76,509.5 71.19,511.5 79.62,514.5 88.05,517.2 96.48,518.8 104.91,520.4 113.33,522 121.76,523 130.19,523.7" stroke="#ff0000" stroke-width="0.55" stroke-opacity="0.9"/><polyline points="20.62,463.2 29.05,499 37.48,501.5 45.91,506.5 54.34,509.8 62.76,513.1 71.19,515.9 79.62,518.5 88.05,519.5 96.48,520.4 104.91,520.67 113.33,520.95 121.76,521.23 130.19,521.5" stroke="#ff00ff" stroke-width="0.55" stroke-opacity="0.65"/><circle cx="20.62" cy="463.2" r="1.15" fill="#ff00ff"/><circle cx="29.05" cy="499" r="1.15" fill="#ff00ff"/><circle cx="37.48" cy="501.5" r="1.15" fill="#ff00ff"/><circle cx="45.91" cy="506.5" r="1.15" fill="#ff00ff"/><circle cx="54.34" cy="509.8" r="1.15" fill="#ff00ff"/><circle cx="62.76" cy="513.1" r="1.15" fill="#ff00ff"/><circle cx="71.19" cy="515.9" r="1.15" fill="#ff00ff"/><circle cx="79.62" cy="518.5" r="1.15" fill="#ff00ff"/><circle cx="88.05" cy="519.5" r="1.15" fill="#ff00ff"/><circle cx="96.48" cy="520.4" r="1.15" fill="#ff00ff"/><circle cx="104.91" cy="520.67" r="1.15" fill="#ff00ff"/><circle cx="113.33" cy="520.95" r="1.15" fill="#ff00ff"/><circle cx="121.76" cy="521.23" r="1.15" fill="#ff00ff"/><circle cx="130.19" cy="521.5" r="1.15" fill="#ff00ff"/><polyline points="20.62,465 29.05,499 37.48,503 45.91,505.5 54.34,507 62.76,508.5 71.19,509.5 79.62,510.5 88.05,511 96.48,511.5 104.91,512 113.33,512.5 121.76,513 130.19,513.5" stroke="#ffff00" stroke-width="0.55" stroke-opacity="0.65"/><circle cx="20.62" cy="465" r="1.15" fill="#ffff00"/><circle cx="29.05" cy="499" r="1.15" fill="#ffff00"/><circle cx="37.48" cy="503" r="1.15" fill="#ffff00"/><circle cx="45.91" cy="505.5" r="1.15" fill="#ffff00"/><circle cx="54.34" cy="507" r="1.15" fill="#ffff00"/><circle cx="62.76" cy="508.5" r="1.15" fill="#ffff00"/><circle cx="71.19" cy="509.5" r="1.15" fill="#ffff00"/><circle cx="79.62" cy="510.5" r="1.15" fill="#ffff00"/><circle cx="88.05" cy="511" r="1.15" fill="#ffff00"/><circle cx="96.48" cy="511.5" r="1.15" fill="#ffff00"/><circle cx="104.91" cy="512" r="1.15" fill="#ffff00"/><circle cx="113.33" cy="512.5" r="1.15" fill="#ffff00"/><circle cx="121.76" cy="513" r="1.15" fill="#ffff00"/><circle cx="130.19" cy="513.5" r="1.15" fill="#ffff00"/><polyline points="20.62,469.5 29.05,498 37.48,502 45.91,505.5 54.34,508.5 62.76,511 71.19,513.9 79.62,518 88.05,523.7 96.48,525.5 104.91,527 113.33,527.53 121.76,528.07 130.19,528.6" stroke="#00ffff" stroke-width="0.55" stroke-opacity="0.65"/><circle cx="20.62" cy="469.5" r="1.15" fill="#00ffff"/><circle cx="29.05" cy="498" r="1.15" fill="#00ffff"/><circle cx="37.48" cy="502" r="1.15" fill="#00ffff"/><circle cx="45.91" cy="505.5" r="1.15" fill="#00ffff"/><circle cx="54.34" cy="508.5" r="1.15" fill="#00ffff"/><circle cx="62.76" cy="511" r="1.15" fill="#00ffff"/><circle cx="71.19" cy="513.9" r="1.15" fill="#00ffff"/><circle cx="79.62" cy="518" r="1.15" fill="#00ffff"/><circle cx="88.05" cy="523.7" r="1.15" fill="#00ffff"/><circle cx="96.48" cy="525.5" r="1.15" fill="#00ffff"/><circle cx="104.91" cy="527" r="1.15" fill="#00ffff"/><circle cx="113.33" cy="527.53" r="1.15" fill="#00ffff"/><circle cx="121.76" cy="528.07" r="1.15" fill="#00ffff"/><circle cx="130.19" cy="528.6" r="1.15" fill="#00ffff"/><polyline points="20.62,467.3 29.05,498.4 37.48,504.9 45.91,507.7 54.34,509.8 62.76,512.3 71.19,514.7 79.62,517 88.05,518.8 96.48,520.1 104.91,521 113.33,522 121.76,522.8 130.19,523.4" stroke="#ff0000" stroke-width="0.55" stroke-opacity="0.9"/><circle cx="20.62" cy="467.3" r="1.15" fill="#ff0000"/><circle cx="29.05" cy="498.4" r="1.15" fill="#ff0000"/><circle cx="37.48" cy="504.9" r="1.15" fill="#ff0000"/><circle cx="45.91" cy="507.7" r="1.15" fill="#ff0000"/><circle cx="54.34" cy="509.8" r="1.15" fill="#ff0000"/><circle cx="62.76" cy="512.3" r="1.15" fill="#ff0000"/><circle cx="71.19" cy="514.7" r="1.15" fill="#ff0000"/><circle cx="79.62" cy="517" r="1.15" fill="#ff0000"/><circle cx="88.05" cy="518.8" r="1.15" fill="#ff0000"/><circle cx="96.48" cy="520.1" r="1.15" fill="#ff0000"/><circle cx="104.91" cy="521" r="1.15" fill="#ff0000"/><circle cx="113.33" cy="522" r="1.15" fill="#ff0000"/><circle cx="121.76" cy="522.8" r="1.15" fill="#ff0000"/><circle cx="130.19" cy="523.4" r="1.15" fill="#ff0000"/></g><rect x="20.4" y="444.4" width="110.9" height="87.4" fill="none" stroke="#3a3a3a" stroke-width="0.55"/><rect x="102.3" y="446.8" width="26.5" height="59.8" fill="#fff" stroke="#999" stroke-width="0.45"/><line x1="103.1" y1="449.7" x2="113.6" y2="449.7" stroke="#0000ff" stroke-width="0.5"/><text x="114.7" y="450.75" font-size="3.0" fill="#666666" class="t">SSA</text><line x1="103.1" y1="453.92" x2="113.6" y2="453.92" stroke="#00ff00" stroke-width="0.5"/><path d="M106.75 453.92l1.55 -1.24l1.55 1.24l-1.55 1.24z" fill="#00ff00"/><text x="114.7" y="454.97" font-size="3.0" fill="#666666" class="t">GWO</text><line x1="103.1" y1="458.14" x2="113.6" y2="458.14" stroke="#505060" stroke-width="0.5"/><text x="114.7" y="459.19" font-size="3.0" fill="#666666" class="t">WOA</text><line x1="103.1" y1="462.36" x2="113.6" y2="462.36" stroke="#ff00ff" stroke-width="0.5" stroke-opacity="0.6"/><circle cx="108.3" cy="462.36" r="1.15" fill="#ff00ff"/><text x="114.7" y="463.41" font-size="3.0" fill="#666666" class="t">PSO</text><line x1="103.1" y1="466.58" x2="113.6" y2="466.58" stroke="#00ffff" stroke-width="0.5" stroke-opacity="0.6"/><circle cx="108.3" cy="466.58" r="1.15" fill="#00ffff"/><text x="114.7" y="467.63" font-size="3.0" fill="#666666" class="t">ABC</text><line x1="103.1" y1="470.8" x2="113.6" y2="470.8" stroke="#000000" stroke-width="0.5"/><circle cx="108.3" cy="470.8" r="0.98" fill="#000000"/><text x="114.7" y="471.85" font-size="3.0" fill="#666666" class="t">FA</text><line x1="103.1" y1="475.02" x2="113.6" y2="475.02" stroke="#ffff00" stroke-width="0.5" stroke-opacity="0.6"/><text x="114.7" y="476.07" font-size="3.0" fill="#666666" class="t">QMEISSA</text><line x1="103.1" y1="479.24" x2="113.6" y2="479.24" stroke="#0000ff" stroke-width="0.5" stroke-opacity="0.6"/><circle cx="108.3" cy="479.24" r="1.15" fill="#0000ff"/><text x="114.7" y="480.29" font-size="3.0" fill="#666666" class="t">LSSA</text><line x1="103.1" y1="483.46" x2="113.6" y2="483.46" stroke="#00ff00" stroke-width="0.5" stroke-opacity="0.6"/><circle cx="108.3" cy="483.46" r="1.15" fill="#00ff00"/><text x="114.7" y="484.51" font-size="3.0" fill="#666666" class="t">AGWO</text><line x1="103.1" y1="487.68" x2="113.6" y2="487.68" stroke="#ff0000" stroke-width="0.5"/><text x="114.7" y="488.73" font-size="3.0" fill="#666666" class="t">IWOA</text><line x1="103.1" y1="491.9" x2="113.6" y2="491.9" stroke="#ff00ff" stroke-width="0.5" stroke-opacity="0.6"/><circle cx="108.3" cy="491.9" r="1.15" fill="#ff00ff"/><text x="114.7" y="492.95" font-size="3.0" fill="#666666" class="t">VPPSO</text><line x1="103.1" y1="496.12" x2="113.6" y2="496.12" stroke="#ffff00" stroke-width="0.5" stroke-opacity="0.6"/><circle cx="108.3" cy="496.12" r="1.15" fill="#ffff00"/><text x="114.7" y="497.17" font-size="3.0" fill="#666666" class="t">NABC</text><line x1="103.1" y1="500.34" x2="113.6" y2="500.34" stroke="#00ffff" stroke-width="0.5" stroke-opacity="0.6"/><circle cx="108.3" cy="500.34" r="1.15" fill="#00ffff"/><text x="114.7" y="501.39" font-size="3.0" fill="#666666" class="t">MSEFA</text><line x1="103.1" y1="504.56" x2="113.6" y2="504.56" stroke="#ff0000" stroke-width="0.5"/><circle cx="108.3" cy="504.56" r="1.15" fill="#ff0000"/><text x="114.7" y="505.61" font-size="3.0" fill="#666666" class="t">MSESSA</text></g>
<g><clipPath id="cp13"><rect x="183.8" y="442.9" width="112.4" height="90.4"/></clipPath><text x="239.25" y="442.7" font-size="3.75" fill="#333" text-anchor="middle">C15</text><line x1="194.89" y1="531.8" x2="194.89" y2="530.7" stroke="#3a3a3a" stroke-width="0.4"/><line x1="194.89" y1="444.4" x2="194.89" y2="445.5" stroke="#3a3a3a" stroke-width="0.4"/><text x="194.89" y="537.1" font-size="3.1" fill="#555" class="t" text-anchor="middle">50</text><line x1="205.98" y1="531.8" x2="205.98" y2="530.7" stroke="#3a3a3a" stroke-width="0.4"/><line x1="205.98" y1="444.4" x2="205.98" y2="445.5" stroke="#3a3a3a" stroke-width="0.4"/><text x="205.98" y="537.1" font-size="3.1" fill="#555" class="t" text-anchor="middle">100</text><line x1="217.07" y1="531.8" x2="217.07" y2="530.7" stroke="#3a3a3a" stroke-width="0.4"/><line x1="217.07" y1="444.4" x2="217.07" y2="445.5" stroke="#3a3a3a" stroke-width="0.4"/><text x="217.07" y="537.1" font-size="3.1" fill="#555" class="t" text-anchor="middle">150</text><line x1="228.16" y1="531.8" x2="228.16" y2="530.7" stroke="#3a3a3a" stroke-width="0.4"/><line x1="228.16" y1="444.4" x2="228.16" y2="445.5" stroke="#3a3a3a" stroke-width="0.4"/><text x="228.16" y="537.1" font-size="3.1" fill="#555" class="t" text-anchor="middle">200</text><line x1="239.25" y1="531.8" x2="239.25" y2="530.7" stroke="#3a3a3a" stroke-width="0.4"/><line x1="239.25" y1="444.4" x2="239.25" y2="445.5" stroke="#3a3a3a" stroke-width="0.4"/><text x="239.25" y="537.1" font-size="3.1" fill="#555" class="t" text-anchor="middle">250</text><line x1="250.34" y1="531.8" x2="250.34" y2="530.7" stroke="#3a3a3a" stroke-width="0.4"/><line x1="250.34" y1="444.4" x2="250.34" y2="445.5" stroke="#3a3a3a" stroke-width="0.4"/><text x="250.34" y="537.1" font-size="3.1" fill="#555" class="t" text-anchor="middle">300</text><line x1="261.43" y1="531.8" x2="261.43" y2="530.7" stroke="#3a3a3a" stroke-width="0.4"/><line x1="261.43" y1="444.4" x2="261.43" y2="445.5" stroke="#3a3a3a" stroke-width="0.4"/><text x="261.43" y="537.1" font-size="3.1" fill="#555" class="t" text-anchor="middle">350</text><line x1="272.52" y1="531.8" x2="272.52" y2="530.7" stroke="#3a3a3a" stroke-width="0.4"/><line x1="272.52" y1="444.4" x2="272.52" y2="445.5" stroke="#3a3a3a" stroke-width="0.4"/><text x="272.52" y="537.1" font-size="3.1" fill="#555" class="t" text-anchor="middle">400</text><line x1="283.61" y1="531.8" x2="283.61" y2="530.7" stroke="#3a3a3a" stroke-width="0.4"/><line x1="283.61" y1="444.4" x2="283.61" y2="445.5" stroke="#3a3a3a" stroke-width="0.4"/><text x="283.61" y="537.1" font-size="3.1" fill="#555" class="t" text-anchor="middle">450</text><line x1="294.7" y1="531.8" x2="294.7" y2="530.7" stroke="#3a3a3a" stroke-width="0.4"/><line x1="294.7" y1="444.4" x2="294.7" y2="445.5" stroke="#3a3a3a" stroke-width="0.4"/><text x="294.7" y="537.1" font-size="3.1" fill="#555" class="t" text-anchor="middle">500</text><text x="239.25" y="542.1" font-size="3.6" fill="#333" class="t" text-anchor="middle">Iteration</text><text transform="translate(173 488.1) rotate(-90)" font-size="3.6" fill="#333" class="f" text-anchor="middle">Fitness function</text><line x1="183.8" y1="451" x2="184.9" y2="451" stroke="#3a3a3a" stroke-width="0.4"/><line x1="294.7" y1="451" x2="293.6" y2="451" stroke="#3a3a3a" stroke-width="0.4"/><text x="182.6" y="452.1" font-size="3.1" fill="#555" class="t" text-anchor="end">10<tspan dy="-1.3" font-size="2.2">5</tspan></text><line x1="183.8" y1="465" x2="184.9" y2="465" stroke="#3a3a3a" stroke-width="0.4"/><line x1="294.7" y1="465" x2="293.6" y2="465" stroke="#3a3a3a" stroke-width="0.4"/><text x="182.6" y="466.1" font-size="3.1" fill="#555" class="t" text-anchor="end">10<tspan dy="-1.3" font-size="2.2">4</tspan></text><line x1="183.8" y1="479.1" x2="184.9" y2="479.1" stroke="#3a3a3a" stroke-width="0.4"/><line x1="294.7" y1="479.1" x2="293.6" y2="479.1" stroke="#3a3a3a" stroke-width="0.4"/><text x="182.6" y="480.2" font-size="3.1" fill="#555" class="t" text-anchor="end">10<tspan dy="-1.3" font-size="2.2">3</tspan></text><line x1="183.8" y1="493.1" x2="184.9" y2="493.1" stroke="#3a3a3a" stroke-width="0.4"/><line x1="294.7" y1="493.1" x2="293.6" y2="493.1" stroke="#3a3a3a" stroke-width="0.4"/><text x="182.6" y="494.2" font-size="3.1" fill="#555" class="t" text-anchor="end">10<tspan dy="-1.3" font-size="2.2">2</tspan></text><line x1="183.8" y1="507.2" x2="184.9" y2="507.2" stroke="#3a3a3a" stroke-width="0.4"/><line x1="294.7" y1="507.2" x2="293.6" y2="507.2" stroke="#3a3a3a" stroke-width="0.4"/><text x="182.6" y="508.3" font-size="3.1" fill="#555" class="t" text-anchor="end">10<tspan dy="-1.3" font-size="2.2">1</tspan></text><line x1="183.8" y1="521.2" x2="184.9" y2="521.2" stroke="#3a3a3a" stroke-width="0.4"/><line x1="294.7" y1="521.2" x2="293.6" y2="521.2" stroke="#3a3a3a" stroke-width="0.4"/><text x="182.6" y="522.3" font-size="3.1" fill="#555" class="t" text-anchor="end">10<tspan dy="-1.3" font-size="2.2">0</tspan></text><g clip-path="url(#cp13)" fill="none" stroke-linejoin="round"><polyline points="184.02,445.3 192.45,448.5 200.88,452.6 209.31,456.7 217.74,460.8 226.16,464.9 234.59,469 243.02,471.4 251.45,473.9 259.88,476.3 268.31,479 276.73,481.5 285.16,483.5 293.59,485.3" stroke="#0000ff" stroke-width="0.55" stroke-opacity="0.9"/><polyline points="184.02,446 192.45,478 200.88,512.3 209.31,522.1 217.74,527 226.16,529 234.59,530 243.02,530.07 251.45,530.14 259.88,530.21 268.31,530.29 276.73,530.36 285.16,530.43 293.59,530.5" stroke="#0000ff" stroke-width="0.55" stroke-opacity="0.9"/><polyline points="184.02,444.5 192.45,472.2 200.88,473.9 209.31,474.7 217.74,475.5 226.16,476.3 234.59,476.8 243.02,476.84 251.45,476.89 259.88,476.93 268.31,476.97 276.73,477.01 285.16,477.06 293.59,477.1" stroke="#00ff00" stroke-width="0.55" stroke-opacity="0.9"/><path d="M182.47 444.5l1.55 -1.24l1.55 1.24l-1.55 1.24z" fill="#00ff00"/><path d="M190.9 472.2l1.55 -1.24l1.55 1.24l-1.55 1.24z" fill="#00ff00"/><path d="M199.33 473.9l1.55 -1.24l1.55 1.24l-1.55 1.24z" fill="#00ff00"/><path d="M207.75 474.7l1.55 -1.24l1.55 1.24l-1.55 1.24z" fill="#00ff00"/><path d="M216.18 475.5l1.55 -1.24l1.55 1.24l-1.55 1.24z" fill="#00ff00"/><path d="M224.61 476.3l1.55 -1.24l1.55 1.24l-1.55 1.24z" fill="#00ff00"/><path d="M233.04 476.8l1.55 -1.24l1.55 1.24l-1.55 1.24z" fill="#00ff00"/><path d="M241.47 476.84l1.55 -1.24l1.55 1.24l-1.55 1.24z" fill="#00ff00"/><path d="M249.9 476.89l1.55 -1.24l1.55 1.24l-1.55 1.24z" fill="#00ff00"/><path d="M258.32 476.93l1.55 -1.24l1.55 1.24l-1.55 1.24z" fill="#00ff00"/><path d="M266.75 476.97l1.55 -1.24l1.55 1.24l-1.55 1.24z" fill="#00ff00"/><path d="M275.18 477.01l1.55 -1.24l1.55 1.24l-1.55 1.24z" fill="#00ff00"/><path d="M283.61 477.06l1.55 -1.24l1.55 1.24l-1.55 1.24z" fill="#00ff00"/><path d="M292.04 477.1l1.55 -1.24l1.55 1.24l-1.55 1.24z" fill="#00ff00"/><polyline points="184.02,447 192.45,472 200.88,483.7 209.31,490.2 217.74,495.9 226.16,499.2 234.59,501.2 243.02,502 251.45,502.02 259.88,502.03 268.31,502.05 276.73,502.07 285.16,502.08 293.59,502.1" stroke="#505060" stroke-width="0.55" stroke-opacity="0.9"/><polyline points="184.02,446 192.45,451 200.88,455.1 209.31,459.2 217.74,462.4 226.16,469.8 234.59,479.6 243.02,495.1 251.45,517.2 259.88,530 268.31,530.25 276.73,530.5 285.16,530.75 293.59,531" stroke="#ff00ff" stroke-width="0.55" stroke-opacity="0.65"/><circle cx="184.02" cy="446" r="1.15" fill="#ff00ff"/><circle cx="192.45" cy="451" r="1.15" fill="#ff00ff"/><circle cx="200.88" cy="455.1" r="1.15" fill="#ff00ff"/><circle cx="209.31" cy="459.2" r="1.15" fill="#ff00ff"/><circle cx="217.74" cy="462.4" r="1.15" fill="#ff00ff"/><circle cx="226.16" cy="469.8" r="1.15" fill="#ff00ff"/><circle cx="234.59" cy="479.6" r="1.15" fill="#ff00ff"/><circle cx="243.02" cy="495.1" r="1.15" fill="#ff00ff"/><circle cx="251.45" cy="517.2" r="1.15" fill="#ff00ff"/><circle cx="259.88" cy="530" r="1.15" fill="#ff00ff"/><circle cx="268.31" cy="530.25" r="1.15" fill="#ff00ff"/><circle cx="276.73" cy="530.5" r="1.15" fill="#ff00ff"/><circle cx="285.16" cy="530.75" r="1.15" fill="#ff00ff"/><circle cx="293.59" cy="531" r="1.15" fill="#ff00ff"/><polyline points="184.02,445.3 192.45,448.5 200.88,452.6 209.31,456.7 217.74,460.8 226.16,464.9 234.59,469 243.02,471.4 251.45,473.9 259.88,476.3 268.31,479 276.73,481.5 285.16,483.5 293.59,485.3" stroke="#00ffff" stroke-width="0.55" stroke-opacity="0.65"/><circle cx="184.02" cy="445.3" r="1.15" fill="#00ffff"/><circle cx="192.45" cy="448.5" r="1.15" fill="#00ffff"/><circle cx="200.88" cy="452.6" r="1.15" fill="#00ffff"/><circle cx="209.31" cy="456.7" r="1.15" fill="#00ffff"/><circle cx="217.74" cy="460.8" r="1.15" fill="#00ffff"/><circle cx="226.16" cy="464.9" r="1.15" fill="#00ffff"/><circle cx="234.59" cy="469" r="1.15" fill="#00ffff"/><circle cx="243.02" cy="471.4" r="1.15" fill="#00ffff"/><circle cx="251.45" cy="473.9" r="1.15" fill="#00ffff"/><circle cx="259.88" cy="476.3" r="1.15" fill="#00ffff"/><circle cx="268.31" cy="479" r="1.15" fill="#00ffff"/><circle cx="276.73" cy="481.5" r="1.15" fill="#00ffff"/><circle cx="285.16" cy="483.5" r="1.15" fill="#00ffff"/><circle cx="293.59" cy="485.3" r="1.15" fill="#00ffff"/><polyline points="184.02,454.3 192.45,460.3 200.88,461.3 209.31,461.6 217.74,462.1 226.16,462.6 234.59,462.9 243.02,463.06 251.45,463.21 259.88,463.37 268.31,463.53 276.73,463.69 285.16,463.84 293.59,464" stroke="#000000" stroke-width="0.55" stroke-opacity="0.9"/><circle cx="184.02" cy="454.3" r="0.98" fill="#000000"/><circle cx="192.45" cy="460.3" r="0.98" fill="#000000"/><circle cx="200.88" cy="461.3" r="0.98" fill="#000000"/><circle cx="209.31" cy="461.6" r="0.98" fill="#000000"/><circle cx="217.74" cy="462.1" r="0.98" fill="#000000"/><circle cx="226.16" cy="462.6" r="0.98" fill="#000000"/><circle cx="234.59" cy="462.9" r="0.98" fill="#000000"/><circle cx="243.02" cy="463.06" r="0.98" fill="#000000"/><circle cx="251.45" cy="463.21" r="0.98" fill="#000000"/><circle cx="259.88" cy="463.37" r="0.98" fill="#000000"/><circle cx="268.31" cy="463.53" r="0.98" fill="#000000"/><circle cx="276.73" cy="463.69" r="0.98" fill="#000000"/><circle cx="285.16" cy="463.84" r="0.98" fill="#000000"/><circle cx="293.59" cy="464" r="0.98" fill="#000000"/><polyline points="184.02,448 192.45,483 200.88,507 209.31,520 217.74,526 226.16,528.5 234.59,529.5 243.02,529.64 251.45,529.79 259.88,529.93 268.31,530.07 276.73,530.21 285.16,530.36 293.59,530.5" stroke="#ffff00" stroke-width="0.55" stroke-opacity="0.65"/><polyline points="184.02,447 192.45,472 200.88,491 209.31,504.9 217.74,515.5 226.16,519.6 234.59,521.2 243.02,522.9 251.45,523.7 259.88,525.3 268.31,526.1 276.73,526.27 285.16,526.43 293.59,526.6" stroke="#0000ff" stroke-width="0.55" stroke-opacity="0.65"/><circle cx="184.02" cy="447" r="1.15" fill="#0000ff"/><circle cx="192.45" cy="472" r="1.15" fill="#0000ff"/><circle cx="200.88" cy="491" r="1.15" fill="#0000ff"/><circle cx="209.31" cy="504.9" r="1.15" fill="#0000ff"/><circle cx="217.74" cy="515.5" r="1.15" fill="#0000ff"/><circle cx="226.16" cy="519.6" r="1.15" fill="#0000ff"/><circle cx="234.59" cy="521.2" r="1.15" fill="#0000ff"/><circle cx="243.02" cy="522.9" r="1.15" fill="#0000ff"/><circle cx="251.45" cy="523.7" r="1.15" fill="#0000ff"/><circle cx="259.88" cy="525.3" r="1.15" fill="#0000ff"/><circle cx="268.31" cy="526.1" r="1.15" fill="#0000ff"/><circle cx="276.73" cy="526.27" r="1.15" fill="#0000ff"/><circle cx="285.16" cy="526.43" r="1.15" fill="#0000ff"/><circle cx="293.59" cy="526.6" r="1.15" fill="#0000ff"/><polyline points="184.02,445 192.45,473 200.88,475 209.31,476.5 217.74,477.5 226.16,479 234.59,480.4 243.02,481.5 251.45,482.5 259.88,484 268.31,486 276.73,488.5 285.16,491 293.59,492.7" stroke="#00ff00" stroke-width="0.55" stroke-opacity="0.65"/><circle cx="184.02" cy="445" r="1.15" fill="#00ff00"/><circle cx="192.45" cy="473" r="1.15" fill="#00ff00"/><circle cx="200.88" cy="475" r="1.15" fill="#00ff00"/><circle cx="209.31" cy="476.5" r="1.15" fill="#00ff00"/><circle cx="217.74" cy="477.5" r="1.15" fill="#00ff00"/><circle cx="226.16" cy="479" r="1.15" fill="#00ff00"/><circle cx="234.59" cy="480.4" r="1.15" fill="#00ff00"/><circle cx="243.02" cy="481.5" r="1.15" fill="#00ff00"/><circle cx="251.45" cy="482.5" r="1.15" fill="#00ff00"/><circle cx="259.88" cy="484" r="1.15" fill="#00ff00"/><circle cx="268.31" cy="486" r="1.15" fill="#00ff00"/><circle cx="276.73" cy="488.5" r="1.15" fill="#00ff00"/><circle cx="285.16" cy="491" r="1.15" fill="#00ff00"/><circle cx="293.59" cy="492.7" r="1.15" fill="#00ff00"/><polyline points="184.02,448 192.45,473 200.88,482.5 209.31,489 217.74,494 226.16,496.7 234.59,497.9 243.02,498.4 251.45,498.4 259.88,498.4 268.31,498.4 276.73,498.4 285.16,498.4 293.59,498.4" stroke="#ff0000" stroke-width="0.55" stroke-opacity="0.9"/><polyline points="184.02,446 192.45,472.2 200.88,477.1 209.31,481.2 217.74,484.8 226.16,494.3 234.59,506.5 243.02,518 251.45,522 259.88,524 268.31,525 276.73,525.37 285.16,525.73 293.59,526.1" stroke="#ff00ff" stroke-width="0.55" stroke-opacity="0.65"/><circle cx="184.02" cy="446" r="1.15" fill="#ff00ff"/><circle cx="192.45" cy="472.2" r="1.15" fill="#ff00ff"/><circle cx="200.88" cy="477.1" r="1.15" fill="#ff00ff"/><circle cx="209.31" cy="481.2" r="1.15" fill="#ff00ff"/><circle cx="217.74" cy="484.8" r="1.15" fill="#ff00ff"/><circle cx="226.16" cy="494.3" r="1.15" fill="#ff00ff"/><circle cx="234.59" cy="506.5" r="1.15" fill="#ff00ff"/><circle cx="243.02" cy="518" r="1.15" fill="#ff00ff"/><circle cx="251.45" cy="522" r="1.15" fill="#ff00ff"/><circle cx="259.88" cy="524" r="1.15" fill="#ff00ff"/><circle cx="268.31" cy="525" r="1.15" fill="#ff00ff"/><circle cx="276.73" cy="525.37" r="1.15" fill="#ff00ff"/><circle cx="285.16" cy="525.73" r="1.15" fill="#ff00ff"/><circle cx="293.59" cy="526.1" r="1.15" fill="#ff00ff"/><polyline points="184.02,446 192.45,463.2 200.88,481.2 209.31,491 217.74,497.6 226.16,501.6 234.59,504.9 243.02,506.5 251.45,507.4 259.88,509 268.31,511.4 276.73,514 285.16,516 293.59,518" stroke="#ffff00" stroke-width="0.55" stroke-opacity="0.65"/><circle cx="184.02" cy="446" r="1.15" fill="#ffff00"/><circle cx="192.45" cy="463.2" r="1.15" fill="#ffff00"/><circle cx="200.88" cy="481.2" r="1.15" fill="#ffff00"/><circle cx="209.31" cy="491" r="1.15" fill="#ffff00"/><circle cx="217.74" cy="497.6" r="1.15" fill="#ffff00"/><circle cx="226.16" cy="501.6" r="1.15" fill="#ffff00"/><circle cx="234.59" cy="504.9" r="1.15" fill="#ffff00"/><circle cx="243.02" cy="506.5" r="1.15" fill="#ffff00"/><circle cx="251.45" cy="507.4" r="1.15" fill="#ffff00"/><circle cx="259.88" cy="509" r="1.15" fill="#ffff00"/><circle cx="268.31" cy="511.4" r="1.15" fill="#ffff00"/><circle cx="276.73" cy="514" r="1.15" fill="#ffff00"/><circle cx="285.16" cy="516" r="1.15" fill="#ffff00"/><circle cx="293.59" cy="518" r="1.15" fill="#ffff00"/><polyline points="184.02,446 192.45,460.5 200.88,462.4 209.31,464.1 217.74,464.9 226.16,466.5 234.59,468.1 243.02,472 251.45,476 259.88,479 268.31,480.25 276.73,481.5 285.16,482.75 293.59,484" stroke="#00ffff" stroke-width="0.55" stroke-opacity="0.65"/><circle cx="184.02" cy="446" r="1.15" fill="#00ffff"/><circle cx="192.45" cy="460.5" r="1.15" fill="#00ffff"/><circle cx="200.88" cy="462.4" r="1.15" fill="#00ffff"/><circle cx="209.31" cy="464.1" r="1.15" fill="#00ffff"/><circle cx="217.74" cy="464.9" r="1.15" fill="#00ffff"/><circle cx="226.16" cy="466.5" r="1.15" fill="#00ffff"/><circle cx="234.59" cy="468.1" r="1.15" fill="#00ffff"/><circle cx="243.02" cy="472" r="1.15" fill="#00ffff"/><circle cx="251.45" cy="476" r="1.15" fill="#00ffff"/><circle cx="259.88" cy="479" r="1.15" fill="#00ffff"/><circle cx="268.31" cy="480.25" r="1.15" fill="#00ffff"/><circle cx="276.73" cy="481.5" r="1.15" fill="#00ffff"/><circle cx="285.16" cy="482.75" r="1.15" fill="#00ffff"/><circle cx="293.59" cy="484" r="1.15" fill="#00ffff"/><polyline points="184.02,448.5 192.45,504.9 200.88,527.8 209.31,530.7 217.74,531 226.16,531.02 234.59,531.04 243.02,531.07 251.45,531.09 259.88,531.11 268.31,531.13 276.73,531.16 285.16,531.18 293.59,531.2" stroke="#ff0000" stroke-width="0.55" stroke-opacity="0.9"/><circle cx="184.02" cy="448.5" r="1.15" fill="#ff0000"/><circle cx="192.45" cy="504.9" r="1.15" fill="#ff0000"/><circle cx="200.88" cy="527.8" r="1.15" fill="#ff0000"/><circle cx="209.31" cy="530.7" r="1.15" fill="#ff0000"/><circle cx="217.74" cy="531" r="1.15" fill="#ff0000"/><circle cx="226.16" cy="531.02" r="1.15" fill="#ff0000"/><circle cx="234.59" cy="531.04" r="1.15" fill="#ff0000"/><circle cx="243.02" cy="531.07" r="1.15" fill="#ff0000"/><circle cx="251.45" cy="531.09" r="1.15" fill="#ff0000"/><circle cx="259.88" cy="531.11" r="1.15" fill="#ff0000"/><circle cx="268.31" cy="531.13" r="1.15" fill="#ff0000"/><circle cx="276.73" cy="531.16" r="1.15" fill="#ff0000"/><circle cx="285.16" cy="531.18" r="1.15" fill="#ff0000"/><circle cx="293.59" cy="531.2" r="1.15" fill="#ff0000"/></g><rect x="183.8" y="444.4" width="110.9" height="87.4" fill="none" stroke="#3a3a3a" stroke-width="0.55"/><rect x="265.7" y="446.8" width="26.5" height="59.8" fill="#fff" stroke="#999" stroke-width="0.45"/><line x1="266.5" y1="449.7" x2="277" y2="449.7" stroke="#0000ff" stroke-width="0.5"/><text x="278.1" y="450.75" font-size="3.0" fill="#666666" class="t">SSA</text><line x1="266.5" y1="453.92" x2="277" y2="453.92" stroke="#00ff00" stroke-width="0.5"/><path d="M270.15 453.92l1.55 -1.24l1.55 1.24l-1.55 1.24z" fill="#00ff00"/><text x="278.1" y="454.97" font-size="3.0" fill="#666666" class="t">GWO</text><line x1="266.5" y1="458.14" x2="277" y2="458.14" stroke="#505060" stroke-width="0.5"/><text x="278.1" y="459.19" font-size="3.0" fill="#666666" class="t">WOA</text><line x1="266.5" y1="462.36" x2="277" y2="462.36" stroke="#ff00ff" stroke-width="0.5" stroke-opacity="0.6"/><circle cx="271.7" cy="462.36" r="1.15" fill="#ff00ff"/><text x="278.1" y="463.41" font-size="3.0" fill="#666666" class="t">PSO</text><line x1="266.5" y1="466.58" x2="277" y2="466.58" stroke="#00ffff" stroke-width="0.5" stroke-opacity="0.6"/><circle cx="271.7" cy="466.58" r="1.15" fill="#00ffff"/><text x="278.1" y="467.63" font-size="3.0" fill="#666666" class="t">ABC</text><line x1="266.5" y1="470.8" x2="277" y2="470.8" stroke="#000000" stroke-width="0.5"/><circle cx="271.7" cy="470.8" r="0.98" fill="#000000"/><text x="278.1" y="471.85" font-size="3.0" fill="#666666" class="t">FA</text><line x1="266.5" y1="475.02" x2="277" y2="475.02" stroke="#ffff00" stroke-width="0.5" stroke-opacity="0.6"/><text x="278.1" y="476.07" font-size="3.0" fill="#666666" class="t">QMEISSA</text><line x1="266.5" y1="479.24" x2="277" y2="479.24" stroke="#0000ff" stroke-width="0.5" stroke-opacity="0.6"/><circle cx="271.7" cy="479.24" r="1.15" fill="#0000ff"/><text x="278.1" y="480.29" font-size="3.0" fill="#666666" class="t">LSSA</text><line x1="266.5" y1="483.46" x2="277" y2="483.46" stroke="#00ff00" stroke-width="0.5" stroke-opacity="0.6"/><circle cx="271.7" cy="483.46" r="1.15" fill="#00ff00"/><text x="278.1" y="484.51" font-size="3.0" fill="#666666" class="t">AGWO</text><line x1="266.5" y1="487.68" x2="277" y2="487.68" stroke="#ff0000" stroke-width="0.5"/><text x="278.1" y="488.73" font-size="3.0" fill="#666666" class="t">IWOA</text><line x1="266.5" y1="491.9" x2="277" y2="491.9" stroke="#ff00ff" stroke-width="0.5" stroke-opacity="0.6"/><circle cx="271.7" cy="491.9" r="1.15" fill="#ff00ff"/><text x="278.1" y="492.95" font-size="3.0" fill="#666666" class="t">VPPSO</text><line x1="266.5" y1="496.12" x2="277" y2="496.12" stroke="#ffff00" stroke-width="0.5" stroke-opacity="0.6"/><circle cx="271.7" cy="496.12" r="1.15" fill="#ffff00"/><text x="278.1" y="497.17" font-size="3.0" fill="#666666" class="t">NABC</text><line x1="266.5" y1="500.34" x2="277" y2="500.34" stroke="#00ffff" stroke-width="0.5" stroke-opacity="0.6"/><circle cx="271.7" cy="500.34" r="1.15" fill="#00ffff"/><text x="278.1" y="501.39" font-size="3.0" fill="#666666" class="t">MSEFA</text><line x1="266.5" y1="504.56" x2="277" y2="504.56" stroke="#ff0000" stroke-width="0.5"/><circle cx="271.7" cy="504.56" r="1.15" fill="#ff0000"/><text x="278.1" y="505.61" font-size="3.0" fill="#666666" class="t">MSESSA</text></g>
<g><clipPath id="cp14"><rect x="347.5" y="442.9" width="112.4" height="90.4"/></clipPath><text x="402.95" y="442.7" font-size="3.75" fill="#333" text-anchor="middle">C16</text><line x1="358.59" y1="531.8" x2="358.59" y2="530.7" stroke="#3a3a3a" stroke-width="0.4"/><line x1="358.59" y1="444.4" x2="358.59" y2="445.5" stroke="#3a3a3a" stroke-width="0.4"/><text x="358.59" y="537.1" font-size="3.1" fill="#555" class="t" text-anchor="middle">50</text><line x1="369.68" y1="531.8" x2="369.68" y2="530.7" stroke="#3a3a3a" stroke-width="0.4"/><line x1="369.68" y1="444.4" x2="369.68" y2="445.5" stroke="#3a3a3a" stroke-width="0.4"/><text x="369.68" y="537.1" font-size="3.1" fill="#555" class="t" text-anchor="middle">100</text><line x1="380.77" y1="531.8" x2="380.77" y2="530.7" stroke="#3a3a3a" stroke-width="0.4"/><line x1="380.77" y1="444.4" x2="380.77" y2="445.5" stroke="#3a3a3a" stroke-width="0.4"/><text x="380.77" y="537.1" font-size="3.1" fill="#555" class="t" text-anchor="middle">150</text><line x1="391.86" y1="531.8" x2="391.86" y2="530.7" stroke="#3a3a3a" stroke-width="0.4"/><line x1="391.86" y1="444.4" x2="391.86" y2="445.5" stroke="#3a3a3a" stroke-width="0.4"/><text x="391.86" y="537.1" font-size="3.1" fill="#555" class="t" text-anchor="middle">200</text><line x1="402.95" y1="531.8" x2="402.95" y2="530.7" stroke="#3a3a3a" stroke-width="0.4"/><line x1="402.95" y1="444.4" x2="402.95" y2="445.5" stroke="#3a3a3a" stroke-width="0.4"/><text x="402.95" y="537.1" font-size="3.1" fill="#555" class="t" text-anchor="middle">250</text><line x1="414.04" y1="531.8" x2="414.04" y2="530.7" stroke="#3a3a3a" stroke-width="0.4"/><line x1="414.04" y1="444.4" x2="414.04" y2="445.5" stroke="#3a3a3a" stroke-width="0.4"/><text x="414.04" y="537.1" font-size="3.1" fill="#555" class="t" text-anchor="middle">300</text><line x1="425.13" y1="531.8" x2="425.13" y2="530.7" stroke="#3a3a3a" stroke-width="0.4"/><line x1="425.13" y1="444.4" x2="425.13" y2="445.5" stroke="#3a3a3a" stroke-width="0.4"/><text x="425.13" y="537.1" font-size="3.1" fill="#555" class="t" text-anchor="middle">350</text><line x1="436.22" y1="531.8" x2="436.22" y2="530.7" stroke="#3a3a3a" stroke-width="0.4"/><line x1="436.22" y1="444.4" x2="436.22" y2="445.5" stroke="#3a3a3a" stroke-width="0.4"/><text x="436.22" y="537.1" font-size="3.1" fill="#555" class="t" text-anchor="middle">400</text><line x1="447.31" y1="531.8" x2="447.31" y2="530.7" stroke="#3a3a3a" stroke-width="0.4"/><line x1="447.31" y1="444.4" x2="447.31" y2="445.5" stroke="#3a3a3a" stroke-width="0.4"/><text x="447.31" y="537.1" font-size="3.1" fill="#555" class="t" text-anchor="middle">450</text><line x1="458.4" y1="531.8" x2="458.4" y2="530.7" stroke="#3a3a3a" stroke-width="0.4"/><line x1="458.4" y1="444.4" x2="458.4" y2="445.5" stroke="#3a3a3a" stroke-width="0.4"/><text x="458.4" y="537.1" font-size="3.1" fill="#555" class="t" text-anchor="middle">500</text><text x="402.95" y="542.1" font-size="3.6" fill="#333" class="t" text-anchor="middle">Iteration</text><text transform="translate(336.7 488.1) rotate(-90)" font-size="3.6" fill="#333" class="f" text-anchor="middle">Fitness function</text><line x1="347.5" y1="518.39" x2="348.6" y2="518.39" stroke="#3a3a3a" stroke-width="0.4"/><line x1="458.4" y1="518.39" x2="457.3" y2="518.39" stroke="#3a3a3a" stroke-width="0.4"/><text x="346.3" y="519.49" font-size="3.0" fill="#555" class="t" text-anchor="end">0.4</text><line x1="347.5" y1="500.84" x2="348.6" y2="500.84" stroke="#3a3a3a" stroke-width="0.4"/><line x1="458.4" y1="500.84" x2="457.3" y2="500.84" stroke="#3a3a3a" stroke-width="0.4"/><text x="346.3" y="501.94" font-size="3.0" fill="#555" class="t" text-anchor="end">0.6</text><line x1="347.5" y1="488.38" x2="348.6" y2="488.38" stroke="#3a3a3a" stroke-width="0.4"/><line x1="458.4" y1="488.38" x2="457.3" y2="488.38" stroke="#3a3a3a" stroke-width="0.4"/><text x="346.3" y="489.48" font-size="3.0" fill="#555" class="t" text-anchor="end">0.8</text><line x1="347.5" y1="478.72" x2="348.6" y2="478.72" stroke="#3a3a3a" stroke-width="0.4"/><line x1="458.4" y1="478.72" x2="457.3" y2="478.72" stroke="#3a3a3a" stroke-width="0.4"/><text x="346.3" y="479.82" font-size="3.0" fill="#555" class="t" text-anchor="end">1</text><line x1="347.5" y1="470.83" x2="348.6" y2="470.83" stroke="#3a3a3a" stroke-width="0.4"/><line x1="458.4" y1="470.83" x2="457.3" y2="470.83" stroke="#3a3a3a" stroke-width="0.4"/><text x="346.3" y="471.93" font-size="3.0" fill="#555" class="t" text-anchor="end">1.2</text><line x1="347.5" y1="464.15" x2="348.6" y2="464.15" stroke="#3a3a3a" stroke-width="0.4"/><line x1="458.4" y1="464.15" x2="457.3" y2="464.15" stroke="#3a3a3a" stroke-width="0.4"/><text x="346.3" y="465.25" font-size="3.0" fill="#555" class="t" text-anchor="end">1.4</text><line x1="347.5" y1="458.37" x2="348.6" y2="458.37" stroke="#3a3a3a" stroke-width="0.4"/><line x1="458.4" y1="458.37" x2="457.3" y2="458.37" stroke="#3a3a3a" stroke-width="0.4"/><text x="346.3" y="459.47" font-size="3.0" fill="#555" class="t" text-anchor="end">1.6</text><line x1="347.5" y1="453.27" x2="348.6" y2="453.27" stroke="#3a3a3a" stroke-width="0.4"/><line x1="458.4" y1="453.27" x2="457.3" y2="453.27" stroke="#3a3a3a" stroke-width="0.4"/><text x="346.3" y="454.37" font-size="3.0" fill="#555" class="t" text-anchor="end">1.8</text><line x1="347.5" y1="448.71" x2="348.6" y2="448.71" stroke="#3a3a3a" stroke-width="0.4"/><line x1="458.4" y1="448.71" x2="457.3" y2="448.71" stroke="#3a3a3a" stroke-width="0.4"/><text x="346.3" y="449.81" font-size="3.0" fill="#555" class="t" text-anchor="end">2</text><text x="351" y="442.8" font-size="3.0" fill="#333">10<tspan dy="-1.2" font-size="2.1">4</tspan></text><g clip-path="url(#cp14)" fill="none" stroke-linejoin="round"><polyline points="347.72,462 356.15,508 364.58,512 373.01,514 381.44,515.5 389.86,516.5 398.29,517 406.72,517.21 415.15,517.43 423.58,517.64 432.01,517.86 440.43,518.07 448.86,518.29 457.29,518.5" stroke="#0000ff" stroke-width="0.55" stroke-opacity="0.9"/><polyline points="347.72,464.9 356.15,502 364.58,506 373.01,509 381.44,511 389.86,512.5 398.29,513.5 406.72,513.9 415.15,514 423.58,514.1 432.01,514.2 440.43,514.3 448.86,514.4 457.29,514.5" stroke="#00ff00" stroke-width="0.55" stroke-opacity="0.9"/><path d="M346.17 464.9l1.55 -1.24l1.55 1.24l-1.55 1.24z" fill="#00ff00"/><path d="M354.6 502l1.55 -1.24l1.55 1.24l-1.55 1.24z" fill="#00ff00"/><path d="M363.03 506l1.55 -1.24l1.55 1.24l-1.55 1.24z" fill="#00ff00"/><path d="M371.45 509l1.55 -1.24l1.55 1.24l-1.55 1.24z" fill="#00ff00"/><path d="M379.88 511l1.55 -1.24l1.55 1.24l-1.55 1.24z" fill="#00ff00"/><path d="M388.31 512.5l1.55 -1.24l1.55 1.24l-1.55 1.24z" fill="#00ff00"/><path d="M396.74 513.5l1.55 -1.24l1.55 1.24l-1.55 1.24z" fill="#00ff00"/><path d="M405.17 513.9l1.55 -1.24l1.55 1.24l-1.55 1.24z" fill="#00ff00"/><path d="M413.6 514l1.55 -1.24l1.55 1.24l-1.55 1.24z" fill="#00ff00"/><path d="M422.02 514.1l1.55 -1.24l1.55 1.24l-1.55 1.24z" fill="#00ff00"/><path d="M430.45 514.2l1.55 -1.24l1.55 1.24l-1.55 1.24z" fill="#00ff00"/><path d="M438.88 514.3l1.55 -1.24l1.55 1.24l-1.55 1.24z" fill="#00ff00"/><path d="M447.31 514.4l1.55 -1.24l1.55 1.24l-1.55 1.24z" fill="#00ff00"/><path d="M455.74 514.5l1.55 -1.24l1.55 1.24l-1.55 1.24z" fill="#00ff00"/><polyline points="347.72,470 356.15,496 364.58,499 373.01,500.5 381.44,501.3 389.86,502 398.29,502.5 406.72,502.8 415.15,502.83 423.58,502.87 432.01,502.9 440.43,502.93 448.86,502.97 457.29,503" stroke="#505060" stroke-width="0.55" stroke-opacity="0.9"/><polyline points="347.72,444.5 356.15,460 364.58,471.7 373.01,480.9 381.44,488.6 389.86,494.6 398.29,499.5 406.72,504.9 415.15,507 423.58,509 432.01,510.3 440.43,511.4 448.86,512.3 457.29,513.1" stroke="#ff00ff" stroke-width="0.55" stroke-opacity="0.65"/><circle cx="347.72" cy="444.5" r="1.15" fill="#ff00ff"/><circle cx="356.15" cy="460" r="1.15" fill="#ff00ff"/><circle cx="364.58" cy="471.7" r="1.15" fill="#ff00ff"/><circle cx="373.01" cy="480.9" r="1.15" fill="#ff00ff"/><circle cx="381.44" cy="488.6" r="1.15" fill="#ff00ff"/><circle cx="389.86" cy="494.6" r="1.15" fill="#ff00ff"/><circle cx="398.29" cy="499.5" r="1.15" fill="#ff00ff"/><circle cx="406.72" cy="504.9" r="1.15" fill="#ff00ff"/><circle cx="415.15" cy="507" r="1.15" fill="#ff00ff"/><circle cx="423.58" cy="509" r="1.15" fill="#ff00ff"/><circle cx="432.01" cy="510.3" r="1.15" fill="#ff00ff"/><circle cx="440.43" cy="511.4" r="1.15" fill="#ff00ff"/><circle cx="448.86" cy="512.3" r="1.15" fill="#ff00ff"/><circle cx="457.29" cy="513.1" r="1.15" fill="#ff00ff"/><polyline points="347.72,476 356.15,484.2 364.58,494.6 373.01,503 381.44,509 389.86,513.5 398.29,516.5 406.72,519 415.15,521 423.58,523 432.01,525 440.43,527.5 448.86,530 457.29,532" stroke="#00ffff" stroke-width="0.55" stroke-opacity="0.65"/><circle cx="347.72" cy="476" r="1.15" fill="#00ffff"/><circle cx="356.15" cy="484.2" r="1.15" fill="#00ffff"/><circle cx="364.58" cy="494.6" r="1.15" fill="#00ffff"/><circle cx="373.01" cy="503" r="1.15" fill="#00ffff"/><circle cx="381.44" cy="509" r="1.15" fill="#00ffff"/><circle cx="389.86" cy="513.5" r="1.15" fill="#00ffff"/><circle cx="398.29" cy="516.5" r="1.15" fill="#00ffff"/><circle cx="406.72" cy="519" r="1.15" fill="#00ffff"/><circle cx="415.15" cy="521" r="1.15" fill="#00ffff"/><circle cx="423.58" cy="523" r="1.15" fill="#00ffff"/><circle cx="432.01" cy="525" r="1.15" fill="#00ffff"/><circle cx="440.43" cy="527.5" r="1.15" fill="#00ffff"/><circle cx="448.86" cy="530" r="1.15" fill="#00ffff"/><circle cx="457.29" cy="532" r="1.15" fill="#00ffff"/><polyline points="347.72,488.6 356.15,495.9 364.58,497.9 373.01,498.7 381.44,499.2 389.86,499.5 398.29,500 406.72,500.2 415.15,500.3 423.58,500.4 432.01,500.5 440.43,500.6 448.86,500.7 457.29,500.8" stroke="#000000" stroke-width="0.55" stroke-opacity="0.9"/><circle cx="347.72" cy="488.6" r="0.98" fill="#000000"/><circle cx="356.15" cy="495.9" r="0.98" fill="#000000"/><circle cx="364.58" cy="497.9" r="0.98" fill="#000000"/><circle cx="373.01" cy="498.7" r="0.98" fill="#000000"/><circle cx="381.44" cy="499.2" r="0.98" fill="#000000"/><circle cx="389.86" cy="499.5" r="0.98" fill="#000000"/><circle cx="398.29" cy="500" r="0.98" fill="#000000"/><circle cx="406.72" cy="500.2" r="0.98" fill="#000000"/><circle cx="415.15" cy="500.3" r="0.98" fill="#000000"/><circle cx="423.58" cy="500.4" r="0.98" fill="#000000"/><circle cx="432.01" cy="500.5" r="0.98" fill="#000000"/><circle cx="440.43" cy="500.6" r="0.98" fill="#000000"/><circle cx="448.86" cy="500.7" r="0.98" fill="#000000"/><circle cx="457.29" cy="500.8" r="0.98" fill="#000000"/><polyline points="347.72,448.5 356.15,505 364.58,511.5 373.01,514 381.44,515.5 389.86,516.5 398.29,517 406.72,517.14 415.15,517.29 423.58,517.43 432.01,517.57 440.43,517.71 448.86,517.86 457.29,518" stroke="#ffff00" stroke-width="0.55" stroke-opacity="0.65"/><polyline points="347.72,470 356.15,500 364.58,506 373.01,510 381.44,513 389.86,515.5 398.29,517 406.72,517.5 415.15,517.58 423.58,517.67 432.01,517.75 440.43,517.83 448.86,517.92 457.29,518" stroke="#0000ff" stroke-width="0.55" stroke-opacity="0.65"/><circle cx="347.72" cy="470" r="1.15" fill="#0000ff"/><circle cx="356.15" cy="500" r="1.15" fill="#0000ff"/><circle cx="364.58" cy="506" r="1.15" fill="#0000ff"/><circle cx="373.01" cy="510" r="1.15" fill="#0000ff"/><circle cx="381.44" cy="513" r="1.15" fill="#0000ff"/><circle cx="389.86" cy="515.5" r="1.15" fill="#0000ff"/><circle cx="398.29" cy="517" r="1.15" fill="#0000ff"/><circle cx="406.72" cy="517.5" r="1.15" fill="#0000ff"/><circle cx="415.15" cy="517.58" r="1.15" fill="#0000ff"/><circle cx="423.58" cy="517.67" r="1.15" fill="#0000ff"/><circle cx="432.01" cy="517.75" r="1.15" fill="#0000ff"/><circle cx="440.43" cy="517.83" r="1.15" fill="#0000ff"/><circle cx="448.86" cy="517.92" r="1.15" fill="#0000ff"/><circle cx="457.29" cy="518" r="1.15" fill="#0000ff"/><polyline points="347.72,467 356.15,511.4 364.58,512.2 373.01,513 381.44,513.5 389.86,513.9 398.29,514.2 406.72,514.5 415.15,515 423.58,515.5 432.01,517.5 440.43,520.5 448.86,524 457.29,527.7" stroke="#00ff00" stroke-width="0.55" stroke-opacity="0.65"/><circle cx="347.72" cy="467" r="1.15" fill="#00ff00"/><circle cx="356.15" cy="511.4" r="1.15" fill="#00ff00"/><circle cx="364.58" cy="512.2" r="1.15" fill="#00ff00"/><circle cx="373.01" cy="513" r="1.15" fill="#00ff00"/><circle cx="381.44" cy="513.5" r="1.15" fill="#00ff00"/><circle cx="389.86" cy="513.9" r="1.15" fill="#00ff00"/><circle cx="398.29" cy="514.2" r="1.15" fill="#00ff00"/><circle cx="406.72" cy="514.5" r="1.15" fill="#00ff00"/><circle cx="415.15" cy="515" r="1.15" fill="#00ff00"/><circle cx="423.58" cy="515.5" r="1.15" fill="#00ff00"/><circle cx="432.01" cy="517.5" r="1.15" fill="#00ff00"/><circle cx="440.43" cy="520.5" r="1.15" fill="#00ff00"/><circle cx="448.86" cy="524" r="1.15" fill="#00ff00"/><circle cx="457.29" cy="527.7" r="1.15" fill="#00ff00"/><polyline points="347.72,482 356.15,494.3 364.58,496.7 373.01,497.5 381.44,498.4 389.86,498.8 398.29,499.2 406.72,499.31 415.15,499.43 423.58,499.54 432.01,499.66 440.43,499.77 448.86,499.89 457.29,500" stroke="#ff0000" stroke-width="0.55" stroke-opacity="0.9"/><polyline points="347.72,473.9 356.15,500.8 364.58,503.8 373.01,506.5 381.44,509 389.86,511 398.29,512.5 406.72,513.5 415.15,513.83 423.58,514.17 432.01,514.5 440.43,514.83 448.86,515.17 457.29,515.5" stroke="#ff00ff" stroke-width="0.55" stroke-opacity="0.65"/><circle cx="347.72" cy="473.9" r="1.15" fill="#ff00ff"/><circle cx="356.15" cy="500.8" r="1.15" fill="#ff00ff"/><circle cx="364.58" cy="503.8" r="1.15" fill="#ff00ff"/><circle cx="373.01" cy="506.5" r="1.15" fill="#ff00ff"/><circle cx="381.44" cy="509" r="1.15" fill="#ff00ff"/><circle cx="389.86" cy="511" r="1.15" fill="#ff00ff"/><circle cx="398.29" cy="512.5" r="1.15" fill="#ff00ff"/><circle cx="406.72" cy="513.5" r="1.15" fill="#ff00ff"/><circle cx="415.15" cy="513.83" r="1.15" fill="#ff00ff"/><circle cx="423.58" cy="514.17" r="1.15" fill="#ff00ff"/><circle cx="432.01" cy="514.5" r="1.15" fill="#ff00ff"/><circle cx="440.43" cy="514.83" r="1.15" fill="#ff00ff"/><circle cx="448.86" cy="515.17" r="1.15" fill="#ff00ff"/><circle cx="457.29" cy="515.5" r="1.15" fill="#ff00ff"/><polyline points="347.72,475 356.15,513 364.58,517.2 373.01,518 381.44,518.5 389.86,519 398.29,519.2 406.72,519.24 415.15,519.29 423.58,519.33 432.01,519.37 440.43,519.41 448.86,519.46 457.29,519.5" stroke="#ffff00" stroke-width="0.55" stroke-opacity="0.65"/><circle cx="347.72" cy="475" r="1.15" fill="#ffff00"/><circle cx="356.15" cy="513" r="1.15" fill="#ffff00"/><circle cx="364.58" cy="517.2" r="1.15" fill="#ffff00"/><circle cx="373.01" cy="518" r="1.15" fill="#ffff00"/><circle cx="381.44" cy="518.5" r="1.15" fill="#ffff00"/><circle cx="389.86" cy="519" r="1.15" fill="#ffff00"/><circle cx="398.29" cy="519.2" r="1.15" fill="#ffff00"/><circle cx="406.72" cy="519.24" r="1.15" fill="#ffff00"/><circle cx="415.15" cy="519.29" r="1.15" fill="#ffff00"/><circle cx="423.58" cy="519.33" r="1.15" fill="#ffff00"/><circle cx="432.01" cy="519.37" r="1.15" fill="#ffff00"/><circle cx="440.43" cy="519.41" r="1.15" fill="#ffff00"/><circle cx="448.86" cy="519.46" r="1.15" fill="#ffff00"/><circle cx="457.29" cy="519.5" r="1.15" fill="#ffff00"/><polyline points="347.72,472 356.15,497 364.58,503 373.01,507 381.44,510 389.86,512 398.29,513.5 406.72,514.5 415.15,514.75 423.58,515 432.01,515.25 440.43,515.5 448.86,515.75 457.29,516" stroke="#00ffff" stroke-width="0.55" stroke-opacity="0.65"/><circle cx="347.72" cy="472" r="1.15" fill="#00ffff"/><circle cx="356.15" cy="497" r="1.15" fill="#00ffff"/><circle cx="364.58" cy="503" r="1.15" fill="#00ffff"/><circle cx="373.01" cy="507" r="1.15" fill="#00ffff"/><circle cx="381.44" cy="510" r="1.15" fill="#00ffff"/><circle cx="389.86" cy="512" r="1.15" fill="#00ffff"/><circle cx="398.29" cy="513.5" r="1.15" fill="#00ffff"/><circle cx="406.72" cy="514.5" r="1.15" fill="#00ffff"/><circle cx="415.15" cy="514.75" r="1.15" fill="#00ffff"/><circle cx="423.58" cy="515" r="1.15" fill="#00ffff"/><circle cx="432.01" cy="515.25" r="1.15" fill="#00ffff"/><circle cx="440.43" cy="515.5" r="1.15" fill="#00ffff"/><circle cx="448.86" cy="515.75" r="1.15" fill="#00ffff"/><circle cx="457.29" cy="516" r="1.15" fill="#00ffff"/><polyline points="347.72,482.8 356.15,516.3 364.58,518.5 373.01,519.1 381.44,519.6 389.86,520.1 398.29,520.4 406.72,520.8 415.15,520.87 423.58,520.93 432.01,521 440.43,521.07 448.86,521.13 457.29,521.2" stroke="#ff0000" stroke-width="0.55" stroke-opacity="0.9"/><circle cx="347.72" cy="482.8" r="1.15" fill="#ff0000"/><circle cx="356.15" cy="516.3" r="1.15" fill="#ff0000"/><circle cx="364.58" cy="518.5" r="1.15" fill="#ff0000"/><circle cx="373.01" cy="519.1" r="1.15" fill="#ff0000"/><circle cx="381.44" cy="519.6" r="1.15" fill="#ff0000"/><circle cx="389.86" cy="520.1" r="1.15" fill="#ff0000"/><circle cx="398.29" cy="520.4" r="1.15" fill="#ff0000"/><circle cx="406.72" cy="520.8" r="1.15" fill="#ff0000"/><circle cx="415.15" cy="520.87" r="1.15" fill="#ff0000"/><circle cx="423.58" cy="520.93" r="1.15" fill="#ff0000"/><circle cx="432.01" cy="521" r="1.15" fill="#ff0000"/><circle cx="440.43" cy="521.07" r="1.15" fill="#ff0000"/><circle cx="448.86" cy="521.13" r="1.15" fill="#ff0000"/><circle cx="457.29" cy="521.2" r="1.15" fill="#ff0000"/></g><rect x="347.5" y="444.4" width="110.9" height="87.4" fill="none" stroke="#3a3a3a" stroke-width="0.55"/><rect x="429.4" y="446.8" width="26.5" height="59.8" fill="#fff" stroke="#999" stroke-width="0.45"/><line x1="430.2" y1="449.7" x2="440.7" y2="449.7" stroke="#0000ff" stroke-width="0.5"/><text x="441.8" y="450.75" font-size="3.0" fill="#666666" class="t">SSA</text><line x1="430.2" y1="453.92" x2="440.7" y2="453.92" stroke="#00ff00" stroke-width="0.5"/><path d="M433.85 453.92l1.55 -1.24l1.55 1.24l-1.55 1.24z" fill="#00ff00"/><text x="441.8" y="454.97" font-size="3.0" fill="#666666" class="t">GWO</text><line x1="430.2" y1="458.14" x2="440.7" y2="458.14" stroke="#505060" stroke-width="0.5"/><text x="441.8" y="459.19" font-size="3.0" fill="#666666" class="t">WOA</text><line x1="430.2" y1="462.36" x2="440.7" y2="462.36" stroke="#ff00ff" stroke-width="0.5" stroke-opacity="0.6"/><circle cx="435.4" cy="462.36" r="1.15" fill="#ff00ff"/><text x="441.8" y="463.41" font-size="3.0" fill="#666666" class="t">PSO</text><line x1="430.2" y1="466.58" x2="440.7" y2="466.58" stroke="#00ffff" stroke-width="0.5" stroke-opacity="0.6"/><circle cx="435.4" cy="466.58" r="1.15" fill="#00ffff"/><text x="441.8" y="467.63" font-size="3.0" fill="#666666" class="t">ABC</text><line x1="430.2" y1="470.8" x2="440.7" y2="470.8" stroke="#000000" stroke-width="0.5"/><circle cx="435.4" cy="470.8" r="0.98" fill="#000000"/><text x="441.8" y="471.85" font-size="3.0" fill="#666666" class="t">FA</text><line x1="430.2" y1="475.02" x2="440.7" y2="475.02" stroke="#ffff00" stroke-width="0.5" stroke-opacity="0.6"/><text x="441.8" y="476.07" font-size="3.0" fill="#666666" class="t">QMEISSA</text><line x1="430.2" y1="479.24" x2="440.7" y2="479.24" stroke="#0000ff" stroke-width="0.5" stroke-opacity="0.6"/><circle cx="435.4" cy="479.24" r="1.15" fill="#0000ff"/><text x="441.8" y="480.29" font-size="3.0" fill="#666666" class="t">LSSA</text><line x1="430.2" y1="483.46" x2="440.7" y2="483.46" stroke="#00ff00" stroke-width="0.5" stroke-opacity="0.6"/><circle cx="435.4" cy="483.46" r="1.15" fill="#00ff00"/><text x="441.8" y="484.51" font-size="3.0" fill="#666666" class="t">AGWO</text><line x1="430.2" y1="487.68" x2="440.7" y2="487.68" stroke="#ff0000" stroke-width="0.5"/><text x="441.8" y="488.73" font-size="3.0" fill="#666666" class="t">IWOA</text><line x1="430.2" y1="491.9" x2="440.7" y2="491.9" stroke="#ff00ff" stroke-width="0.5" stroke-opacity="0.6"/><circle cx="435.4" cy="491.9" r="1.15" fill="#ff00ff"/><text x="441.8" y="492.95" font-size="3.0" fill="#666666" class="t">VPPSO</text><line x1="430.2" y1="496.12" x2="440.7" y2="496.12" stroke="#ffff00" stroke-width="0.5" stroke-opacity="0.6"/><circle cx="435.4" cy="496.12" r="1.15" fill="#ffff00"/><text x="441.8" y="497.17" font-size="3.0" fill="#666666" class="t">NABC</text><line x1="430.2" y1="500.34" x2="440.7" y2="500.34" stroke="#00ffff" stroke-width="0.5" stroke-opacity="0.6"/><circle cx="435.4" cy="500.34" r="1.15" fill="#00ffff"/><text x="441.8" y="501.39" font-size="3.0" fill="#666666" class="t">MSEFA</text><line x1="430.2" y1="504.56" x2="440.7" y2="504.56" stroke="#ff0000" stroke-width="0.5"/><circle cx="435.4" cy="504.56" r="1.15" fill="#ff0000"/><text x="441.8" y="505.61" font-size="3.0" fill="#666666" class="t">MSESSA</text></g>
</g>
</svg></body></html>
